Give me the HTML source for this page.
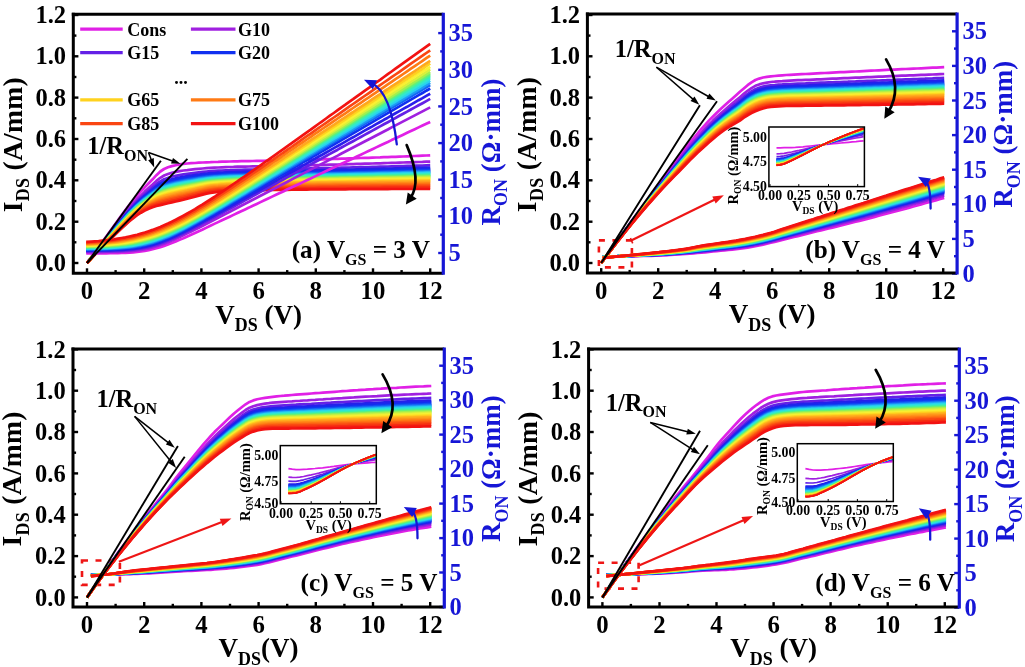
<!DOCTYPE html>
<html lang="en"><head><meta charset="utf-8"><title>Figure</title>
<style>html,body{margin:0;padding:0;background:#fff}svg{display:block;filter:blur(0.45px)}</style></head>
<body>
<svg width="1025" height="667" viewBox="0 0 1025 667">
<rect width="1025" height="667" fill="#fff"/>
<polyline fill="none" stroke="#e020e6" stroke-width="2.7" stroke-linejoin="round" points="87,263 90.9,257.7 94.7,252.4 98.6,247.2 102.4,241.9 106.3,236.6 110.1,231.3 114,225.9 117.8,220.5 121.7,215 125.6,209.8 129.4,204.8 133.3,200.2 137.1,195.7 141,191.4 144.8,187.3 148.7,183.3 152.6,179.3 156.4,175.2 160.3,171.5 164.1,169 168,167.3 171.8,166.1 175.7,165.2 179.5,164.4 183.4,163.9 187.3,163.5 191.1,163.2 195,163 198.8,162.7 202.7,162.5 206.5,162.3 210.4,162.2 214.3,162 218.1,161.9 222,161.7 225.8,161.6 229.7,161.5 233.5,161.4 237.4,161.3 241.2,161.2 245.1,161.1 249,161.1 252.8,161 256.7,160.9 260.5,160.9 264.4,160.8 268.2,160.7 272.1,160.6 276,160.5 279.8,160.5 283.7,160.4 287.5,160.3 291.4,160.2 295.2,160.1 299.1,160 302.9,159.8 306.8,159.7 310.7,159.6 314.5,159.5 318.4,159.4 322.2,159.3 326.1,159.2 329.9,159.1 333.8,158.9 337.7,158.8 341.5,158.7 345.4,158.6 349.2,158.4 353.1,158.3 356.9,158.2 360.8,158 364.6,157.9 368.5,157.8 372.4,157.6 376.2,157.5 380.1,157.4 383.9,157.2 387.8,157.1 391.6,156.9 395.5,156.8 399.4,156.6 403.2,156.5 407.1,156.3 410.9,156.1 414.8,156 418.6,155.8 422.5,155.6 426.3,155.5 430.2,155.3"/>
<polyline fill="none" stroke="#a020e0" stroke-width="2.7" stroke-linejoin="round" points="87,263 90.9,257.9 94.7,252.9 98.6,247.8 102.4,242.8 106.3,237.8 110.1,232.8 114,227.8 117.8,222.6 121.7,217.5 125.6,212.6 129.4,207.9 133.3,203.5 137.1,199.3 141,195.4 144.8,191.6 148.7,188 152.6,184.5 156.4,180.9 160.3,177.8 164.1,175.5 168,174 171.8,172.8 175.7,171.9 179.5,171.2 183.4,170.5 187.3,170.1 191.1,169.6 195,169.2 198.8,168.8 202.7,168.5 206.5,168.2 210.4,167.9 214.3,167.6 218.1,167.5 222,167.3 225.8,167.1 229.7,167 233.5,166.9 237.4,166.7 241.2,166.7 245.1,166.6 249,166.5 252.8,166.4 256.7,166.4 260.5,166.3 264.4,166.2 268.2,166.2 272.1,166.1 276,166 279.8,165.9 283.7,165.8 287.5,165.8 291.4,165.7 295.2,165.6 299.1,165.5 302.9,165.4 306.8,165.3 310.7,165.2 314.5,165.1 318.4,165 322.2,164.9 326.1,164.8 329.9,164.7 333.8,164.6 337.7,164.5 341.5,164.4 345.4,164.3 349.2,164.2 353.1,164.1 356.9,163.9 360.8,163.8 364.6,163.7 368.5,163.6 372.4,163.5 376.2,163.4 380.1,163.3 383.9,163.1 387.8,163 391.6,162.9 395.5,162.8 399.4,162.6 403.2,162.5 407.1,162.4 410.9,162.3 414.8,162.1 418.6,162 422.5,161.9 426.3,161.7 430.2,161.6"/>
<polyline fill="none" stroke="#6420e6" stroke-width="2.7" stroke-linejoin="round" points="87,263 90.9,258.1 94.7,253.1 98.6,248.2 102.4,243.4 106.3,238.5 110.1,233.7 114,228.8 117.8,223.9 121.7,219 125.6,214.2 129.4,209.7 133.3,205.4 137.1,201.4 141,197.7 144.8,194.2 148.7,190.8 152.6,187.5 156.4,184.2 160.3,181.4 164.1,179.3 168,177.9 171.8,176.7 175.7,175.8 179.5,175.1 183.4,174.4 187.3,173.9 191.1,173.4 195,172.9 198.8,172.4 202.7,171.9 206.5,171.5 210.4,171.2 214.3,170.9 218.1,170.7 222,170.5 225.8,170.3 229.7,170.2 233.5,170 237.4,169.9 241.2,169.8 245.1,169.7 249,169.7 252.8,169.6 256.7,169.5 260.5,169.5 264.4,169.4 268.2,169.3 272.1,169.3 276,169.2 279.8,169.1 283.7,169 287.5,168.9 291.4,168.9 295.2,168.8 299.1,168.7 302.9,168.6 306.8,168.5 310.7,168.4 314.5,168.3 318.4,168.2 322.2,168.2 326.1,168.1 329.9,168 333.8,167.9 337.7,167.8 341.5,167.7 345.4,167.6 349.2,167.5 353.1,167.4 356.9,167.3 360.8,167.2 364.6,167.1 368.5,167 372.4,166.9 376.2,166.8 380.1,166.7 383.9,166.6 387.8,166.5 391.6,166.4 395.5,166.3 399.4,166.1 403.2,166 407.1,165.9 410.9,165.8 414.8,165.7 418.6,165.6 422.5,165.5 426.3,165.3 430.2,165.2"/>
<polyline fill="none" stroke="#2a1eea" stroke-width="2.7" stroke-linejoin="round" points="87,263 90.9,258.1 94.7,253.3 98.6,248.5 102.4,243.7 106.3,239 110.1,234.3 114,229.5 117.8,224.7 121.7,219.8 125.6,215.2 129.4,210.8 133.3,206.6 137.1,202.7 141,199.1 144.8,195.7 148.7,192.5 152.6,189.4 156.4,186.3 160.3,183.6 164.1,181.7 168,180.3 171.8,179.2 175.7,178.3 179.5,177.5 183.4,176.8 187.3,176.2 191.1,175.7 195,175.1 198.8,174.6 202.7,174.1 206.5,173.6 210.4,173.2 214.3,173 218.1,172.7 222,172.5 225.8,172.3 229.7,172.1 233.5,172 237.4,171.9 241.2,171.8 245.1,171.7 249,171.6 252.8,171.6 256.7,171.5 260.5,171.4 264.4,171.4 268.2,171.3 272.1,171.2 276,171.2 279.8,171.1 283.7,171 287.5,170.9 291.4,170.8 295.2,170.8 299.1,170.7 302.9,170.6 306.8,170.5 310.7,170.4 314.5,170.3 318.4,170.3 322.2,170.2 326.1,170.1 329.9,170 333.8,169.9 337.7,169.8 341.5,169.7 345.4,169.6 349.2,169.6 353.1,169.5 356.9,169.4 360.8,169.3 364.6,169.2 368.5,169.1 372.4,169 376.2,168.9 380.1,168.8 383.9,168.7 387.8,168.6 391.6,168.5 395.5,168.4 399.4,168.3 403.2,168.2 407.1,168.1 410.9,168 414.8,167.9 418.6,167.8 422.5,167.7 426.3,167.6 430.2,167.5"/>
<polyline fill="none" stroke="#1d27ed" stroke-width="2.7" stroke-linejoin="round" points="87,263 90.9,258.2 94.7,253.4 98.6,248.6 102.4,243.9 106.3,239.2 110.1,234.5 114,229.8 117.8,225 121.7,220.3 125.6,215.7 129.4,211.3 133.3,207.2 137.1,203.4 141,199.8 144.8,196.5 148.7,193.3 152.6,190.3 156.4,187.3 160.3,184.8 164.1,182.9 168,181.5 171.8,180.4 175.7,179.5 179.5,178.7 183.4,178 187.3,177.4 191.1,176.8 195,176.3 198.8,175.7 202.7,175.2 206.5,174.7 210.4,174.3 214.3,174 218.1,173.7 222,173.5 225.8,173.3 229.7,173.1 233.5,173 237.4,172.8 241.2,172.8 245.1,172.7 249,172.6 252.8,172.5 256.7,172.5 260.5,172.4 264.4,172.4 268.2,172.3 272.1,172.2 276,172.1 279.8,172.1 283.7,172 287.5,171.9 291.4,171.8 295.2,171.8 299.1,171.7 302.9,171.6 306.8,171.5 310.7,171.4 314.5,171.3 318.4,171.3 322.2,171.2 326.1,171.1 329.9,171 333.8,170.9 337.7,170.8 341.5,170.8 345.4,170.7 349.2,170.6 353.1,170.5 356.9,170.4 360.8,170.3 364.6,170.2 368.5,170.1 372.4,170.1 376.2,170 380.1,169.9 383.9,169.8 387.8,169.7 391.6,169.6 395.5,169.5 399.4,169.4 403.2,169.3 407.1,169.2 410.9,169.1 414.8,169 418.6,168.9 422.5,168.8 426.3,168.7 430.2,168.6"/>
<polyline fill="none" stroke="#1030f0" stroke-width="2.7" stroke-linejoin="round" points="87,263 90.9,258.2 94.7,253.4 98.6,248.7 102.4,244 106.3,239.4 110.1,234.8 114,230.2 117.8,225.4 121.7,220.7 125.6,216.2 129.4,211.9 133.3,207.8 137.1,204.1 141,200.5 144.8,197.3 148.7,194.2 152.6,191.2 156.4,188.4 160.3,185.9 164.1,184.1 168,182.7 171.8,181.6 175.7,180.7 179.5,179.9 183.4,179.2 187.3,178.6 191.1,178 195,177.4 198.8,176.8 202.7,176.2 206.5,175.7 210.4,175.3 214.3,175 218.1,174.7 222,174.5 225.8,174.3 229.7,174.1 233.5,173.9 237.4,173.8 241.2,173.7 245.1,173.7 249,173.6 252.8,173.5 256.7,173.5 260.5,173.4 264.4,173.3 268.2,173.3 272.1,173.2 276,173.1 279.8,173.1 283.7,173 287.5,172.9 291.4,172.8 295.2,172.7 299.1,172.7 302.9,172.6 306.8,172.5 310.7,172.4 314.5,172.4 318.4,172.3 322.2,172.2 326.1,172.1 329.9,172 333.8,171.9 337.7,171.9 341.5,171.8 345.4,171.7 349.2,171.6 353.1,171.5 356.9,171.5 360.8,171.4 364.6,171.3 368.5,171.2 372.4,171.1 376.2,171 380.1,170.9 383.9,170.8 387.8,170.8 391.6,170.7 395.5,170.6 399.4,170.5 403.2,170.4 407.1,170.3 410.9,170.2 414.8,170.1 418.6,170 422.5,169.9 426.3,169.8 430.2,169.7"/>
<polyline fill="none" stroke="#124af2" stroke-width="2.7" stroke-linejoin="round" points="87,263 90.9,258.2 94.7,253.5 98.6,248.8 102.4,244.1 106.3,239.5 110.1,235 114,230.4 117.8,225.7 121.7,221 125.6,216.5 129.4,212.2 133.3,208.2 137.1,204.5 141,201 144.8,197.8 148.7,194.7 152.6,191.8 156.4,189 160.3,186.6 164.1,184.8 168,183.5 171.8,182.4 175.7,181.5 179.5,180.7 183.4,180 187.3,179.4 191.1,178.7 195,178.1 198.8,177.5 202.7,176.9 206.5,176.4 210.4,176 214.3,175.6 218.1,175.4 222,175.1 225.8,174.9 229.7,174.7 233.5,174.6 237.4,174.5 241.2,174.4 245.1,174.3 249,174.2 252.8,174.2 256.7,174.1 260.5,174 264.4,174 268.2,173.9 272.1,173.8 276,173.8 279.8,173.7 283.7,173.6 287.5,173.5 291.4,173.5 295.2,173.4 299.1,173.3 302.9,173.2 306.8,173.2 310.7,173.1 314.5,173 318.4,172.9 322.2,172.8 326.1,172.8 329.9,172.7 333.8,172.6 337.7,172.5 341.5,172.4 345.4,172.4 349.2,172.3 353.1,172.2 356.9,172.1 360.8,172 364.6,172 368.5,171.9 372.4,171.8 376.2,171.7 380.1,171.6 383.9,171.5 387.8,171.4 391.6,171.4 395.5,171.3 399.4,171.2 403.2,171.1 407.1,171 410.9,170.9 414.8,170.8 418.6,170.7 422.5,170.6 426.3,170.5 430.2,170.5"/>
<polyline fill="none" stroke="#1464f5" stroke-width="2.7" stroke-linejoin="round" points="87,263 90.9,258.3 94.7,253.6 98.6,248.9 102.4,244.3 106.3,239.7 110.1,235.2 114,230.6 117.8,225.9 121.7,221.3 125.6,216.8 129.4,212.6 133.3,208.6 137.1,204.9 141,201.5 144.8,198.3 148.7,195.3 152.6,192.4 156.4,189.7 160.3,187.3 164.1,185.6 168,184.3 171.8,183.2 175.7,182.3 179.5,181.5 183.4,180.7 187.3,180.1 191.1,179.5 195,178.8 198.8,178.2 202.7,177.6 206.5,177.1 210.4,176.6 214.3,176.3 218.1,176 222,175.8 225.8,175.6 229.7,175.4 233.5,175.2 237.4,175.1 241.2,175 245.1,174.9 249,174.9 252.8,174.8 256.7,174.7 260.5,174.7 264.4,174.6 268.2,174.5 272.1,174.5 276,174.4 279.8,174.3 283.7,174.2 287.5,174.2 291.4,174.1 295.2,174 299.1,173.9 302.9,173.9 306.8,173.8 310.7,173.7 314.5,173.6 318.4,173.6 322.2,173.5 326.1,173.4 329.9,173.3 333.8,173.3 337.7,173.2 341.5,173.1 345.4,173 349.2,172.9 353.1,172.9 356.9,172.8 360.8,172.7 364.6,172.6 368.5,172.5 372.4,172.5 376.2,172.4 380.1,172.3 383.9,172.2 387.8,172.1 391.6,172 395.5,172 399.4,171.9 403.2,171.8 407.1,171.7 410.9,171.6 414.8,171.5 418.6,171.4 422.5,171.4 426.3,171.3 430.2,171.2"/>
<polyline fill="none" stroke="#197ff5" stroke-width="2.7" stroke-linejoin="round" points="87,263 90.9,258.3 94.7,253.6 98.6,248.9 102.4,244.3 106.3,239.8 110.1,235.3 114,230.7 117.8,226.1 121.7,221.5 125.6,217 129.4,212.8 133.3,208.9 137.1,205.2 141,201.8 144.8,198.6 148.7,195.6 152.6,192.8 156.4,190.1 160.3,187.8 164.1,186.1 168,184.8 171.8,183.7 175.7,182.8 179.5,182 183.4,181.3 187.3,180.6 191.1,180 195,179.3 198.8,178.7 202.7,178.1 206.5,177.5 210.4,177.1 214.3,176.7 218.1,176.5 222,176.2 225.8,176 229.7,175.8 233.5,175.6 237.4,175.5 241.2,175.4 245.1,175.4 249,175.3 252.8,175.2 256.7,175.1 260.5,175.1 264.4,175 268.2,175 272.1,174.9 276,174.8 279.8,174.7 283.7,174.7 287.5,174.6 291.4,174.5 295.2,174.4 299.1,174.4 302.9,174.3 306.8,174.2 310.7,174.1 314.5,174.1 318.4,174 322.2,173.9 326.1,173.8 329.9,173.8 333.8,173.7 337.7,173.6 341.5,173.5 345.4,173.5 349.2,173.4 353.1,173.3 356.9,173.2 360.8,173.2 364.6,173.1 368.5,173 372.4,172.9 376.2,172.8 380.1,172.8 383.9,172.7 387.8,172.6 391.6,172.5 395.5,172.4 399.4,172.3 403.2,172.3 407.1,172.2 410.9,172.1 414.8,172 418.6,171.9 422.5,171.8 426.3,171.8 430.2,171.7"/>
<polyline fill="none" stroke="#1e9af5" stroke-width="2.7" stroke-linejoin="round" points="87,263 90.9,258.3 94.7,253.6 98.6,249 102.4,244.4 106.3,239.9 110.1,235.4 114,230.9 117.8,226.3 121.7,221.7 125.6,217.3 129.4,213 133.3,209.1 137.1,205.5 141,202.1 144.8,198.9 148.7,196 152.6,193.2 156.4,190.6 160.3,188.3 164.1,186.6 168,185.3 171.8,184.2 175.7,183.3 179.5,182.5 183.4,181.8 187.3,181.1 191.1,180.5 195,179.8 198.8,179.2 202.7,178.5 206.5,178 210.4,177.5 214.3,177.2 218.1,176.9 222,176.6 225.8,176.4 229.7,176.2 233.5,176.1 237.4,175.9 241.2,175.8 245.1,175.8 249,175.7 252.8,175.6 256.7,175.6 260.5,175.5 264.4,175.4 268.2,175.4 272.1,175.3 276,175.2 279.8,175.2 283.7,175.1 287.5,175 291.4,175 295.2,174.9 299.1,174.8 302.9,174.7 306.8,174.7 310.7,174.6 314.5,174.5 318.4,174.4 322.2,174.4 326.1,174.3 329.9,174.2 333.8,174.1 337.7,174.1 341.5,174 345.4,173.9 349.2,173.8 353.1,173.8 356.9,173.7 360.8,173.6 364.6,173.5 368.5,173.5 372.4,173.4 376.2,173.3 380.1,173.2 383.9,173.1 387.8,173.1 391.6,173 395.5,172.9 399.4,172.8 403.2,172.7 407.1,172.7 410.9,172.6 414.8,172.5 418.6,172.4 422.5,172.3 426.3,172.2 430.2,172.2"/>
<polyline fill="none" stroke="#23b6f2" stroke-width="2.7" stroke-linejoin="round" points="87,263 90.9,258.3 94.7,253.7 98.6,249 102.4,244.5 106.3,240 110.1,235.5 114,231 117.8,226.4 121.7,221.9 125.6,217.5 129.4,213.3 133.3,209.4 137.1,205.7 141,202.4 144.8,199.3 148.7,196.4 152.6,193.6 156.4,191 160.3,188.8 164.1,187.1 168,185.8 171.8,184.8 175.7,183.8 179.5,183 183.4,182.3 187.3,181.6 191.1,181 195,180.3 198.8,179.6 202.7,179 206.5,178.4 210.4,178 214.3,177.6 218.1,177.3 222,177.1 225.8,176.9 229.7,176.7 233.5,176.5 237.4,176.4 241.2,176.3 245.1,176.2 249,176.1 252.8,176.1 256.7,176 260.5,175.9 264.4,175.9 268.2,175.8 272.1,175.7 276,175.7 279.8,175.6 283.7,175.5 287.5,175.5 291.4,175.4 295.2,175.3 299.1,175.2 302.9,175.2 306.8,175.1 310.7,175 314.5,174.9 318.4,174.9 322.2,174.8 326.1,174.7 329.9,174.7 333.8,174.6 337.7,174.5 341.5,174.4 345.4,174.4 349.2,174.3 353.1,174.2 356.9,174.1 360.8,174.1 364.6,174 368.5,173.9 372.4,173.8 376.2,173.8 380.1,173.7 383.9,173.6 387.8,173.5 391.6,173.4 395.5,173.4 399.4,173.3 403.2,173.2 407.1,173.1 410.9,173.1 414.8,173 418.6,172.9 422.5,172.8 426.3,172.7 430.2,172.6"/>
<polyline fill="none" stroke="#28d2f0" stroke-width="2.7" stroke-linejoin="round" points="87,263 90.9,258.3 94.7,253.7 98.6,249.1 102.4,244.6 106.3,240.1 110.1,235.6 114,231.2 117.8,226.6 121.7,222.1 125.6,217.7 129.4,213.5 133.3,209.6 137.1,206 141,202.7 144.8,199.6 148.7,196.8 152.6,194 156.4,191.5 160.3,189.3 164.1,187.6 168,186.4 171.8,185.3 175.7,184.4 179.5,183.5 183.4,182.8 187.3,182.2 191.1,181.5 195,180.8 198.8,180.1 202.7,179.5 206.5,178.9 210.4,178.4 214.3,178 218.1,177.8 222,177.5 225.8,177.3 229.7,177.1 233.5,176.9 237.4,176.8 241.2,176.7 245.1,176.6 249,176.6 252.8,176.5 256.7,176.4 260.5,176.4 264.4,176.3 268.2,176.2 272.1,176.2 276,176.1 279.8,176 283.7,176 287.5,175.9 291.4,175.8 295.2,175.7 299.1,175.7 302.9,175.6 306.8,175.5 310.7,175.5 314.5,175.4 318.4,175.3 322.2,175.2 326.1,175.2 329.9,175.1 333.8,175 337.7,174.9 341.5,174.9 345.4,174.8 349.2,174.7 353.1,174.7 356.9,174.6 360.8,174.5 364.6,174.4 368.5,174.4 372.4,174.3 376.2,174.2 380.1,174.1 383.9,174.1 387.8,174 391.6,173.9 395.5,173.8 399.4,173.8 403.2,173.7 407.1,173.6 410.9,173.5 414.8,173.5 418.6,173.4 422.5,173.3 426.3,173.2 430.2,173.1"/>
<polyline fill="none" stroke="#2ddce1" stroke-width="2.7" stroke-linejoin="round" points="87,263 90.9,258.3 94.7,253.7 98.6,249.2 102.4,244.6 106.3,240.2 110.1,235.8 114,231.3 117.8,226.8 121.7,222.3 125.6,217.9 129.4,213.8 133.3,209.9 137.1,206.3 141,203 144.8,200 148.7,197.1 152.6,194.5 156.4,191.9 160.3,189.8 164.1,188.2 168,186.9 171.8,185.8 175.7,184.9 179.5,184.1 183.4,183.4 187.3,182.7 191.1,182 195,181.3 198.8,180.6 202.7,180 206.5,179.4 210.4,178.9 214.3,178.5 218.1,178.2 222,178 225.8,177.7 229.7,177.5 233.5,177.4 237.4,177.2 241.2,177.2 245.1,177.1 249,177 252.8,176.9 256.7,176.9 260.5,176.8 264.4,176.8 268.2,176.7 272.1,176.6 276,176.6 279.8,176.5 283.7,176.4 287.5,176.3 291.4,176.3 295.2,176.2 299.1,176.1 302.9,176.1 306.8,176 310.7,175.9 314.5,175.8 318.4,175.8 322.2,175.7 326.1,175.6 329.9,175.6 333.8,175.5 337.7,175.4 341.5,175.3 345.4,175.3 349.2,175.2 353.1,175.1 356.9,175.1 360.8,175 364.6,174.9 368.5,174.8 372.4,174.8 376.2,174.7 380.1,174.6 383.9,174.6 387.8,174.5 391.6,174.4 395.5,174.3 399.4,174.3 403.2,174.2 407.1,174.1 410.9,174 414.8,174 418.6,173.9 422.5,173.8 426.3,173.7 430.2,173.7"/>
<polyline fill="none" stroke="#32e6d2" stroke-width="2.7" stroke-linejoin="round" points="87,263 90.9,258.4 94.7,253.8 98.6,249.2 102.4,244.7 106.3,240.3 110.1,235.9 114,231.5 117.8,227 121.7,222.5 125.6,218.2 129.4,214 133.3,210.2 137.1,206.6 141,203.4 144.8,200.3 148.7,197.5 152.6,194.9 156.4,192.4 160.3,190.3 164.1,188.7 168,187.5 171.8,186.4 175.7,185.5 179.5,184.7 183.4,183.9 187.3,183.2 191.1,182.6 195,181.8 198.8,181.1 202.7,180.5 206.5,179.9 210.4,179.4 214.3,179 218.1,178.7 222,178.4 225.8,178.2 229.7,178 233.5,177.8 237.4,177.7 241.2,177.6 245.1,177.5 249,177.5 252.8,177.4 256.7,177.3 260.5,177.3 264.4,177.2 268.2,177.1 272.1,177.1 276,177 279.8,176.9 283.7,176.9 287.5,176.8 291.4,176.7 295.2,176.7 299.1,176.6 302.9,176.5 306.8,176.4 310.7,176.4 314.5,176.3 318.4,176.2 322.2,176.2 326.1,176.1 329.9,176 333.8,176 337.7,175.9 341.5,175.8 345.4,175.8 349.2,175.7 353.1,175.6 356.9,175.5 360.8,175.5 364.6,175.4 368.5,175.3 372.4,175.3 376.2,175.2 380.1,175.1 383.9,175.1 387.8,175 391.6,174.9 395.5,174.8 399.4,174.8 403.2,174.7 407.1,174.6 410.9,174.5 414.8,174.5 418.6,174.4 422.5,174.3 426.3,174.3 430.2,174.2"/>
<polyline fill="none" stroke="#37ebbe" stroke-width="2.7" stroke-linejoin="round" points="87,263 90.9,258.4 94.7,253.8 98.6,249.3 102.4,244.8 106.3,240.4 110.1,236 114,231.6 117.8,227.1 121.7,222.7 125.6,218.4 129.4,214.3 133.3,210.4 137.1,206.9 141,203.7 144.8,200.7 148.7,197.9 152.6,195.3 156.4,192.9 160.3,190.8 164.1,189.2 168,188 171.8,186.9 175.7,186 179.5,185.2 183.4,184.4 187.3,183.7 191.1,183 195,182.3 198.8,181.6 202.7,180.9 206.5,180.3 210.4,179.8 214.3,179.4 218.1,179.1 222,178.9 225.8,178.6 229.7,178.4 233.5,178.2 237.4,178.1 241.2,178 245.1,177.9 249,177.9 252.8,177.8 256.7,177.7 260.5,177.7 264.4,177.6 268.2,177.6 272.1,177.5 276,177.4 279.8,177.3 283.7,177.3 287.5,177.2 291.4,177.1 295.2,177.1 299.1,177 302.9,176.9 306.8,176.9 310.7,176.8 314.5,176.7 318.4,176.7 322.2,176.6 326.1,176.5 329.9,176.5 333.8,176.4 337.7,176.3 341.5,176.3 345.4,176.2 349.2,176.1 353.1,176 356.9,176 360.8,175.9 364.6,175.8 368.5,175.8 372.4,175.7 376.2,175.6 380.1,175.6 383.9,175.5 387.8,175.4 391.6,175.4 395.5,175.3 399.4,175.2 403.2,175.1 407.1,175.1 410.9,175 414.8,174.9 418.6,174.9 422.5,174.8 426.3,174.7 430.2,174.6"/>
<polyline fill="none" stroke="#3cf0aa" stroke-width="2.7" stroke-linejoin="round" points="87,263 90.9,258.4 94.7,253.8 98.6,249.3 102.4,244.8 106.3,240.4 110.1,236.1 114,231.7 117.8,227.3 121.7,222.9 125.6,218.6 129.4,214.5 133.3,210.7 137.1,207.2 141,204 144.8,201 148.7,198.2 152.6,195.7 156.4,193.3 160.3,191.2 164.1,189.7 168,188.5 171.8,187.4 175.7,186.5 179.5,185.7 183.4,184.9 187.3,184.2 191.1,183.5 195,182.8 198.8,182.1 202.7,181.4 206.5,180.7 210.4,180.2 214.3,179.8 218.1,179.5 222,179.3 225.8,179 229.7,178.8 233.5,178.6 237.4,178.5 241.2,178.4 245.1,178.4 249,178.3 252.8,178.2 256.7,178.2 260.5,178.1 264.4,178 268.2,178 272.1,177.9 276,177.8 279.8,177.8 283.7,177.7 287.5,177.6 291.4,177.6 295.2,177.5 299.1,177.4 302.9,177.4 306.8,177.3 310.7,177.2 314.5,177.1 318.4,177.1 322.2,177 326.1,176.9 329.9,176.9 333.8,176.8 337.7,176.7 341.5,176.7 345.4,176.6 349.2,176.5 353.1,176.5 356.9,176.4 360.8,176.3 364.6,176.3 368.5,176.2 372.4,176.1 376.2,176.1 380.1,176 383.9,175.9 387.8,175.9 391.6,175.8 395.5,175.7 399.4,175.7 403.2,175.6 407.1,175.5 410.9,175.5 414.8,175.4 418.6,175.3 422.5,175.3 426.3,175.2 430.2,175.1"/>
<polyline fill="none" stroke="#50f091" stroke-width="2.7" stroke-linejoin="round" points="87,263 90.9,258.4 94.7,253.9 98.6,249.4 102.4,244.9 106.3,240.5 110.1,236.2 114,231.9 117.8,227.4 121.7,223 125.6,218.8 129.4,214.7 133.3,210.9 137.1,207.4 141,204.2 144.8,201.3 148.7,198.6 152.6,196 156.4,193.7 160.3,191.7 164.1,190.1 168,188.9 171.8,187.9 175.7,187 179.5,186.1 183.4,185.4 187.3,184.7 191.1,184 195,183.2 198.8,182.5 202.7,181.8 206.5,181.1 210.4,180.6 214.3,180.2 218.1,179.9 222,179.6 225.8,179.4 229.7,179.2 233.5,179 237.4,178.9 241.2,178.8 245.1,178.7 249,178.6 252.8,178.6 256.7,178.5 260.5,178.5 264.4,178.4 268.2,178.3 272.1,178.3 276,178.2 279.8,178.1 283.7,178.1 287.5,178 291.4,177.9 295.2,177.9 299.1,177.8 302.9,177.7 306.8,177.7 310.7,177.6 314.5,177.5 318.4,177.5 322.2,177.4 326.1,177.3 329.9,177.3 333.8,177.2 337.7,177.1 341.5,177.1 345.4,177 349.2,176.9 353.1,176.9 356.9,176.8 360.8,176.7 364.6,176.7 368.5,176.6 372.4,176.5 376.2,176.5 380.1,176.4 383.9,176.3 387.8,176.3 391.6,176.2 395.5,176.1 399.4,176.1 403.2,176 407.1,175.9 410.9,175.9 414.8,175.8 418.6,175.7 422.5,175.7 426.3,175.6 430.2,175.5"/>
<polyline fill="none" stroke="#64f078" stroke-width="2.7" stroke-linejoin="round" points="87,263 90.9,258.4 94.7,253.9 98.6,249.4 102.4,245 106.3,240.6 110.1,236.3 114,232 117.8,227.6 121.7,223.2 125.6,218.9 129.4,214.9 133.3,211.1 137.1,207.7 141,204.5 144.8,201.6 148.7,198.9 152.6,196.4 156.4,194.1 160.3,192.1 164.1,190.6 168,189.4 171.8,188.3 175.7,187.4 179.5,186.6 183.4,185.8 187.3,185.1 191.1,184.4 195,183.6 198.8,182.9 202.7,182.2 206.5,181.5 210.4,181 214.3,180.6 218.1,180.3 222,180 225.8,179.8 229.7,179.6 233.5,179.4 237.4,179.2 241.2,179.2 245.1,179.1 249,179 252.8,178.9 256.7,178.9 260.5,178.8 264.4,178.8 268.2,178.7 272.1,178.6 276,178.6 279.8,178.5 283.7,178.4 287.5,178.4 291.4,178.3 295.2,178.2 299.1,178.2 302.9,178.1 306.8,178 310.7,178 314.5,177.9 318.4,177.8 322.2,177.8 326.1,177.7 329.9,177.6 333.8,177.6 337.7,177.5 341.5,177.4 345.4,177.4 349.2,177.3 353.1,177.3 356.9,177.2 360.8,177.1 364.6,177.1 368.5,177 372.4,176.9 376.2,176.9 380.1,176.8 383.9,176.7 387.8,176.7 391.6,176.6 395.5,176.5 399.4,176.5 403.2,176.4 407.1,176.4 410.9,176.3 414.8,176.2 418.6,176.2 422.5,176.1 426.3,176 430.2,176"/>
<polyline fill="none" stroke="#82f064" stroke-width="2.7" stroke-linejoin="round" points="87,263 90.9,258.4 94.7,253.9 98.6,249.4 102.4,245 106.3,240.7 110.1,236.4 114,232.1 117.8,227.7 121.7,223.4 125.6,219.1 129.4,215.1 133.3,211.4 137.1,207.9 141,204.8 144.8,201.9 148.7,199.2 152.6,196.7 156.4,194.5 160.3,192.5 164.1,191 168,189.8 171.8,188.8 175.7,187.9 179.5,187.1 183.4,186.3 187.3,185.6 191.1,184.8 195,184.1 198.8,183.3 202.7,182.6 206.5,181.9 210.4,181.4 214.3,181 218.1,180.7 222,180.4 225.8,180.1 229.7,179.9 233.5,179.8 237.4,179.6 241.2,179.5 245.1,179.5 249,179.4 252.8,179.3 256.7,179.3 260.5,179.2 264.4,179.1 268.2,179.1 272.1,179 276,178.9 279.8,178.9 283.7,178.8 287.5,178.7 291.4,178.7 295.2,178.6 299.1,178.5 302.9,178.5 306.8,178.4 310.7,178.4 314.5,178.3 318.4,178.2 322.2,178.2 326.1,178.1 329.9,178 333.8,178 337.7,177.9 341.5,177.8 345.4,177.8 349.2,177.7 353.1,177.7 356.9,177.6 360.8,177.5 364.6,177.5 368.5,177.4 372.4,177.3 376.2,177.3 380.1,177.2 383.9,177.2 387.8,177.1 391.6,177 395.5,177 399.4,176.9 403.2,176.8 407.1,176.8 410.9,176.7 414.8,176.7 418.6,176.6 422.5,176.5 426.3,176.5 430.2,176.4"/>
<polyline fill="none" stroke="#a0f050" stroke-width="2.7" stroke-linejoin="round" points="87,263 90.9,258.4 94.7,253.9 98.6,249.5 102.4,245.1 106.3,240.8 110.1,236.5 114,232.2 117.8,227.9 121.7,223.5 125.6,219.3 129.4,215.3 133.3,211.6 137.1,208.2 141,205 144.8,202.2 148.7,199.5 152.6,197.1 156.4,194.9 160.3,193 164.1,191.5 168,190.3 171.8,189.3 175.7,188.4 179.5,187.5 183.4,186.7 187.3,186 191.1,185.3 195,184.5 198.8,183.7 202.7,183 206.5,182.3 210.4,181.8 214.3,181.4 218.1,181.1 222,180.8 225.8,180.5 229.7,180.3 233.5,180.1 237.4,180 241.2,179.9 245.1,179.8 249,179.8 252.8,179.7 256.7,179.6 260.5,179.6 264.4,179.5 268.2,179.5 272.1,179.4 276,179.3 279.8,179.3 283.7,179.2 287.5,179.1 291.4,179.1 295.2,179 299.1,178.9 302.9,178.9 306.8,178.8 310.7,178.7 314.5,178.7 318.4,178.6 322.2,178.6 326.1,178.5 329.9,178.4 333.8,178.4 337.7,178.3 341.5,178.2 345.4,178.2 349.2,178.1 353.1,178.1 356.9,178 360.8,177.9 364.6,177.9 368.5,177.8 372.4,177.8 376.2,177.7 380.1,177.6 383.9,177.6 387.8,177.5 391.6,177.4 395.5,177.4 399.4,177.3 403.2,177.3 407.1,177.2 410.9,177.1 414.8,177.1 418.6,177 422.5,177 426.3,176.9 430.2,176.8"/>
<polyline fill="none" stroke="#bcf046" stroke-width="2.7" stroke-linejoin="round" points="87,263 90.9,258.5 94.7,254 98.6,249.6 102.4,245.2 106.3,240.9 110.1,236.7 114,232.4 117.8,228.1 121.7,223.8 125.6,219.6 129.4,215.6 133.3,211.9 137.1,208.5 141,205.4 144.8,202.6 148.7,200 152.6,197.6 156.4,195.4 160.3,193.5 164.1,192.1 168,190.9 171.8,189.9 175.7,189 179.5,188.1 183.4,187.3 187.3,186.6 191.1,185.9 195,185.1 198.8,184.3 202.7,183.5 206.5,182.9 210.4,182.3 214.3,181.9 218.1,181.6 222,181.3 225.8,181 229.7,180.8 233.5,180.6 237.4,180.5 241.2,180.4 245.1,180.3 249,180.3 252.8,180.2 256.7,180.1 260.5,180.1 264.4,180 268.2,179.9 272.1,179.9 276,179.8 279.8,179.7 283.7,179.7 287.5,179.6 291.4,179.6 295.2,179.5 299.1,179.4 302.9,179.4 306.8,179.3 310.7,179.2 314.5,179.2 318.4,179.1 322.2,179 326.1,179 329.9,178.9 333.8,178.9 337.7,178.8 341.5,178.7 345.4,178.7 349.2,178.6 353.1,178.6 356.9,178.5 360.8,178.4 364.6,178.4 368.5,178.3 372.4,178.3 376.2,178.2 380.1,178.2 383.9,178.1 387.8,178 391.6,178 395.5,177.9 399.4,177.9 403.2,177.8 407.1,177.7 410.9,177.7 414.8,177.6 418.6,177.6 422.5,177.5 426.3,177.5 430.2,177.4"/>
<polyline fill="none" stroke="#d8f03c" stroke-width="2.7" stroke-linejoin="round" points="87,263 90.9,258.5 94.7,254 98.6,249.6 102.4,245.3 106.3,241 110.1,236.8 114,232.6 117.8,228.3 121.7,224 125.6,219.8 129.4,215.9 133.3,212.2 137.1,208.8 141,205.7 144.8,203 148.7,200.4 152.6,198 156.4,195.9 160.3,194.1 164.1,192.7 168,191.5 171.8,190.5 175.7,189.6 179.5,188.7 183.4,187.9 187.3,187.2 191.1,186.4 195,185.6 198.8,184.8 202.7,184.1 206.5,183.4 210.4,182.8 214.3,182.4 218.1,182.1 222,181.8 225.8,181.5 229.7,181.3 233.5,181.1 237.4,181 241.2,180.9 245.1,180.8 249,180.7 252.8,180.7 256.7,180.6 260.5,180.5 264.4,180.5 268.2,180.4 272.1,180.4 276,180.3 279.8,180.2 283.7,180.2 287.5,180.1 291.4,180 295.2,180 299.1,179.9 302.9,179.9 306.8,179.8 310.7,179.7 314.5,179.7 318.4,179.6 322.2,179.5 326.1,179.5 329.9,179.4 333.8,179.4 337.7,179.3 341.5,179.2 345.4,179.2 349.2,179.1 353.1,179.1 356.9,179 360.8,179 364.6,178.9 368.5,178.8 372.4,178.8 376.2,178.7 380.1,178.7 383.9,178.6 387.8,178.6 391.6,178.5 395.5,178.5 399.4,178.4 403.2,178.3 407.1,178.3 410.9,178.2 414.8,178.2 418.6,178.1 422.5,178.1 426.3,178 430.2,178"/>
<polyline fill="none" stroke="#e9f037" stroke-width="2.7" stroke-linejoin="round" points="87,263 90.9,258.5 94.7,254.1 98.6,249.7 102.4,245.4 106.3,241.1 110.1,236.9 114,232.7 117.8,228.5 121.7,224.2 125.6,220.1 129.4,216.2 133.3,212.5 137.1,209.1 141,206.1 144.8,203.3 148.7,200.8 152.6,198.5 156.4,196.4 160.3,194.6 164.1,193.2 168,192.1 171.8,191.1 175.7,190.2 179.5,189.3 183.4,188.5 187.3,187.8 191.1,187 195,186.2 198.8,185.4 202.7,184.6 206.5,183.9 210.4,183.3 214.3,182.9 218.1,182.6 222,182.3 225.8,182 229.7,181.8 233.5,181.6 237.4,181.5 241.2,181.4 245.1,181.3 249,181.2 252.8,181.2 256.7,181.1 260.5,181 264.4,181 268.2,180.9 272.1,180.9 276,180.8 279.8,180.7 283.7,180.7 287.5,180.6 291.4,180.5 295.2,180.5 299.1,180.4 302.9,180.4 306.8,180.3 310.7,180.2 314.5,180.2 318.4,180.1 322.2,180.1 326.1,180 329.9,179.9 333.8,179.9 337.7,179.8 341.5,179.8 345.4,179.7 349.2,179.7 353.1,179.6 356.9,179.5 360.8,179.5 364.6,179.4 368.5,179.4 372.4,179.3 376.2,179.3 380.1,179.2 383.9,179.2 387.8,179.1 391.6,179.1 395.5,179 399.4,178.9 403.2,178.9 407.1,178.8 410.9,178.8 414.8,178.7 418.6,178.7 422.5,178.6 426.3,178.6 430.2,178.5"/>
<polyline fill="none" stroke="#faf032" stroke-width="2.7" stroke-linejoin="round" points="87,263 90.9,258.5 94.7,254.1 98.6,249.7 102.4,245.4 106.3,241.2 110.1,237.1 114,232.9 117.8,228.7 121.7,224.4 125.6,220.3 129.4,216.4 133.3,212.8 137.1,209.5 141,206.5 144.8,203.7 148.7,201.2 152.6,199 156.4,196.9 160.3,195.2 164.1,193.8 168,192.7 171.8,191.7 175.7,190.8 179.5,189.9 183.4,189.1 187.3,188.4 191.1,187.6 195,186.8 198.8,185.9 202.7,185.1 206.5,184.4 210.4,183.8 214.3,183.4 218.1,183.1 222,182.8 225.8,182.5 229.7,182.3 233.5,182.1 237.4,182 241.2,181.9 245.1,181.8 249,181.7 252.8,181.7 256.7,181.6 260.5,181.5 264.4,181.5 268.2,181.4 272.1,181.4 276,181.3 279.8,181.2 283.7,181.2 287.5,181.1 291.4,181 295.2,181 299.1,180.9 302.9,180.9 306.8,180.8 310.7,180.7 314.5,180.7 318.4,180.6 322.2,180.6 326.1,180.5 329.9,180.5 333.8,180.4 337.7,180.3 341.5,180.3 345.4,180.2 349.2,180.2 353.1,180.1 356.9,180.1 360.8,180 364.6,180 368.5,179.9 372.4,179.9 376.2,179.8 380.1,179.8 383.9,179.7 387.8,179.7 391.6,179.6 395.5,179.5 399.4,179.5 403.2,179.4 407.1,179.4 410.9,179.3 414.8,179.3 418.6,179.2 422.5,179.2 426.3,179.1 430.2,179.1"/>
<polyline fill="none" stroke="#fce128" stroke-width="2.7" stroke-linejoin="round" points="87,263 90.9,258.5 94.7,254.2 98.6,249.8 102.4,245.5 106.3,241.3 110.1,237.2 114,233.1 117.8,228.9 121.7,224.7 125.6,220.6 129.4,216.8 133.3,213.2 137.1,209.9 141,206.9 144.8,204.2 148.7,201.7 152.6,199.5 156.4,197.5 160.3,195.9 164.1,194.5 168,193.4 171.8,192.4 175.7,191.5 179.5,190.6 183.4,189.8 187.3,189.1 191.1,188.3 195,187.4 198.8,186.6 202.7,185.8 206.5,185 210.4,184.4 214.3,184 218.1,183.7 222,183.4 225.8,183.1 229.7,182.9 233.5,182.7 237.4,182.5 241.2,182.4 245.1,182.4 249,182.3 252.8,182.2 256.7,182.2 260.5,182.1 264.4,182.1 268.2,182 272.1,181.9 276,181.9 279.8,181.8 283.7,181.7 287.5,181.7 291.4,181.6 295.2,181.6 299.1,181.5 302.9,181.4 306.8,181.4 310.7,181.3 314.5,181.3 318.4,181.2 322.2,181.2 326.1,181.1 329.9,181 333.8,181 337.7,180.9 341.5,180.9 345.4,180.8 349.2,180.8 353.1,180.7 356.9,180.7 360.8,180.6 364.6,180.6 368.5,180.5 372.4,180.5 376.2,180.4 380.1,180.4 383.9,180.3 387.8,180.3 391.6,180.2 395.5,180.2 399.4,180.1 403.2,180.1 407.1,180 410.9,180 414.8,179.9 418.6,179.9 422.5,179.8 426.3,179.8 430.2,179.8"/>
<polyline fill="none" stroke="#ffd21e" stroke-width="2.7" stroke-linejoin="round" points="87,263 90.9,258.6 94.7,254.2 98.6,249.9 102.4,245.6 106.3,241.5 110.1,237.4 114,233.3 117.8,229.1 121.7,225 125.6,220.9 129.4,217.1 133.3,213.5 137.1,210.2 141,207.3 144.8,204.7 148.7,202.2 152.6,200.1 156.4,198.1 160.3,196.5 164.1,195.2 168,194.1 171.8,193.1 175.7,192.2 179.5,191.4 183.4,190.5 187.3,189.8 191.1,188.9 195,188.1 198.8,187.2 202.7,186.4 206.5,185.7 210.4,185 214.3,184.6 218.1,184.3 222,183.9 225.8,183.7 229.7,183.4 233.5,183.2 237.4,183.1 241.2,183 245.1,182.9 249,182.9 252.8,182.8 256.7,182.8 260.5,182.7 264.4,182.6 268.2,182.6 272.1,182.5 276,182.4 279.8,182.4 283.7,182.3 287.5,182.3 291.4,182.2 295.2,182.1 299.1,182.1 302.9,182 306.8,182 310.7,181.9 314.5,181.9 318.4,181.8 322.2,181.7 326.1,181.7 329.9,181.6 333.8,181.6 337.7,181.5 341.5,181.5 345.4,181.4 349.2,181.4 353.1,181.3 356.9,181.3 360.8,181.2 364.6,181.2 368.5,181.1 372.4,181.1 376.2,181 380.1,181 383.9,180.9 387.8,180.9 391.6,180.9 395.5,180.8 399.4,180.8 403.2,180.7 407.1,180.7 410.9,180.6 414.8,180.6 418.6,180.5 422.5,180.5 426.3,180.5 430.2,180.4"/>
<polyline fill="none" stroke="#ffbd1e" stroke-width="2.7" stroke-linejoin="round" points="87,263 90.9,258.6 94.7,254.2 98.6,250 102.4,245.7 106.3,241.6 110.1,237.5 114,233.5 117.8,229.3 121.7,225.2 125.6,221.2 129.4,217.4 133.3,213.8 137.1,210.6 141,207.7 144.8,205.1 148.7,202.7 152.6,200.6 156.4,198.7 160.3,197.1 164.1,195.9 168,194.8 171.8,193.8 175.7,192.9 179.5,192 183.4,191.2 187.3,190.4 191.1,189.6 195,188.7 198.8,187.8 202.7,187 206.5,186.2 210.4,185.6 214.3,185.1 218.1,184.8 222,184.5 225.8,184.2 229.7,184 233.5,183.8 237.4,183.6 241.2,183.6 245.1,183.5 249,183.4 252.8,183.4 256.7,183.3 260.5,183.2 264.4,183.2 268.2,183.1 272.1,183 276,183 279.8,182.9 283.7,182.9 287.5,182.8 291.4,182.7 295.2,182.7 299.1,182.6 302.9,182.6 306.8,182.5 310.7,182.5 314.5,182.4 318.4,182.4 322.2,182.3 326.1,182.3 329.9,182.2 333.8,182.1 337.7,182.1 341.5,182 345.4,182 349.2,181.9 353.1,181.9 356.9,181.9 360.8,181.8 364.6,181.8 368.5,181.7 372.4,181.7 376.2,181.6 380.1,181.6 383.9,181.5 387.8,181.5 391.6,181.4 395.5,181.4 399.4,181.4 403.2,181.3 407.1,181.3 410.9,181.2 414.8,181.2 418.6,181.2 422.5,181.1 426.3,181.1 430.2,181"/>
<polyline fill="none" stroke="#ffa81e" stroke-width="2.7" stroke-linejoin="round" points="87,263 90.9,258.6 94.7,254.3 98.6,250 102.4,245.8 106.3,241.7 110.1,237.7 114,233.6 117.8,229.5 121.7,225.4 125.6,221.5 129.4,217.7 133.3,214.2 137.1,211 141,208.1 144.8,205.5 148.7,203.2 152.6,201.1 156.4,199.3 160.3,197.8 164.1,196.5 168,195.4 171.8,194.5 175.7,193.6 179.5,192.7 183.4,191.9 187.3,191.1 191.1,190.2 195,189.3 198.8,188.4 202.7,187.6 206.5,186.8 210.4,186.2 214.3,185.7 218.1,185.4 222,185 225.8,184.8 229.7,184.5 233.5,184.3 237.4,184.2 241.2,184.1 245.1,184 249,184 252.8,183.9 256.7,183.8 260.5,183.8 264.4,183.7 268.2,183.7 272.1,183.6 276,183.5 279.8,183.5 283.7,183.4 287.5,183.4 291.4,183.3 295.2,183.2 299.1,183.2 302.9,183.1 306.8,183.1 310.7,183 314.5,183 318.4,182.9 322.2,182.9 326.1,182.8 329.9,182.8 333.8,182.7 337.7,182.7 341.5,182.6 345.4,182.6 349.2,182.5 353.1,182.5 356.9,182.4 360.8,182.4 364.6,182.3 368.5,182.3 372.4,182.3 376.2,182.2 380.1,182.2 383.9,182.1 387.8,182.1 391.6,182 395.5,182 399.4,182 403.2,181.9 407.1,181.9 410.9,181.8 414.8,181.8 418.6,181.8 422.5,181.7 426.3,181.7 430.2,181.7"/>
<polyline fill="none" stroke="#ff9119" stroke-width="2.7" stroke-linejoin="round" points="87,263 90.9,258.7 94.7,254.4 98.6,250.1 102.4,246 106.3,241.9 110.1,238 114,234 117.8,229.9 121.7,225.9 125.6,222 129.4,218.2 133.3,214.8 137.1,211.6 141,208.8 144.8,206.3 148.7,204 152.6,202 156.4,200.3 160.3,198.9 164.1,197.7 168,196.7 171.8,195.7 175.7,194.8 179.5,193.9 183.4,193.1 187.3,192.2 191.1,191.4 195,190.5 198.8,189.5 202.7,188.7 206.5,187.9 210.4,187.2 214.3,186.7 218.1,186.4 222,186 225.8,185.8 229.7,185.5 233.5,185.3 237.4,185.2 241.2,185.1 245.1,185 249,184.9 252.8,184.9 256.7,184.8 260.5,184.8 264.4,184.7 268.2,184.6 272.1,184.6 276,184.5 279.8,184.5 283.7,184.4 287.5,184.3 291.4,184.3 295.2,184.2 299.1,184.2 302.9,184.1 306.8,184.1 310.7,184 314.5,184 318.4,183.9 322.2,183.9 326.1,183.8 329.9,183.8 333.8,183.7 337.7,183.7 341.5,183.6 345.4,183.6 349.2,183.6 353.1,183.5 356.9,183.5 360.8,183.4 364.6,183.4 368.5,183.3 372.4,183.3 376.2,183.3 380.1,183.2 383.9,183.2 387.8,183.2 391.6,183.1 395.5,183.1 399.4,183 403.2,183 407.1,183 410.9,182.9 414.8,182.9 418.6,182.9 422.5,182.8 426.3,182.8 430.2,182.8"/>
<polyline fill="none" stroke="#ff7a14" stroke-width="2.7" stroke-linejoin="round" points="87,263 90.9,258.7 94.7,254.4 98.6,250.3 102.4,246.2 106.3,242.2 110.1,238.2 114,234.3 117.8,230.3 121.7,226.3 125.6,222.5 129.4,218.8 133.3,215.4 137.1,212.3 141,209.5 144.8,207.1 148.7,204.9 152.6,202.9 156.4,201.3 160.3,200 164.1,198.9 168,197.9 171.8,196.9 175.7,196 179.5,195.1 183.4,194.3 187.3,193.4 191.1,192.5 195,191.6 198.8,190.6 202.7,189.7 206.5,188.9 210.4,188.2 214.3,187.7 218.1,187.4 222,187 225.8,186.7 229.7,186.5 233.5,186.3 237.4,186.1 241.2,186.1 245.1,186 249,185.9 252.8,185.9 256.7,185.8 260.5,185.7 264.4,185.7 268.2,185.6 272.1,185.6 276,185.5 279.8,185.4 283.7,185.4 287.5,185.3 291.4,185.3 295.2,185.2 299.1,185.2 302.9,185.1 306.8,185.1 310.7,185 314.5,185 318.4,184.9 322.2,184.9 326.1,184.8 329.9,184.8 333.8,184.7 337.7,184.7 341.5,184.7 345.4,184.6 349.2,184.6 353.1,184.5 356.9,184.5 360.8,184.5 364.6,184.4 368.5,184.4 372.4,184.4 376.2,184.3 380.1,184.3 383.9,184.3 387.8,184.2 391.6,184.2 395.5,184.2 399.4,184.1 403.2,184.1 407.1,184.1 410.9,184 414.8,184 418.6,184 422.5,184 426.3,183.9 430.2,183.9"/>
<polyline fill="none" stroke="#fc6013" stroke-width="2.7" stroke-linejoin="round" points="87,263 90.9,258.7 94.7,254.5 98.6,250.4 102.4,246.3 106.3,242.4 110.1,238.5 114,234.6 117.8,230.7 121.7,226.8 125.6,223 129.4,219.4 133.3,216 137.1,212.9 141,210.2 144.8,207.9 148.7,205.7 152.6,203.9 156.4,202.4 160.3,201.1 164.1,200.1 168,199.1 171.8,198.1 175.7,197.2 179.5,196.3 183.4,195.5 187.3,194.6 191.1,193.7 195,192.7 198.8,191.8 202.7,190.8 206.5,190 210.4,189.3 214.3,188.8 218.1,188.4 222,188.1 225.8,187.8 229.7,187.5 233.5,187.3 237.4,187.1 241.2,187.1 245.1,187 249,186.9 252.8,186.9 256.7,186.8 260.5,186.7 264.4,186.7 268.2,186.6 272.1,186.6 276,186.5 279.8,186.4 283.7,186.4 287.5,186.3 291.4,186.3 295.2,186.2 299.1,186.2 302.9,186.1 306.8,186.1 310.7,186 314.5,186 318.4,185.9 322.2,185.9 326.1,185.9 329.9,185.8 333.8,185.8 337.7,185.7 341.5,185.7 345.4,185.7 349.2,185.6 353.1,185.6 356.9,185.6 360.8,185.5 364.6,185.5 368.5,185.5 372.4,185.4 376.2,185.4 380.1,185.4 383.9,185.3 387.8,185.3 391.6,185.3 395.5,185.3 399.4,185.2 403.2,185.2 407.1,185.2 410.9,185.2 414.8,185.1 418.6,185.1 422.5,185.1 426.3,185.1 430.2,185.1"/>
<polyline fill="none" stroke="#fa4612" stroke-width="2.7" stroke-linejoin="round" points="87,263 90.9,258.8 94.7,254.6 98.6,250.5 102.4,246.5 106.3,242.6 110.1,238.8 114,235 117.8,231.1 121.7,227.2 125.6,223.5 129.4,219.9 133.3,216.6 137.1,213.6 141,211 144.8,208.7 148.7,206.6 152.6,204.8 156.4,203.4 160.3,202.3 164.1,201.3 168,200.3 171.8,199.4 175.7,198.5 179.5,197.6 183.4,196.7 187.3,195.8 191.1,194.9 195,193.9 198.8,192.9 202.7,191.9 206.5,191 210.4,190.3 214.3,189.8 218.1,189.4 222,189.1 225.8,188.8 229.7,188.5 233.5,188.3 237.4,188.1 241.2,188 245.1,188 249,187.9 252.8,187.9 256.7,187.8 260.5,187.7 264.4,187.7 268.2,187.6 272.1,187.6 276,187.5 279.8,187.4 283.7,187.4 287.5,187.3 291.4,187.3 295.2,187.2 299.1,187.2 302.9,187.1 306.8,187.1 310.7,187.1 314.5,187 318.4,187 322.2,186.9 326.1,186.9 329.9,186.9 333.8,186.8 337.7,186.8 341.5,186.7 345.4,186.7 349.2,186.7 353.1,186.6 356.9,186.6 360.8,186.6 364.6,186.6 368.5,186.5 372.4,186.5 376.2,186.5 380.1,186.5 383.9,186.4 387.8,186.4 391.6,186.4 395.5,186.4 399.4,186.3 403.2,186.3 407.1,186.3 410.9,186.3 414.8,186.3 418.6,186.2 422.5,186.2 426.3,186.2 430.2,186.2"/>
<polyline fill="none" stroke="#f62c12" stroke-width="2.7" stroke-linejoin="round" points="87,263 90.9,258.8 94.7,254.7 98.6,250.7 102.4,246.7 106.3,242.9 110.1,239.1 114,235.4 117.8,231.6 121.7,227.8 125.6,224.1 129.4,220.6 133.3,217.3 137.1,214.4 141,211.8 144.8,209.6 148.7,207.7 152.6,206 156.4,204.7 160.3,203.7 164.1,202.7 168,201.8 171.8,200.9 175.7,200 179.5,199.1 183.4,198.2 187.3,197.3 191.1,196.3 195,195.3 198.8,194.2 202.7,193.2 206.5,192.3 210.4,191.6 214.3,191.1 218.1,190.7 222,190.3 225.8,190 229.7,189.7 233.5,189.5 237.4,189.3 241.2,189.3 245.1,189.2 249,189.1 252.8,189.1 256.7,189 260.5,188.9 264.4,188.9 268.2,188.8 272.1,188.8 276,188.7 279.8,188.7 283.7,188.6 287.5,188.6 291.4,188.5 295.2,188.5 299.1,188.4 302.9,188.4 306.8,188.3 310.7,188.3 314.5,188.3 318.4,188.2 322.2,188.2 326.1,188.1 329.9,188.1 333.8,188.1 337.7,188 341.5,188 345.4,188 349.2,188 353.1,187.9 356.9,187.9 360.8,187.9 364.6,187.9 368.5,187.8 372.4,187.8 376.2,187.8 380.1,187.8 383.9,187.7 387.8,187.7 391.6,187.7 395.5,187.7 399.4,187.7 403.2,187.7 407.1,187.7 410.9,187.6 414.8,187.6 418.6,187.6 422.5,187.6 426.3,187.6 430.2,187.6"/>
<polyline fill="none" stroke="#f21212" stroke-width="2.7" stroke-linejoin="round" points="87,263 90.9,258.9 94.7,254.8 98.6,250.8 102.4,246.9 106.3,243.1 110.1,239.5 114,235.8 117.8,232.1 121.7,228.3 125.6,224.7 129.4,221.3 133.3,218.1 137.1,215.2 141,212.7 144.8,210.6 148.7,208.7 152.6,207.2 156.4,206 160.3,205.1 164.1,204.2 168,203.3 171.8,202.4 175.7,201.5 179.5,200.6 183.4,199.7 187.3,198.7 191.1,197.7 195,196.7 198.8,195.6 202.7,194.6 206.5,193.6 210.4,192.9 214.3,192.3 218.1,191.9 222,191.5 225.8,191.2 229.7,190.9 233.5,190.7 237.4,190.6 241.2,190.5 245.1,190.4 249,190.3 252.8,190.3 256.7,190.2 260.5,190.2 264.4,190.1 268.2,190 272.1,190 276,189.9 279.8,189.9 283.7,189.8 287.5,189.8 291.4,189.7 295.2,189.7 299.1,189.7 302.9,189.6 306.8,189.6 310.7,189.5 314.5,189.5 318.4,189.5 322.2,189.4 326.1,189.4 329.9,189.4 333.8,189.3 337.7,189.3 341.5,189.3 345.4,189.3 349.2,189.2 353.1,189.2 356.9,189.2 360.8,189.2 364.6,189.1 368.5,189.1 372.4,189.1 376.2,189.1 380.1,189.1 383.9,189.1 387.8,189.1 391.6,189 395.5,189 399.4,189 403.2,189 407.1,189 410.9,189 414.8,189 418.6,189 422.5,189 426.3,189 430.2,189"/>
<polyline fill="none" stroke="#e020e6" stroke-width="2.7" stroke-linejoin="round" points="86.2,253.4 90.9,253.4 94.7,253.4 98.6,253.3 102.4,253.3 106.3,253.3 110.1,253.2 114,253.2 117.8,253.1 121.7,253 125.6,252.8 129.4,252.6 133.3,252.3 137.1,252 141,251.5 144.8,250.9 148.7,250.2 152.6,249.3 156.4,248.3 160.3,247.2 164.1,245.9 168,244.5 171.8,243 175.7,241.5 179.5,239.8 183.4,238.2 187.3,236.4 191.1,234.7 195,232.9 198.8,231.2 202.7,229.4 206.5,227.6 210.4,225.8 214.3,223.9 218.1,222.1 222,220.3 225.8,218.5 229.7,216.7 233.5,214.9 237.4,213 241.2,211.2 245.1,209.4 249,207.6 252.8,205.7 256.7,203.9 260.5,202.1 264.4,200.3 268.2,198.5 272.1,196.6 276,194.8 279.8,193 283.7,191.2 287.5,189.3 291.4,187.5 295.2,185.7 299.1,183.9 302.9,182.1 306.8,180.2 310.7,178.4 314.5,176.6 318.4,174.8 322.2,172.9 326.1,171.1 329.9,169.3 333.8,167.5 337.7,165.6 341.5,163.8 345.4,162 349.2,160.2 353.1,158.4 356.9,156.5 360.8,154.7 364.6,152.9 368.5,151.1 372.4,149.2 376.2,147.4 380.1,145.6 383.9,143.8 387.8,142 391.6,140.1 395.5,138.3 399.4,136.5 403.2,134.7 407.1,132.8 410.9,131 414.8,129.2 418.6,127.4 422.5,125.5 426.3,123.7 430.2,121.9"/>
<polyline fill="none" stroke="#a020e0" stroke-width="2.7" stroke-linejoin="round" points="86.2,252.2 90.9,252.1 94.7,252.1 98.6,252.1 102.4,252.1 106.3,252 110.1,252 114,251.9 117.8,251.8 121.7,251.6 125.6,251.4 129.4,251.1 133.3,250.8 137.1,250.4 141,249.8 144.8,249.2 148.7,248.4 152.6,247.4 156.4,246.3 160.3,245.1 164.1,243.7 168,242.2 171.8,240.6 175.7,238.9 179.5,237.1 183.4,235.3 187.3,233.4 191.1,231.5 195,229.6 198.8,227.7 202.7,225.7 206.5,223.7 210.4,221.7 214.3,219.7 218.1,217.7 222,215.8 225.8,213.8 229.7,211.7 233.5,209.7 237.4,207.7 241.2,205.7 245.1,203.7 249,201.7 252.8,199.7 256.7,197.7 260.5,195.7 264.4,193.7 268.2,191.7 272.1,189.7 276,187.7 279.8,185.7 283.7,183.7 287.5,181.7 291.4,179.6 295.2,177.6 299.1,175.6 302.9,173.6 306.8,171.6 310.7,169.6 314.5,167.6 318.4,165.6 322.2,163.6 326.1,161.6 329.9,159.6 333.8,157.6 337.7,155.6 341.5,153.5 345.4,151.5 349.2,149.5 353.1,147.5 356.9,145.5 360.8,143.5 364.6,141.5 368.5,139.5 372.4,137.5 376.2,135.5 380.1,133.5 383.9,131.5 387.8,129.5 391.6,127.4 395.5,125.4 399.4,123.4 403.2,121.4 407.1,119.4 410.9,117.4 414.8,115.4 418.6,113.4 422.5,111.4 426.3,109.4 430.2,107.4"/>
<polyline fill="none" stroke="#6420e6" stroke-width="2.7" stroke-linejoin="round" points="86.2,251.3 90.9,251.3 94.7,251.3 98.6,251.2 102.4,251.2 106.3,251.1 110.1,251.1 114,250.9 117.8,250.8 121.7,250.6 125.6,250.4 129.4,250.1 133.3,249.7 137.1,249.2 141,248.6 144.8,247.9 148.7,247.1 152.6,246 156.4,244.9 160.3,243.6 164.1,242.2 168,240.6 171.8,238.9 175.7,237.2 179.5,235.4 183.4,233.5 187.3,231.5 191.1,229.5 195,227.5 198.8,225.5 202.7,223.4 206.5,221.4 210.4,219.3 214.3,217.2 218.1,215.1 222,213 225.8,210.9 229.7,208.8 233.5,206.7 237.4,204.6 241.2,202.5 245.1,200.4 249,198.3 252.8,196.1 256.7,194 260.5,191.9 264.4,189.8 268.2,187.7 272.1,185.6 276,183.5 279.8,181.4 283.7,179.2 287.5,177.1 291.4,175 295.2,172.9 299.1,170.8 302.9,168.7 306.8,166.6 310.7,164.4 314.5,162.3 318.4,160.2 322.2,158.1 326.1,156 329.9,153.9 333.8,151.8 337.7,149.7 341.5,147.5 345.4,145.4 349.2,143.3 353.1,141.2 356.9,139.1 360.8,137 364.6,134.9 368.5,132.8 372.4,130.6 376.2,128.5 380.1,126.4 383.9,124.3 387.8,122.2 391.6,120.1 395.5,118 399.4,115.8 403.2,113.7 407.1,111.6 410.9,109.5 414.8,107.4 418.6,105.3 422.5,103.2 426.3,101.1 430.2,98.9"/>
<polyline fill="none" stroke="#2a1eea" stroke-width="2.7" stroke-linejoin="round" points="86.2,250.7 90.9,250.7 94.7,250.6 98.6,250.6 102.4,250.5 106.3,250.4 110.1,250.3 114,250.2 117.8,250 121.7,249.8 125.6,249.6 129.4,249.2 133.3,248.8 137.1,248.3 141,247.6 144.8,246.9 148.7,246 152.6,245 156.4,243.8 160.3,242.5 164.1,241 168,239.4 171.8,237.7 175.7,236 179.5,234.1 183.4,232.2 187.3,230.2 191.1,228.2 195,226.1 198.8,224 202.7,221.9 206.5,219.8 210.4,217.7 214.3,215.5 218.1,213.4 222,211.2 225.8,209.1 229.7,206.9 233.5,204.7 237.4,202.6 241.2,200.4 245.1,198.2 249,196 252.8,193.9 256.7,191.7 260.5,189.5 264.4,187.3 268.2,185.2 272.1,183 276,180.8 279.8,178.6 283.7,176.4 287.5,174.3 291.4,172.1 295.2,169.9 299.1,167.7 302.9,165.6 306.8,163.4 310.7,161.2 314.5,159 318.4,156.8 322.2,154.7 326.1,152.5 329.9,150.3 333.8,148.1 337.7,146 341.5,143.8 345.4,141.6 349.2,139.4 353.1,137.3 356.9,135.1 360.8,132.9 364.6,130.7 368.5,128.5 372.4,126.4 376.2,124.2 380.1,122 383.9,119.8 387.8,117.7 391.6,115.5 395.5,113.3 399.4,111.1 403.2,108.9 407.1,106.8 410.9,104.6 414.8,102.4 418.6,100.2 422.5,98.1 426.3,95.9 430.2,93.7"/>
<polyline fill="none" stroke="#1030f0" stroke-width="2.7" stroke-linejoin="round" points="86.2,250.1 90.9,250 94.7,250 98.6,249.9 102.4,249.8 106.3,249.7 110.1,249.6 114,249.5 117.8,249.3 121.7,249 125.6,248.7 129.4,248.3 133.3,247.9 137.1,247.3 141,246.6 144.8,245.8 148.7,244.9 152.6,243.8 156.4,242.6 160.3,241.3 164.1,239.8 168,238.2 171.8,236.5 175.7,234.7 179.5,232.8 183.4,230.8 187.3,228.8 191.1,226.8 195,224.7 198.8,222.6 202.7,220.4 206.5,218.2 210.4,216 214.3,213.8 218.1,211.6 222,209.4 225.8,207.2 229.7,205 233.5,202.7 237.4,200.5 241.2,198.3 245.1,196 249,193.8 252.8,191.6 256.7,189.3 260.5,187.1 264.4,184.9 268.2,182.6 272.1,180.4 276,178.1 279.8,175.9 283.7,173.6 287.5,171.4 291.4,169.2 295.2,166.9 299.1,164.7 302.9,162.4 306.8,160.2 310.7,158 314.5,155.7 318.4,153.5 322.2,151.2 326.1,149 329.9,146.8 333.8,144.5 337.7,142.3 341.5,140 345.4,137.8 349.2,135.5 353.1,133.3 356.9,131.1 360.8,128.8 364.6,126.6 368.5,124.3 372.4,122.1 376.2,119.9 380.1,117.6 383.9,115.4 387.8,113.1 391.6,110.9 395.5,108.6 399.4,106.4 403.2,104.2 407.1,101.9 410.9,99.7 414.8,97.4 418.6,95.2 422.5,93 426.3,90.7 430.2,88.5"/>
<polyline fill="none" stroke="#1464f5" stroke-width="2.7" stroke-linejoin="round" points="86.2,249.5 90.9,249.5 94.7,249.4 98.6,249.3 102.4,249.3 106.3,249.1 110.1,249 114,248.8 117.8,248.6 121.7,248.3 125.6,248 129.4,247.6 133.3,247.1 137.1,246.5 141,245.8 144.8,244.9 148.7,244 152.6,242.9 156.4,241.7 160.3,240.3 164.1,238.8 168,237.2 171.8,235.5 175.7,233.7 179.5,231.8 183.4,229.8 187.3,227.8 191.1,225.7 195,223.6 198.8,221.5 202.7,219.3 206.5,217.1 210.4,214.9 214.3,212.7 218.1,210.4 222,208.2 225.8,205.9 229.7,203.7 233.5,201.4 237.4,199.1 241.2,196.9 245.1,194.6 249,192.3 252.8,190 256.7,187.8 260.5,185.5 264.4,183.2 268.2,180.9 272.1,178.6 276,176.4 279.8,174.1 283.7,171.8 287.5,169.5 291.4,167.2 295.2,165 299.1,162.7 302.9,160.4 306.8,158.1 310.7,155.8 314.5,153.6 318.4,151.3 322.2,149 326.1,146.7 329.9,144.4 333.8,142.1 337.7,139.9 341.5,137.6 345.4,135.3 349.2,133 353.1,130.7 356.9,128.5 360.8,126.2 364.6,123.9 368.5,121.6 372.4,119.3 376.2,117.1 380.1,114.8 383.9,112.5 387.8,110.2 391.6,107.9 395.5,105.6 399.4,103.4 403.2,101.1 407.1,98.8 410.9,96.5 414.8,94.2 418.6,92 422.5,89.7 426.3,87.4 430.2,85.1"/>
<polyline fill="none" stroke="#1e9af5" stroke-width="2.7" stroke-linejoin="round" points="86.2,249.1 90.9,249 94.7,248.9 98.6,248.8 102.4,248.7 106.3,248.6 110.1,248.4 114,248.2 117.8,248 121.7,247.7 125.6,247.3 129.4,246.9 133.3,246.4 137.1,245.7 141,245 144.8,244.1 148.7,243.2 152.6,242.1 156.4,240.8 160.3,239.5 164.1,238 168,236.4 171.8,234.7 175.7,232.8 179.5,231 183.4,229 187.3,227 191.1,224.9 195,222.8 198.8,220.6 202.7,218.5 206.5,216.2 210.4,214 214.3,211.8 218.1,209.5 222,207.3 225.8,205 229.7,202.7 233.5,200.4 237.4,198.1 241.2,195.8 245.1,193.5 249,191.2 252.8,188.9 256.7,186.6 260.5,184.3 264.4,182 268.2,179.7 272.1,177.4 276,175.1 279.8,172.8 283.7,170.5 287.5,168.2 291.4,165.9 295.2,163.6 299.1,161.3 302.9,159 306.8,156.7 310.7,154.4 314.5,152.1 318.4,149.7 322.2,147.4 326.1,145.1 329.9,142.8 333.8,140.5 337.7,138.2 341.5,135.9 345.4,133.6 349.2,131.3 353.1,129 356.9,126.7 360.8,124.4 364.6,122.1 368.5,119.8 372.4,117.5 376.2,115.1 380.1,112.8 383.9,110.5 387.8,108.2 391.6,105.9 395.5,103.6 399.4,101.3 403.2,99 407.1,96.7 410.9,94.4 414.8,92.1 418.6,89.8 422.5,87.5 426.3,85.2 430.2,82.8"/>
<polyline fill="none" stroke="#28d2f0" stroke-width="2.7" stroke-linejoin="round" points="86.2,248.6 90.9,248.5 94.7,248.4 98.6,248.3 102.4,248.2 106.3,248.1 110.1,247.9 114,247.6 117.8,247.4 121.7,247 125.6,246.6 129.4,246.2 133.3,245.6 137.1,245 141,244.2 144.8,243.3 148.7,242.3 152.6,241.2 156.4,240 160.3,238.6 164.1,237.1 168,235.5 171.8,233.8 175.7,232 179.5,230.1 183.4,228.2 187.3,226.1 191.1,224.1 195,221.9 198.8,219.8 202.7,217.6 206.5,215.4 210.4,213.1 214.3,210.9 218.1,208.6 222,206.3 225.8,204 229.7,201.7 233.5,199.4 237.4,197.1 241.2,194.8 245.1,192.5 249,190.2 252.8,187.8 256.7,185.5 260.5,183.2 264.4,180.9 268.2,178.5 272.1,176.2 276,173.9 279.8,171.5 283.7,169.2 287.5,166.9 291.4,164.5 295.2,162.2 299.1,159.9 302.9,157.6 306.8,155.2 310.7,152.9 314.5,150.6 318.4,148.2 322.2,145.9 326.1,143.6 329.9,141.2 333.8,138.9 337.7,136.6 341.5,134.2 345.4,131.9 349.2,129.6 353.1,127.2 356.9,124.9 360.8,122.6 364.6,120.2 368.5,117.9 372.4,115.6 376.2,113.2 380.1,110.9 383.9,108.6 387.8,106.2 391.6,103.9 395.5,101.6 399.4,99.2 403.2,96.9 407.1,94.6 410.9,92.2 414.8,89.9 418.6,87.6 422.5,85.2 426.3,82.9 430.2,80.6"/>
<polyline fill="none" stroke="#32e6d2" stroke-width="2.7" stroke-linejoin="round" points="86.2,248.1 90.9,248 94.7,247.9 98.6,247.8 102.4,247.7 106.3,247.5 110.1,247.3 114,247 117.8,246.7 121.7,246.4 125.6,245.9 129.4,245.4 133.3,244.9 137.1,244.2 141,243.4 144.8,242.5 148.7,241.5 152.6,240.3 156.4,239.1 160.3,237.7 164.1,236.2 168,234.6 171.8,232.9 175.7,231.1 179.5,229.2 183.4,227.3 187.3,225.2 191.1,223.2 195,221 198.8,218.9 202.7,216.7 206.5,214.4 210.4,212.2 214.3,209.9 218.1,207.6 222,205.3 225.8,203 229.7,200.7 233.5,198.4 237.4,196 241.2,193.7 245.1,191.4 249,189 252.8,186.7 256.7,184.3 260.5,182 264.4,179.6 268.2,177.3 272.1,174.9 276,172.6 279.8,170.2 283.7,167.8 287.5,165.5 291.4,163.1 295.2,160.8 299.1,158.4 302.9,156 306.8,153.7 310.7,151.3 314.5,149 318.4,146.6 322.2,144.2 326.1,141.9 329.9,139.5 333.8,137.2 337.7,134.8 341.5,132.4 345.4,130.1 349.2,127.7 353.1,125.4 356.9,123 360.8,120.6 364.6,118.3 368.5,115.9 372.4,113.6 376.2,111.2 380.1,108.8 383.9,106.5 387.8,104.1 391.6,101.8 395.5,99.4 399.4,97 403.2,94.7 407.1,92.3 410.9,90 414.8,87.6 418.6,85.2 422.5,82.9 426.3,80.5 430.2,78.2"/>
<polyline fill="none" stroke="#3cf0aa" stroke-width="2.7" stroke-linejoin="round" points="86.2,247.6 90.9,247.5 94.7,247.4 98.6,247.3 102.4,247.1 106.3,246.9 110.1,246.7 114,246.4 117.8,246.1 121.7,245.7 125.6,245.2 129.4,244.7 133.3,244.1 137.1,243.4 141,242.6 144.8,241.7 148.7,240.6 152.6,239.5 156.4,238.2 160.3,236.8 164.1,235.3 168,233.7 171.8,232 175.7,230.2 179.5,228.4 183.4,226.4 187.3,224.4 191.1,222.3 195,220.2 198.8,218 202.7,215.8 206.5,213.6 210.4,211.3 214.3,209 218.1,206.7 222,204.4 225.8,202.1 229.7,199.8 233.5,197.4 237.4,195.1 241.2,192.7 245.1,190.3 249,188 252.8,185.6 256.7,183.2 260.5,180.9 264.4,178.5 268.2,176.1 272.1,173.7 276,171.3 279.8,169 283.7,166.6 287.5,164.2 291.4,161.8 295.2,159.4 299.1,157 302.9,154.7 306.8,152.3 310.7,149.9 314.5,147.5 318.4,145.1 322.2,142.7 326.1,140.4 329.9,138 333.8,135.6 337.7,133.2 341.5,130.8 345.4,128.4 349.2,126.1 353.1,123.7 356.9,121.3 360.8,118.9 364.6,116.5 368.5,114.1 372.4,111.7 376.2,109.4 380.1,107 383.9,104.6 387.8,102.2 391.6,99.8 395.5,97.4 399.4,95.1 403.2,92.7 407.1,90.3 410.9,87.9 414.8,85.5 418.6,83.1 422.5,80.7 426.3,78.4 430.2,76"/>
<polyline fill="none" stroke="#64f078" stroke-width="2.7" stroke-linejoin="round" points="86.2,247.1 90.9,247 94.7,246.9 98.6,246.7 102.4,246.6 106.3,246.3 110.1,246.1 114,245.8 117.8,245.4 121.7,245 125.6,244.6 129.4,244 133.3,243.4 137.1,242.6 141,241.8 144.8,240.9 148.7,239.8 152.6,238.6 156.4,237.4 160.3,236 164.1,234.5 168,232.9 171.8,231.2 175.7,229.4 179.5,227.5 183.4,225.6 187.3,223.6 191.1,221.5 195,219.4 198.8,217.2 202.7,215 206.5,212.7 210.4,210.5 214.3,208.2 218.1,205.9 222,203.6 225.8,201.2 229.7,198.9 233.5,196.5 237.4,194.1 241.2,191.8 245.1,189.4 249,187 252.8,184.6 256.7,182.2 260.5,179.8 264.4,177.4 268.2,175 272.1,172.6 276,170.2 279.8,167.8 283.7,165.4 287.5,163 291.4,160.6 295.2,158.2 299.1,155.8 302.9,153.4 306.8,151 310.7,148.6 314.5,146.2 318.4,143.8 322.2,141.4 326.1,139 329.9,136.6 333.8,134.2 337.7,131.8 341.5,129.4 345.4,127 349.2,124.6 353.1,122.1 356.9,119.7 360.8,117.3 364.6,114.9 368.5,112.5 372.4,110.1 376.2,107.7 380.1,105.3 383.9,102.9 387.8,100.5 391.6,98.1 395.5,95.7 399.4,93.3 403.2,90.9 407.1,88.5 410.9,86.1 414.8,83.6 418.6,81.2 422.5,78.8 426.3,76.4 430.2,74"/>
<polyline fill="none" stroke="#a0f050" stroke-width="2.7" stroke-linejoin="round" points="86.2,246.6 90.9,246.5 94.7,246.4 98.6,246.2 102.4,246 106.3,245.8 110.1,245.5 114,245.2 117.8,244.8 121.7,244.4 125.6,243.9 129.4,243.3 133.3,242.6 137.1,241.8 141,241 144.8,240 148.7,239 152.6,237.8 156.4,236.5 160.3,235.1 164.1,233.6 168,232 171.8,230.3 175.7,228.5 179.5,226.7 183.4,224.7 187.3,222.7 191.1,220.6 195,218.5 198.8,216.3 202.7,214.1 206.5,211.9 210.4,209.6 214.3,207.3 218.1,205 222,202.7 225.8,200.3 229.7,198 233.5,195.6 237.4,193.2 241.2,190.8 245.1,188.4 249,186 252.8,183.6 256.7,181.2 260.5,178.8 264.4,176.4 268.2,173.9 272.1,171.5 276,169.1 279.8,166.7 283.7,164.3 287.5,161.8 291.4,159.4 295.2,157 299.1,154.6 302.9,152.1 306.8,149.7 310.7,147.3 314.5,144.8 318.4,142.4 322.2,140 326.1,137.6 329.9,135.1 333.8,132.7 337.7,130.3 341.5,127.9 345.4,125.4 349.2,123 353.1,120.6 356.9,118.1 360.8,115.7 364.6,113.3 368.5,110.9 372.4,108.4 376.2,106 380.1,103.6 383.9,101.1 387.8,98.7 391.6,96.3 395.5,93.9 399.4,91.4 403.2,89 407.1,86.6 410.9,84.1 414.8,81.7 418.6,79.3 422.5,76.9 426.3,74.4 430.2,72"/>
<polyline fill="none" stroke="#d8f03c" stroke-width="2.7" stroke-linejoin="round" points="86.2,246.1 90.9,245.9 94.7,245.8 98.6,245.6 102.4,245.4 106.3,245.1 110.1,244.8 114,244.5 117.8,244.1 121.7,243.6 125.6,243.1 129.4,242.5 133.3,241.8 137.1,241 141,240.1 144.8,239.1 148.7,238.1 152.6,236.9 156.4,235.6 160.3,234.2 164.1,232.7 168,231.1 171.8,229.3 175.7,227.6 179.5,225.7 183.4,223.7 187.3,221.7 191.1,219.6 195,217.5 198.8,215.3 202.7,213.1 206.5,210.9 210.4,208.6 214.3,206.3 218.1,203.9 222,201.6 225.8,199.2 229.7,196.8 233.5,194.5 237.4,192 241.2,189.6 245.1,187.2 249,184.8 252.8,182.4 256.7,179.9 260.5,177.5 264.4,175 268.2,172.6 272.1,170.2 276,167.7 279.8,165.3 283.7,162.8 287.5,160.3 291.4,157.9 295.2,155.4 299.1,153 302.9,150.5 306.8,148.1 310.7,145.6 314.5,143.2 318.4,140.7 322.2,138.2 326.1,135.8 329.9,133.3 333.8,130.9 337.7,128.4 341.5,126 345.4,123.5 349.2,121 353.1,118.6 356.9,116.1 360.8,113.7 364.6,111.2 368.5,108.8 372.4,106.3 376.2,103.8 380.1,101.4 383.9,98.9 387.8,96.5 391.6,94 395.5,91.5 399.4,89.1 403.2,86.6 407.1,84.2 410.9,81.7 414.8,79.3 418.6,76.8 422.5,74.3 426.3,71.9 430.2,69.4"/>
<polyline fill="none" stroke="#faf032" stroke-width="2.7" stroke-linejoin="round" points="86.2,245.5 90.9,245.4 94.7,245.2 98.6,245 102.4,244.7 106.3,244.5 110.1,244.1 114,243.8 117.8,243.4 121.7,242.9 125.6,242.3 129.4,241.7 133.3,241 137.1,240.1 141,239.2 144.8,238.2 148.7,237.1 152.6,235.9 156.4,234.6 160.3,233.2 164.1,231.7 168,230.1 171.8,228.4 175.7,226.6 179.5,224.7 183.4,222.7 187.3,220.7 191.1,218.6 195,216.5 198.8,214.3 202.7,212.1 206.5,209.8 210.4,207.5 214.3,205.2 218.1,202.9 222,200.5 225.8,198.1 229.7,195.7 233.5,193.3 237.4,190.9 241.2,188.4 245.1,186 249,183.5 252.8,181.1 256.7,178.6 260.5,176.2 264.4,173.7 268.2,171.2 272.1,168.7 276,166.3 279.8,163.8 283.7,161.3 287.5,158.8 291.4,156.3 295.2,153.8 299.1,151.4 302.9,148.9 306.8,146.4 310.7,143.9 314.5,141.4 318.4,138.9 322.2,136.4 326.1,134 329.9,131.5 333.8,129 337.7,126.5 341.5,124 345.4,121.5 349.2,119 353.1,116.5 356.9,114.1 360.8,111.6 364.6,109.1 368.5,106.6 372.4,104.1 376.2,101.6 380.1,99.1 383.9,96.6 387.8,94.1 391.6,91.7 395.5,89.2 399.4,86.7 403.2,84.2 407.1,81.7 410.9,79.2 414.8,76.7 418.6,74.2 422.5,71.7 426.3,69.3 430.2,66.8"/>
<polyline fill="none" stroke="#ffd21e" stroke-width="2.7" stroke-linejoin="round" points="86.2,244.9 90.9,244.7 94.7,244.5 98.6,244.3 102.4,244.1 106.3,243.8 110.1,243.4 114,243 117.8,242.6 121.7,242.1 125.6,241.5 129.4,240.8 133.3,240.1 137.1,239.2 141,238.3 144.8,237.3 148.7,236.2 152.6,234.9 156.4,233.6 160.3,232.2 164.1,230.7 168,229 171.8,227.3 175.7,225.5 179.5,223.6 183.4,221.7 187.3,219.6 191.1,217.5 195,215.4 198.8,213.2 202.7,211 206.5,208.7 210.4,206.4 214.3,204 218.1,201.7 222,199.3 225.8,196.9 229.7,194.4 233.5,192 237.4,189.5 241.2,187.1 245.1,184.6 249,182.1 252.8,179.6 256.7,177.1 260.5,174.6 264.4,172.1 268.2,169.6 272.1,167.1 276,164.6 279.8,162.1 283.7,159.6 287.5,157.1 291.4,154.6 295.2,152 299.1,149.5 302.9,147 306.8,144.5 310.7,142 314.5,139.4 318.4,136.9 322.2,134.4 326.1,131.9 329.9,129.4 333.8,126.8 337.7,124.3 341.5,121.8 345.4,119.3 349.2,116.7 353.1,114.2 356.9,111.7 360.8,109.2 364.6,106.6 368.5,104.1 372.4,101.6 376.2,99.1 380.1,96.5 383.9,94 387.8,91.5 391.6,89 395.5,86.4 399.4,83.9 403.2,81.4 407.1,78.9 410.9,76.3 414.8,73.8 418.6,71.3 422.5,68.8 426.3,66.2 430.2,63.7"/>
<polyline fill="none" stroke="#ffa81e" stroke-width="2.7" stroke-linejoin="round" points="86.2,244.3 90.9,244.1 94.7,243.9 98.6,243.7 102.4,243.4 106.3,243.1 110.1,242.7 114,242.3 117.8,241.8 121.7,241.3 125.6,240.6 129.4,240 133.3,239.2 137.1,238.3 141,237.4 144.8,236.3 148.7,235.2 152.6,234 156.4,232.6 160.3,231.2 164.1,229.6 168,228 171.8,226.3 175.7,224.4 179.5,222.6 183.4,220.6 187.3,218.6 191.1,216.5 195,214.3 198.8,212.1 202.7,209.8 206.5,207.6 210.4,205.2 214.3,202.9 218.1,200.5 222,198.1 225.8,195.6 229.7,193.2 233.5,190.7 237.4,188.3 241.2,185.8 245.1,183.3 249,180.8 252.8,178.3 256.7,175.7 260.5,173.2 264.4,170.7 268.2,168.1 272.1,165.6 276,163.1 279.8,160.5 283.7,158 287.5,155.4 291.4,152.9 295.2,150.3 299.1,147.8 302.9,145.2 306.8,142.7 310.7,140.1 314.5,137.6 318.4,135 322.2,132.4 326.1,129.9 329.9,127.3 333.8,124.8 337.7,122.2 341.5,119.7 345.4,117.1 349.2,114.5 353.1,112 356.9,109.4 360.8,106.9 364.6,104.3 368.5,101.8 372.4,99.2 376.2,96.6 380.1,94.1 383.9,91.5 387.8,89 391.6,86.4 395.5,83.9 399.4,81.3 403.2,78.7 407.1,76.2 410.9,73.6 414.8,71.1 418.6,68.5 422.5,65.9 426.3,63.4 430.2,60.8"/>
<polyline fill="none" stroke="#ff7a14" stroke-width="2.7" stroke-linejoin="round" points="86.2,243.6 90.9,243.3 94.7,243.1 98.6,242.8 102.4,242.5 106.3,242.2 110.1,241.8 114,241.3 117.8,240.8 121.7,240.2 125.6,239.6 129.4,238.9 133.3,238.1 137.1,237.2 141,236.2 144.8,235.1 148.7,233.9 152.6,232.7 156.4,231.3 160.3,229.8 164.1,228.2 168,226.6 171.8,224.8 175.7,223 179.5,221.1 183.4,219.1 187.3,217 191.1,214.9 195,212.7 198.8,210.4 202.7,208.1 206.5,205.8 210.4,203.4 214.3,201 218.1,198.6 222,196.2 225.8,193.7 229.7,191.2 233.5,188.7 237.4,186.1 241.2,183.6 245.1,181 249,178.5 252.8,175.9 256.7,173.3 260.5,170.8 264.4,168.2 268.2,165.6 272.1,163 276,160.4 279.8,157.8 283.7,155.2 287.5,152.5 291.4,149.9 295.2,147.3 299.1,144.7 302.9,142.1 306.8,139.5 310.7,136.9 314.5,134.2 318.4,131.6 322.2,129 326.1,126.4 329.9,123.8 333.8,121.1 337.7,118.5 341.5,115.9 345.4,113.3 349.2,110.7 353.1,108 356.9,105.4 360.8,102.8 364.6,100.2 368.5,97.6 372.4,94.9 376.2,92.3 380.1,89.7 383.9,87.1 387.8,84.4 391.6,81.8 395.5,79.2 399.4,76.6 403.2,74 407.1,71.3 410.9,68.7 414.8,66.1 418.6,63.5 422.5,60.8 426.3,58.2 430.2,55.6"/>
<polyline fill="none" stroke="#fa4612" stroke-width="2.7" stroke-linejoin="round" points="86.2,242.8 90.9,242.5 94.7,242.2 98.6,242 102.4,241.6 106.3,241.3 110.1,240.8 114,240.4 117.8,239.8 121.7,239.2 125.6,238.5 129.4,237.8 133.3,236.9 137.1,236 141,235 144.8,233.9 148.7,232.7 152.6,231.3 156.4,229.9 160.3,228.4 164.1,226.8 168,225.1 171.8,223.4 175.7,221.5 179.5,219.5 183.4,217.5 187.3,215.4 191.1,213.2 195,211 198.8,208.7 202.7,206.4 206.5,204 210.4,201.6 214.3,199.2 218.1,196.7 222,194.2 225.8,191.7 229.7,189.1 233.5,186.6 237.4,184 241.2,181.4 245.1,178.8 249,176.2 252.8,173.5 256.7,170.9 260.5,168.3 264.4,165.6 268.2,163 272.1,160.3 276,157.6 279.8,155 283.7,152.3 287.5,149.6 291.4,147 295.2,144.3 299.1,141.6 302.9,138.9 306.8,136.2 310.7,133.6 314.5,130.9 318.4,128.2 322.2,125.5 326.1,122.8 329.9,120.1 333.8,117.5 337.7,114.8 341.5,112.1 345.4,109.4 349.2,106.7 353.1,104 356.9,101.3 360.8,98.7 364.6,96 368.5,93.3 372.4,90.6 376.2,87.9 380.1,85.2 383.9,82.5 387.8,79.8 391.6,77.2 395.5,74.5 399.4,71.8 403.2,69.1 407.1,66.4 410.9,63.7 414.8,61 418.6,58.3 422.5,55.7 426.3,53 430.2,50.3"/>
<polyline fill="none" stroke="#f21212" stroke-width="2.7" stroke-linejoin="round" points="86.2,241.9 90.9,241.6 94.7,241.3 98.6,241 102.4,240.6 106.3,240.2 110.1,239.8 114,239.3 117.8,238.7 121.7,238 125.6,237.3 129.4,236.5 133.3,235.6 137.1,234.7 141,233.6 144.8,232.5 148.7,231.2 152.6,229.9 156.4,228.4 160.3,226.9 164.1,225.2 168,223.5 171.8,221.7 175.7,219.8 179.5,217.8 183.4,215.7 187.3,213.5 191.1,211.3 195,209.1 198.8,206.7 202.7,204.4 206.5,201.9 210.4,199.5 214.3,197 218.1,194.4 222,191.9 225.8,189.3 229.7,186.7 233.5,184 237.4,181.4 241.2,178.7 245.1,176.1 249,173.4 252.8,170.7 256.7,168 260.5,165.3 264.4,162.5 268.2,159.8 272.1,157.1 276,154.3 279.8,151.6 283.7,148.8 287.5,146.1 291.4,143.3 295.2,140.6 299.1,137.8 302.9,135.1 306.8,132.3 310.7,129.6 314.5,126.8 318.4,124 322.2,121.3 326.1,118.5 329.9,115.7 333.8,113 337.7,110.2 341.5,107.4 345.4,104.7 349.2,101.9 353.1,99.2 356.9,96.4 360.8,93.6 364.6,90.9 368.5,88.1 372.4,85.3 376.2,82.5 380.1,79.8 383.9,77 387.8,74.2 391.6,71.5 395.5,68.7 399.4,65.9 403.2,63.2 407.1,60.4 410.9,57.6 414.8,54.9 418.6,52.1 422.5,49.3 426.3,46.6 430.2,43.8"/>
<line x1="87" y1="263" x2="160.9" y2="160.8" stroke="#000" stroke-width="1.9"/>
<line x1="87" y1="263" x2="187.4" y2="158.9" stroke="#000" stroke-width="1.9"/>
<text x="87.3" y="154.3" font-size="24.5" text-anchor="start" fill="#000" font-family="'Liberation Serif',serif" font-weight="bold" >1/R<tspan font-size="16" dy="6.5">ON</tspan><tspan dy="-6.5"></tspan></text>
<line x1="148.5" y1="152.5" x2="152.3" y2="162.5" stroke="#000" stroke-width="1.5"/>
<polygon points="154.2,167.6 148.2,160.2 153.8,158.1" fill="#000"/>
<line x1="148.5" y1="152.5" x2="175.4" y2="162" stroke="#000" stroke-width="1.5"/>
<polygon points="180.5,163.8 171,163.6 173,158" fill="#000"/>
<line x1="80.2" y1="29.2" x2="122.7" y2="29.2" stroke="#e020e6" stroke-width="3.2"/>
<line x1="190.9" y1="29.2" x2="235.5" y2="29.2" stroke="#a020e0" stroke-width="3.2"/>
<text x="127.3" y="35.6" font-size="18" text-anchor="start" fill="#000" font-family="'Liberation Serif',serif" font-weight="bold" >Cons</text>
<text x="238" y="35.6" font-size="18" text-anchor="start" fill="#000" font-family="'Liberation Serif',serif" font-weight="bold" >G10</text>
<line x1="80.2" y1="52.6" x2="122.7" y2="52.6" stroke="#6420e6" stroke-width="3.2"/>
<line x1="190.9" y1="52.6" x2="235.5" y2="52.6" stroke="#1030f0" stroke-width="3.2"/>
<text x="127.3" y="59" font-size="18" text-anchor="start" fill="#000" font-family="'Liberation Serif',serif" font-weight="bold" >G15</text>
<text x="238" y="59" font-size="18" text-anchor="start" fill="#000" font-family="'Liberation Serif',serif" font-weight="bold" >G20</text>
<line x1="80.2" y1="99.9" x2="122.7" y2="99.9" stroke="#ffd21e" stroke-width="3.2"/>
<line x1="190.9" y1="99.9" x2="235.5" y2="99.9" stroke="#ff7a14" stroke-width="3.2"/>
<text x="127.3" y="106.3" font-size="18" text-anchor="start" fill="#000" font-family="'Liberation Serif',serif" font-weight="bold" >G65</text>
<text x="238" y="106.3" font-size="18" text-anchor="start" fill="#000" font-family="'Liberation Serif',serif" font-weight="bold" >G75</text>
<line x1="80.2" y1="123.6" x2="122.7" y2="123.6" stroke="#fa4612" stroke-width="3.2"/>
<line x1="190.9" y1="123.6" x2="235.5" y2="123.6" stroke="#f21212" stroke-width="3.2"/>
<text x="127.3" y="130" font-size="18" text-anchor="start" fill="#000" font-family="'Liberation Serif',serif" font-weight="bold" >G85</text>
<text x="238" y="130" font-size="18" text-anchor="start" fill="#000" font-family="'Liberation Serif',serif" font-weight="bold" >G100</text>
<text x="181" y="84" font-size="18" text-anchor="middle" fill="#000" font-family="'Liberation Serif',serif" font-weight="bold" >...</text>
<text x="430" y="257.9" font-size="25.2" text-anchor="end" fill="#000" font-family="'Liberation Serif',serif" font-weight="bold" >(a) V<tspan font-size="16" dy="7">GS</tspan><tspan dy="-7"> = 3 V</tspan></text>
<path d="M406.7 145.1 Q422.3 181.2 410.3 198.3" fill="none" stroke="#000" stroke-width="2.7" stroke-linecap="round"/>
<polygon points="405.9,204.6 407.7,192.4 416.7,198.7" fill="#000"/>
<path d="M396.8 144.4 Q390.8 92 371.6 83.2" fill="none" stroke="#1616d6" stroke-width="2.3" stroke-linecap="round"/>
<polygon points="364,79.7 377,80.2 372.8,89.2" fill="#1616d6"/>
<line x1="87" y1="273.2" x2="87" y2="268.3" stroke="#000" stroke-width="2.4"/>
<text x="87" y="299.4" font-size="24.8" text-anchor="middle" fill="#000" font-family="'Liberation Serif',serif" font-weight="bold" >0</text>
<line x1="115.6" y1="273.2" x2="115.6" y2="270.1" stroke="#000" stroke-width="2.4"/>
<line x1="144.2" y1="273.2" x2="144.2" y2="268.3" stroke="#000" stroke-width="2.4"/>
<text x="144.2" y="299.4" font-size="24.8" text-anchor="middle" fill="#000" font-family="'Liberation Serif',serif" font-weight="bold" >2</text>
<line x1="172.8" y1="273.2" x2="172.8" y2="270.1" stroke="#000" stroke-width="2.4"/>
<line x1="201.4" y1="273.2" x2="201.4" y2="268.3" stroke="#000" stroke-width="2.4"/>
<text x="201.4" y="299.4" font-size="24.8" text-anchor="middle" fill="#000" font-family="'Liberation Serif',serif" font-weight="bold" >4</text>
<line x1="230" y1="273.2" x2="230" y2="270.1" stroke="#000" stroke-width="2.4"/>
<line x1="258.6" y1="273.2" x2="258.6" y2="268.3" stroke="#000" stroke-width="2.4"/>
<text x="258.6" y="299.4" font-size="24.8" text-anchor="middle" fill="#000" font-family="'Liberation Serif',serif" font-weight="bold" >6</text>
<line x1="287.2" y1="273.2" x2="287.2" y2="270.1" stroke="#000" stroke-width="2.4"/>
<line x1="315.8" y1="273.2" x2="315.8" y2="268.3" stroke="#000" stroke-width="2.4"/>
<text x="315.8" y="299.4" font-size="24.8" text-anchor="middle" fill="#000" font-family="'Liberation Serif',serif" font-weight="bold" >8</text>
<line x1="344.4" y1="273.2" x2="344.4" y2="270.1" stroke="#000" stroke-width="2.4"/>
<line x1="373" y1="273.2" x2="373" y2="268.3" stroke="#000" stroke-width="2.4"/>
<text x="373" y="299.4" font-size="24.8" text-anchor="middle" fill="#000" font-family="'Liberation Serif',serif" font-weight="bold" >10</text>
<line x1="401.6" y1="273.2" x2="401.6" y2="270.1" stroke="#000" stroke-width="2.4"/>
<line x1="430.2" y1="273.2" x2="430.2" y2="268.3" stroke="#000" stroke-width="2.4"/>
<text x="430.2" y="299.4" font-size="24.8" text-anchor="middle" fill="#000" font-family="'Liberation Serif',serif" font-weight="bold" >12</text>
<line x1="73.3" y1="263" x2="78.4" y2="263" stroke="#000" stroke-width="2.4"/>
<text x="66" y="271.1" font-size="24.5" text-anchor="end" fill="#000" font-family="'Liberation Serif',serif" font-weight="bold" >0.0</text>
<line x1="73.3" y1="242.3" x2="76.4" y2="242.3" stroke="#000" stroke-width="2.4"/>
<line x1="73.3" y1="221.7" x2="78.4" y2="221.7" stroke="#000" stroke-width="2.4"/>
<text x="66" y="229.8" font-size="24.5" text-anchor="end" fill="#000" font-family="'Liberation Serif',serif" font-weight="bold" >0.2</text>
<line x1="73.3" y1="201" x2="76.4" y2="201" stroke="#000" stroke-width="2.4"/>
<line x1="73.3" y1="180.3" x2="78.4" y2="180.3" stroke="#000" stroke-width="2.4"/>
<text x="66" y="188.4" font-size="24.5" text-anchor="end" fill="#000" font-family="'Liberation Serif',serif" font-weight="bold" >0.4</text>
<line x1="73.3" y1="159.7" x2="76.4" y2="159.7" stroke="#000" stroke-width="2.4"/>
<line x1="73.3" y1="139" x2="78.4" y2="139" stroke="#000" stroke-width="2.4"/>
<text x="66" y="147.1" font-size="24.5" text-anchor="end" fill="#000" font-family="'Liberation Serif',serif" font-weight="bold" >0.6</text>
<line x1="73.3" y1="118.3" x2="76.4" y2="118.3" stroke="#000" stroke-width="2.4"/>
<line x1="73.3" y1="97.6" x2="78.4" y2="97.6" stroke="#000" stroke-width="2.4"/>
<text x="66" y="105.7" font-size="24.5" text-anchor="end" fill="#000" font-family="'Liberation Serif',serif" font-weight="bold" >0.8</text>
<line x1="73.3" y1="77" x2="76.4" y2="77" stroke="#000" stroke-width="2.4"/>
<line x1="73.3" y1="56.3" x2="78.4" y2="56.3" stroke="#000" stroke-width="2.4"/>
<text x="66" y="64.4" font-size="24.5" text-anchor="end" fill="#000" font-family="'Liberation Serif',serif" font-weight="bold" >1.0</text>
<line x1="73.3" y1="35.6" x2="76.4" y2="35.6" stroke="#000" stroke-width="2.4"/>
<line x1="73.3" y1="15" x2="78.4" y2="15" stroke="#000" stroke-width="2.4"/>
<text x="66" y="23.1" font-size="24.5" text-anchor="end" fill="#000" font-family="'Liberation Serif',serif" font-weight="bold" >1.2</text>
<line x1="443.3" y1="253" x2="438.2" y2="253" stroke="#1616d6" stroke-width="2.4"/>
<text x="448.6" y="261.1" font-size="24.5" text-anchor="start" fill="#1616d6" font-family="'Liberation Serif',serif" font-weight="bold" >5</text>
<line x1="443.3" y1="234.7" x2="440.2" y2="234.7" stroke="#1616d6" stroke-width="2.4"/>
<line x1="443.3" y1="216.3" x2="438.2" y2="216.3" stroke="#1616d6" stroke-width="2.4"/>
<text x="448.6" y="224.4" font-size="24.5" text-anchor="start" fill="#1616d6" font-family="'Liberation Serif',serif" font-weight="bold" >10</text>
<line x1="443.3" y1="198" x2="440.2" y2="198" stroke="#1616d6" stroke-width="2.4"/>
<line x1="443.3" y1="179.7" x2="438.2" y2="179.7" stroke="#1616d6" stroke-width="2.4"/>
<text x="448.6" y="187.8" font-size="24.5" text-anchor="start" fill="#1616d6" font-family="'Liberation Serif',serif" font-weight="bold" >15</text>
<line x1="443.3" y1="161.4" x2="440.2" y2="161.4" stroke="#1616d6" stroke-width="2.4"/>
<line x1="443.3" y1="143.1" x2="438.2" y2="143.1" stroke="#1616d6" stroke-width="2.4"/>
<text x="448.6" y="151.2" font-size="24.5" text-anchor="start" fill="#1616d6" font-family="'Liberation Serif',serif" font-weight="bold" >20</text>
<line x1="443.3" y1="124.7" x2="440.2" y2="124.7" stroke="#1616d6" stroke-width="2.4"/>
<line x1="443.3" y1="106.4" x2="438.2" y2="106.4" stroke="#1616d6" stroke-width="2.4"/>
<text x="448.6" y="114.5" font-size="24.5" text-anchor="start" fill="#1616d6" font-family="'Liberation Serif',serif" font-weight="bold" >25</text>
<line x1="443.3" y1="88.1" x2="440.2" y2="88.1" stroke="#1616d6" stroke-width="2.4"/>
<line x1="443.3" y1="69.8" x2="438.2" y2="69.8" stroke="#1616d6" stroke-width="2.4"/>
<text x="448.6" y="77.8" font-size="24.5" text-anchor="start" fill="#1616d6" font-family="'Liberation Serif',serif" font-weight="bold" >30</text>
<line x1="443.3" y1="51.4" x2="440.2" y2="51.4" stroke="#1616d6" stroke-width="2.4"/>
<line x1="443.3" y1="33.1" x2="438.2" y2="33.1" stroke="#1616d6" stroke-width="2.4"/>
<text x="448.6" y="41.2" font-size="24.5" text-anchor="start" fill="#1616d6" font-family="'Liberation Serif',serif" font-weight="bold" >35</text>
<path d="M73.3 12.7 V273.2 H443.3" fill="none" stroke="#000" stroke-width="3" stroke-linejoin="miter"/>
<path d="M71.8 14.2 H443.3" fill="none" stroke="#000" stroke-width="3"/>
<path d="M443.3 12.7 V274.7" fill="none" stroke="#1616d6" stroke-width="3.2"/>
<text transform="translate(21.5 144.7) rotate(-90)" font-size="27.5" letter-spacing="0.3" text-anchor="middle" font-family="'Liberation Serif',serif" font-weight="bold">I<tspan font-size="18" dy="7.5">DS</tspan><tspan dy="-7.5"> (A/mm)</tspan></text>
<text transform="translate(499.8 152) rotate(-90)" font-size="27" text-anchor="middle" fill="#1616d6" font-family="'Liberation Serif',serif" font-weight="bold">R<tspan font-size="18" dy="7.5">ON</tspan><tspan dy="-7.5"> (Ω·mm)</tspan></text>
<text x="258.6" y="323.5" font-size="27" text-anchor="middle" fill="#000" font-family="'Liberation Serif',serif" font-weight="bold" >V<tspan font-size="18" dy="7.5">DS</tspan><tspan dy="-7.5"> (V)</tspan></text>
<rect x="598.9" y="240.4" width="33" height="27" fill="none" stroke="#ee1616" stroke-width="2.6" stroke-dasharray="6 7.5"/>
<polyline fill="none" stroke="#e020e6" stroke-width="2.7" stroke-linejoin="round" points="601.2,263 605.1,257.6 608.9,252.3 612.8,246.9 616.6,241.6 620.5,236.3 624.3,231 628.2,225.7 632,220.4 635.9,215.2 639.7,209.9 643.6,204.7 647.4,199.5 651.3,194.3 655.2,189.1 659,184 662.9,178.8 666.7,173.6 670.6,168.3 674.4,163 678.3,157.8 682.1,152.6 686,147.6 689.8,142.7 693.7,138 697.5,133.5 701.4,129 705.3,124.6 709.1,120.4 713,116.5 716.8,112.7 720.7,109.1 724.5,105.6 728.4,102.1 732.2,98.7 736.1,95.2 739.9,91.8 743.8,88.5 747.6,85.2 751.5,82.4 755.4,80 759.2,78.6 763.1,77.5 766.9,76.9 770.8,76.4 774.6,76 778.5,75.6 782.3,75.3 786.2,75 790,74.8 793.9,74.6 797.8,74.4 801.6,74.2 805.5,74 809.3,73.8 813.2,73.6 817,73.4 820.9,73.2 824.7,73 828.6,72.8 832.4,72.6 836.3,72.4 840.1,72.2 844,72.1 847.9,71.9 851.7,71.7 855.6,71.5 859.4,71.3 863.3,71.1 867.1,70.9 871,70.7 874.8,70.5 878.7,70.3 882.5,70.1 886.4,69.9 890.2,69.7 894.1,69.6 898,69.4 901.8,69.2 905.7,69 909.5,68.8 913.4,68.6 917.2,68.5 921.1,68.3 924.9,68.1 928.8,67.9 932.6,67.7 936.5,67.6 940.3,67.4 944.2,67.2"/>
<polyline fill="none" stroke="#a020e0" stroke-width="2.7" stroke-linejoin="round" points="601.2,263 605.1,257.7 608.9,252.4 612.8,247.1 616.6,241.8 620.5,236.6 624.3,231.4 628.2,226.2 632,221 635.9,215.9 639.7,210.8 643.6,205.7 647.4,200.6 651.3,195.6 655.2,190.5 659,185.5 662.9,180.5 666.7,175.5 670.6,170.5 674.4,165.5 678.3,160.5 682.1,155.5 686,150.7 689.8,146 693.7,141.5 697.5,137.1 701.4,132.8 705.3,128.5 709.1,124.5 713,120.6 716.8,117 720.7,113.5 724.5,110.2 728.4,106.8 732.2,103.6 736.1,100.4 739.9,97.2 743.8,93.9 747.6,90.8 751.5,88.1 755.4,85.8 759.2,84.4 763.1,83.3 766.9,82.6 770.8,82 774.6,81.7 778.5,81.3 782.3,81.1 786.2,80.8 790,80.6 793.9,80.4 797.8,80.2 801.6,80.1 805.5,79.9 809.3,79.8 813.2,79.6 817,79.4 820.9,79.3 824.7,79.1 828.6,78.9 832.4,78.7 836.3,78.6 840.1,78.4 844,78.2 847.9,78.1 851.7,77.9 855.6,77.7 859.4,77.6 863.3,77.4 867.1,77.2 871,77.1 874.8,76.9 878.7,76.7 882.5,76.6 886.4,76.4 890.2,76.2 894.1,76.1 898,75.9 901.8,75.7 905.7,75.6 909.5,75.4 913.4,75.3 917.2,75.1 921.1,74.9 924.9,74.8 928.8,74.6 932.6,74.5 936.5,74.3 940.3,74.1 944.2,74"/>
<polyline fill="none" stroke="#6420e6" stroke-width="2.7" stroke-linejoin="round" points="601.2,263 605.1,257.7 608.9,252.4 612.8,247.1 616.6,241.9 620.5,236.7 624.3,231.6 628.2,226.4 632,221.3 635.9,216.3 639.7,211.2 643.6,206.2 647.4,201.2 651.3,196.3 655.2,191.3 659,186.4 662.9,181.6 666.7,176.7 670.6,171.8 674.4,166.9 678.3,162 682.1,157.2 686,152.5 689.8,147.9 693.7,143.5 697.5,139.2 701.4,135 705.3,130.8 709.1,126.8 713,123 716.8,119.4 720.7,116 724.5,112.8 728.4,109.6 732.2,106.4 736.1,103.4 739.9,100.3 743.8,97.1 747.6,94 751.5,91.4 755.4,89.2 759.2,87.7 763.1,86.6 766.9,85.9 770.8,85.3 774.6,85 778.5,84.6 782.3,84.4 786.2,84.1 790,84 793.9,83.8 797.8,83.6 801.6,83.5 805.5,83.4 809.3,83.2 813.2,83.1 817,82.9 820.9,82.7 824.7,82.6 828.6,82.4 832.4,82.3 836.3,82.1 840.1,82 844,81.8 847.9,81.7 851.7,81.5 855.6,81.4 859.4,81.2 863.3,81.1 867.1,80.9 871,80.8 874.8,80.6 878.7,80.5 882.5,80.3 886.4,80.2 890.2,80 894.1,79.9 898,79.7 901.8,79.6 905.7,79.4 909.5,79.3 913.4,79.1 917.2,79 921.1,78.8 924.9,78.7 928.8,78.5 932.6,78.4 936.5,78.2 940.3,78.1 944.2,77.9"/>
<polyline fill="none" stroke="#2a1eea" stroke-width="2.7" stroke-linejoin="round" points="601.2,263 605.1,257.7 608.9,252.4 612.8,247.2 616.6,242 620.5,236.8 624.3,231.7 628.2,226.6 632,221.5 635.9,216.5 639.7,211.5 643.6,206.6 647.4,201.6 651.3,196.7 655.2,191.9 659,187 662.9,182.2 666.7,177.4 670.6,172.6 674.4,167.8 678.3,163 682.1,158.3 686,153.6 689.8,149.1 693.7,144.7 697.5,140.5 701.4,136.3 705.3,132.2 709.1,128.3 713,124.5 716.8,121 720.7,117.6 724.5,114.4 728.4,111.3 732.2,108.2 736.1,105.2 739.9,102.2 743.8,99 747.6,96 751.5,93.5 755.4,91.3 759.2,89.8 763.1,88.7 766.9,87.9 770.8,87.4 774.6,87 778.5,86.7 782.3,86.4 786.2,86.2 790,86 793.9,85.9 797.8,85.7 801.6,85.6 805.5,85.5 809.3,85.3 813.2,85.2 817,85.1 820.9,84.9 824.7,84.8 828.6,84.6 832.4,84.5 836.3,84.3 840.1,84.2 844,84 847.9,83.9 851.7,83.8 855.6,83.6 859.4,83.5 863.3,83.3 867.1,83.2 871,83 874.8,82.9 878.7,82.8 882.5,82.6 886.4,82.5 890.2,82.3 894.1,82.2 898,82.1 901.8,81.9 905.7,81.8 909.5,81.6 913.4,81.5 917.2,81.4 921.1,81.2 924.9,81.1 928.8,80.9 932.6,80.8 936.5,80.7 940.3,80.5 944.2,80.4"/>
<polyline fill="none" stroke="#1d27ed" stroke-width="2.7" stroke-linejoin="round" points="601.2,263 605.1,257.7 608.9,252.4 612.8,247.2 616.6,242 620.5,236.9 624.3,231.8 628.2,226.7 632,221.6 635.9,216.6 639.7,211.7 643.6,206.7 647.4,201.8 651.3,196.9 655.2,192.1 659,187.3 662.9,182.5 666.7,177.7 670.6,173 674.4,168.2 678.3,163.5 682.1,158.8 686,154.2 689.8,149.7 693.7,145.3 697.5,141.1 701.4,137 705.3,133 709.1,129 713,125.3 716.8,121.8 720.7,118.4 724.5,115.2 728.4,112.1 732.2,109.1 736.1,106.2 739.9,103.2 743.8,100 747.6,97 751.5,94.5 755.4,92.4 759.2,90.9 763.1,89.8 766.9,88.9 770.8,88.4 774.6,88 778.5,87.7 782.3,87.5 786.2,87.3 790,87.1 793.9,86.9 797.8,86.8 801.6,86.7 805.5,86.5 809.3,86.4 813.2,86.3 817,86.1 820.9,86 824.7,85.9 828.6,85.7 832.4,85.6 836.3,85.4 840.1,85.3 844,85.2 847.9,85 851.7,84.9 855.6,84.7 859.4,84.6 863.3,84.5 867.1,84.3 871,84.2 874.8,84.1 878.7,83.9 882.5,83.8 886.4,83.6 890.2,83.5 894.1,83.4 898,83.2 901.8,83.1 905.7,83 909.5,82.8 913.4,82.7 917.2,82.6 921.1,82.4 924.9,82.3 928.8,82.1 932.6,82 936.5,81.9 940.3,81.7 944.2,81.6"/>
<polyline fill="none" stroke="#1030f0" stroke-width="2.7" stroke-linejoin="round" points="601.2,263 605.1,257.7 608.9,252.5 612.8,247.2 616.6,242.1 620.5,236.9 624.3,231.8 628.2,226.8 632,221.8 635.9,216.8 639.7,211.8 643.6,206.9 647.4,202 651.3,197.2 655.2,192.4 659,187.6 662.9,182.8 666.7,178.1 670.6,173.4 674.4,168.6 678.3,164 682.1,159.3 686,154.7 689.8,150.3 693.7,145.9 697.5,141.8 701.4,137.7 705.3,133.7 709.1,129.8 713,126.1 716.8,122.5 720.7,119.2 724.5,116 728.4,113 732.2,110 736.1,107.1 739.9,104.2 743.8,101 747.6,98.1 751.5,95.5 755.4,93.4 759.2,91.9 763.1,90.8 766.9,90 770.8,89.4 774.6,89.1 778.5,88.8 782.3,88.5 786.2,88.3 790,88.1 793.9,88 797.8,87.8 801.6,87.7 805.5,87.6 809.3,87.5 813.2,87.3 817,87.2 820.9,87.1 824.7,86.9 828.6,86.8 832.4,86.7 836.3,86.5 840.1,86.4 844,86.3 847.9,86.1 851.7,86 855.6,85.9 859.4,85.7 863.3,85.6 867.1,85.5 871,85.3 874.8,85.2 878.7,85.1 882.5,84.9 886.4,84.8 890.2,84.7 894.1,84.5 898,84.4 901.8,84.3 905.7,84.1 909.5,84 913.4,83.9 917.2,83.7 921.1,83.6 924.9,83.5 928.8,83.4 932.6,83.2 936.5,83.1 940.3,83 944.2,82.8"/>
<polyline fill="none" stroke="#124af2" stroke-width="2.7" stroke-linejoin="round" points="601.2,263 605.1,257.7 608.9,252.5 612.8,247.3 616.6,242.1 620.5,237 624.3,231.9 628.2,226.8 632,221.8 635.9,216.8 639.7,211.9 643.6,207 647.4,202.1 651.3,197.3 655.2,192.5 659,187.7 662.9,183 666.7,178.3 670.6,173.6 674.4,168.9 678.3,164.3 682.1,159.6 686,155.1 689.8,150.6 693.7,146.3 697.5,142.2 701.4,138.1 705.3,134.1 709.1,130.2 713,126.5 716.8,123 720.7,119.7 724.5,116.6 728.4,113.5 732.2,110.5 736.1,107.7 739.9,104.8 743.8,101.6 747.6,98.7 751.5,96.2 755.4,94.1 759.2,92.6 763.1,91.5 766.9,90.6 770.8,90.1 774.6,89.7 778.5,89.4 782.3,89.2 786.2,89 790,88.8 793.9,88.6 797.8,88.5 801.6,88.4 805.5,88.3 809.3,88.2 813.2,88 817,87.9 820.9,87.8 824.7,87.6 828.6,87.5 832.4,87.4 836.3,87.3 840.1,87.1 844,87 847.9,86.9 851.7,86.7 855.6,86.6 859.4,86.5 863.3,86.3 867.1,86.2 871,86.1 874.8,85.9 878.7,85.8 882.5,85.7 886.4,85.6 890.2,85.4 894.1,85.3 898,85.2 901.8,85 905.7,84.9 909.5,84.8 913.4,84.6 917.2,84.5 921.1,84.4 924.9,84.3 928.8,84.1 932.6,84 936.5,83.9 940.3,83.7 944.2,83.6"/>
<polyline fill="none" stroke="#1464f5" stroke-width="2.7" stroke-linejoin="round" points="601.2,263 605.1,257.7 608.9,252.5 612.8,247.3 616.6,242.1 620.5,237 624.3,231.9 628.2,226.9 632,221.9 635.9,216.9 639.7,212 643.6,207.1 647.4,202.3 651.3,197.5 655.2,192.7 659,187.9 662.9,183.2 666.7,178.5 670.6,173.9 674.4,169.2 678.3,164.6 682.1,160 686,155.4 689.8,151 693.7,146.7 697.5,142.6 701.4,138.6 705.3,134.6 709.1,130.7 713,127 716.8,123.5 720.7,120.2 724.5,117.1 728.4,114.1 732.2,111.1 736.1,108.3 739.9,105.4 743.8,102.3 747.6,99.4 751.5,96.9 755.4,94.8 759.2,93.2 763.1,92.1 766.9,91.3 770.8,90.8 774.6,90.4 778.5,90.1 782.3,89.8 786.2,89.6 790,89.5 793.9,89.3 797.8,89.2 801.6,89.1 805.5,89 809.3,88.8 813.2,88.7 817,88.6 820.9,88.5 824.7,88.3 828.6,88.2 832.4,88.1 836.3,88 840.1,87.8 844,87.7 847.9,87.6 851.7,87.5 855.6,87.3 859.4,87.2 863.3,87.1 867.1,86.9 871,86.8 874.8,86.7 878.7,86.6 882.5,86.4 886.4,86.3 890.2,86.2 894.1,86 898,85.9 901.8,85.8 905.7,85.7 909.5,85.5 913.4,85.4 917.2,85.3 921.1,85.2 924.9,85 928.8,84.9 932.6,84.8 936.5,84.6 940.3,84.5 944.2,84.4"/>
<polyline fill="none" stroke="#197ff5" stroke-width="2.7" stroke-linejoin="round" points="601.2,263 605.1,257.7 608.9,252.5 612.8,247.3 616.6,242.1 620.5,237 624.3,232 628.2,226.9 632,221.9 635.9,217 639.7,212.1 643.6,207.2 647.4,202.4 651.3,197.6 655.2,192.8 659,188.1 662.9,183.4 666.7,178.7 670.6,174 674.4,169.4 678.3,164.8 682.1,160.2 686,155.7 689.8,151.3 693.7,147 697.5,142.9 701.4,138.8 705.3,134.9 709.1,131 713,127.3 716.8,123.9 720.7,120.5 724.5,117.4 728.4,114.4 732.2,111.5 736.1,108.7 739.9,105.8 743.8,102.7 747.6,99.8 751.5,97.3 755.4,95.2 759.2,93.7 763.1,92.6 766.9,91.7 770.8,91.2 774.6,90.8 778.5,90.5 782.3,90.3 786.2,90.1 790,89.9 793.9,89.8 797.8,89.6 801.6,89.5 805.5,89.4 809.3,89.3 813.2,89.2 817,89.1 820.9,88.9 824.7,88.8 828.6,88.7 832.4,88.6 836.3,88.4 840.1,88.3 844,88.2 847.9,88.1 851.7,87.9 855.6,87.8 859.4,87.7 863.3,87.6 867.1,87.4 871,87.3 874.8,87.2 878.7,87.1 882.5,86.9 886.4,86.8 890.2,86.7 894.1,86.6 898,86.4 901.8,86.3 905.7,86.2 909.5,86.1 913.4,85.9 917.2,85.8 921.1,85.7 924.9,85.6 928.8,85.4 932.6,85.3 936.5,85.2 940.3,85 944.2,84.9"/>
<polyline fill="none" stroke="#1e9af5" stroke-width="2.7" stroke-linejoin="round" points="601.2,263 605.1,257.7 608.9,252.5 612.8,247.3 616.6,242.2 620.5,237 624.3,232 628.2,227 632,222 635.9,217 639.7,212.1 643.6,207.3 647.4,202.4 651.3,197.6 655.2,192.9 659,188.2 662.9,183.5 666.7,178.8 670.6,174.2 674.4,169.6 678.3,165 682.1,160.4 686,155.9 689.8,151.5 693.7,147.3 697.5,143.2 701.4,139.1 705.3,135.2 709.1,131.3 713,127.7 716.8,124.2 720.7,120.9 724.5,117.8 728.4,114.8 732.2,111.9 736.1,109.1 739.9,106.2 743.8,103.1 747.6,100.2 751.5,97.7 755.4,95.7 759.2,94.1 763.1,93 766.9,92.2 770.8,91.6 774.6,91.3 778.5,91 782.3,90.7 786.2,90.5 790,90.4 793.9,90.2 797.8,90.1 801.6,90 805.5,89.9 809.3,89.8 813.2,89.6 817,89.5 820.9,89.4 824.7,89.3 828.6,89.2 832.4,89 836.3,88.9 840.1,88.8 844,88.7 847.9,88.5 851.7,88.4 855.6,88.3 859.4,88.2 863.3,88.1 867.1,87.9 871,87.8 874.8,87.7 878.7,87.6 882.5,87.4 886.4,87.3 890.2,87.2 894.1,87.1 898,86.9 901.8,86.8 905.7,86.7 909.5,86.6 913.4,86.4 917.2,86.3 921.1,86.2 924.9,86.1 928.8,85.9 932.6,85.8 936.5,85.7 940.3,85.6 944.2,85.5"/>
<polyline fill="none" stroke="#23b6f2" stroke-width="2.7" stroke-linejoin="round" points="601.2,263 605.1,257.7 608.9,252.5 612.8,247.3 616.6,242.2 620.5,237.1 624.3,232 628.2,227 632,222 635.9,217.1 639.7,212.2 643.6,207.3 647.4,202.5 651.3,197.7 655.2,193 659,188.3 662.9,183.6 666.7,179 670.6,174.4 674.4,169.8 678.3,165.2 682.1,160.6 686,156.2 689.8,151.8 693.7,147.5 697.5,143.4 701.4,139.4 705.3,135.5 709.1,131.7 713,128 716.8,124.5 720.7,121.2 724.5,118.1 728.4,115.2 732.2,112.2 736.1,109.5 739.9,106.7 743.8,103.5 747.6,100.7 751.5,98.2 755.4,96.1 759.2,94.6 763.1,93.5 766.9,92.6 770.8,92.1 774.6,91.7 778.5,91.4 782.3,91.2 786.2,91 790,90.8 793.9,90.7 797.8,90.6 801.6,90.5 805.5,90.3 809.3,90.2 813.2,90.1 817,90 820.9,89.9 824.7,89.8 828.6,89.6 832.4,89.5 836.3,89.4 840.1,89.3 844,89.2 847.9,89 851.7,88.9 855.6,88.8 859.4,88.7 863.3,88.5 867.1,88.4 871,88.3 874.8,88.2 878.7,88.1 882.5,87.9 886.4,87.8 890.2,87.7 894.1,87.6 898,87.5 901.8,87.3 905.7,87.2 909.5,87.1 913.4,87 917.2,86.8 921.1,86.7 924.9,86.6 928.8,86.5 932.6,86.3 936.5,86.2 940.3,86.1 944.2,86"/>
<polyline fill="none" stroke="#28d2f0" stroke-width="2.7" stroke-linejoin="round" points="601.2,263 605.1,257.7 608.9,252.5 612.8,247.3 616.6,242.2 620.5,237.1 624.3,232 628.2,227 632,222.1 635.9,217.1 639.7,212.3 643.6,207.4 647.4,202.6 651.3,197.8 655.2,193.1 659,188.4 662.9,183.8 666.7,179.2 670.6,174.6 674.4,170 678.3,165.4 682.1,160.9 686,156.4 689.8,152 693.7,147.8 697.5,143.7 701.4,139.7 705.3,135.8 709.1,132 713,128.3 716.8,124.9 720.7,121.6 724.5,118.5 728.4,115.5 732.2,112.6 736.1,109.9 739.9,107.1 743.8,104 747.6,101.1 751.5,98.6 755.4,96.6 759.2,95 763.1,93.9 766.9,93.1 770.8,92.5 774.6,92.2 778.5,91.9 782.3,91.6 786.2,91.4 790,91.3 793.9,91.1 797.8,91 801.6,90.9 805.5,90.8 809.3,90.7 813.2,90.6 817,90.5 820.9,90.3 824.7,90.2 828.6,90.1 832.4,90 836.3,89.9 840.1,89.8 844,89.6 847.9,89.5 851.7,89.4 855.6,89.3 859.4,89.2 863.3,89 867.1,88.9 871,88.8 874.8,88.7 878.7,88.6 882.5,88.4 886.4,88.3 890.2,88.2 894.1,88.1 898,88 901.8,87.8 905.7,87.7 909.5,87.6 913.4,87.5 917.2,87.4 921.1,87.2 924.9,87.1 928.8,87 932.6,86.9 936.5,86.8 940.3,86.6 944.2,86.5"/>
<polyline fill="none" stroke="#2ddce1" stroke-width="2.7" stroke-linejoin="round" points="601.2,263 605.1,257.7 608.9,252.5 612.8,247.3 616.6,242.2 620.5,237.1 624.3,232.1 628.2,227.1 632,222.1 635.9,217.2 639.7,212.3 643.6,207.5 647.4,202.7 651.3,197.9 655.2,193.2 659,188.5 662.9,183.9 666.7,179.3 670.6,174.7 674.4,170.2 678.3,165.6 682.1,161.1 686,156.7 689.8,152.3 693.7,148.1 697.5,144 701.4,140 705.3,136.1 709.1,132.3 713,128.7 716.8,125.2 720.7,121.9 724.5,118.9 728.4,115.9 732.2,113 736.1,110.3 739.9,107.5 743.8,104.4 747.6,101.6 751.5,99.1 755.4,97.1 759.2,95.5 763.1,94.4 766.9,93.5 770.8,93 774.6,92.6 778.5,92.3 782.3,92.1 786.2,91.9 790,91.7 793.9,91.6 797.8,91.5 801.6,91.4 805.5,91.3 809.3,91.2 813.2,91.1 817,91 820.9,90.8 824.7,90.7 828.6,90.6 832.4,90.5 836.3,90.4 840.1,90.3 844,90.1 847.9,90 851.7,89.9 855.6,89.8 859.4,89.7 863.3,89.6 867.1,89.4 871,89.3 874.8,89.2 878.7,89.1 882.5,89 886.4,88.9 890.2,88.7 894.1,88.6 898,88.5 901.8,88.4 905.7,88.3 909.5,88.1 913.4,88 917.2,87.9 921.1,87.8 924.9,87.7 928.8,87.6 932.6,87.4 936.5,87.3 940.3,87.2 944.2,87.1"/>
<polyline fill="none" stroke="#32e6d2" stroke-width="2.7" stroke-linejoin="round" points="601.2,263 605.1,257.7 608.9,252.5 612.8,247.4 616.6,242.2 620.5,237.1 624.3,232.1 628.2,227.1 632,222.2 635.9,217.3 639.7,212.4 643.6,207.6 647.4,202.8 651.3,198 655.2,193.3 659,188.7 662.9,184.1 666.7,179.5 670.6,174.9 674.4,170.4 678.3,165.9 682.1,161.4 686,156.9 689.8,152.6 693.7,148.4 697.5,144.3 701.4,140.4 705.3,136.5 709.1,132.7 713,129 716.8,125.6 720.7,122.3 724.5,119.2 728.4,116.3 732.2,113.4 736.1,110.7 739.9,108 743.8,104.9 747.6,102 751.5,99.6 755.4,97.5 759.2,96 763.1,94.9 766.9,94 770.8,93.5 774.6,93.1 778.5,92.8 782.3,92.6 786.2,92.4 790,92.2 793.9,92.1 797.8,92 801.6,91.9 805.5,91.8 809.3,91.7 813.2,91.6 817,91.5 820.9,91.3 824.7,91.2 828.6,91.1 832.4,91 836.3,90.9 840.1,90.8 844,90.7 847.9,90.5 851.7,90.4 855.6,90.3 859.4,90.2 863.3,90.1 867.1,90 871,89.9 874.8,89.7 878.7,89.6 882.5,89.5 886.4,89.4 890.2,89.3 894.1,89.2 898,89 901.8,88.9 905.7,88.8 909.5,88.7 913.4,88.6 917.2,88.5 921.1,88.3 924.9,88.2 928.8,88.1 932.6,88 936.5,87.9 940.3,87.8 944.2,87.6"/>
<polyline fill="none" stroke="#37ebbe" stroke-width="2.7" stroke-linejoin="round" points="601.2,263 605.1,257.7 608.9,252.5 612.8,247.4 616.6,242.2 620.5,237.2 624.3,232.1 628.2,227.1 632,222.2 635.9,217.3 639.7,212.5 643.6,207.6 647.4,202.9 651.3,198.1 655.2,193.4 659,188.8 662.9,184.2 666.7,179.6 670.6,175.1 674.4,170.6 678.3,166.1 682.1,161.6 686,157.1 689.8,152.8 693.7,148.6 697.5,144.6 701.4,140.6 705.3,136.8 709.1,133 713,129.3 716.8,125.9 720.7,122.6 724.5,119.6 728.4,116.7 732.2,113.8 736.1,111.1 739.9,108.4 743.8,105.3 747.6,102.5 751.5,100 755.4,98 759.2,96.4 763.1,95.3 766.9,94.4 770.8,93.9 774.6,93.5 778.5,93.2 782.3,93 786.2,92.8 790,92.7 793.9,92.5 797.8,92.4 801.6,92.3 805.5,92.2 809.3,92.1 813.2,92 817,91.9 820.9,91.8 824.7,91.7 828.6,91.6 832.4,91.5 836.3,91.4 840.1,91.2 844,91.1 847.9,91 851.7,90.9 855.6,90.8 859.4,90.7 863.3,90.6 867.1,90.5 871,90.3 874.8,90.2 878.7,90.1 882.5,90 886.4,89.9 890.2,89.8 894.1,89.7 898,89.5 901.8,89.4 905.7,89.3 909.5,89.2 913.4,89.1 917.2,89 921.1,88.9 924.9,88.7 928.8,88.6 932.6,88.5 936.5,88.4 940.3,88.3 944.2,88.2"/>
<polyline fill="none" stroke="#3cf0aa" stroke-width="2.7" stroke-linejoin="round" points="601.2,263 605.1,257.7 608.9,252.5 612.8,247.4 616.6,242.3 620.5,237.2 624.3,232.2 628.2,227.2 632,222.2 635.9,217.4 639.7,212.5 643.6,207.7 647.4,203 651.3,198.2 655.2,193.6 659,188.9 662.9,184.3 666.7,179.8 670.6,175.2 674.4,170.7 678.3,166.3 682.1,161.8 686,157.4 689.8,153.1 693.7,148.9 697.5,144.9 701.4,140.9 705.3,137.1 709.1,133.3 713,129.6 716.8,126.2 720.7,123 724.5,119.9 728.4,117 732.2,114.2 736.1,111.5 739.9,108.8 743.8,105.7 747.6,102.9 751.5,100.5 755.4,98.4 759.2,96.9 763.1,95.7 766.9,94.9 770.8,94.3 774.6,94 778.5,93.7 782.3,93.4 786.2,93.2 790,93.1 793.9,93 797.8,92.9 801.6,92.8 805.5,92.7 809.3,92.6 813.2,92.5 817,92.4 820.9,92.3 824.7,92.1 828.6,92 832.4,91.9 836.3,91.8 840.1,91.7 844,91.6 847.9,91.5 851.7,91.4 855.6,91.3 859.4,91.2 863.3,91 867.1,90.9 871,90.8 874.8,90.7 878.7,90.6 882.5,90.5 886.4,90.4 890.2,90.3 894.1,90.1 898,90 901.8,89.9 905.7,89.8 909.5,89.7 913.4,89.6 917.2,89.5 921.1,89.4 924.9,89.2 928.8,89.1 932.6,89 936.5,88.9 940.3,88.8 944.2,88.7"/>
<polyline fill="none" stroke="#50f091" stroke-width="2.7" stroke-linejoin="round" points="601.2,263 605.1,257.7 608.9,252.5 612.8,247.4 616.6,242.3 620.5,237.2 624.3,232.2 628.2,227.2 632,222.3 635.9,217.4 639.7,212.6 643.6,207.8 647.4,203 651.3,198.3 655.2,193.6 659,189 662.9,184.4 666.7,179.9 670.6,175.4 674.4,170.9 678.3,166.4 682.1,162 686,157.6 689.8,153.3 693.7,149.1 697.5,145.1 701.4,141.2 705.3,137.3 709.1,133.5 713,129.9 716.8,126.5 720.7,123.3 724.5,120.2 728.4,117.3 732.2,114.5 736.1,111.9 739.9,109.1 743.8,106 747.6,103.3 751.5,100.8 755.4,98.8 759.2,97.3 763.1,96.1 766.9,95.3 770.8,94.7 774.6,94.4 778.5,94.1 782.3,93.8 786.2,93.6 790,93.5 793.9,93.4 797.8,93.3 801.6,93.2 805.5,93.1 809.3,93 813.2,92.9 817,92.8 820.9,92.7 824.7,92.5 828.6,92.4 832.4,92.3 836.3,92.2 840.1,92.1 844,92 847.9,91.9 851.7,91.8 855.6,91.7 859.4,91.6 863.3,91.5 867.1,91.4 871,91.2 874.8,91.1 878.7,91 882.5,90.9 886.4,90.8 890.2,90.7 894.1,90.6 898,90.5 901.8,90.4 905.7,90.2 909.5,90.1 913.4,90 917.2,89.9 921.1,89.8 924.9,89.7 928.8,89.6 932.6,89.5 936.5,89.3 940.3,89.2 944.2,89.1"/>
<polyline fill="none" stroke="#64f078" stroke-width="2.7" stroke-linejoin="round" points="601.2,263 605.1,257.8 608.9,252.5 612.8,247.4 616.6,242.3 620.5,237.2 624.3,232.2 628.2,227.2 632,222.3 635.9,217.5 639.7,212.6 643.6,207.8 647.4,203.1 651.3,198.4 655.2,193.7 659,189.1 662.9,184.6 666.7,180 670.6,175.5 674.4,171.1 678.3,166.6 682.1,162.2 686,157.8 689.8,153.5 693.7,149.4 697.5,145.3 701.4,141.4 705.3,137.6 709.1,133.8 713,130.2 716.8,126.8 720.7,123.6 724.5,120.5 728.4,117.6 732.2,114.8 736.1,112.2 739.9,109.5 743.8,106.4 747.6,103.6 751.5,101.2 755.4,99.2 759.2,97.7 763.1,96.5 766.9,95.6 770.8,95.1 774.6,94.7 778.5,94.4 782.3,94.2 786.2,94 790,93.9 793.9,93.8 797.8,93.7 801.6,93.6 805.5,93.5 809.3,93.4 813.2,93.3 817,93.2 820.9,93.1 824.7,93 828.6,92.8 832.4,92.7 836.3,92.6 840.1,92.5 844,92.4 847.9,92.3 851.7,92.2 855.6,92.1 859.4,92 863.3,91.9 867.1,91.8 871,91.7 874.8,91.6 878.7,91.5 882.5,91.3 886.4,91.2 890.2,91.1 894.1,91 898,90.9 901.8,90.8 905.7,90.7 909.5,90.6 913.4,90.5 917.2,90.4 921.1,90.2 924.9,90.1 928.8,90 932.6,89.9 936.5,89.8 940.3,89.7 944.2,89.6"/>
<polyline fill="none" stroke="#82f064" stroke-width="2.7" stroke-linejoin="round" points="601.2,263 605.1,257.8 608.9,252.6 612.8,247.4 616.6,242.3 620.5,237.2 624.3,232.2 628.2,227.3 632,222.4 635.9,217.5 639.7,212.7 643.6,207.9 647.4,203.2 651.3,198.5 655.2,193.8 659,189.2 662.9,184.7 666.7,180.2 670.6,175.7 674.4,171.2 678.3,166.8 682.1,162.4 686,158 689.8,153.7 693.7,149.6 697.5,145.6 701.4,141.7 705.3,137.9 709.1,134.1 713,130.5 716.8,127.1 720.7,123.9 724.5,120.9 728.4,118 732.2,115.2 736.1,112.6 739.9,109.9 743.8,106.8 747.6,104 751.5,101.6 755.4,99.6 759.2,98.1 763.1,96.9 766.9,96 770.8,95.5 774.6,95.1 778.5,94.8 782.3,94.6 786.2,94.4 790,94.3 793.9,94.2 797.8,94.1 801.6,94 805.5,93.9 809.3,93.8 813.2,93.7 817,93.6 820.9,93.5 824.7,93.4 828.6,93.3 832.4,93.2 836.3,93.1 840.1,93 844,92.9 847.9,92.8 851.7,92.6 855.6,92.5 859.4,92.4 863.3,92.3 867.1,92.2 871,92.1 874.8,92 878.7,91.9 882.5,91.8 886.4,91.7 890.2,91.6 894.1,91.5 898,91.4 901.8,91.3 905.7,91.2 909.5,91 913.4,90.9 917.2,90.8 921.1,90.7 924.9,90.6 928.8,90.5 932.6,90.4 936.5,90.3 940.3,90.2 944.2,90.1"/>
<polyline fill="none" stroke="#a0f050" stroke-width="2.7" stroke-linejoin="round" points="601.2,263 605.1,257.8 608.9,252.6 612.8,247.4 616.6,242.3 620.5,237.3 624.3,232.3 628.2,227.3 632,222.4 635.9,217.5 639.7,212.7 643.6,208 647.4,203.3 651.3,198.6 655.2,193.9 659,189.3 662.9,184.8 666.7,180.3 670.6,175.8 674.4,171.4 678.3,167 682.1,162.6 686,158.2 689.8,154 693.7,149.8 697.5,145.8 701.4,142 705.3,138.1 709.1,134.4 713,130.8 716.8,127.4 720.7,124.2 724.5,121.2 728.4,118.3 732.2,115.5 736.1,112.9 739.9,110.2 743.8,107.2 747.6,104.4 751.5,102 755.4,100 759.2,98.5 763.1,97.3 766.9,96.4 770.8,95.9 774.6,95.5 778.5,95.2 782.3,95 786.2,94.8 790,94.7 793.9,94.6 797.8,94.5 801.6,94.4 805.5,94.3 809.3,94.2 813.2,94.1 817,94 820.9,93.9 824.7,93.8 828.6,93.7 832.4,93.6 836.3,93.5 840.1,93.4 844,93.3 847.9,93.2 851.7,93.1 855.6,93 859.4,92.9 863.3,92.8 867.1,92.7 871,92.6 874.8,92.5 878.7,92.4 882.5,92.2 886.4,92.1 890.2,92 894.1,91.9 898,91.8 901.8,91.7 905.7,91.6 909.5,91.5 913.4,91.4 917.2,91.3 921.1,91.2 924.9,91.1 928.8,91 932.6,90.9 936.5,90.7 940.3,90.6 944.2,90.5"/>
<polyline fill="none" stroke="#bcf046" stroke-width="2.7" stroke-linejoin="round" points="601.2,263 605.1,257.8 608.9,252.6 612.8,247.4 616.6,242.3 620.5,237.3 624.3,232.3 628.2,227.4 632,222.5 635.9,217.6 639.7,212.8 643.6,208.1 647.4,203.3 651.3,198.7 655.2,194.1 659,189.5 662.9,185 666.7,180.5 670.6,176 674.4,171.6 678.3,167.2 682.1,162.8 686,158.5 689.8,154.3 693.7,150.1 697.5,146.2 701.4,142.3 705.3,138.5 709.1,134.7 713,131.1 716.8,127.8 720.7,124.6 724.5,121.6 728.4,118.7 732.2,116 736.1,113.4 739.9,110.7 743.8,107.7 747.6,104.9 751.5,102.5 755.4,100.5 759.2,99 763.1,97.8 766.9,96.9 770.8,96.4 774.6,96 778.5,95.8 782.3,95.5 786.2,95.3 790,95.2 793.9,95.1 797.8,95 801.6,94.9 805.5,94.8 809.3,94.7 813.2,94.6 817,94.5 820.9,94.4 824.7,94.3 828.6,94.2 832.4,94.1 836.3,94 840.1,93.9 844,93.8 847.9,93.7 851.7,93.6 855.6,93.5 859.4,93.4 863.3,93.3 867.1,93.2 871,93.1 874.8,93 878.7,92.9 882.5,92.8 886.4,92.7 890.2,92.6 894.1,92.5 898,92.4 901.8,92.3 905.7,92.2 909.5,92.1 913.4,92 917.2,91.9 921.1,91.8 924.9,91.7 928.8,91.6 932.6,91.5 936.5,91.3 940.3,91.2 944.2,91.1"/>
<polyline fill="none" stroke="#d8f03c" stroke-width="2.7" stroke-linejoin="round" points="601.2,263 605.1,257.8 608.9,252.6 612.8,247.4 616.6,242.3 620.5,237.3 624.3,232.3 628.2,227.4 632,222.5 635.9,217.7 639.7,212.9 643.6,208.1 647.4,203.4 651.3,198.8 655.2,194.2 659,189.6 662.9,185.1 666.7,180.7 670.6,176.2 674.4,171.8 678.3,167.5 682.1,163.1 686,158.8 689.8,154.6 693.7,150.5 697.5,146.5 701.4,142.6 705.3,138.8 709.1,135.1 713,131.5 716.8,128.1 720.7,125 724.5,122 728.4,119.1 732.2,116.4 736.1,113.8 739.9,111.2 743.8,108.1 747.6,105.4 751.5,103 755.4,101 759.2,99.5 763.1,98.3 766.9,97.5 770.8,96.9 774.6,96.5 778.5,96.3 782.3,96 786.2,95.8 790,95.7 793.9,95.6 797.8,95.5 801.6,95.4 805.5,95.3 809.3,95.3 813.2,95.2 817,95.1 820.9,95 824.7,94.9 828.6,94.8 832.4,94.7 836.3,94.6 840.1,94.5 844,94.4 847.9,94.3 851.7,94.2 855.6,94.1 859.4,94 863.3,93.9 867.1,93.8 871,93.7 874.8,93.6 878.7,93.5 882.5,93.4 886.4,93.3 890.2,93.2 894.1,93.1 898,93 901.8,92.9 905.7,92.8 909.5,92.7 913.4,92.6 917.2,92.5 921.1,92.4 924.9,92.3 928.8,92.2 932.6,92 936.5,91.9 940.3,91.8 944.2,91.7"/>
<polyline fill="none" stroke="#e9f037" stroke-width="2.7" stroke-linejoin="round" points="601.2,263 605.1,257.8 608.9,252.6 612.8,247.4 616.6,242.4 620.5,237.3 624.3,232.4 628.2,227.4 632,222.6 635.9,217.7 639.7,213 643.6,208.2 647.4,203.5 651.3,198.9 655.2,194.3 659,189.8 662.9,185.3 666.7,180.8 670.6,176.4 674.4,172.1 678.3,167.7 682.1,163.4 686,159.1 689.8,154.9 693.7,150.8 697.5,146.8 701.4,143 705.3,139.2 709.1,135.5 713,131.9 716.8,128.5 720.7,125.4 724.5,122.4 728.4,119.6 732.2,116.9 736.1,114.3 739.9,111.7 743.8,108.6 747.6,105.9 751.5,103.6 755.4,101.6 759.2,100 763.1,98.9 766.9,98 770.8,97.4 774.6,97.1 778.5,96.8 782.3,96.6 786.2,96.4 790,96.2 793.9,96.1 797.8,96 801.6,96 805.5,95.9 809.3,95.8 813.2,95.7 817,95.6 820.9,95.5 824.7,95.4 828.6,95.3 832.4,95.2 836.3,95.1 840.1,95 844,95 847.9,94.9 851.7,94.8 855.6,94.7 859.4,94.6 863.3,94.5 867.1,94.4 871,94.3 874.8,94.2 878.7,94.1 882.5,94 886.4,93.9 890.2,93.8 894.1,93.7 898,93.6 901.8,93.5 905.7,93.4 909.5,93.3 913.4,93.2 917.2,93.1 921.1,93 924.9,92.9 928.8,92.8 932.6,92.7 936.5,92.6 940.3,92.5 944.2,92.4"/>
<polyline fill="none" stroke="#faf032" stroke-width="2.7" stroke-linejoin="round" points="601.2,263 605.1,257.8 608.9,252.6 612.8,247.5 616.6,242.4 620.5,237.4 624.3,232.4 628.2,227.5 632,222.6 635.9,217.8 639.7,213 643.6,208.3 647.4,203.6 651.3,199 655.2,194.4 659,189.9 662.9,185.4 666.7,181 670.6,176.6 674.4,172.3 678.3,168 682.1,163.6 686,159.3 689.8,155.2 693.7,151.1 697.5,147.1 701.4,143.3 705.3,139.5 709.1,135.8 713,132.3 716.8,128.9 720.7,125.8 724.5,122.8 728.4,120 732.2,117.3 736.1,114.8 739.9,112.2 743.8,109.1 747.6,106.4 751.5,104.1 755.4,102.1 759.2,100.6 763.1,99.4 766.9,98.5 770.8,97.9 774.6,97.6 778.5,97.3 782.3,97.1 786.2,96.9 790,96.8 793.9,96.7 797.8,96.6 801.6,96.5 805.5,96.4 809.3,96.3 813.2,96.2 817,96.2 820.9,96.1 824.7,96 828.6,95.9 832.4,95.8 836.3,95.7 840.1,95.6 844,95.5 847.9,95.4 851.7,95.3 855.6,95.2 859.4,95.1 863.3,95 867.1,95 871,94.9 874.8,94.8 878.7,94.7 882.5,94.6 886.4,94.5 890.2,94.4 894.1,94.3 898,94.2 901.8,94.1 905.7,94 909.5,93.9 913.4,93.8 917.2,93.7 921.1,93.6 924.9,93.5 928.8,93.4 932.6,93.3 936.5,93.2 940.3,93.1 944.2,93"/>
<polyline fill="none" stroke="#fce128" stroke-width="2.7" stroke-linejoin="round" points="601.2,263 605.1,257.8 608.9,252.6 612.8,247.5 616.6,242.4 620.5,237.4 624.3,232.4 628.2,227.5 632,222.7 635.9,217.9 639.7,213.1 643.6,208.4 647.4,203.8 651.3,199.1 655.2,194.6 659,190.1 662.9,185.6 666.7,181.2 670.6,176.9 674.4,172.5 678.3,168.2 682.1,163.9 686,159.7 689.8,155.5 693.7,151.4 697.5,147.5 701.4,143.7 705.3,140 709.1,136.3 713,132.7 716.8,129.4 720.7,126.2 724.5,123.3 728.4,120.5 732.2,117.8 736.1,115.3 739.9,112.7 743.8,109.7 747.6,107 751.5,104.7 755.4,102.7 759.2,101.2 763.1,100 766.9,99.1 770.8,98.5 774.6,98.2 778.5,97.9 782.3,97.7 786.2,97.5 790,97.4 793.9,97.3 797.8,97.2 801.6,97.1 805.5,97 809.3,97 813.2,96.9 817,96.8 820.9,96.7 824.7,96.6 828.6,96.5 832.4,96.4 836.3,96.3 840.1,96.3 844,96.2 847.9,96.1 851.7,96 855.6,95.9 859.4,95.8 863.3,95.7 867.1,95.6 871,95.5 874.8,95.4 878.7,95.3 882.5,95.2 886.4,95.2 890.2,95.1 894.1,95 898,94.9 901.8,94.8 905.7,94.7 909.5,94.6 913.4,94.5 917.2,94.4 921.1,94.3 924.9,94.2 928.8,94.1 932.6,94 936.5,93.9 940.3,93.8 944.2,93.7"/>
<polyline fill="none" stroke="#ffd21e" stroke-width="2.7" stroke-linejoin="round" points="601.2,263 605.1,257.8 608.9,252.6 612.8,247.5 616.6,242.4 620.5,237.4 624.3,232.5 628.2,227.6 632,222.7 635.9,217.9 639.7,213.2 643.6,208.5 647.4,203.9 651.3,199.3 655.2,194.7 659,190.2 662.9,185.8 666.7,181.4 670.6,177.1 674.4,172.8 678.3,168.5 682.1,164.2 686,160 689.8,155.8 693.7,151.8 697.5,147.9 701.4,144.1 705.3,140.4 709.1,136.7 713,133.2 716.8,129.8 720.7,126.7 724.5,123.7 728.4,121 732.2,118.3 736.1,115.8 739.9,113.3 743.8,110.3 747.6,107.6 751.5,105.3 755.4,103.3 759.2,101.8 763.1,100.6 766.9,99.7 770.8,99.1 774.6,98.8 778.5,98.5 782.3,98.3 786.2,98.1 790,98 793.9,97.9 797.8,97.8 801.6,97.7 805.5,97.7 809.3,97.6 813.2,97.5 817,97.4 820.9,97.3 824.7,97.2 828.6,97.2 832.4,97.1 836.3,97 840.1,96.9 844,96.8 847.9,96.7 851.7,96.6 855.6,96.5 859.4,96.5 863.3,96.4 867.1,96.3 871,96.2 874.8,96.1 878.7,96 882.5,95.9 886.4,95.8 890.2,95.7 894.1,95.6 898,95.6 901.8,95.5 905.7,95.4 909.5,95.3 913.4,95.2 917.2,95.1 921.1,95 924.9,94.9 928.8,94.8 932.6,94.7 936.5,94.6 940.3,94.5 944.2,94.4"/>
<polyline fill="none" stroke="#ffbd1e" stroke-width="2.7" stroke-linejoin="round" points="601.2,263 605.1,257.8 608.9,252.6 612.8,247.5 616.6,242.5 620.5,237.5 624.3,232.5 628.2,227.6 632,222.8 635.9,218 639.7,213.3 643.6,208.6 647.4,204 651.3,199.4 655.2,194.9 659,190.4 662.9,186 666.7,181.6 670.6,177.3 674.4,173 678.3,168.8 682.1,164.5 686,160.3 689.8,156.2 693.7,152.1 697.5,148.3 701.4,144.5 705.3,140.8 709.1,137.1 713,133.6 716.8,130.3 720.7,127.1 724.5,124.2 728.4,121.5 732.2,118.8 736.1,116.4 739.9,113.8 743.8,110.8 747.6,108.2 751.5,105.9 755.4,103.9 759.2,102.4 763.1,101.2 766.9,100.3 770.8,99.7 774.6,99.4 778.5,99.1 782.3,98.8 786.2,98.7 790,98.5 793.9,98.5 797.8,98.4 801.6,98.3 805.5,98.2 809.3,98.2 813.2,98.1 817,98 820.9,97.9 824.7,97.8 828.6,97.8 832.4,97.7 836.3,97.6 840.1,97.5 844,97.4 847.9,97.3 851.7,97.3 855.6,97.2 859.4,97.1 863.3,97 867.1,96.9 871,96.8 874.8,96.7 878.7,96.6 882.5,96.6 886.4,96.5 890.2,96.4 894.1,96.3 898,96.2 901.8,96.1 905.7,96 909.5,95.9 913.4,95.8 917.2,95.7 921.1,95.6 924.9,95.6 928.8,95.5 932.6,95.4 936.5,95.3 940.3,95.2 944.2,95.1"/>
<polyline fill="none" stroke="#ffa81e" stroke-width="2.7" stroke-linejoin="round" points="601.2,263 605.1,257.8 608.9,252.6 612.8,247.5 616.6,242.5 620.5,237.5 624.3,232.6 628.2,227.7 632,222.8 635.9,218.1 639.7,213.4 643.6,208.7 647.4,204.1 651.3,199.5 655.2,195 659,190.6 662.9,186.2 666.7,181.8 670.6,177.5 674.4,173.3 678.3,169 682.1,164.8 686,160.6 689.8,156.5 693.7,152.5 697.5,148.6 701.4,144.9 705.3,141.2 709.1,137.5 713,134 716.8,130.7 720.7,127.5 724.5,124.6 728.4,121.9 732.2,119.3 736.1,116.9 739.9,114.4 743.8,111.4 747.6,108.7 751.5,106.4 755.4,104.5 759.2,102.9 763.1,101.7 766.9,100.8 770.8,100.3 774.6,99.9 778.5,99.6 782.3,99.4 786.2,99.2 790,99.1 793.9,99 797.8,99 801.6,98.9 805.5,98.8 809.3,98.8 813.2,98.7 817,98.6 820.9,98.5 824.7,98.4 828.6,98.4 832.4,98.3 836.3,98.2 840.1,98.1 844,98 847.9,98 851.7,97.9 855.6,97.8 859.4,97.7 863.3,97.6 867.1,97.5 871,97.5 874.8,97.4 878.7,97.3 882.5,97.2 886.4,97.1 890.2,97 894.1,96.9 898,96.9 901.8,96.8 905.7,96.7 909.5,96.6 913.4,96.5 917.2,96.4 921.1,96.3 924.9,96.2 928.8,96.1 932.6,96 936.5,95.9 940.3,95.8 944.2,95.7"/>
<polyline fill="none" stroke="#ff9119" stroke-width="2.7" stroke-linejoin="round" points="601.2,263 605.1,257.8 608.9,252.6 612.8,247.5 616.6,242.5 620.5,237.5 624.3,232.6 628.2,227.8 632,223 635.9,218.2 639.7,213.5 643.6,208.9 647.4,204.3 651.3,199.7 655.2,195.3 659,190.8 662.9,186.5 666.7,182.2 670.6,177.9 674.4,173.7 678.3,169.5 682.1,165.3 686,161.2 689.8,157.1 693.7,153.1 697.5,149.3 701.4,145.5 705.3,141.9 709.1,138.2 713,134.7 716.8,131.4 720.7,128.3 724.5,125.5 728.4,122.8 732.2,120.2 736.1,117.8 739.9,115.3 743.8,112.3 747.6,109.7 751.5,107.5 755.4,105.5 759.2,104 763.1,102.8 766.9,101.8 770.8,101.3 774.6,100.9 778.5,100.7 782.3,100.4 786.2,100.3 790,100.2 793.9,100.1 797.8,100 801.6,100 805.5,99.9 809.3,99.8 813.2,99.8 817,99.7 820.9,99.6 824.7,99.5 828.6,99.5 832.4,99.4 836.3,99.3 840.1,99.2 844,99.2 847.9,99.1 851.7,99 855.6,98.9 859.4,98.8 863.3,98.8 867.1,98.7 871,98.6 874.8,98.5 878.7,98.4 882.5,98.4 886.4,98.3 890.2,98.2 894.1,98.1 898,98 901.8,97.9 905.7,97.9 909.5,97.8 913.4,97.7 917.2,97.6 921.1,97.5 924.9,97.4 928.8,97.3 932.6,97.2 936.5,97.2 940.3,97.1 944.2,97"/>
<polyline fill="none" stroke="#ff7a14" stroke-width="2.7" stroke-linejoin="round" points="601.2,263 605.1,257.8 608.9,252.7 612.8,247.6 616.6,242.5 620.5,237.6 624.3,232.7 628.2,227.8 632,223.1 635.9,218.3 639.7,213.7 643.6,209 647.4,204.5 651.3,200 655.2,195.5 659,191.1 662.9,186.8 666.7,182.5 670.6,178.3 674.4,174.2 678.3,170 682.1,165.8 686,161.7 689.8,157.7 693.7,153.7 697.5,149.9 701.4,146.2 705.3,142.6 709.1,139 713,135.5 716.8,132.2 720.7,129.1 724.5,126.3 728.4,123.6 732.2,121.1 736.1,118.7 739.9,116.3 743.8,113.3 747.6,110.7 751.5,108.5 755.4,106.6 759.2,105 763.1,103.8 766.9,102.9 770.8,102.3 774.6,102 778.5,101.7 782.3,101.5 786.2,101.3 790,101.2 793.9,101.1 797.8,101.1 801.6,101 805.5,101 809.3,100.9 813.2,100.8 817,100.8 820.9,100.7 824.7,100.6 828.6,100.6 832.4,100.5 836.3,100.4 840.1,100.3 844,100.3 847.9,100.2 851.7,100.1 855.6,100.1 859.4,100 863.3,99.9 867.1,99.8 871,99.8 874.8,99.7 878.7,99.6 882.5,99.5 886.4,99.4 890.2,99.4 894.1,99.3 898,99.2 901.8,99.1 905.7,99 909.5,99 913.4,98.9 917.2,98.8 921.1,98.7 924.9,98.6 928.8,98.5 932.6,98.5 936.5,98.4 940.3,98.3 944.2,98.2"/>
<polyline fill="none" stroke="#fc6013" stroke-width="2.7" stroke-linejoin="round" points="601.2,263 605.1,257.8 608.9,252.7 612.8,247.6 616.6,242.6 620.5,237.6 624.3,232.8 628.2,227.9 632,223.2 635.9,218.5 639.7,213.8 643.6,209.2 647.4,204.7 651.3,200.2 655.2,195.8 659,191.4 662.9,187.1 666.7,182.9 670.6,178.7 674.4,174.6 678.3,170.5 682.1,166.4 686,162.3 689.8,158.3 693.7,154.4 697.5,150.6 701.4,146.9 705.3,143.3 709.1,139.7 713,136.2 716.8,133 720.7,129.9 724.5,127.1 728.4,124.5 732.2,122 736.1,119.7 739.9,117.3 743.8,114.3 747.6,111.8 751.5,109.5 755.4,107.6 759.2,106.1 763.1,104.9 766.9,103.9 770.8,103.4 774.6,103 778.5,102.7 782.3,102.5 786.2,102.4 790,102.3 793.9,102.2 797.8,102.1 801.6,102.1 805.5,102 809.3,102 813.2,101.9 817,101.9 820.9,101.8 824.7,101.7 828.6,101.7 832.4,101.6 836.3,101.5 840.1,101.5 844,101.4 847.9,101.3 851.7,101.3 855.6,101.2 859.4,101.1 863.3,101.1 867.1,101 871,100.9 874.8,100.8 878.7,100.8 882.5,100.7 886.4,100.6 890.2,100.6 894.1,100.5 898,100.4 901.8,100.3 905.7,100.2 909.5,100.2 913.4,100.1 917.2,100 921.1,99.9 924.9,99.8 928.8,99.8 932.6,99.7 936.5,99.6 940.3,99.5 944.2,99.4"/>
<polyline fill="none" stroke="#fa4612" stroke-width="2.7" stroke-linejoin="round" points="601.2,263 605.1,257.8 608.9,252.7 612.8,247.6 616.6,242.6 620.5,237.7 624.3,232.8 628.2,228 632,223.3 635.9,218.6 639.7,214 643.6,209.4 647.4,204.9 651.3,200.4 655.2,196 659,191.7 662.9,187.4 666.7,183.2 670.6,179.1 674.4,175.1 678.3,171 682.1,166.9 686,162.8 689.8,158.9 693.7,155 697.5,151.2 701.4,147.6 705.3,144 709.1,140.5 713,137 716.8,133.8 720.7,130.7 724.5,127.9 728.4,125.3 732.2,122.9 736.1,120.6 739.9,118.2 743.8,115.3 747.6,112.8 751.5,110.6 755.4,108.7 759.2,107.1 763.1,105.9 766.9,105 770.8,104.4 774.6,104.1 778.5,103.8 782.3,103.6 786.2,103.4 790,103.3 793.9,103.3 797.8,103.2 801.6,103.2 805.5,103.1 809.3,103.1 813.2,103 817,102.9 820.9,102.9 824.7,102.8 828.6,102.8 832.4,102.7 836.3,102.7 840.1,102.6 844,102.5 847.9,102.5 851.7,102.4 855.6,102.3 859.4,102.3 863.3,102.2 867.1,102.1 871,102.1 874.8,102 878.7,101.9 882.5,101.9 886.4,101.8 890.2,101.7 894.1,101.7 898,101.6 901.8,101.5 905.7,101.4 909.5,101.4 913.4,101.3 917.2,101.2 921.1,101.1 924.9,101.1 928.8,101 932.6,100.9 936.5,100.8 940.3,100.8 944.2,100.7"/>
<polyline fill="none" stroke="#f62c12" stroke-width="2.7" stroke-linejoin="round" points="601.2,263 605.1,257.8 608.9,252.7 612.8,247.7 616.6,242.7 620.5,237.8 624.3,232.9 628.2,228.1 632,223.4 635.9,218.7 639.7,214.1 643.6,209.6 647.4,205.1 651.3,200.7 655.2,196.3 659,192 662.9,187.8 666.7,183.7 670.6,179.6 674.4,175.6 678.3,171.6 682.1,167.5 686,163.5 689.8,159.6 693.7,155.8 697.5,152 701.4,148.4 705.3,144.9 709.1,141.4 713,137.9 716.8,134.7 720.7,131.7 724.5,128.9 728.4,126.4 732.2,124 736.1,121.8 739.9,119.4 743.8,116.5 747.6,114 751.5,111.9 755.4,110 759.2,108.4 763.1,107.2 766.9,106.2 770.8,105.7 774.6,105.3 778.5,105.1 782.3,104.9 786.2,104.7 790,104.6 793.9,104.5 797.8,104.5 801.6,104.5 805.5,104.4 809.3,104.4 813.2,104.3 817,104.3 820.9,104.2 824.7,104.2 828.6,104.1 832.4,104.1 836.3,104 840.1,104 844,103.9 847.9,103.9 851.7,103.8 855.6,103.7 859.4,103.7 863.3,103.6 867.1,103.6 871,103.5 874.8,103.4 878.7,103.4 882.5,103.3 886.4,103.2 890.2,103.2 894.1,103.1 898,103.1 901.8,103 905.7,102.9 909.5,102.8 913.4,102.8 917.2,102.7 921.1,102.6 924.9,102.6 928.8,102.5 932.6,102.4 936.5,102.3 940.3,102.3 944.2,102.2"/>
<polyline fill="none" stroke="#f21212" stroke-width="2.7" stroke-linejoin="round" points="601.2,263 605.1,257.8 608.9,252.7 612.8,247.7 616.6,242.7 620.5,237.8 624.3,233 628.2,228.2 632,223.5 635.9,218.9 639.7,214.3 643.6,209.8 647.4,205.4 651.3,201 655.2,196.6 659,192.4 662.9,188.2 666.7,184.1 670.6,180.1 674.4,176.1 678.3,172.2 682.1,168.2 686,164.2 689.8,160.3 693.7,156.5 697.5,152.8 701.4,149.3 705.3,145.8 709.1,142.3 713,138.9 716.8,135.7 720.7,132.7 724.5,129.9 728.4,127.4 732.2,125.1 736.1,122.9 739.9,120.6 743.8,117.7 747.6,115.3 751.5,113.1 755.4,111.3 759.2,109.7 763.1,108.5 766.9,107.5 770.8,106.9 774.6,106.6 778.5,106.3 782.3,106.1 786.2,106 790,105.9 793.9,105.8 797.8,105.8 801.6,105.8 805.5,105.7 809.3,105.7 813.2,105.7 817,105.6 820.9,105.6 824.7,105.5 828.6,105.5 832.4,105.4 836.3,105.4 840.1,105.3 844,105.3 847.9,105.2 851.7,105.2 855.6,105.1 859.4,105.1 863.3,105 867.1,105 871,104.9 874.8,104.9 878.7,104.8 882.5,104.7 886.4,104.7 890.2,104.6 894.1,104.6 898,104.5 901.8,104.4 905.7,104.4 909.5,104.3 913.4,104.3 917.2,104.2 921.1,104.1 924.9,104.1 928.8,104 932.6,103.9 936.5,103.8 940.3,103.8 944.2,103.7"/>
<polyline fill="none" stroke="#e020e6" stroke-width="2.7" stroke-linejoin="round" points="602.8,256.3 605.1,256.3 608.9,256.3 612.8,256.3 616.6,256.3 620.5,256.2 624.3,256.2 628.2,256.2 632,256.1 635.9,256.1 639.7,256 643.6,256 647.4,255.9 651.3,255.8 655.2,255.7 659,255.6 662.9,255.4 666.7,255.2 670.6,255 674.4,254.7 678.3,254.5 682.1,254.2 686,253.9 689.8,253.6 693.7,253.3 697.5,253 701.4,252.7 705.3,252.3 709.1,251.9 713,251.5 716.8,251.1 720.7,250.7 724.5,250.4 728.4,250 732.2,249.6 736.1,249.2 739.9,248.7 743.8,248.2 747.6,247.6 751.5,246.9 755.4,246.2 759.2,245.5 763.1,244.6 766.9,243.7 770.8,242.8 774.6,241.9 778.5,240.9 782.3,239.9 786.2,239 790,238 793.9,237 797.8,236.1 801.6,235.1 805.5,234.1 809.3,233.2 813.2,232.3 817,231.3 820.9,230.4 824.7,229.4 828.6,228.5 832.4,227.6 836.3,226.6 840.1,225.7 844,224.7 847.9,223.8 851.7,222.8 855.6,221.8 859.4,220.9 863.3,219.9 867.1,218.9 871,217.9 874.8,216.9 878.7,215.8 882.5,214.8 886.4,213.8 890.2,212.8 894.1,211.8 898,210.7 901.8,209.7 905.7,208.6 909.5,207.6 913.4,206.5 917.2,205.5 921.1,204.4 924.9,203.3 928.8,202.3 932.6,201.2 936.5,200.1 940.3,199 944.2,197.9"/>
<polyline fill="none" stroke="#a020e0" stroke-width="2.7" stroke-linejoin="round" points="602.8,256.5 605.1,256.5 608.9,256.4 612.8,256.4 616.6,256.3 620.5,256.2 624.3,256.1 628.2,256.1 632,256 635.9,255.9 639.7,255.8 643.6,255.7 647.4,255.6 651.3,255.5 655.2,255.4 659,255.2 662.9,255 666.7,254.8 670.6,254.5 674.4,254.2 678.3,254 682.1,253.6 686,253.3 689.8,253 693.7,252.6 697.5,252.2 701.4,251.9 705.3,251.5 709.1,251.1 713,250.7 716.8,250.2 720.7,249.8 724.5,249.5 728.4,249.1 732.2,248.7 736.1,248.2 739.9,247.7 743.8,247.1 747.6,246.5 751.5,245.9 755.4,245.2 759.2,244.4 763.1,243.5 766.9,242.6 770.8,241.7 774.6,240.7 778.5,239.7 782.3,238.7 786.2,237.7 790,236.7 793.9,235.7 797.8,234.7 801.6,233.7 805.5,232.7 809.3,231.7 813.2,230.8 817,229.8 820.9,228.8 824.7,227.8 828.6,226.9 832.4,225.9 836.3,224.9 840.1,223.9 844,223 847.9,222 851.7,221 855.6,220 859.4,218.9 863.3,217.9 867.1,216.9 871,215.9 874.8,214.8 878.7,213.8 882.5,212.8 886.4,211.7 890.2,210.7 894.1,209.6 898,208.6 901.8,207.5 905.7,206.4 909.5,205.4 913.4,204.3 917.2,203.2 921.1,202.1 924.9,201.1 928.8,200 932.6,198.9 936.5,197.8 940.3,196.7 944.2,195.6"/>
<polyline fill="none" stroke="#6420e6" stroke-width="2.7" stroke-linejoin="round" points="602.8,256.6 605.1,256.6 608.9,256.5 612.8,256.4 616.6,256.3 620.5,256.2 624.3,256.1 628.2,256 632,255.9 635.9,255.8 639.7,255.7 643.6,255.6 647.4,255.4 651.3,255.3 655.2,255.1 659,254.9 662.9,254.7 666.7,254.5 670.6,254.2 674.4,253.9 678.3,253.6 682.1,253.3 686,252.9 689.8,252.5 693.7,252.1 697.5,251.7 701.4,251.3 705.3,250.9 709.1,250.5 713,250.1 716.8,249.6 720.7,249.2 724.5,248.8 728.4,248.4 732.2,248 736.1,247.5 739.9,247 743.8,246.4 747.6,245.8 751.5,245.1 755.4,244.4 759.2,243.6 763.1,242.7 766.9,241.8 770.8,240.9 774.6,239.9 778.5,238.8 782.3,237.8 786.2,236.8 790,235.8 793.9,234.8 797.8,233.8 801.6,232.7 805.5,231.7 809.3,230.7 813.2,229.7 817,228.7 820.9,227.7 824.7,226.7 828.6,225.7 832.4,224.7 836.3,223.7 840.1,222.7 844,221.7 847.9,220.7 851.7,219.7 855.6,218.7 859.4,217.6 863.3,216.6 867.1,215.5 871,214.5 874.8,213.4 878.7,212.4 882.5,211.3 886.4,210.3 890.2,209.2 894.1,208.1 898,207.1 901.8,206 905.7,204.9 909.5,203.8 913.4,202.7 917.2,201.7 921.1,200.6 924.9,199.5 928.8,198.4 932.6,197.3 936.5,196.2 940.3,195 944.2,193.9"/>
<polyline fill="none" stroke="#2a1eea" stroke-width="2.7" stroke-linejoin="round" points="602.8,256.7 605.1,256.7 608.9,256.6 612.8,256.4 616.6,256.3 620.5,256.2 624.3,256.1 628.2,256 632,255.8 635.9,255.7 639.7,255.6 643.6,255.4 647.4,255.3 651.3,255.1 655.2,254.9 659,254.7 662.9,254.5 666.7,254.2 670.6,253.9 674.4,253.6 678.3,253.3 682.1,253 686,252.6 689.8,252.2 693.7,251.8 697.5,251.3 701.4,250.9 705.3,250.5 709.1,250.1 713,249.6 716.8,249.2 720.7,248.7 724.5,248.3 728.4,247.9 732.2,247.5 736.1,247 739.9,246.5 743.8,245.9 747.6,245.2 751.5,244.6 755.4,243.8 759.2,243 763.1,242.1 766.9,241.2 770.8,240.3 774.6,239.3 778.5,238.2 782.3,237.2 786.2,236.1 790,235.1 793.9,234.1 797.8,233 801.6,232 805.5,231 809.3,229.9 813.2,228.9 817,227.9 820.9,226.9 824.7,225.9 828.6,224.9 832.4,223.8 836.3,222.8 840.1,221.8 844,220.8 847.9,219.7 851.7,218.7 855.6,217.7 859.4,216.6 863.3,215.6 867.1,214.5 871,213.4 874.8,212.4 878.7,211.3 882.5,210.2 886.4,209.2 890.2,208.1 894.1,207 898,205.9 901.8,204.8 905.7,203.8 909.5,202.7 913.4,201.6 917.2,200.5 921.1,199.4 924.9,198.3 928.8,197.1 932.6,196 936.5,194.9 940.3,193.8 944.2,192.7"/>
<polyline fill="none" stroke="#1d27ed" stroke-width="2.7" stroke-linejoin="round" points="602.8,256.8 605.1,256.7 608.9,256.6 612.8,256.5 616.6,256.3 620.5,256.2 624.3,256.1 628.2,255.9 632,255.8 635.9,255.7 639.7,255.5 643.6,255.4 647.4,255.2 651.3,255 655.2,254.8 659,254.6 662.9,254.4 666.7,254.1 670.6,253.8 674.4,253.5 678.3,253.2 682.1,252.8 686,252.4 689.8,252 693.7,251.6 697.5,251.1 701.4,250.7 705.3,250.3 709.1,249.8 713,249.4 716.8,248.9 720.7,248.5 724.5,248.1 728.4,247.7 732.2,247.2 736.1,246.7 739.9,246.2 743.8,245.6 747.6,245 751.5,244.3 755.4,243.5 759.2,242.7 763.1,241.8 766.9,240.9 770.8,240 774.6,239 778.5,237.9 782.3,236.8 786.2,235.8 790,234.7 793.9,233.7 797.8,232.7 801.6,231.6 805.5,230.6 809.3,229.6 813.2,228.5 817,227.5 820.9,226.5 824.7,225.5 828.6,224.4 832.4,223.4 836.3,222.4 840.1,221.3 844,220.3 847.9,219.3 851.7,218.2 855.6,217.2 859.4,216.1 863.3,215 867.1,214 871,212.9 874.8,211.8 878.7,210.8 882.5,209.7 886.4,208.6 890.2,207.5 894.1,206.4 898,205.4 901.8,204.3 905.7,203.2 909.5,202.1 913.4,201 917.2,199.9 921.1,198.8 924.9,197.6 928.8,196.5 932.6,195.4 936.5,194.3 940.3,193.2 944.2,192"/>
<polyline fill="none" stroke="#1030f0" stroke-width="2.7" stroke-linejoin="round" points="602.8,256.8 605.1,256.8 608.9,256.6 612.8,256.5 616.6,256.3 620.5,256.2 624.3,256.1 628.2,255.9 632,255.8 635.9,255.6 639.7,255.5 643.6,255.3 647.4,255.1 651.3,254.9 655.2,254.7 659,254.5 662.9,254.3 666.7,254 670.6,253.7 674.4,253.4 678.3,253 682.1,252.7 686,252.3 689.8,251.9 693.7,251.4 697.5,250.9 701.4,250.5 705.3,250.1 709.1,249.6 713,249.2 716.8,248.7 720.7,248.3 724.5,247.9 728.4,247.4 732.2,247 736.1,246.5 739.9,245.9 743.8,245.3 747.6,244.7 751.5,244 755.4,243.2 759.2,242.4 763.1,241.6 766.9,240.6 770.8,239.7 774.6,238.6 778.5,237.6 782.3,236.5 786.2,235.4 790,234.4 793.9,233.3 797.8,232.3 801.6,231.3 805.5,230.2 809.3,229.2 813.2,228.1 817,227.1 820.9,226.1 824.7,225 828.6,224 832.4,223 836.3,221.9 840.1,220.9 844,219.8 847.9,218.8 851.7,217.7 855.6,216.7 859.4,215.6 863.3,214.5 867.1,213.5 871,212.4 874.8,211.3 878.7,210.2 882.5,209.1 886.4,208.1 890.2,207 894.1,205.9 898,204.8 901.8,203.7 905.7,202.6 909.5,201.5 913.4,200.4 917.2,199.3 921.1,198.2 924.9,197 928.8,195.9 932.6,194.8 936.5,193.7 940.3,192.5 944.2,191.4"/>
<polyline fill="none" stroke="#124af2" stroke-width="2.7" stroke-linejoin="round" points="602.8,256.9 605.1,256.8 608.9,256.7 612.8,256.5 616.6,256.4 620.5,256.2 624.3,256 628.2,255.9 632,255.7 635.9,255.6 639.7,255.4 643.6,255.2 647.4,255.1 651.3,254.9 655.2,254.7 659,254.4 662.9,254.2 666.7,253.9 670.6,253.6 674.4,253.3 678.3,252.9 682.1,252.5 686,252.2 689.8,251.7 693.7,251.3 697.5,250.8 701.4,250.3 705.3,249.9 709.1,249.4 713,249 716.8,248.5 720.7,248.1 724.5,247.7 728.4,247.2 732.2,246.8 736.1,246.3 739.9,245.7 743.8,245.1 747.6,244.4 751.5,243.7 755.4,243 759.2,242.2 763.1,241.3 766.9,240.4 770.8,239.4 774.6,238.4 778.5,237.3 782.3,236.2 786.2,235.2 790,234.1 793.9,233.1 797.8,232 801.6,231 805.5,229.9 809.3,228.9 813.2,227.8 817,226.8 820.9,225.7 824.7,224.7 828.6,223.6 832.4,222.6 836.3,221.5 840.1,220.5 844,219.4 847.9,218.4 851.7,217.3 855.6,216.3 859.4,215.2 863.3,214.1 867.1,213 871,212 874.8,210.9 878.7,209.8 882.5,208.7 886.4,207.6 890.2,206.5 894.1,205.4 898,204.3 901.8,203.2 905.7,202.1 909.5,201 913.4,199.9 917.2,198.8 921.1,197.7 924.9,196.5 928.8,195.4 932.6,194.3 936.5,193.2 940.3,192 944.2,190.9"/>
<polyline fill="none" stroke="#1464f5" stroke-width="2.7" stroke-linejoin="round" points="602.8,256.9 605.1,256.8 608.9,256.7 612.8,256.5 616.6,256.4 620.5,256.2 624.3,256 628.2,255.9 632,255.7 635.9,255.5 639.7,255.4 643.6,255.2 647.4,255 651.3,254.8 655.2,254.6 659,254.3 662.9,254.1 666.7,253.8 670.6,253.5 674.4,253.1 678.3,252.8 682.1,252.4 686,252 689.8,251.6 693.7,251.1 697.5,250.6 701.4,250.2 705.3,249.7 709.1,249.3 713,248.8 716.8,248.3 720.7,247.9 724.5,247.5 728.4,247 732.2,246.6 736.1,246.1 739.9,245.5 743.8,244.9 747.6,244.2 751.5,243.5 755.4,242.8 759.2,241.9 763.1,241.1 766.9,240.1 770.8,239.2 774.6,238.1 778.5,237 782.3,235.9 786.2,234.9 790,233.8 793.9,232.8 797.8,231.7 801.6,230.6 805.5,229.6 809.3,228.5 813.2,227.5 817,226.4 820.9,225.4 824.7,224.3 828.6,223.3 832.4,222.2 836.3,221.2 840.1,220.1 844,219.1 847.9,218 851.7,216.9 855.6,215.9 859.4,214.8 863.3,213.7 867.1,212.6 871,211.5 874.8,210.4 878.7,209.3 882.5,208.2 886.4,207.1 890.2,206 894.1,204.9 898,203.8 901.8,202.7 905.7,201.6 909.5,200.5 913.4,199.4 917.2,198.3 921.1,197.2 924.9,196 928.8,194.9 932.6,193.8 936.5,192.7 940.3,191.5 944.2,190.4"/>
<polyline fill="none" stroke="#197ff5" stroke-width="2.7" stroke-linejoin="round" points="602.8,257 605.1,256.9 608.9,256.7 612.8,256.5 616.6,256.4 620.5,256.2 624.3,256 628.2,255.9 632,255.7 635.9,255.5 639.7,255.3 643.6,255.1 647.4,254.9 651.3,254.7 655.2,254.5 659,254.3 662.9,254 666.7,253.7 670.6,253.4 674.4,253.1 678.3,252.7 682.1,252.3 686,251.9 689.8,251.5 693.7,251 697.5,250.5 701.4,250 705.3,249.6 709.1,249.1 713,248.6 716.8,248.2 720.7,247.7 724.5,247.3 728.4,246.8 732.2,246.4 736.1,245.9 739.9,245.3 743.8,244.7 747.6,244 751.5,243.3 755.4,242.6 759.2,241.7 763.1,240.9 766.9,239.9 770.8,239 774.6,237.9 778.5,236.8 782.3,235.7 786.2,234.6 790,233.6 793.9,232.5 797.8,231.4 801.6,230.4 805.5,229.3 809.3,228.3 813.2,227.2 817,226.1 820.9,225.1 824.7,224 828.6,223 832.4,221.9 836.3,220.8 840.1,219.8 844,218.7 847.9,217.6 851.7,216.6 855.6,215.5 859.4,214.4 863.3,213.3 867.1,212.2 871,211.1 874.8,210 878.7,209 882.5,207.9 886.4,206.8 890.2,205.6 894.1,204.5 898,203.4 901.8,202.3 905.7,201.2 909.5,200.1 913.4,199 917.2,197.9 921.1,196.7 924.9,195.6 928.8,194.5 932.6,193.3 936.5,192.2 940.3,191.1 944.2,189.9"/>
<polyline fill="none" stroke="#1e9af5" stroke-width="2.7" stroke-linejoin="round" points="602.8,257 605.1,256.9 608.9,256.7 612.8,256.6 616.6,256.4 620.5,256.2 624.3,256 628.2,255.8 632,255.7 635.9,255.5 639.7,255.3 643.6,255.1 647.4,254.9 651.3,254.7 655.2,254.4 659,254.2 662.9,253.9 666.7,253.6 670.6,253.3 674.4,253 678.3,252.6 682.1,252.2 686,251.8 689.8,251.4 693.7,250.8 697.5,250.3 701.4,249.9 705.3,249.4 709.1,248.9 713,248.5 716.8,248 720.7,247.5 724.5,247.1 728.4,246.7 732.2,246.2 736.1,245.7 739.9,245.1 743.8,244.5 747.6,243.8 751.5,243.1 755.4,242.3 759.2,241.5 763.1,240.6 766.9,239.7 770.8,238.7 774.6,237.7 778.5,236.6 782.3,235.5 786.2,234.4 790,233.3 793.9,232.3 797.8,231.2 801.6,230.1 805.5,229 809.3,228 813.2,226.9 817,225.8 820.9,224.8 824.7,223.7 828.6,222.6 832.4,221.6 836.3,220.5 840.1,219.4 844,218.4 847.9,217.3 851.7,216.2 855.6,215.1 859.4,214 863.3,213 867.1,211.9 871,210.8 874.8,209.7 878.7,208.6 882.5,207.5 886.4,206.4 890.2,205.2 894.1,204.1 898,203 901.8,201.9 905.7,200.8 909.5,199.7 913.4,198.5 917.2,197.4 921.1,196.3 924.9,195.2 928.8,194 932.6,192.9 936.5,191.8 940.3,190.6 944.2,189.5"/>
<polyline fill="none" stroke="#23b6f2" stroke-width="2.7" stroke-linejoin="round" points="602.8,257 605.1,256.9 608.9,256.7 612.8,256.6 616.6,256.4 620.5,256.2 624.3,256 628.2,255.8 632,255.6 635.9,255.4 639.7,255.3 643.6,255 647.4,254.8 651.3,254.6 655.2,254.4 659,254.1 662.9,253.8 666.7,253.5 670.6,253.2 674.4,252.9 678.3,252.5 682.1,252.1 686,251.7 689.8,251.2 693.7,250.7 697.5,250.2 701.4,249.7 705.3,249.2 709.1,248.8 713,248.3 716.8,247.8 720.7,247.4 724.5,246.9 728.4,246.5 732.2,246 736.1,245.5 739.9,244.9 743.8,244.3 747.6,243.6 751.5,242.9 755.4,242.1 759.2,241.3 763.1,240.4 766.9,239.5 770.8,238.5 774.6,237.5 778.5,236.3 782.3,235.2 786.2,234.2 790,233.1 793.9,232 797.8,230.9 801.6,229.8 805.5,228.8 809.3,227.7 813.2,226.6 817,225.6 820.9,224.5 824.7,223.4 828.6,222.3 832.4,221.3 836.3,220.2 840.1,219.1 844,218 847.9,217 851.7,215.9 855.6,214.8 859.4,213.7 863.3,212.6 867.1,211.5 871,210.4 874.8,209.3 878.7,208.2 882.5,207.1 886.4,206 890.2,204.8 894.1,203.7 898,202.6 901.8,201.5 905.7,200.4 909.5,199.2 913.4,198.1 917.2,197 921.1,195.9 924.9,194.7 928.8,193.6 932.6,192.5 936.5,191.3 940.3,190.2 944.2,189"/>
<polyline fill="none" stroke="#28d2f0" stroke-width="2.7" stroke-linejoin="round" points="602.8,257.1 605.1,257 608.9,256.8 612.8,256.6 616.6,256.4 620.5,256.2 624.3,256 628.2,255.8 632,255.6 635.9,255.4 639.7,255.2 643.6,255 647.4,254.8 651.3,254.6 655.2,254.3 659,254 662.9,253.8 666.7,253.4 670.6,253.1 674.4,252.8 678.3,252.4 682.1,252 686,251.6 689.8,251.1 693.7,250.6 697.5,250 701.4,249.6 705.3,249.1 709.1,248.6 713,248.1 716.8,247.7 720.7,247.2 724.5,246.8 728.4,246.3 732.2,245.8 736.1,245.3 739.9,244.7 743.8,244.1 747.6,243.4 751.5,242.7 755.4,241.9 759.2,241.1 763.1,240.2 766.9,239.3 770.8,238.3 774.6,237.3 778.5,236.1 782.3,235 786.2,233.9 790,232.8 793.9,231.7 797.8,230.7 801.6,229.6 805.5,228.5 809.3,227.4 813.2,226.3 817,225.3 820.9,224.2 824.7,223.1 828.6,222 832.4,220.9 836.3,219.9 840.1,218.8 844,217.7 847.9,216.6 851.7,215.5 855.6,214.4 859.4,213.3 863.3,212.2 867.1,211.1 871,210 874.8,208.9 878.7,207.8 882.5,206.7 886.4,205.6 890.2,204.4 894.1,203.3 898,202.2 901.8,201.1 905.7,200 909.5,198.8 913.4,197.7 917.2,196.6 921.1,195.4 924.9,194.3 928.8,193.2 932.6,192 936.5,190.9 940.3,189.7 944.2,188.6"/>
<polyline fill="none" stroke="#2ddce1" stroke-width="2.7" stroke-linejoin="round" points="602.8,257.1 605.1,257 608.9,256.8 612.8,256.6 616.6,256.4 620.5,256.2 624.3,256 628.2,255.8 632,255.6 635.9,255.4 639.7,255.2 643.6,255 647.4,254.7 651.3,254.5 655.2,254.2 659,254 662.9,253.7 666.7,253.4 670.6,253 674.4,252.7 678.3,252.3 682.1,251.9 686,251.5 689.8,251 693.7,250.5 697.5,249.9 701.4,249.4 705.3,248.9 709.1,248.4 713,248 716.8,247.5 720.7,247 724.5,246.6 728.4,246.1 732.2,245.6 736.1,245.1 739.9,244.5 743.8,243.9 747.6,243.2 751.5,242.5 755.4,241.7 759.2,240.9 763.1,240 766.9,239.1 770.8,238.1 774.6,237 778.5,235.9 782.3,234.8 786.2,233.7 790,232.6 793.9,231.5 797.8,230.4 801.6,229.3 805.5,228.2 809.3,227.1 813.2,226 817,225 820.9,223.9 824.7,222.8 828.6,221.7 832.4,220.6 836.3,219.5 840.1,218.4 844,217.3 847.9,216.3 851.7,215.2 855.6,214.1 859.4,212.9 863.3,211.8 867.1,210.7 871,209.6 874.8,208.5 878.7,207.4 882.5,206.3 886.4,205.2 890.2,204 894.1,202.9 898,201.8 901.8,200.7 905.7,199.5 909.5,198.4 913.4,197.3 917.2,196.1 921.1,195 924.9,193.8 928.8,192.7 932.6,191.6 936.5,190.4 940.3,189.3 944.2,188.1"/>
<polyline fill="none" stroke="#32e6d2" stroke-width="2.7" stroke-linejoin="round" points="602.8,257.1 605.1,257 608.9,256.8 612.8,256.6 616.6,256.4 620.5,256.2 624.3,256 628.2,255.8 632,255.6 635.9,255.3 639.7,255.1 643.6,254.9 647.4,254.7 651.3,254.4 655.2,254.2 659,253.9 662.9,253.6 666.7,253.3 670.6,252.9 674.4,252.6 678.3,252.2 682.1,251.8 686,251.3 689.8,250.9 693.7,250.3 697.5,249.8 701.4,249.2 705.3,248.8 709.1,248.3 713,247.8 716.8,247.3 720.7,246.9 724.5,246.4 728.4,245.9 732.2,245.4 736.1,244.9 739.9,244.3 743.8,243.7 747.6,243 751.5,242.3 755.4,241.5 759.2,240.7 763.1,239.8 766.9,238.8 770.8,237.9 774.6,236.8 778.5,235.6 782.3,234.5 786.2,233.4 790,232.3 793.9,231.2 797.8,230.1 801.6,229 805.5,227.9 809.3,226.8 813.2,225.8 817,224.7 820.9,223.6 824.7,222.5 828.6,221.4 832.4,220.3 836.3,219.2 840.1,218.1 844,217 847.9,215.9 851.7,214.8 855.6,213.7 859.4,212.6 863.3,211.5 867.1,210.3 871,209.2 874.8,208.1 878.7,207 882.5,205.9 886.4,204.7 890.2,203.6 894.1,202.5 898,201.4 901.8,200.2 905.7,199.1 909.5,198 913.4,196.8 917.2,195.7 921.1,194.5 924.9,193.4 928.8,192.3 932.6,191.1 936.5,190 940.3,188.8 944.2,187.7"/>
<polyline fill="none" stroke="#37ebbe" stroke-width="2.7" stroke-linejoin="round" points="602.8,257.2 605.1,257.1 608.9,256.8 612.8,256.6 616.6,256.4 620.5,256.2 624.3,256 628.2,255.8 632,255.5 635.9,255.3 639.7,255.1 643.6,254.9 647.4,254.6 651.3,254.4 655.2,254.1 659,253.8 662.9,253.5 666.7,253.2 670.6,252.8 674.4,252.5 678.3,252.1 682.1,251.7 686,251.2 689.8,250.8 693.7,250.2 697.5,249.6 701.4,249.1 705.3,248.6 709.1,248.1 713,247.6 716.8,247.2 720.7,246.7 724.5,246.2 728.4,245.8 732.2,245.3 736.1,244.7 739.9,244.1 743.8,243.5 747.6,242.8 751.5,242.1 755.4,241.3 759.2,240.5 763.1,239.6 766.9,238.6 770.8,237.6 774.6,236.6 778.5,235.4 782.3,234.3 786.2,233.2 790,232.1 793.9,231 797.8,229.9 801.6,228.8 805.5,227.7 809.3,226.6 813.2,225.5 817,224.4 820.9,223.3 824.7,222.2 828.6,221.1 832.4,220 836.3,218.9 840.1,217.8 844,216.7 847.9,215.6 851.7,214.4 855.6,213.3 859.4,212.2 863.3,211.1 867.1,210 871,208.9 874.8,207.7 878.7,206.6 882.5,205.5 886.4,204.4 890.2,203.2 894.1,202.1 898,201 901.8,199.8 905.7,198.7 909.5,197.5 913.4,196.4 917.2,195.3 921.1,194.1 924.9,193 928.8,191.8 932.6,190.7 936.5,189.5 940.3,188.4 944.2,187.2"/>
<polyline fill="none" stroke="#3cf0aa" stroke-width="2.7" stroke-linejoin="round" points="602.8,257.2 605.1,257.1 608.9,256.9 612.8,256.6 616.6,256.4 620.5,256.2 624.3,256 628.2,255.7 632,255.5 635.9,255.3 639.7,255.1 643.6,254.8 647.4,254.6 651.3,254.3 655.2,254 659,253.7 662.9,253.4 666.7,253.1 670.6,252.8 674.4,252.4 678.3,252 682.1,251.6 686,251.1 689.8,250.6 693.7,250.1 697.5,249.5 701.4,248.9 705.3,248.5 709.1,248 713,247.5 716.8,247 720.7,246.5 724.5,246 728.4,245.6 732.2,245.1 736.1,244.5 739.9,243.9 743.8,243.3 747.6,242.6 751.5,241.9 755.4,241.1 759.2,240.3 763.1,239.4 766.9,238.4 770.8,237.4 774.6,236.4 778.5,235.2 782.3,234 786.2,232.9 790,231.8 793.9,230.7 797.8,229.6 801.6,228.5 805.5,227.4 809.3,226.3 813.2,225.2 817,224.1 820.9,223 824.7,221.9 828.6,220.8 832.4,219.7 836.3,218.5 840.1,217.4 844,216.3 847.9,215.2 851.7,214.1 855.6,213 859.4,211.9 863.3,210.7 867.1,209.6 871,208.5 874.8,207.4 878.7,206.2 882.5,205.1 886.4,204 890.2,202.8 894.1,201.7 898,200.5 901.8,199.4 905.7,198.3 909.5,197.1 913.4,196 917.2,194.8 921.1,193.7 924.9,192.5 928.8,191.4 932.6,190.2 936.5,189.1 940.3,187.9 944.2,186.8"/>
<polyline fill="none" stroke="#50f091" stroke-width="2.7" stroke-linejoin="round" points="602.8,257.3 605.1,257.1 608.9,256.9 612.8,256.7 616.6,256.4 620.5,256.2 624.3,256 628.2,255.7 632,255.5 635.9,255.3 639.7,255 643.6,254.8 647.4,254.5 651.3,254.2 655.2,254 659,253.7 662.9,253.4 666.7,253 670.6,252.7 674.4,252.3 678.3,251.9 682.1,251.5 686,251 689.8,250.5 693.7,249.9 697.5,249.3 701.4,248.8 705.3,248.3 709.1,247.8 713,247.3 716.8,246.8 720.7,246.3 724.5,245.9 728.4,245.4 732.2,244.9 736.1,244.4 739.9,243.8 743.8,243.1 747.6,242.4 751.5,241.7 755.4,240.9 759.2,240.1 763.1,239.2 766.9,238.2 770.8,237.2 774.6,236.1 778.5,235 782.3,233.8 786.2,232.7 790,231.6 793.9,230.5 797.8,229.4 801.6,228.3 805.5,227.1 809.3,226 813.2,224.9 817,223.8 820.9,222.7 824.7,221.6 828.6,220.5 832.4,219.4 836.3,218.2 840.1,217.1 844,216 847.9,214.9 851.7,213.8 855.6,212.6 859.4,211.5 863.3,210.4 867.1,209.3 871,208.1 874.8,207 878.7,205.9 882.5,204.7 886.4,203.6 890.2,202.4 894.1,201.3 898,200.2 901.8,199 905.7,197.9 909.5,196.7 913.4,195.6 917.2,194.4 921.1,193.3 924.9,192.1 928.8,191 932.6,189.8 936.5,188.6 940.3,187.5 944.2,186.3"/>
<polyline fill="none" stroke="#64f078" stroke-width="2.7" stroke-linejoin="round" points="602.8,257.3 605.1,257.1 608.9,256.9 612.8,256.7 616.6,256.4 620.5,256.2 624.3,255.9 628.2,255.7 632,255.5 635.9,255.2 639.7,255 643.6,254.7 647.4,254.5 651.3,254.2 655.2,253.9 659,253.6 662.9,253.3 666.7,252.9 670.6,252.6 674.4,252.2 678.3,251.8 682.1,251.4 686,250.9 689.8,250.4 693.7,249.8 697.5,249.2 701.4,248.7 705.3,248.2 709.1,247.7 713,247.2 716.8,246.7 720.7,246.2 724.5,245.7 728.4,245.2 732.2,244.7 736.1,244.2 739.9,243.6 743.8,242.9 747.6,242.2 751.5,241.5 755.4,240.7 759.2,239.9 763.1,239 766.9,238 770.8,237 774.6,235.9 778.5,234.7 782.3,233.6 786.2,232.5 790,231.3 793.9,230.2 797.8,229.1 801.6,228 805.5,226.9 809.3,225.8 813.2,224.6 817,223.5 820.9,222.4 824.7,221.3 828.6,220.2 832.4,219 836.3,217.9 840.1,216.8 844,215.7 847.9,214.6 851.7,213.4 855.6,212.3 859.4,211.2 863.3,210 867.1,208.9 871,207.8 874.8,206.6 878.7,205.5 882.5,204.3 886.4,203.2 890.2,202.1 894.1,200.9 898,199.8 901.8,198.6 905.7,197.5 909.5,196.3 913.4,195.2 917.2,194 921.1,192.9 924.9,191.7 928.8,190.5 932.6,189.4 936.5,188.2 940.3,187.1 944.2,185.9"/>
<polyline fill="none" stroke="#82f064" stroke-width="2.7" stroke-linejoin="round" points="602.8,257.3 605.1,257.2 608.9,256.9 612.8,256.7 616.6,256.4 620.5,256.2 624.3,255.9 628.2,255.7 632,255.4 635.9,255.2 639.7,254.9 643.6,254.7 647.4,254.4 651.3,254.1 655.2,253.8 659,253.5 662.9,253.2 666.7,252.9 670.6,252.5 674.4,252.1 678.3,251.7 682.1,251.3 686,250.8 689.8,250.3 693.7,249.7 697.5,249.1 701.4,248.5 705.3,248 709.1,247.5 713,247 716.8,246.5 720.7,246 724.5,245.5 728.4,245.1 732.2,244.6 736.1,244 739.9,243.4 743.8,242.7 747.6,242 751.5,241.3 755.4,240.5 759.2,239.7 763.1,238.8 766.9,237.8 770.8,236.8 774.6,235.7 778.5,234.5 782.3,233.4 786.2,232.2 790,231.1 793.9,230 797.8,228.9 801.6,227.7 805.5,226.6 809.3,225.5 813.2,224.4 817,223.2 820.9,222.1 824.7,221 828.6,219.9 832.4,218.7 836.3,217.6 840.1,216.5 844,215.3 847.9,214.2 851.7,213.1 855.6,211.9 859.4,210.8 863.3,209.7 867.1,208.5 871,207.4 874.8,206.2 878.7,205.1 882.5,204 886.4,202.8 890.2,201.7 894.1,200.5 898,199.4 901.8,198.2 905.7,197.1 909.5,195.9 913.4,194.7 917.2,193.6 921.1,192.4 924.9,191.3 928.8,190.1 932.6,189 936.5,187.8 940.3,186.6 944.2,185.5"/>
<polyline fill="none" stroke="#a0f050" stroke-width="2.7" stroke-linejoin="round" points="602.8,257.4 605.1,257.2 608.9,257 612.8,256.7 616.6,256.4 620.5,256.2 624.3,255.9 628.2,255.7 632,255.4 635.9,255.2 639.7,254.9 643.6,254.6 647.4,254.4 651.3,254.1 655.2,253.8 659,253.4 662.9,253.1 666.7,252.8 670.6,252.4 674.4,252 678.3,251.6 682.1,251.2 686,250.7 689.8,250.2 693.7,249.6 697.5,248.9 701.4,248.4 705.3,247.9 709.1,247.3 713,246.9 716.8,246.4 720.7,245.9 724.5,245.4 728.4,244.9 732.2,244.4 736.1,243.8 739.9,243.2 743.8,242.5 747.6,241.8 751.5,241.1 755.4,240.3 759.2,239.4 763.1,238.6 766.9,237.6 770.8,236.6 774.6,235.5 778.5,234.3 782.3,233.1 786.2,232 790,230.9 793.9,229.7 797.8,228.6 801.6,227.5 805.5,226.3 809.3,225.2 813.2,224.1 817,223 820.9,221.8 824.7,220.7 828.6,219.6 832.4,218.4 836.3,217.3 840.1,216.2 844,215 847.9,213.9 851.7,212.7 855.6,211.6 859.4,210.5 863.3,209.3 867.1,208.2 871,207 874.8,205.9 878.7,204.7 882.5,203.6 886.4,202.4 890.2,201.3 894.1,200.1 898,199 901.8,197.8 905.7,196.7 909.5,195.5 913.4,194.3 917.2,193.2 921.1,192 924.9,190.9 928.8,189.7 932.6,188.5 936.5,187.4 940.3,186.2 944.2,185"/>
<polyline fill="none" stroke="#bcf046" stroke-width="2.7" stroke-linejoin="round" points="602.8,257.4 605.1,257.2 608.9,257 612.8,256.7 616.6,256.4 620.5,256.2 624.3,255.9 628.2,255.7 632,255.4 635.9,255.1 639.7,254.9 643.6,254.6 647.4,254.3 651.3,254 655.2,253.7 659,253.4 662.9,253 666.7,252.7 670.6,252.3 674.4,251.9 678.3,251.5 682.1,251 686,250.6 689.8,250 693.7,249.4 697.5,248.8 701.4,248.2 705.3,247.7 709.1,247.2 713,246.7 716.8,246.2 720.7,245.7 724.5,245.2 728.4,244.7 732.2,244.2 736.1,243.6 739.9,243 743.8,242.3 747.6,241.6 751.5,240.9 755.4,240.1 759.2,239.2 763.1,238.3 766.9,237.4 770.8,236.4 774.6,235.3 778.5,234.1 782.3,232.9 786.2,231.7 790,230.6 793.9,229.5 797.8,228.3 801.6,227.2 805.5,226.1 809.3,224.9 813.2,223.8 817,222.6 820.9,221.5 824.7,220.4 828.6,219.2 832.4,218.1 836.3,217 840.1,215.8 844,214.7 847.9,213.5 851.7,212.4 855.6,211.2 859.4,210.1 863.3,208.9 867.1,207.8 871,206.6 874.8,205.5 878.7,204.3 882.5,203.2 886.4,202 890.2,200.9 894.1,199.7 898,198.5 901.8,197.4 905.7,196.2 909.5,195.1 913.4,193.9 917.2,192.7 921.1,191.6 924.9,190.4 928.8,189.2 932.6,188.1 936.5,186.9 940.3,185.7 944.2,184.6"/>
<polyline fill="none" stroke="#d8f03c" stroke-width="2.7" stroke-linejoin="round" points="602.8,257.4 605.1,257.3 608.9,257 612.8,256.7 616.6,256.5 620.5,256.2 624.3,255.9 628.2,255.6 632,255.4 635.9,255.1 639.7,254.8 643.6,254.5 647.4,254.2 651.3,253.9 655.2,253.6 659,253.3 662.9,253 666.7,252.6 670.6,252.2 674.4,251.8 678.3,251.4 682.1,250.9 686,250.5 689.8,249.9 693.7,249.3 697.5,248.6 701.4,248.1 705.3,247.5 709.1,247 713,246.5 716.8,246 720.7,245.5 724.5,245 728.4,244.5 732.2,244 736.1,243.4 739.9,242.8 743.8,242.1 747.6,241.4 751.5,240.7 755.4,239.9 759.2,239 763.1,238.1 766.9,237.2 770.8,236.1 774.6,235 778.5,233.8 782.3,232.6 786.2,231.5 790,230.3 793.9,229.2 797.8,228.1 801.6,226.9 805.5,225.8 809.3,224.6 813.2,223.5 817,222.3 820.9,221.2 824.7,220.1 828.6,218.9 832.4,217.8 836.3,216.6 840.1,215.5 844,214.3 847.9,213.2 851.7,212 855.6,210.9 859.4,209.7 863.3,208.5 867.1,207.4 871,206.2 874.8,205.1 878.7,203.9 882.5,202.8 886.4,201.6 890.2,200.4 894.1,199.3 898,198.1 901.8,196.9 905.7,195.8 909.5,194.6 913.4,193.4 917.2,192.3 921.1,191.1 924.9,189.9 928.8,188.8 932.6,187.6 936.5,186.4 940.3,185.3 944.2,184.1"/>
<polyline fill="none" stroke="#e9f037" stroke-width="2.7" stroke-linejoin="round" points="602.8,257.5 605.1,257.3 608.9,257 612.8,256.7 616.6,256.5 620.5,256.2 624.3,255.9 628.2,255.6 632,255.3 635.9,255.1 639.7,254.8 643.6,254.5 647.4,254.2 651.3,253.9 655.2,253.5 659,253.2 662.9,252.9 666.7,252.5 670.6,252.1 674.4,251.7 678.3,251.3 682.1,250.8 686,250.3 689.8,249.8 693.7,249.1 697.5,248.5 701.4,247.9 705.3,247.4 709.1,246.8 713,246.3 716.8,245.8 720.7,245.3 724.5,244.8 728.4,244.3 732.2,243.8 736.1,243.2 739.9,242.6 743.8,241.9 747.6,241.2 751.5,240.4 755.4,239.6 759.2,238.8 763.1,237.9 766.9,236.9 770.8,235.9 774.6,234.8 778.5,233.6 782.3,232.4 786.2,231.2 790,230.1 793.9,228.9 797.8,227.8 801.6,226.6 805.5,225.5 809.3,224.3 813.2,223.2 817,222 820.9,220.9 824.7,219.7 828.6,218.6 832.4,217.4 836.3,216.3 840.1,215.1 844,214 847.9,212.8 851.7,211.6 855.6,210.5 859.4,209.3 863.3,208.2 867.1,207 871,205.8 874.8,204.7 878.7,203.5 882.5,202.3 886.4,201.2 890.2,200 894.1,198.8 898,197.7 901.8,196.5 905.7,195.3 909.5,194.2 913.4,193 917.2,191.8 921.1,190.7 924.9,189.5 928.8,188.3 932.6,187.1 936.5,186 940.3,184.8 944.2,183.6"/>
<polyline fill="none" stroke="#faf032" stroke-width="2.7" stroke-linejoin="round" points="602.8,257.5 605.1,257.3 608.9,257.1 612.8,256.8 616.6,256.5 620.5,256.2 624.3,255.9 628.2,255.6 632,255.3 635.9,255 639.7,254.7 643.6,254.4 647.4,254.1 651.3,253.8 655.2,253.5 659,253.1 662.9,252.8 666.7,252.4 670.6,252 674.4,251.6 678.3,251.2 682.1,250.7 686,250.2 689.8,249.7 693.7,249 697.5,248.3 701.4,247.7 705.3,247.2 709.1,246.7 713,246.2 716.8,245.7 720.7,245.1 724.5,244.6 728.4,244.1 732.2,243.6 736.1,243 739.9,242.4 743.8,241.7 747.6,241 751.5,240.2 755.4,239.4 759.2,238.6 763.1,237.7 766.9,236.7 770.8,235.7 774.6,234.6 778.5,233.3 782.3,232.1 786.2,231 790,229.8 793.9,228.7 797.8,227.5 801.6,226.4 805.5,225.2 809.3,224 813.2,222.9 817,221.7 820.9,220.6 824.7,219.4 828.6,218.2 832.4,217.1 836.3,215.9 840.1,214.8 844,213.6 847.9,212.4 851.7,211.3 855.6,210.1 859.4,208.9 863.3,207.8 867.1,206.6 871,205.4 874.8,204.3 878.7,203.1 882.5,201.9 886.4,200.8 890.2,199.6 894.1,198.4 898,197.2 901.8,196.1 905.7,194.9 909.5,193.7 913.4,192.5 917.2,191.4 921.1,190.2 924.9,189 928.8,187.8 932.6,186.7 936.5,185.5 940.3,184.3 944.2,183.1"/>
<polyline fill="none" stroke="#fce128" stroke-width="2.7" stroke-linejoin="round" points="602.8,257.6 605.1,257.4 608.9,257.1 612.8,256.8 616.6,256.5 620.5,256.2 624.3,255.9 628.2,255.6 632,255.3 635.9,255 639.7,254.7 643.6,254.4 647.4,254.1 651.3,253.7 655.2,253.4 659,253.1 662.9,252.7 666.7,252.3 670.6,251.9 674.4,251.5 678.3,251.1 682.1,250.6 686,250.1 689.8,249.5 693.7,248.9 697.5,248.2 701.4,247.6 705.3,247 709.1,246.5 713,246 716.8,245.5 720.7,245 724.5,244.4 728.4,243.9 732.2,243.4 736.1,242.8 739.9,242.2 743.8,241.5 747.6,240.8 751.5,240 755.4,239.2 759.2,238.3 763.1,237.4 766.9,236.5 770.8,235.4 774.6,234.3 778.5,233.1 782.3,231.9 786.2,230.7 790,229.5 793.9,228.4 797.8,227.2 801.6,226.1 805.5,224.9 809.3,223.7 813.2,222.6 817,221.4 820.9,220.2 824.7,219.1 828.6,217.9 832.4,216.7 836.3,215.6 840.1,214.4 844,213.2 847.9,212.1 851.7,210.9 855.6,209.7 859.4,208.5 863.3,207.4 867.1,206.2 871,205 874.8,203.8 878.7,202.7 882.5,201.5 886.4,200.3 890.2,199.1 894.1,198 898,196.8 901.8,195.6 905.7,194.4 909.5,193.3 913.4,192.1 917.2,190.9 921.1,189.7 924.9,188.5 928.8,187.4 932.6,186.2 936.5,185 940.3,183.8 944.2,182.6"/>
<polyline fill="none" stroke="#ffd21e" stroke-width="2.7" stroke-linejoin="round" points="602.8,257.6 605.1,257.4 608.9,257.1 612.8,256.8 616.6,256.5 620.5,256.2 624.3,255.9 628.2,255.6 632,255.3 635.9,255 639.7,254.7 643.6,254.3 647.4,254 651.3,253.7 655.2,253.3 659,253 662.9,252.6 666.7,252.2 670.6,251.8 674.4,251.4 678.3,251 682.1,250.5 686,250 689.8,249.4 693.7,248.7 697.5,248 701.4,247.4 705.3,246.9 709.1,246.3 713,245.8 716.8,245.3 720.7,244.8 724.5,244.3 728.4,243.7 732.2,243.2 736.1,242.6 739.9,242 743.8,241.3 747.6,240.6 751.5,239.8 755.4,239 759.2,238.1 763.1,237.2 766.9,236.2 770.8,235.2 774.6,234.1 778.5,232.8 782.3,231.6 786.2,230.4 790,229.3 793.9,228.1 797.8,226.9 801.6,225.8 805.5,224.6 809.3,223.4 813.2,222.3 817,221.1 820.9,219.9 824.7,218.7 828.6,217.6 832.4,216.4 836.3,215.2 840.1,214 844,212.8 847.9,211.7 851.7,210.5 855.6,209.3 859.4,208.1 863.3,207 867.1,205.8 871,204.6 874.8,203.4 878.7,202.2 882.5,201.1 886.4,199.9 890.2,198.7 894.1,197.5 898,196.3 901.8,195.2 905.7,194 909.5,192.8 913.4,191.6 917.2,190.4 921.1,189.2 924.9,188.1 928.8,186.9 932.6,185.7 936.5,184.5 940.3,183.3 944.2,182.1"/>
<polyline fill="none" stroke="#ffbd1e" stroke-width="2.7" stroke-linejoin="round" points="602.8,257.6 605.1,257.4 608.9,257.1 612.8,256.8 616.6,256.5 620.5,256.2 624.3,255.9 628.2,255.5 632,255.2 635.9,254.9 639.7,254.6 643.6,254.3 647.4,253.9 651.3,253.6 655.2,253.2 659,252.9 662.9,252.5 666.7,252.1 670.6,251.7 674.4,251.3 678.3,250.8 682.1,250.4 686,249.9 689.8,249.3 693.7,248.6 697.5,247.9 701.4,247.2 705.3,246.7 709.1,246.2 713,245.6 716.8,245.1 720.7,244.6 724.5,244.1 728.4,243.6 732.2,243 736.1,242.4 739.9,241.8 743.8,241.1 747.6,240.3 751.5,239.6 755.4,238.7 759.2,237.9 763.1,237 766.9,236 770.8,235 774.6,233.8 778.5,232.6 782.3,231.4 786.2,230.2 790,229 793.9,227.8 797.8,226.7 801.6,225.5 805.5,224.3 809.3,223.1 813.2,221.9 817,220.8 820.9,219.6 824.7,218.4 828.6,217.2 832.4,216 836.3,214.9 840.1,213.7 844,212.5 847.9,211.3 851.7,210.1 855.6,208.9 859.4,207.7 863.3,206.6 867.1,205.4 871,204.2 874.8,203 878.7,201.8 882.5,200.6 886.4,199.5 890.2,198.3 894.1,197.1 898,195.9 901.8,194.7 905.7,193.5 909.5,192.3 913.4,191.1 917.2,190 921.1,188.8 924.9,187.6 928.8,186.4 932.6,185.2 936.5,184 940.3,182.8 944.2,181.6"/>
<polyline fill="none" stroke="#ffa81e" stroke-width="2.7" stroke-linejoin="round" points="602.8,257.7 605.1,257.5 608.9,257.2 612.8,256.8 616.6,256.5 620.5,256.2 624.3,255.8 628.2,255.5 632,255.2 635.9,254.9 639.7,254.6 643.6,254.2 647.4,253.9 651.3,253.5 655.2,253.2 659,252.8 662.9,252.4 666.7,252 670.6,251.6 674.4,251.2 678.3,250.7 682.1,250.3 686,249.7 689.8,249.1 693.7,248.4 697.5,247.7 701.4,247.1 705.3,246.5 709.1,246 713,245.5 716.8,244.9 720.7,244.4 724.5,243.9 728.4,243.4 732.2,242.8 736.1,242.2 739.9,241.6 743.8,240.9 747.6,240.1 751.5,239.3 755.4,238.5 759.2,237.6 763.1,236.7 766.9,235.8 770.8,234.7 774.6,233.6 778.5,232.3 782.3,231.1 786.2,229.9 790,228.7 793.9,227.6 797.8,226.4 801.6,225.2 805.5,224 809.3,222.8 813.2,221.6 817,220.5 820.9,219.3 824.7,218.1 828.6,216.9 832.4,215.7 836.3,214.5 840.1,213.3 844,212.1 847.9,210.9 851.7,209.7 855.6,208.5 859.4,207.4 863.3,206.2 867.1,205 871,203.8 874.8,202.6 878.7,201.4 882.5,200.2 886.4,199 890.2,197.8 894.1,196.6 898,195.4 901.8,194.3 905.7,193.1 909.5,191.9 913.4,190.7 917.2,189.5 921.1,188.3 924.9,187.1 928.8,185.9 932.6,184.7 936.5,183.5 940.3,182.3 944.2,181.2"/>
<polyline fill="none" stroke="#ff9119" stroke-width="2.7" stroke-linejoin="round" points="602.8,257.7 605.1,257.5 608.9,257.2 612.8,256.8 616.6,256.5 620.5,256.2 624.3,255.8 628.2,255.5 632,255.2 635.9,254.8 639.7,254.5 643.6,254.2 647.4,253.8 651.3,253.4 655.2,253.1 659,252.7 662.9,252.3 666.7,251.9 670.6,251.5 674.4,251.1 678.3,250.6 682.1,250.1 686,249.6 689.8,249 693.7,248.3 697.5,247.5 701.4,246.9 705.3,246.3 709.1,245.8 713,245.2 716.8,244.7 720.7,244.2 724.5,243.6 728.4,243.1 732.2,242.6 736.1,242 739.9,241.3 743.8,240.6 747.6,239.8 751.5,239 755.4,238.2 759.2,237.4 763.1,236.4 766.9,235.5 770.8,234.4 774.6,233.3 778.5,232 782.3,230.8 786.2,229.6 790,228.4 793.9,227.2 797.8,226 801.6,224.8 805.5,223.6 809.3,222.4 813.2,221.2 817,220 820.9,218.8 824.7,217.6 828.6,216.4 832.4,215.2 836.3,214 840.1,212.8 844,211.6 847.9,210.4 851.7,209.2 855.6,208 859.4,206.8 863.3,205.6 867.1,204.5 871,203.3 874.8,202.1 878.7,200.9 882.5,199.7 886.4,198.5 890.2,197.3 894.1,196.1 898,194.9 901.8,193.7 905.7,192.5 909.5,191.3 913.4,190.1 917.2,188.9 921.1,187.7 924.9,186.5 928.8,185.3 932.6,184.1 936.5,182.9 940.3,181.7 944.2,180.5"/>
<polyline fill="none" stroke="#ff7a14" stroke-width="2.7" stroke-linejoin="round" points="602.8,257.8 605.1,257.6 608.9,257.2 612.8,256.9 616.6,256.5 620.5,256.2 624.3,255.8 628.2,255.5 632,255.1 635.9,254.8 639.7,254.5 643.6,254.1 647.4,253.7 651.3,253.4 655.2,253 659,252.6 662.9,252.2 666.7,251.8 670.6,251.4 674.4,250.9 678.3,250.5 682.1,250 686,249.4 689.8,248.8 693.7,248.1 697.5,247.3 701.4,246.7 705.3,246.1 709.1,245.5 713,245 716.8,244.5 720.7,243.9 724.5,243.4 728.4,242.9 732.2,242.3 736.1,241.7 739.9,241 743.8,240.3 747.6,239.6 751.5,238.8 755.4,237.9 759.2,237.1 763.1,236.1 766.9,235.2 770.8,234.1 774.6,233 778.5,231.7 782.3,230.4 786.2,229.2 790,228 793.9,226.9 797.8,225.7 801.6,224.5 805.5,223.3 809.3,222.1 813.2,220.8 817,219.6 820.9,218.4 824.7,217.2 828.6,216 832.4,214.8 836.3,213.6 840.1,212.4 844,211.2 847.9,210 851.7,208.8 855.6,207.5 859.4,206.3 863.3,205.1 867.1,203.9 871,202.7 874.8,201.5 878.7,200.3 882.5,199.1 886.4,197.9 890.2,196.7 894.1,195.5 898,194.3 901.8,193.1 905.7,191.9 909.5,190.7 913.4,189.5 917.2,188.3 921.1,187.1 924.9,185.9 928.8,184.7 932.6,183.5 936.5,182.3 940.3,181.1 944.2,179.9"/>
<polyline fill="none" stroke="#fc6013" stroke-width="2.7" stroke-linejoin="round" points="602.8,257.8 605.1,257.6 608.9,257.3 612.8,256.9 616.6,256.5 620.5,256.2 624.3,255.8 628.2,255.5 632,255.1 635.9,254.8 639.7,254.4 643.6,254 647.4,253.7 651.3,253.3 655.2,252.9 659,252.5 662.9,252.1 666.7,251.7 670.6,251.2 674.4,250.8 678.3,250.3 682.1,249.8 686,249.3 689.8,248.6 693.7,247.9 697.5,247.1 701.4,246.4 705.3,245.9 709.1,245.3 713,244.8 716.8,244.2 720.7,243.7 724.5,243.1 728.4,242.6 732.2,242 736.1,241.4 739.9,240.8 743.8,240 747.6,239.3 751.5,238.5 755.4,237.6 759.2,236.8 763.1,235.9 766.9,234.9 770.8,233.8 774.6,232.7 778.5,231.4 782.3,230.1 786.2,228.9 790,227.7 793.9,226.5 797.8,225.3 801.6,224.1 805.5,222.9 809.3,221.7 813.2,220.4 817,219.2 820.9,218 824.7,216.8 828.6,215.6 832.4,214.3 836.3,213.1 840.1,211.9 844,210.7 847.9,209.5 851.7,208.3 855.6,207 859.4,205.8 863.3,204.6 867.1,203.4 871,202.2 874.8,201 878.7,199.8 882.5,198.6 886.4,197.4 890.2,196.1 894.1,194.9 898,193.7 901.8,192.5 905.7,191.3 909.5,190.1 913.4,188.9 917.2,187.7 921.1,186.5 924.9,185.3 928.8,184.1 932.6,182.9 936.5,181.7 940.3,180.5 944.2,179.3"/>
<polyline fill="none" stroke="#fa4612" stroke-width="2.7" stroke-linejoin="round" points="602.8,257.9 605.1,257.7 608.9,257.3 612.8,256.9 616.6,256.5 620.5,256.2 624.3,255.8 628.2,255.4 632,255.1 635.9,254.7 639.7,254.3 643.6,254 647.4,253.6 651.3,253.2 655.2,252.8 659,252.4 662.9,252 666.7,251.6 670.6,251.1 674.4,250.7 678.3,250.2 682.1,249.7 686,249.1 689.8,248.5 693.7,247.7 697.5,246.9 701.4,246.2 705.3,245.6 709.1,245.1 713,244.5 716.8,244 720.7,243.4 724.5,242.9 728.4,242.4 732.2,241.8 736.1,241.2 739.9,240.5 743.8,239.8 747.6,239 751.5,238.2 755.4,237.3 759.2,236.5 763.1,235.6 766.9,234.6 770.8,233.5 774.6,232.4 778.5,231 782.3,229.8 786.2,228.6 790,227.3 793.9,226.1 797.8,224.9 801.6,223.7 805.5,222.5 809.3,221.3 813.2,220 817,218.8 820.9,217.6 824.7,216.4 828.6,215.1 832.4,213.9 836.3,212.7 840.1,211.4 844,210.2 847.9,209 851.7,207.8 855.6,206.5 859.4,205.3 863.3,204.1 867.1,202.9 871,201.7 874.8,200.4 878.7,199.2 882.5,198 886.4,196.8 890.2,195.6 894.1,194.4 898,193.2 901.8,191.9 905.7,190.7 909.5,189.5 913.4,188.3 917.2,187.1 921.1,185.9 924.9,184.7 928.8,183.5 932.6,182.3 936.5,181 940.3,179.8 944.2,178.6"/>
<polyline fill="none" stroke="#f62c12" stroke-width="2.7" stroke-linejoin="round" points="602.8,257.9 605.1,257.7 608.9,257.3 612.8,256.9 616.6,256.5 620.5,256.2 624.3,255.8 628.2,255.4 632,255 635.9,254.7 639.7,254.3 643.6,253.9 647.4,253.5 651.3,253.1 655.2,252.7 659,252.3 662.9,251.9 666.7,251.4 670.6,251 674.4,250.5 678.3,250 682.1,249.5 686,248.9 689.8,248.3 693.7,247.5 697.5,246.7 701.4,246 705.3,245.4 709.1,244.8 713,244.3 716.8,243.7 720.7,243.2 724.5,242.6 728.4,242.1 732.2,241.5 736.1,240.9 739.9,240.2 743.8,239.5 747.6,238.7 751.5,237.9 755.4,237 759.2,236.1 763.1,235.2 766.9,234.2 770.8,233.2 774.6,232 778.5,230.7 782.3,229.4 786.2,228.2 790,227 793.9,225.7 797.8,224.5 801.6,223.3 805.5,222.1 809.3,220.8 813.2,219.6 817,218.4 820.9,217.1 824.7,215.9 828.6,214.6 832.4,213.4 836.3,212.2 840.1,210.9 844,209.7 847.9,208.5 851.7,207.2 855.6,206 859.4,204.8 863.3,203.5 867.1,202.3 871,201.1 874.8,199.8 878.7,198.6 882.5,197.4 886.4,196.2 890.2,195 894.1,193.7 898,192.5 901.8,191.3 905.7,190.1 909.5,188.9 913.4,187.6 917.2,186.4 921.1,185.2 924.9,184 928.8,182.8 932.6,181.6 936.5,180.4 940.3,179.1 944.2,177.9"/>
<polyline fill="none" stroke="#f21212" stroke-width="2.7" stroke-linejoin="round" points="602.8,258 605.1,257.8 608.9,257.4 612.8,257 616.6,256.6 620.5,256.2 624.3,255.8 628.2,255.4 632,255 635.9,254.6 639.7,254.2 643.6,253.8 647.4,253.4 651.3,253 655.2,252.6 659,252.2 662.9,251.7 666.7,251.3 670.6,250.8 674.4,250.4 678.3,249.9 682.1,249.3 686,248.8 689.8,248.1 693.7,247.3 697.5,246.5 701.4,245.8 705.3,245.1 709.1,244.6 713,244 716.8,243.5 720.7,242.9 724.5,242.4 728.4,241.8 732.2,241.2 736.1,240.6 739.9,239.9 743.8,239.2 747.6,238.4 751.5,237.5 755.4,236.7 759.2,235.8 763.1,234.9 766.9,233.9 770.8,232.9 774.6,231.7 778.5,230.3 782.3,229 786.2,227.8 790,226.6 793.9,225.3 797.8,224.1 801.6,222.9 805.5,221.6 809.3,220.4 813.2,219.2 817,217.9 820.9,216.7 824.7,215.4 828.6,214.2 832.4,212.9 836.3,211.7 840.1,210.4 844,209.2 847.9,207.9 851.7,206.7 855.6,205.4 859.4,204.2 863.3,203 867.1,201.7 871,200.5 874.8,199.3 878.7,198 882.5,196.8 886.4,195.6 890.2,194.3 894.1,193.1 898,191.9 901.8,190.6 905.7,189.4 909.5,188.2 913.4,187 917.2,185.8 921.1,184.5 924.9,183.3 928.8,182.1 932.6,180.9 936.5,179.7 940.3,178.4 944.2,177.2"/>
<polyline points="699.9,105.3 601.2,263 717,101.3" fill="none" stroke="#000" stroke-width="1.9" stroke-linejoin="bevel"/>
<text x="614.7" y="57.3" font-size="24.5" text-anchor="start" fill="#000" font-family="'Liberation Serif',serif" font-weight="bold" >1/R<tspan font-size="16" dy="6.5">ON</tspan><tspan dy="-6.5"></tspan></text>
<line x1="656.4" y1="67.2" x2="695.2" y2="101.1" stroke="#000" stroke-width="1.5"/>
<polygon points="699.3,104.7 690.5,101 694.5,96.5" fill="#000"/>
<line x1="656.4" y1="67.2" x2="711.1" y2="98" stroke="#000" stroke-width="1.5"/>
<polygon points="715.8,100.6 706.5,98.8 709.4,93.6" fill="#000"/>
<line x1="631.2" y1="240.6" x2="718" y2="198.1" stroke="#ee1616" stroke-width="2.2"/>
<polygon points="723.9,195.2 715.7,203.5 712.3,196.6" fill="#ee1616"/>
<line x1="630.5" y1="238" x2="632.7" y2="243.4" stroke="#e61414" stroke-width="1.6"/>
<rect x="768.9" y="127" width="95.5" height="59.6" fill="#fff" stroke="none"/>
<polyline fill="none" stroke="#e020e6" stroke-width="1.7" stroke-linejoin="round" points="776.5,147.8 780.3,147.8 784.1,147.7 787.9,147.6 791.6,147.6 795.4,147.4 799.2,147.1 803,146.8 806.8,146.4 810.6,146 814.4,145.6 818.2,145.2 821.9,144.8 825.7,144.4 829.5,144.1 833.3,143.7 837.1,143.4 840.9,143 844.7,142.7 848.5,142.3 852.2,141.9 856,141.6 859.8,141.2 863.6,140.8"/>
<polyline fill="none" stroke="#a020e0" stroke-width="1.7" stroke-linejoin="round" points="776.5,153.8 780.3,153.6 784.1,153.3 787.9,152.6 791.6,152 795.4,151.2 799.2,150.4 803,149.5 806.8,148.6 810.6,147.7 814.4,146.7 818.2,145.8 821.9,144.9 825.7,144.1 829.5,143.3 833.3,142.5 837.1,141.7 840.9,141 844.7,140.2 848.5,139.5 852.2,138.7 856,138 859.8,137.3 863.6,136.6"/>
<polyline fill="none" stroke="#6420e6" stroke-width="1.7" stroke-linejoin="round" points="776.5,156.6 780.3,156.3 784.1,155.9 787.9,155 791.6,154.1 795.4,153.1 799.2,152 803,150.8 806.8,149.6 810.6,148.4 814.4,147.2 818.2,146.1 821.9,145 825.7,144 829.5,143 833.3,142 837.1,141 840.9,140 844.7,139.1 848.5,138.1 852.2,137.2 856,136.3 859.8,135.4 863.6,134.6"/>
<polyline fill="none" stroke="#2a1eea" stroke-width="1.7" stroke-linejoin="round" points="776.5,158.7 780.3,158.4 784.1,157.8 787.9,156.7 791.6,155.6 795.4,154.4 799.2,153.1 803,151.8 806.8,150.4 810.6,149 814.4,147.6 818.2,146.3 821.9,145 825.7,143.8 829.5,142.7 833.3,141.5 837.1,140.4 840.9,139.3 844.7,138.2 848.5,137.1 852.2,136.1 856,135 859.8,134 863.6,133.1"/>
<polyline fill="none" stroke="#1d27ed" stroke-width="1.7" stroke-linejoin="round" points="776.5,159.2 780.3,158.9 784.1,158.3 787.9,157.2 791.6,156 795.4,154.8 799.2,153.4 803,152 806.8,150.6 810.6,149.2 814.4,147.7 818.2,146.4 821.9,145 825.7,143.8 829.5,142.6 833.3,141.4 837.1,140.2 840.9,139.1 844.7,138 848.5,136.9 852.2,135.8 856,134.7 859.8,133.7 863.6,132.7"/>
<polyline fill="none" stroke="#1030f0" stroke-width="1.7" stroke-linejoin="round" points="776.5,159.7 780.3,159.4 784.1,158.8 787.9,157.6 791.6,156.4 795.4,155.1 799.2,153.7 803,152.3 806.8,150.8 810.6,149.3 814.4,147.8 818.2,146.4 821.9,145.1 825.7,143.8 829.5,142.5 833.3,141.3 837.1,140.1 840.9,138.9 844.7,137.8 848.5,136.6 852.2,135.5 856,134.4 859.8,133.3 863.6,132.3"/>
<polyline fill="none" stroke="#124af2" stroke-width="1.7" stroke-linejoin="round" points="776.5,160.1 780.3,159.9 784.1,159.2 787.9,158 791.6,156.7 795.4,155.4 799.2,154 803,152.5 806.8,151 810.6,149.4 814.4,147.9 818.2,146.5 821.9,145.1 825.7,143.8 829.5,142.5 833.3,141.2 837.1,140 840.9,138.8 844.7,137.6 848.5,136.4 852.2,135.3 856,134.1 859.8,133 863.6,132"/>
<polyline fill="none" stroke="#1464f5" stroke-width="1.7" stroke-linejoin="round" points="776.5,160.6 780.3,160.3 784.1,159.6 787.9,158.4 791.6,157 795.4,155.7 799.2,154.2 803,152.7 806.8,151.1 810.6,149.5 814.4,148 818.2,146.5 821.9,145.1 825.7,143.7 829.5,142.4 833.3,141.1 837.1,139.9 840.9,138.6 844.7,137.4 848.5,136.2 852.2,135 856,133.9 859.8,132.8 863.6,131.7"/>
<polyline fill="none" stroke="#197ff5" stroke-width="1.7" stroke-linejoin="round" points="776.5,160.9 780.3,160.6 784.1,159.9 787.9,158.6 791.6,157.3 795.4,155.9 799.2,154.4 803,152.8 806.8,151.2 810.6,149.6 814.4,148.1 818.2,146.5 821.9,145.1 825.7,143.7 829.5,142.4 833.3,141.1 837.1,139.8 840.9,138.5 844.7,137.2 848.5,136 852.2,134.8 856,133.7 859.8,132.5 863.6,131.4"/>
<polyline fill="none" stroke="#1e9af5" stroke-width="1.7" stroke-linejoin="round" points="776.5,161.3 780.3,161 784.1,160.3 787.9,158.9 791.6,157.6 795.4,156.1 799.2,154.6 803,153 806.8,151.4 810.6,149.7 814.4,148.1 818.2,146.6 821.9,145.1 825.7,143.7 829.5,142.3 833.3,141 837.1,139.7 840.9,138.4 844.7,137.1 848.5,135.9 852.2,134.6 856,133.5 859.8,132.3 863.6,131.2"/>
<polyline fill="none" stroke="#23b6f2" stroke-width="1.7" stroke-linejoin="round" points="776.5,161.5 780.3,161.2 784.1,160.5 787.9,159.2 791.6,157.8 795.4,156.3 799.2,154.7 803,153.1 806.8,151.5 810.6,149.8 814.4,148.2 818.2,146.6 821.9,145.1 825.7,143.7 829.5,142.3 833.3,140.9 837.1,139.6 840.9,138.3 844.7,137 848.5,135.7 852.2,134.5 856,133.3 859.8,132.1 863.6,131"/>
<polyline fill="none" stroke="#28d2f0" stroke-width="1.7" stroke-linejoin="round" points="776.5,161.8 780.3,161.5 784.1,160.8 787.9,159.4 791.6,158 795.4,156.5 799.2,154.9 803,153.3 806.8,151.6 810.6,149.9 814.4,148.2 818.2,146.6 821.9,145.1 825.7,143.7 829.5,142.3 833.3,140.9 837.1,139.5 840.9,138.2 844.7,136.9 848.5,135.6 852.2,134.4 856,133.1 859.8,132 863.6,130.8"/>
<polyline fill="none" stroke="#2ddce1" stroke-width="1.7" stroke-linejoin="round" points="776.5,162.1 780.3,161.7 784.1,161 787.9,159.6 791.6,158.1 795.4,156.6 799.2,155 803,153.4 806.8,151.7 810.6,150 814.4,148.3 818.2,146.7 821.9,145.1 825.7,143.7 829.5,142.2 833.3,140.8 837.1,139.5 840.9,138.1 844.7,136.8 848.5,135.5 852.2,134.2 856,133 859.8,131.8 863.6,130.6"/>
<polyline fill="none" stroke="#32e6d2" stroke-width="1.7" stroke-linejoin="round" points="776.5,162.3 780.3,162 784.1,161.2 787.9,159.8 791.6,158.3 795.4,156.8 799.2,155.2 803,153.5 806.8,151.8 810.6,150 814.4,148.3 818.2,146.7 821.9,145.1 825.7,143.6 829.5,142.2 833.3,140.8 837.1,139.4 840.9,138 844.7,136.7 848.5,135.4 852.2,134.1 856,132.8 859.8,131.6 863.6,130.4"/>
<polyline fill="none" stroke="#37ebbe" stroke-width="1.7" stroke-linejoin="round" points="776.5,162.6 780.3,162.3 784.1,161.5 787.9,160 791.6,158.5 795.4,157 799.2,155.3 803,153.6 806.8,151.9 810.6,150.1 814.4,148.4 818.2,146.7 821.9,145.1 825.7,143.6 829.5,142.2 833.3,140.7 837.1,139.3 840.9,137.9 844.7,136.6 848.5,135.2 852.2,133.9 856,132.7 859.8,131.4 863.6,130.2"/>
<polyline fill="none" stroke="#3cf0aa" stroke-width="1.7" stroke-linejoin="round" points="776.5,162.9 780.3,162.5 784.1,161.7 787.9,160.3 791.6,158.7 795.4,157.2 799.2,155.5 803,153.7 806.8,152 810.6,150.2 814.4,148.4 818.2,146.7 821.9,145.1 825.7,143.6 829.5,142.1 833.3,140.7 837.1,139.2 840.9,137.8 844.7,136.4 848.5,135.1 852.2,133.8 856,132.5 859.8,131.3 863.6,130.1"/>
<polyline fill="none" stroke="#50f091" stroke-width="1.7" stroke-linejoin="round" points="776.5,163 780.3,162.7 784.1,161.9 787.9,160.4 791.6,158.9 795.4,157.3 799.2,155.6 803,153.8 806.8,152 810.6,150.2 814.4,148.5 818.2,146.7 821.9,145.1 825.7,143.6 829.5,142.1 833.3,140.6 837.1,139.2 840.9,137.8 844.7,136.4 848.5,135 852.2,133.7 856,132.4 859.8,131.1 863.6,129.9"/>
<polyline fill="none" stroke="#64f078" stroke-width="1.7" stroke-linejoin="round" points="776.5,163.2 780.3,162.9 784.1,162.1 787.9,160.6 791.6,159 795.4,157.4 799.2,155.7 803,153.9 806.8,152.1 810.6,150.3 814.4,148.5 818.2,146.8 821.9,145.1 825.7,143.6 829.5,142.1 833.3,140.6 837.1,139.1 840.9,137.7 844.7,136.3 848.5,134.9 852.2,133.6 856,132.3 859.8,131 863.6,129.8"/>
<polyline fill="none" stroke="#82f064" stroke-width="1.7" stroke-linejoin="round" points="776.5,163.4 780.3,163 784.1,162.2 787.9,160.7 791.6,159.1 795.4,157.5 799.2,155.8 803,154 806.8,152.2 810.6,150.3 814.4,148.5 818.2,146.8 821.9,145.1 825.7,143.6 829.5,142.1 833.3,140.6 837.1,139.1 840.9,137.6 844.7,136.2 848.5,134.9 852.2,133.5 856,132.2 859.8,130.9 863.6,129.7"/>
<polyline fill="none" stroke="#a0f050" stroke-width="1.7" stroke-linejoin="round" points="776.5,163.6 780.3,163.2 784.1,162.4 787.9,160.8 791.6,159.3 795.4,157.6 799.2,155.9 803,154.1 806.8,152.2 810.6,150.4 814.4,148.6 818.2,146.8 821.9,145.1 825.7,143.6 829.5,142 833.3,140.5 837.1,139 840.9,137.6 844.7,136.2 848.5,134.8 852.2,133.4 856,132.1 859.8,130.8 863.6,129.6"/>
<polyline fill="none" stroke="#bcf046" stroke-width="1.7" stroke-linejoin="round" points="776.5,163.7 780.3,163.4 784.1,162.5 787.9,161 791.6,159.4 795.4,157.7 799.2,156 803,154.1 806.8,152.3 810.6,150.4 814.4,148.6 818.2,146.8 821.9,145.1 825.7,143.6 829.5,142 833.3,140.5 837.1,139 840.9,137.5 844.7,136.1 848.5,134.7 852.2,133.3 856,132 859.8,130.7 863.6,129.4"/>
<polyline fill="none" stroke="#d8f03c" stroke-width="1.7" stroke-linejoin="round" points="776.5,163.9 780.3,163.5 784.1,162.7 787.9,161.1 791.6,159.5 795.4,157.8 799.2,156.1 803,154.2 806.8,152.3 810.6,150.5 814.4,148.6 818.2,146.8 821.9,145.2 825.7,143.6 829.5,142 833.3,140.5 837.1,138.9 840.9,137.5 844.7,136 848.5,134.6 852.2,133.2 856,131.9 859.8,130.6 863.6,129.3"/>
<polyline fill="none" stroke="#e9f037" stroke-width="1.7" stroke-linejoin="round" points="776.5,164.1 780.3,163.7 784.1,162.9 787.9,161.3 791.6,159.6 795.4,158 799.2,156.2 803,154.3 806.8,152.4 810.6,150.5 814.4,148.7 818.2,146.9 821.9,145.2 825.7,143.5 829.5,142 833.3,140.4 837.1,138.9 840.9,137.4 844.7,135.9 848.5,134.5 852.2,133.1 856,131.8 859.8,130.5 863.6,129.2"/>
<polyline fill="none" stroke="#faf032" stroke-width="1.7" stroke-linejoin="round" points="776.5,164.2 780.3,163.9 784.1,163 787.9,161.4 791.6,159.8 795.4,158.1 799.2,156.3 803,154.4 806.8,152.5 810.6,150.6 814.4,148.7 818.2,146.9 821.9,145.2 825.7,143.5 829.5,141.9 833.3,140.4 837.1,138.8 840.9,137.3 844.7,135.9 848.5,134.4 852.2,133 856,131.7 859.8,130.3 863.6,129.1"/>
<polyline fill="none" stroke="#fce128" stroke-width="1.7" stroke-linejoin="round" points="776.5,164.4 780.3,164 784.1,163.2 787.9,161.5 791.6,159.9 795.4,158.2 799.2,156.3 803,154.4 806.8,152.5 810.6,150.6 814.4,148.7 818.2,146.9 821.9,145.2 825.7,143.5 829.5,141.9 833.3,140.4 837.1,138.8 840.9,137.3 844.7,135.8 848.5,134.4 852.2,133 856,131.6 859.8,130.3 863.6,129"/>
<polyline fill="none" stroke="#ffd21e" stroke-width="1.7" stroke-linejoin="round" points="776.5,164.5 780.3,164.1 784.1,163.3 787.9,161.7 791.6,160 795.4,158.2 799.2,156.4 803,154.5 806.8,152.6 810.6,150.6 814.4,148.7 818.2,146.9 821.9,145.2 825.7,143.5 829.5,141.9 833.3,140.3 837.1,138.8 840.9,137.3 844.7,135.8 848.5,134.3 852.2,132.9 856,131.5 859.8,130.2 863.6,128.9"/>
<polyline fill="none" stroke="#ffbd1e" stroke-width="1.7" stroke-linejoin="round" points="776.5,164.6 780.3,164.3 784.1,163.4 787.9,161.8 791.6,160.1 795.4,158.3 799.2,156.5 803,154.6 806.8,152.6 810.6,150.7 814.4,148.8 818.2,146.9 821.9,145.2 825.7,143.5 829.5,141.9 833.3,140.3 837.1,138.7 840.9,137.2 844.7,135.7 848.5,134.2 852.2,132.8 856,131.4 859.8,130.1 863.6,128.8"/>
<polyline fill="none" stroke="#ffa81e" stroke-width="1.7" stroke-linejoin="round" points="776.5,164.8 780.3,164.4 784.1,163.5 787.9,161.9 791.6,160.2 795.4,158.4 799.2,156.6 803,154.6 806.8,152.7 810.6,150.7 814.4,148.8 818.2,146.9 821.9,145.2 825.7,143.5 829.5,141.9 833.3,140.3 837.1,138.7 840.9,137.2 844.7,135.7 848.5,134.2 852.2,132.7 856,131.3 859.8,130 863.6,128.7"/>
<polyline fill="none" stroke="#ff9119" stroke-width="1.7" stroke-linejoin="round" points="776.5,164.9 780.3,164.5 784.1,163.6 787.9,161.9 791.6,160.2 795.4,158.5 799.2,156.6 803,154.7 806.8,152.7 810.6,150.7 814.4,148.8 818.2,146.9 821.9,145.2 825.7,143.5 829.5,141.9 833.3,140.3 837.1,138.7 840.9,137.1 844.7,135.6 848.5,134.1 852.2,132.7 856,131.3 859.8,129.9 863.6,128.6"/>
<polyline fill="none" stroke="#ff7a14" stroke-width="1.7" stroke-linejoin="round" points="776.5,164.9 780.3,164.6 784.1,163.7 787.9,162 791.6,160.3 795.4,158.5 799.2,156.6 803,154.7 806.8,152.7 810.6,150.8 814.4,148.8 818.2,146.9 821.9,145.2 825.7,143.5 829.5,141.9 833.3,140.2 837.1,138.7 840.9,137.1 844.7,135.6 848.5,134.1 852.2,132.7 856,131.2 859.8,129.9 863.6,128.6"/>
<polyline fill="none" stroke="#fc6013" stroke-width="1.7" stroke-linejoin="round" points="776.5,165 780.3,164.7 784.1,163.8 787.9,162.1 791.6,160.4 795.4,158.6 799.2,156.7 803,154.7 806.8,152.8 810.6,150.8 814.4,148.8 818.2,147 821.9,145.2 825.7,143.5 829.5,141.8 833.3,140.2 837.1,138.6 840.9,137.1 844.7,135.5 848.5,134.1 852.2,132.6 856,131.2 859.8,129.8 863.6,128.5"/>
<polyline fill="none" stroke="#fa4612" stroke-width="1.7" stroke-linejoin="round" points="776.5,165.1 780.3,164.7 784.1,163.8 787.9,162.2 791.6,160.4 795.4,158.6 799.2,156.7 803,154.8 806.8,152.8 810.6,150.8 814.4,148.9 818.2,147 821.9,145.2 825.7,143.5 829.5,141.8 833.3,140.2 837.1,138.6 840.9,137 844.7,135.5 848.5,134 852.2,132.6 856,131.1 859.8,129.8 863.6,128.4"/>
<polyline fill="none" stroke="#f62c12" stroke-width="1.7" stroke-linejoin="round" points="776.5,165.2 780.3,164.8 784.1,163.9 787.9,162.2 791.6,160.5 795.4,158.7 799.2,156.8 803,154.8 806.8,152.8 810.6,150.8 814.4,148.9 818.2,147 821.9,145.2 825.7,143.5 829.5,141.8 833.3,140.2 837.1,138.6 840.9,137 844.7,135.5 848.5,134 852.2,132.5 856,131.1 859.8,129.7 863.6,128.4"/>
<polyline fill="none" stroke="#f21212" stroke-width="1.7" stroke-linejoin="round" points="776.5,165.3 780.3,164.9 784.1,164 787.9,162.3 791.6,160.6 795.4,158.7 799.2,156.8 803,154.9 806.8,152.9 810.6,150.9 814.4,148.9 818.2,147 821.9,145.2 825.7,143.5 829.5,141.8 833.3,140.2 837.1,138.6 840.9,137 844.7,135.4 848.5,133.9 852.2,132.5 856,131 859.8,129.6 863.6,128.3"/>
<rect x="768.9" y="127" width="95.5" height="59.6" fill="none" stroke="#000" stroke-width="1.5"/>
<text x="766.9" y="141.9" font-size="13.8" text-anchor="end" fill="#000" font-family="'Liberation Serif',serif" font-weight="bold" >5.00</text>
<text x="766.9" y="165.8" font-size="13.8" text-anchor="end" fill="#000" font-family="'Liberation Serif',serif" font-weight="bold" >4.75</text>
<text x="766.9" y="191.3" font-size="13.8" text-anchor="end" fill="#000" font-family="'Liberation Serif',serif" font-weight="bold" >4.50</text>
<text x="770" y="199.7" font-size="13.8" text-anchor="middle" fill="#000" font-family="'Liberation Serif',serif" font-weight="bold" >0.00</text>
<line x1="770" y1="186.6" x2="770" y2="184.1" stroke="#000" stroke-width="1"/>
<text x="798.8" y="199.7" font-size="13.8" text-anchor="middle" fill="#000" font-family="'Liberation Serif',serif" font-weight="bold" >0.25</text>
<line x1="798.8" y1="186.6" x2="798.8" y2="184.1" stroke="#000" stroke-width="1"/>
<text x="828.5" y="199.7" font-size="13.8" text-anchor="middle" fill="#000" font-family="'Liberation Serif',serif" font-weight="bold" >0.50</text>
<line x1="828.5" y1="186.6" x2="828.5" y2="184.1" stroke="#000" stroke-width="1"/>
<text x="857.7" y="199.7" font-size="13.8" text-anchor="middle" fill="#000" font-family="'Liberation Serif',serif" font-weight="bold" >0.75</text>
<line x1="857.7" y1="186.6" x2="857.7" y2="184.1" stroke="#000" stroke-width="1"/>
<text x="815.2" y="211" font-size="14.5" text-anchor="middle" fill="#000" font-family="'Liberation Serif',serif" font-weight="bold" >V<tspan font-size="9.5" dy="3">DS</tspan><tspan dy="-3"> (V)</tspan></text>
<text transform="translate(738 165.5) rotate(-90)" font-size="14.5" text-anchor="middle" font-family="'Liberation Serif',serif" font-weight="bold">R<tspan font-size="9.5" dy="3">ON</tspan><tspan dy="-3"> (Ω/mm)</tspan></text>
<text x="945" y="257.8" font-size="25.2" text-anchor="end" fill="#000" font-family="'Liberation Serif',serif" font-weight="bold" >(b) V<tspan font-size="16" dy="7">GS</tspan><tspan dy="-7"> = 4 V</tspan></text>
<path d="M886.1 59.4 Q903 88 888.3 112.1" fill="none" stroke="#000" stroke-width="2.7" stroke-linecap="round"/>
<polygon points="884.3,118.7 885.3,106.4 894.7,112.2" fill="#000"/>
<path d="M930.6 208.5 Q930.5 184 925.3 180.9" fill="none" stroke="#1616d6" stroke-width="2.3" stroke-linecap="round"/>
<polygon points="918,176.7 930.9,178.4 925.8,187.1" fill="#1616d6"/>
<line x1="601.2" y1="273" x2="601.2" y2="268.1" stroke="#000" stroke-width="2.4"/>
<text x="601.2" y="299.2" font-size="24.8" text-anchor="middle" fill="#000" font-family="'Liberation Serif',serif" font-weight="bold" >0</text>
<line x1="629.7" y1="273" x2="629.7" y2="269.9" stroke="#000" stroke-width="2.4"/>
<line x1="658.2" y1="273" x2="658.2" y2="268.1" stroke="#000" stroke-width="2.4"/>
<text x="658.2" y="299.2" font-size="24.8" text-anchor="middle" fill="#000" font-family="'Liberation Serif',serif" font-weight="bold" >2</text>
<line x1="686.7" y1="273" x2="686.7" y2="269.9" stroke="#000" stroke-width="2.4"/>
<line x1="715.2" y1="273" x2="715.2" y2="268.1" stroke="#000" stroke-width="2.4"/>
<text x="715.2" y="299.2" font-size="24.8" text-anchor="middle" fill="#000" font-family="'Liberation Serif',serif" font-weight="bold" >4</text>
<line x1="743.7" y1="273" x2="743.7" y2="269.9" stroke="#000" stroke-width="2.4"/>
<line x1="772.2" y1="273" x2="772.2" y2="268.1" stroke="#000" stroke-width="2.4"/>
<text x="772.2" y="299.2" font-size="24.8" text-anchor="middle" fill="#000" font-family="'Liberation Serif',serif" font-weight="bold" >6</text>
<line x1="800.7" y1="273" x2="800.7" y2="269.9" stroke="#000" stroke-width="2.4"/>
<line x1="829.2" y1="273" x2="829.2" y2="268.1" stroke="#000" stroke-width="2.4"/>
<text x="829.2" y="299.2" font-size="24.8" text-anchor="middle" fill="#000" font-family="'Liberation Serif',serif" font-weight="bold" >8</text>
<line x1="857.7" y1="273" x2="857.7" y2="269.9" stroke="#000" stroke-width="2.4"/>
<line x1="886.2" y1="273" x2="886.2" y2="268.1" stroke="#000" stroke-width="2.4"/>
<text x="886.2" y="299.2" font-size="24.8" text-anchor="middle" fill="#000" font-family="'Liberation Serif',serif" font-weight="bold" >10</text>
<line x1="914.7" y1="273" x2="914.7" y2="269.9" stroke="#000" stroke-width="2.4"/>
<line x1="943.2" y1="273" x2="943.2" y2="268.1" stroke="#000" stroke-width="2.4"/>
<text x="943.2" y="299.2" font-size="24.8" text-anchor="middle" fill="#000" font-family="'Liberation Serif',serif" font-weight="bold" >12</text>
<line x1="587.4" y1="263" x2="592.5" y2="263" stroke="#000" stroke-width="2.4"/>
<text x="580.1" y="271.1" font-size="24.5" text-anchor="end" fill="#000" font-family="'Liberation Serif',serif" font-weight="bold" >0.0</text>
<line x1="587.4" y1="242.3" x2="590.5" y2="242.3" stroke="#000" stroke-width="2.4"/>
<line x1="587.4" y1="221.7" x2="592.5" y2="221.7" stroke="#000" stroke-width="2.4"/>
<text x="580.1" y="229.8" font-size="24.5" text-anchor="end" fill="#000" font-family="'Liberation Serif',serif" font-weight="bold" >0.2</text>
<line x1="587.4" y1="201" x2="590.5" y2="201" stroke="#000" stroke-width="2.4"/>
<line x1="587.4" y1="180.3" x2="592.5" y2="180.3" stroke="#000" stroke-width="2.4"/>
<text x="580.1" y="188.4" font-size="24.5" text-anchor="end" fill="#000" font-family="'Liberation Serif',serif" font-weight="bold" >0.4</text>
<line x1="587.4" y1="159.7" x2="590.5" y2="159.7" stroke="#000" stroke-width="2.4"/>
<line x1="587.4" y1="139" x2="592.5" y2="139" stroke="#000" stroke-width="2.4"/>
<text x="580.1" y="147.1" font-size="24.5" text-anchor="end" fill="#000" font-family="'Liberation Serif',serif" font-weight="bold" >0.6</text>
<line x1="587.4" y1="118.3" x2="590.5" y2="118.3" stroke="#000" stroke-width="2.4"/>
<line x1="587.4" y1="97.6" x2="592.5" y2="97.6" stroke="#000" stroke-width="2.4"/>
<text x="580.1" y="105.7" font-size="24.5" text-anchor="end" fill="#000" font-family="'Liberation Serif',serif" font-weight="bold" >0.8</text>
<line x1="587.4" y1="77" x2="590.5" y2="77" stroke="#000" stroke-width="2.4"/>
<line x1="587.4" y1="56.3" x2="592.5" y2="56.3" stroke="#000" stroke-width="2.4"/>
<text x="580.1" y="64.4" font-size="24.5" text-anchor="end" fill="#000" font-family="'Liberation Serif',serif" font-weight="bold" >1.0</text>
<line x1="587.4" y1="35.6" x2="590.5" y2="35.6" stroke="#000" stroke-width="2.4"/>
<line x1="587.4" y1="15" x2="592.5" y2="15" stroke="#000" stroke-width="2.4"/>
<text x="580.1" y="23.1" font-size="24.5" text-anchor="end" fill="#000" font-family="'Liberation Serif',serif" font-weight="bold" >1.2</text>
<line x1="957.1" y1="273.5" x2="952" y2="273.5" stroke="#1616d6" stroke-width="2.4"/>
<text x="962.4" y="281.6" font-size="24.5" text-anchor="start" fill="#1616d6" font-family="'Liberation Serif',serif" font-weight="bold" >0</text>
<line x1="957.1" y1="256.2" x2="954" y2="256.2" stroke="#1616d6" stroke-width="2.4"/>
<line x1="957.1" y1="238.9" x2="952" y2="238.9" stroke="#1616d6" stroke-width="2.4"/>
<text x="962.4" y="247" font-size="24.5" text-anchor="start" fill="#1616d6" font-family="'Liberation Serif',serif" font-weight="bold" >5</text>
<line x1="957.1" y1="221.6" x2="954" y2="221.6" stroke="#1616d6" stroke-width="2.4"/>
<line x1="957.1" y1="204.3" x2="952" y2="204.3" stroke="#1616d6" stroke-width="2.4"/>
<text x="962.4" y="212.4" font-size="24.5" text-anchor="start" fill="#1616d6" font-family="'Liberation Serif',serif" font-weight="bold" >10</text>
<line x1="957.1" y1="187" x2="954" y2="187" stroke="#1616d6" stroke-width="2.4"/>
<line x1="957.1" y1="169.7" x2="952" y2="169.7" stroke="#1616d6" stroke-width="2.4"/>
<text x="962.4" y="177.8" font-size="24.5" text-anchor="start" fill="#1616d6" font-family="'Liberation Serif',serif" font-weight="bold" >15</text>
<line x1="957.1" y1="152.4" x2="954" y2="152.4" stroke="#1616d6" stroke-width="2.4"/>
<line x1="957.1" y1="135.1" x2="952" y2="135.1" stroke="#1616d6" stroke-width="2.4"/>
<text x="962.4" y="143.2" font-size="24.5" text-anchor="start" fill="#1616d6" font-family="'Liberation Serif',serif" font-weight="bold" >20</text>
<line x1="957.1" y1="117.8" x2="954" y2="117.8" stroke="#1616d6" stroke-width="2.4"/>
<line x1="957.1" y1="100.5" x2="952" y2="100.5" stroke="#1616d6" stroke-width="2.4"/>
<text x="962.4" y="108.6" font-size="24.5" text-anchor="start" fill="#1616d6" font-family="'Liberation Serif',serif" font-weight="bold" >25</text>
<line x1="957.1" y1="83.2" x2="954" y2="83.2" stroke="#1616d6" stroke-width="2.4"/>
<line x1="957.1" y1="65.9" x2="952" y2="65.9" stroke="#1616d6" stroke-width="2.4"/>
<text x="962.4" y="74" font-size="24.5" text-anchor="start" fill="#1616d6" font-family="'Liberation Serif',serif" font-weight="bold" >30</text>
<line x1="957.1" y1="48.6" x2="954" y2="48.6" stroke="#1616d6" stroke-width="2.4"/>
<line x1="957.1" y1="31.3" x2="952" y2="31.3" stroke="#1616d6" stroke-width="2.4"/>
<text x="962.4" y="39.4" font-size="24.5" text-anchor="start" fill="#1616d6" font-family="'Liberation Serif',serif" font-weight="bold" >35</text>
<path d="M587.4 12.5 V273 H957.1" fill="none" stroke="#000" stroke-width="3" stroke-linejoin="miter"/>
<path d="M585.9 14 H957.1" fill="none" stroke="#000" stroke-width="3"/>
<path d="M957.1 12.5 V274.5" fill="none" stroke="#1616d6" stroke-width="3.2"/>
<text transform="translate(535.6 144.5) rotate(-90)" font-size="27.5" letter-spacing="0.3" text-anchor="middle" font-family="'Liberation Serif',serif" font-weight="bold">I<tspan font-size="18" dy="7.5">DS</tspan><tspan dy="-7.5"> (A/mm)</tspan></text>
<text transform="translate(1012.1 134.3) rotate(-90)" font-size="27" text-anchor="middle" fill="#1616d6" font-family="'Liberation Serif',serif" font-weight="bold">R<tspan font-size="18" dy="7.5">ON</tspan><tspan dy="-7.5"> (Ω·mm)</tspan></text>
<text x="772.2" y="323.3" font-size="27" text-anchor="middle" fill="#000" font-family="'Liberation Serif',serif" font-weight="bold" >V<tspan font-size="18" dy="7.5">DS</tspan><tspan dy="-7.5"> (V)</tspan></text>
<rect x="82" y="560.5" width="37.9" height="24.4" fill="none" stroke="#ee1616" stroke-width="2.6" stroke-dasharray="6 7.5"/>
<polyline fill="none" stroke="#e020e6" stroke-width="2.7" stroke-linejoin="round" points="87,597.4 90.9,591.6 94.7,585.9 98.6,580.3 102.5,574.7 106.3,569.1 110.2,563.7 114.1,558.2 117.9,552.8 121.8,547.5 125.7,542.3 129.6,537.1 133.4,531.9 137.3,526.9 141.2,521.9 145,516.9 148.9,512 152.8,507.3 156.6,502.6 160.5,497.9 164.4,493.2 168.2,488.3 172.1,483.1 176,477.8 179.8,473 183.7,468.4 187.6,463.7 191.5,458.8 195.3,454 199.2,449.3 203.1,444.7 206.9,440.3 210.8,436 214.7,431.8 218.5,428.1 222.4,424.4 226.3,420.6 230.1,417 234,413.5 237.9,410.3 241.7,407.3 245.6,404.3 249.5,401.9 253.3,400.4 257.2,399.3 261.1,398.5 265,397.8 268.8,397.3 272.7,396.8 276.6,396.4 280.4,396 284.3,395.7 288.2,395.3 292,395 295.9,394.7 299.8,394.4 303.6,394.1 307.5,393.8 311.4,393.5 315.2,393.2 319.1,393 323,392.7 326.8,392.4 330.7,392.1 334.6,391.8 338.5,391.5 342.3,391.2 346.2,391 350.1,390.7 353.9,390.4 357.8,390.2 361.7,389.9 365.5,389.7 369.4,389.4 373.3,389.2 377.1,388.9 381,388.7 384.9,388.4 388.7,388.2 392.6,388 396.5,387.8 400.4,387.5 404.2,387.3 408.1,387.1 412,386.9 415.8,386.7 419.7,386.5 423.6,386.4 427.4,386.2 431.3,386"/>
<polyline fill="none" stroke="#a020e0" stroke-width="2.7" stroke-linejoin="round" points="87,597.4 90.9,591.7 94.7,586 98.6,580.5 102.5,574.9 106.3,569.5 110.2,564.1 114.1,558.7 117.9,553.4 121.8,548.2 125.7,543 129.6,537.9 133.4,532.9 137.3,527.9 141.2,523 145,518.1 148.9,513.4 152.8,508.7 156.6,504.2 160.5,499.6 164.4,495 168.2,490.3 172.1,485.3 176,480.3 179.8,475.7 183.7,471.3 187.6,466.8 191.5,462.2 195.3,457.6 199.2,453.1 203.1,448.7 206.9,444.5 210.8,440.4 214.7,436.5 218.5,432.8 222.4,429.3 226.3,425.7 230.1,422.2 234,418.9 237.9,415.8 241.7,412.9 245.6,410 249.5,407.7 253.3,406.2 257.2,405.1 261.1,404.3 265,403.6 268.8,403.2 272.7,402.7 276.6,402.4 280.4,402.1 284.3,401.8 288.2,401.5 292,401.3 295.9,401 299.8,400.8 303.6,400.5 307.5,400.3 311.4,400 315.2,399.8 319.1,399.5 323,399.3 326.8,399 330.7,398.8 334.6,398.5 338.5,398.3 342.3,398.1 346.2,397.8 350.1,397.6 353.9,397.4 357.8,397.1 361.7,396.9 365.5,396.7 369.4,396.5 373.3,396.3 377.1,396.1 381,395.8 384.9,395.6 388.7,395.4 392.6,395.2 396.5,395.1 400.4,394.9 404.2,394.7 408.1,394.5 412,394.3 415.8,394.1 419.7,394 423.6,393.8 427.4,393.7 431.3,393.5"/>
<polyline fill="none" stroke="#6420e6" stroke-width="2.7" stroke-linejoin="round" points="87,597.4 90.9,591.7 94.7,586.1 98.6,580.6 102.5,575.1 106.3,569.6 110.2,564.3 114.1,559 117.9,553.7 121.8,548.6 125.7,543.5 129.6,538.4 133.4,533.4 137.3,528.5 141.2,523.7 145,518.9 148.9,514.2 152.8,509.6 156.6,505.1 160.5,500.6 164.4,496 168.2,491.4 172.1,486.6 176,481.8 179.8,477.3 183.7,473 187.6,468.6 191.5,464.1 195.3,459.6 199.2,455.3 203.1,451.1 206.9,447 210.8,443 214.7,439.2 218.5,435.6 222.4,432.1 226.3,428.6 230.1,425.3 234,422 237.9,419 241.7,416.2 245.6,413.4 249.5,411 253.3,409.5 257.2,408.5 261.1,407.6 265,407 268.8,406.6 272.7,406.2 276.6,405.9 280.4,405.6 284.3,405.3 288.2,405.1 292,404.9 295.9,404.7 299.8,404.4 303.6,404.2 307.5,404 311.4,403.8 315.2,403.5 319.1,403.3 323,403.1 326.8,402.9 330.7,402.7 334.6,402.4 338.5,402.2 342.3,402 346.2,401.8 350.1,401.6 353.9,401.4 357.8,401.2 361.7,401 365.5,400.8 369.4,400.6 373.3,400.4 377.1,400.2 381,400 384.9,399.8 388.7,399.7 392.6,399.5 396.5,399.3 400.4,399.1 404.2,398.9 408.1,398.8 412,398.6 415.8,398.5 419.7,398.3 423.6,398.1 427.4,398 431.3,397.9"/>
<polyline fill="none" stroke="#2a1eea" stroke-width="2.7" stroke-linejoin="round" points="87,597.4 90.9,591.7 94.7,586.1 98.6,580.6 102.5,575.2 106.3,569.8 110.2,564.4 114.1,559.2 117.9,553.9 121.8,548.8 125.7,543.7 129.6,538.7 133.4,533.8 137.3,528.9 141.2,524.1 145,519.3 148.9,514.6 152.8,510.1 156.6,505.6 160.5,501.1 164.4,496.7 168.2,492.1 172.1,487.4 176,482.7 179.8,478.3 183.7,474 187.6,469.7 191.5,465.3 195.3,460.9 199.2,456.7 203.1,452.5 206.9,448.5 210.8,444.6 214.7,440.8 218.5,437.3 222.4,433.9 226.3,430.5 230.1,427.1 234,424 237.9,421 241.7,418.2 245.6,415.4 249.5,413.1 253.3,411.6 257.2,410.5 261.1,409.7 265,409.2 268.8,408.7 272.7,408.3 276.6,408 280.4,407.8 284.3,407.6 288.2,407.3 292,407.1 295.9,406.9 299.8,406.7 303.6,406.5 307.5,406.3 311.4,406.1 315.2,405.9 319.1,405.7 323,405.5 326.8,405.3 330.7,405.1 334.6,404.9 338.5,404.7 342.3,404.5 346.2,404.3 350.1,404.1 353.9,403.9 357.8,403.7 361.7,403.5 365.5,403.3 369.4,403.1 373.3,403 377.1,402.8 381,402.6 384.9,402.4 388.7,402.3 392.6,402.1 396.5,401.9 400.4,401.8 404.2,401.6 408.1,401.4 412,401.3 415.8,401.1 419.7,401 423.6,400.8 427.4,400.7 431.3,400.6"/>
<polyline fill="none" stroke="#1d27ed" stroke-width="2.7" stroke-linejoin="round" points="87,597.4 90.9,591.8 94.7,586.2 98.6,580.7 102.5,575.2 106.3,569.8 110.2,564.5 114.1,559.2 117.9,554 121.8,548.9 125.7,543.9 129.6,538.9 133.4,533.9 137.3,529.1 141.2,524.3 145,519.5 148.9,514.9 152.8,510.4 156.6,505.9 160.5,501.4 164.4,497 168.2,492.5 172.1,487.8 176,483.1 179.8,478.8 183.7,474.6 187.6,470.3 191.5,465.9 195.3,461.6 199.2,457.3 203.1,453.2 206.9,449.3 210.8,445.4 214.7,441.7 218.5,438.2 222.4,434.8 226.3,431.4 230.1,428.1 234,424.9 237.9,422 241.7,419.2 245.6,416.4 249.5,414.1 253.3,412.7 257.2,411.6 261.1,410.8 265,410.2 268.8,409.8 272.7,409.4 276.6,409.1 280.4,408.9 284.3,408.7 288.2,408.4 292,408.2 295.9,408 299.8,407.8 303.6,407.7 307.5,407.5 311.4,407.3 315.2,407.1 319.1,406.9 323,406.7 326.8,406.5 330.7,406.3 334.6,406.1 338.5,405.9 342.3,405.7 346.2,405.5 350.1,405.3 353.9,405.1 357.8,405 361.7,404.8 365.5,404.6 369.4,404.4 373.3,404.2 377.1,404.1 381,403.9 384.9,403.7 388.7,403.6 392.6,403.4 396.5,403.2 400.4,403.1 404.2,402.9 408.1,402.8 412,402.6 415.8,402.5 419.7,402.3 423.6,402.2 427.4,402 431.3,401.9"/>
<polyline fill="none" stroke="#1030f0" stroke-width="2.7" stroke-linejoin="round" points="87,597.4 90.9,591.8 94.7,586.2 98.6,580.7 102.5,575.2 106.3,569.9 110.2,564.6 114.1,559.3 117.9,554.1 121.8,549 125.7,544 129.6,539 133.4,534.1 137.3,529.3 141.2,524.5 145,519.8 148.9,515.1 152.8,510.6 156.6,506.2 160.5,501.7 164.4,497.3 168.2,492.8 172.1,488.2 176,483.6 179.8,479.2 183.7,475.1 187.6,470.8 191.5,466.5 195.3,462.2 199.2,458 203.1,454 206.9,450 210.8,446.2 214.7,442.5 218.5,439 222.4,435.7 226.3,432.3 230.1,429 234,425.9 237.9,423 241.7,420.2 245.6,417.5 249.5,415.2 253.3,413.7 257.2,412.6 261.1,411.8 265,411.3 268.8,410.8 272.7,410.5 276.6,410.2 280.4,410 284.3,409.8 288.2,409.6 292,409.4 295.9,409.2 299.8,409 303.6,408.8 307.5,408.6 311.4,408.4 315.2,408.2 319.1,408 323,407.9 326.8,407.7 330.7,407.5 334.6,407.3 338.5,407.1 342.3,406.9 346.2,406.8 350.1,406.6 353.9,406.4 357.8,406.2 361.7,406 365.5,405.9 369.4,405.7 373.3,405.5 377.1,405.4 381,405.2 384.9,405 388.7,404.9 392.6,404.7 396.5,404.6 400.4,404.4 404.2,404.2 408.1,404.1 412,403.9 415.8,403.8 419.7,403.7 423.6,403.5 427.4,403.4 431.3,403.3"/>
<polyline fill="none" stroke="#124af2" stroke-width="2.7" stroke-linejoin="round" points="87,597.4 90.9,591.8 94.7,586.2 98.6,580.7 102.5,575.3 106.3,569.9 110.2,564.6 114.1,559.4 117.9,554.2 121.8,549.1 125.7,544.1 129.6,539.1 133.4,534.2 137.3,529.4 141.2,524.6 145,519.9 148.9,515.3 152.8,510.8 156.6,506.3 160.5,501.9 164.4,497.5 168.2,493 172.1,488.4 176,483.9 179.8,479.6 183.7,475.4 187.6,471.2 191.5,466.9 195.3,462.6 199.2,458.5 203.1,454.4 206.9,450.5 210.8,446.7 214.7,443 218.5,439.6 222.4,436.2 226.3,432.9 230.1,429.6 234,426.5 237.9,423.6 241.7,420.9 245.6,418.1 249.5,415.9 253.3,414.4 257.2,413.3 261.1,412.5 265,411.9 268.8,411.5 272.7,411.2 276.6,410.9 280.4,410.7 284.3,410.5 288.2,410.3 292,410.1 295.9,409.9 299.8,409.7 303.6,409.5 307.5,409.4 311.4,409.2 315.2,409 319.1,408.8 323,408.6 326.8,408.4 330.7,408.3 334.6,408.1 338.5,407.9 342.3,407.7 346.2,407.5 350.1,407.4 353.9,407.2 357.8,407 361.7,406.9 365.5,406.7 369.4,406.5 373.3,406.4 377.1,406.2 381,406 384.9,405.9 388.7,405.7 392.6,405.6 396.5,405.4 400.4,405.2 404.2,405.1 408.1,404.9 412,404.8 415.8,404.7 419.7,404.5 423.6,404.4 427.4,404.2 431.3,404.1"/>
<polyline fill="none" stroke="#1464f5" stroke-width="2.7" stroke-linejoin="round" points="87,597.4 90.9,591.8 94.7,586.2 98.6,580.7 102.5,575.3 106.3,570 110.2,564.7 114.1,559.4 117.9,554.3 121.8,549.2 125.7,544.2 129.6,539.2 133.4,534.3 137.3,529.5 141.2,524.7 145,520.1 148.9,515.5 152.8,510.9 156.6,506.5 160.5,502.1 164.4,497.7 168.2,493.3 172.1,488.7 176,484.2 179.8,479.9 183.7,475.7 187.6,471.5 191.5,467.3 195.3,463 199.2,458.9 203.1,454.9 206.9,451 210.8,447.2 214.7,443.6 218.5,440.1 222.4,436.8 226.3,433.5 230.1,430.2 234,427.1 237.9,424.2 241.7,421.5 245.6,418.8 249.5,416.5 253.3,415.1 257.2,414 261.1,413.2 265,412.6 268.8,412.2 272.7,411.8 276.6,411.6 280.4,411.4 284.3,411.2 288.2,411 292,410.8 295.9,410.6 299.8,410.5 303.6,410.3 307.5,410.1 311.4,409.9 315.2,409.7 319.1,409.6 323,409.4 326.8,409.2 330.7,409 334.6,408.9 338.5,408.7 342.3,408.5 346.2,408.3 350.1,408.2 353.9,408 357.8,407.8 361.7,407.7 365.5,407.5 369.4,407.3 373.3,407.2 377.1,407 381,406.9 384.9,406.7 388.7,406.5 392.6,406.4 396.5,406.2 400.4,406.1 404.2,405.9 408.1,405.8 412,405.7 415.8,405.5 419.7,405.4 423.6,405.2 427.4,405.1 431.3,405"/>
<polyline fill="none" stroke="#197ff5" stroke-width="2.7" stroke-linejoin="round" points="87,597.4 90.9,591.8 94.7,586.2 98.6,580.7 102.5,575.3 106.3,570 110.2,564.7 114.1,559.5 117.9,554.3 121.8,549.2 125.7,544.2 129.6,539.3 133.4,534.4 137.3,529.6 141.2,524.8 145,520.2 148.9,515.6 152.8,511.1 156.6,506.6 160.5,502.3 164.4,497.9 168.2,493.4 172.1,488.9 176,484.3 179.8,480.1 183.7,476 187.6,471.8 191.5,467.5 195.3,463.3 199.2,459.2 203.1,455.2 206.9,451.3 210.8,447.6 214.7,443.9 218.5,440.5 222.4,437.2 226.3,433.8 230.1,430.6 234,427.6 237.9,424.7 241.7,421.9 245.6,419.2 249.5,417 253.3,415.5 257.2,414.4 261.1,413.6 265,413.1 268.8,412.6 272.7,412.3 276.6,412.1 280.4,411.8 284.3,411.6 288.2,411.5 292,411.3 295.9,411.1 299.8,410.9 303.6,410.8 307.5,410.6 311.4,410.4 315.2,410.2 319.1,410.1 323,409.9 326.8,409.7 330.7,409.6 334.6,409.4 338.5,409.2 342.3,409 346.2,408.9 350.1,408.7 353.9,408.5 357.8,408.4 361.7,408.2 365.5,408.1 369.4,407.9 373.3,407.7 377.1,407.6 381,407.4 384.9,407.3 388.7,407.1 392.6,407 396.5,406.8 400.4,406.7 404.2,406.5 408.1,406.4 412,406.2 415.8,406.1 419.7,406 423.6,405.8 427.4,405.7 431.3,405.6"/>
<polyline fill="none" stroke="#1e9af5" stroke-width="2.7" stroke-linejoin="round" points="87,597.4 90.9,591.8 94.7,586.2 98.6,580.8 102.5,575.3 106.3,570 110.2,564.7 114.1,559.5 117.9,554.4 121.8,549.3 125.7,544.3 129.6,539.3 133.4,534.5 137.3,529.7 141.2,524.9 145,520.3 148.9,515.7 152.8,511.2 156.6,506.8 160.5,502.4 164.4,498 168.2,493.6 172.1,489 176,484.5 179.8,480.3 183.7,476.2 187.6,472 191.5,467.8 195.3,463.6 199.2,459.5 203.1,455.5 206.9,451.7 210.8,447.9 214.7,444.3 218.5,440.9 222.4,437.6 226.3,434.2 230.1,431 234,428 237.9,425.1 241.7,422.4 245.6,419.7 249.5,417.4 253.3,416 257.2,414.9 261.1,414.1 265,413.5 268.8,413.1 272.7,412.8 276.6,412.5 280.4,412.3 284.3,412.1 288.2,412 292,411.8 295.9,411.6 299.8,411.4 303.6,411.3 307.5,411.1 311.4,410.9 315.2,410.8 319.1,410.6 323,410.4 326.8,410.2 330.7,410.1 334.6,409.9 338.5,409.7 342.3,409.6 346.2,409.4 350.1,409.2 353.9,409.1 357.8,408.9 361.7,408.8 365.5,408.6 369.4,408.4 373.3,408.3 377.1,408.1 381,408 384.9,407.8 388.7,407.7 392.6,407.5 396.5,407.4 400.4,407.2 404.2,407.1 408.1,407 412,406.8 415.8,406.7 419.7,406.5 423.6,406.4 427.4,406.3 431.3,406.2"/>
<polyline fill="none" stroke="#23b6f2" stroke-width="2.7" stroke-linejoin="round" points="87,597.4 90.9,591.8 94.7,586.2 98.6,580.8 102.5,575.4 106.3,570 110.2,564.8 114.1,559.6 117.9,554.4 121.8,549.3 125.7,544.3 129.6,539.4 133.4,534.5 137.3,529.7 141.2,525 145,520.3 148.9,515.8 152.8,511.3 156.6,506.9 160.5,502.5 164.4,498.1 168.2,493.7 172.1,489.2 176,484.7 179.8,480.5 183.7,476.4 187.6,472.3 191.5,468 195.3,463.9 199.2,459.8 203.1,455.8 206.9,452 210.8,448.3 214.7,444.7 218.5,441.3 222.4,438 226.3,434.6 230.1,431.5 234,428.4 237.9,425.5 241.7,422.8 245.6,420.1 249.5,417.9 253.3,416.4 257.2,415.3 261.1,414.5 265,414 268.8,413.6 272.7,413.2 276.6,413 280.4,412.8 284.3,412.6 288.2,412.4 292,412.3 295.9,412.1 299.8,411.9 303.6,411.8 307.5,411.6 311.4,411.4 315.2,411.3 319.1,411.1 323,410.9 326.8,410.8 330.7,410.6 334.6,410.4 338.5,410.3 342.3,410.1 346.2,409.9 350.1,409.8 353.9,409.6 357.8,409.5 361.7,409.3 365.5,409.1 369.4,409 373.3,408.8 377.1,408.7 381,408.5 384.9,408.4 388.7,408.2 392.6,408.1 396.5,407.9 400.4,407.8 404.2,407.7 408.1,407.5 412,407.4 415.8,407.3 419.7,407.1 423.6,407 427.4,406.9 431.3,406.7"/>
<polyline fill="none" stroke="#28d2f0" stroke-width="2.7" stroke-linejoin="round" points="87,597.4 90.9,591.8 94.7,586.3 98.6,580.8 102.5,575.4 106.3,570.1 110.2,564.8 114.1,559.6 117.9,554.5 121.8,549.4 125.7,544.4 129.6,539.5 133.4,534.6 137.3,529.8 141.2,525.1 145,520.4 148.9,515.9 152.8,511.4 156.6,507 160.5,502.6 164.4,498.3 168.2,493.9 172.1,489.4 176,484.9 179.8,480.7 183.7,476.6 187.6,472.5 191.5,468.3 195.3,464.1 199.2,460.1 203.1,456.2 206.9,452.3 210.8,448.6 214.7,445 218.5,441.6 222.4,438.3 226.3,435 230.1,431.9 234,428.8 237.9,426 241.7,423.3 245.6,420.6 249.5,418.3 253.3,416.9 257.2,415.8 261.1,415 265,414.4 268.8,414 272.7,413.7 276.6,413.5 280.4,413.3 284.3,413.1 288.2,412.9 292,412.8 295.9,412.6 299.8,412.4 303.6,412.3 307.5,412.1 311.4,411.9 315.2,411.8 319.1,411.6 323,411.4 326.8,411.3 330.7,411.1 334.6,411 338.5,410.8 342.3,410.6 346.2,410.5 350.1,410.3 353.9,410.2 357.8,410 361.7,409.9 365.5,409.7 369.4,409.5 373.3,409.4 377.1,409.2 381,409.1 384.9,408.9 388.7,408.8 392.6,408.7 396.5,408.5 400.4,408.4 404.2,408.2 408.1,408.1 412,408 415.8,407.8 419.7,407.7 423.6,407.6 427.4,407.4 431.3,407.3"/>
<polyline fill="none" stroke="#2ddce1" stroke-width="2.7" stroke-linejoin="round" points="87,597.4 90.9,591.8 94.7,586.3 98.6,580.8 102.5,575.4 106.3,570.1 110.2,564.8 114.1,559.6 117.9,554.5 121.8,549.4 125.7,544.5 129.6,539.6 133.4,534.7 137.3,529.9 141.2,525.2 145,520.6 148.9,516 152.8,511.5 156.6,507.1 160.5,502.8 164.4,498.4 168.2,494 172.1,489.6 176,485.1 179.8,480.9 183.7,476.9 187.6,472.8 191.5,468.6 195.3,464.4 199.2,460.4 203.1,456.5 206.9,452.7 210.8,449 214.7,445.4 218.5,442 222.4,438.7 226.3,435.5 230.1,432.3 234,429.3 237.9,426.4 241.7,423.7 245.6,421.1 249.5,418.8 253.3,417.4 257.2,416.3 261.1,415.5 265,414.9 268.8,414.5 272.7,414.2 276.6,414 280.4,413.8 284.3,413.6 288.2,413.4 292,413.3 295.9,413.1 299.8,413 303.6,412.8 307.5,412.6 311.4,412.5 315.2,412.3 319.1,412.2 323,412 326.8,411.8 330.7,411.7 334.6,411.5 338.5,411.4 342.3,411.2 346.2,411 350.1,410.9 353.9,410.7 357.8,410.6 361.7,410.4 365.5,410.3 369.4,410.1 373.3,410 377.1,409.8 381,409.7 384.9,409.6 388.7,409.4 392.6,409.3 396.5,409.1 400.4,409 404.2,408.9 408.1,408.7 412,408.6 415.8,408.5 419.7,408.3 423.6,408.2 427.4,408.1 431.3,407.9"/>
<polyline fill="none" stroke="#32e6d2" stroke-width="2.7" stroke-linejoin="round" points="87,597.4 90.9,591.8 94.7,586.3 98.6,580.8 102.5,575.4 106.3,570.1 110.2,564.9 114.1,559.7 117.9,554.6 121.8,549.5 125.7,544.5 129.6,539.6 133.4,534.8 137.3,530 141.2,525.3 145,520.7 148.9,516.1 152.8,511.6 156.6,507.3 160.5,502.9 164.4,498.6 168.2,494.2 172.1,489.8 176,485.3 179.8,481.2 183.7,477.1 187.6,473 191.5,468.9 195.3,464.7 199.2,460.7 203.1,456.8 206.9,453 210.8,449.4 214.7,445.8 218.5,442.4 222.4,439.2 226.3,435.9 230.1,432.7 234,429.7 237.9,426.9 241.7,424.2 245.6,421.5 249.5,419.3 253.3,417.8 257.2,416.8 261.1,415.9 265,415.4 268.8,415 272.7,414.7 276.6,414.5 280.4,414.3 284.3,414.1 288.2,413.9 292,413.8 295.9,413.6 299.8,413.5 303.6,413.3 307.5,413.2 311.4,413 315.2,412.9 319.1,412.7 323,412.5 326.8,412.4 330.7,412.2 334.6,412.1 338.5,411.9 342.3,411.8 346.2,411.6 350.1,411.5 353.9,411.3 357.8,411.2 361.7,411 365.5,410.9 369.4,410.7 373.3,410.6 377.1,410.4 381,410.3 384.9,410.2 388.7,410 392.6,409.9 396.5,409.7 400.4,409.6 404.2,409.5 408.1,409.3 412,409.2 415.8,409.1 419.7,408.9 423.6,408.8 427.4,408.7 431.3,408.6"/>
<polyline fill="none" stroke="#37ebbe" stroke-width="2.7" stroke-linejoin="round" points="87,597.4 90.9,591.8 94.7,586.3 98.6,580.8 102.5,575.4 106.3,570.1 110.2,564.9 114.1,559.7 117.9,554.6 121.8,549.6 125.7,544.6 129.6,539.7 133.4,534.8 137.3,530.1 141.2,525.4 145,520.7 148.9,516.2 152.8,511.8 156.6,507.4 160.5,503 164.4,498.7 168.2,494.4 172.1,489.9 176,485.5 179.8,481.4 183.7,477.3 187.6,473.3 191.5,469.1 195.3,465 199.2,461 203.1,457.1 206.9,453.4 210.8,449.7 214.7,446.2 218.5,442.8 222.4,439.5 226.3,436.3 230.1,433.1 234,430.1 237.9,427.3 241.7,424.6 245.6,422 249.5,419.7 253.3,418.3 257.2,417.2 261.1,416.4 265,415.8 268.8,415.4 272.7,415.1 276.6,414.9 280.4,414.7 284.3,414.6 288.2,414.4 292,414.3 295.9,414.1 299.8,414 303.6,413.8 307.5,413.6 311.4,413.5 315.2,413.3 319.1,413.2 323,413 326.8,412.9 330.7,412.7 334.6,412.6 338.5,412.4 342.3,412.3 346.2,412.1 350.1,412 353.9,411.8 357.8,411.7 361.7,411.5 365.5,411.4 369.4,411.3 373.3,411.1 377.1,411 381,410.8 384.9,410.7 388.7,410.6 392.6,410.4 396.5,410.3 400.4,410.2 404.2,410 408.1,409.9 412,409.8 415.8,409.6 419.7,409.5 423.6,409.4 427.4,409.3 431.3,409.1"/>
<polyline fill="none" stroke="#3cf0aa" stroke-width="2.7" stroke-linejoin="round" points="87,597.4 90.9,591.8 94.7,586.3 98.6,580.8 102.5,575.5 106.3,570.2 110.2,564.9 114.1,559.7 117.9,554.6 121.8,549.6 125.7,544.6 129.6,539.7 133.4,534.9 137.3,530.2 141.2,525.5 145,520.8 148.9,516.3 152.8,511.9 156.6,507.5 160.5,503.2 164.4,498.8 168.2,494.5 172.1,490.1 176,485.7 179.8,481.6 183.7,477.6 187.6,473.5 191.5,469.4 195.3,465.3 199.2,461.3 203.1,457.4 206.9,453.7 210.8,450 214.7,446.5 218.5,443.2 222.4,439.9 226.3,436.6 230.1,433.5 234,430.5 237.9,427.7 241.7,425.1 245.6,422.4 249.5,420.2 253.3,418.7 257.2,417.6 261.1,416.8 265,416.3 268.8,415.9 272.7,415.6 276.6,415.4 280.4,415.2 284.3,415 288.2,414.9 292,414.7 295.9,414.6 299.8,414.4 303.6,414.3 307.5,414.1 311.4,414 315.2,413.8 319.1,413.7 323,413.5 326.8,413.4 330.7,413.2 334.6,413.1 338.5,412.9 342.3,412.8 346.2,412.7 350.1,412.5 353.9,412.4 357.8,412.2 361.7,412.1 365.5,411.9 369.4,411.8 373.3,411.7 377.1,411.5 381,411.4 384.9,411.2 388.7,411.1 392.6,411 396.5,410.8 400.4,410.7 404.2,410.6 408.1,410.4 412,410.3 415.8,410.2 419.7,410.1 423.6,409.9 427.4,409.8 431.3,409.7"/>
<polyline fill="none" stroke="#50f091" stroke-width="2.7" stroke-linejoin="round" points="87,597.4 90.9,591.8 94.7,586.3 98.6,580.9 102.5,575.5 106.3,570.2 110.2,564.9 114.1,559.8 117.9,554.7 121.8,549.6 125.7,544.7 129.6,539.8 133.4,535 137.3,530.2 141.2,525.5 145,520.9 148.9,516.4 152.8,512 156.6,507.6 160.5,503.3 164.4,499 168.2,494.6 172.1,490.2 176,485.9 179.8,481.8 183.7,477.8 187.6,473.7 191.5,469.6 195.3,465.5 199.2,461.6 203.1,457.7 206.9,454 210.8,450.3 214.7,446.8 218.5,443.5 222.4,440.2 226.3,437 230.1,433.9 234,430.9 237.9,428.1 241.7,425.4 245.6,422.8 249.5,420.6 253.3,419.1 257.2,418 261.1,417.2 265,416.7 268.8,416.3 272.7,416 276.6,415.8 280.4,415.6 284.3,415.4 288.2,415.3 292,415.1 295.9,415 299.8,414.9 303.6,414.7 307.5,414.6 311.4,414.4 315.2,414.3 319.1,414.1 323,414 326.8,413.8 330.7,413.7 334.6,413.5 338.5,413.4 342.3,413.3 346.2,413.1 350.1,413 353.9,412.8 357.8,412.7 361.7,412.5 365.5,412.4 369.4,412.3 373.3,412.1 377.1,412 381,411.9 384.9,411.7 388.7,411.6 392.6,411.5 396.5,411.3 400.4,411.2 404.2,411.1 408.1,410.9 412,410.8 415.8,410.7 419.7,410.6 423.6,410.4 427.4,410.3 431.3,410.2"/>
<polyline fill="none" stroke="#64f078" stroke-width="2.7" stroke-linejoin="round" points="87,597.4 90.9,591.8 94.7,586.3 98.6,580.9 102.5,575.5 106.3,570.2 110.2,565 114.1,559.8 117.9,554.7 121.8,549.7 125.7,544.7 129.6,539.9 133.4,535 137.3,530.3 141.2,525.6 145,521 148.9,516.5 152.8,512.1 156.6,507.7 160.5,503.4 164.4,499.1 168.2,494.8 172.1,490.4 176,486.1 179.8,481.9 183.7,477.9 187.6,473.9 191.5,469.8 195.3,465.8 199.2,461.8 203.1,458 206.9,454.2 210.8,450.6 214.7,447.1 218.5,443.8 222.4,440.6 226.3,437.3 230.1,434.2 234,431.3 237.9,428.4 241.7,425.8 245.6,423.2 249.5,420.9 253.3,419.5 257.2,418.4 261.1,417.6 265,417.1 268.8,416.7 272.7,416.4 276.6,416.2 280.4,416 284.3,415.8 288.2,415.7 292,415.6 295.9,415.4 299.8,415.3 303.6,415.1 307.5,415 311.4,414.9 315.2,414.7 319.1,414.6 323,414.4 326.8,414.3 330.7,414.1 334.6,414 338.5,413.9 342.3,413.7 346.2,413.6 350.1,413.4 353.9,413.3 357.8,413.2 361.7,413 365.5,412.9 369.4,412.7 373.3,412.6 377.1,412.5 381,412.3 384.9,412.2 388.7,412.1 392.6,411.9 396.5,411.8 400.4,411.7 404.2,411.6 408.1,411.4 412,411.3 415.8,411.2 419.7,411.1 423.6,410.9 427.4,410.8 431.3,410.7"/>
<polyline fill="none" stroke="#82f064" stroke-width="2.7" stroke-linejoin="round" points="87,597.4 90.9,591.8 94.7,586.3 98.6,580.9 102.5,575.5 106.3,570.2 110.2,565 114.1,559.8 117.9,554.8 121.8,549.7 125.7,544.8 129.6,539.9 133.4,535.1 137.3,530.4 141.2,525.7 145,521.1 148.9,516.6 152.8,512.2 156.6,507.8 160.5,503.5 164.4,499.2 168.2,494.9 172.1,490.5 176,486.2 179.8,482.1 183.7,478.1 187.6,474.1 191.5,470 195.3,466 199.2,462.1 203.1,458.3 206.9,454.5 210.8,450.9 214.7,447.4 218.5,444.1 222.4,440.9 226.3,437.7 230.1,434.6 234,431.6 237.9,428.8 241.7,426.2 245.6,423.6 249.5,421.3 253.3,419.9 257.2,418.8 261.1,418 265,417.5 268.8,417.1 272.7,416.8 276.6,416.6 280.4,416.4 284.3,416.3 288.2,416.1 292,416 295.9,415.9 299.8,415.7 303.6,415.6 307.5,415.4 311.4,415.3 315.2,415.2 319.1,415 323,414.9 326.8,414.7 330.7,414.6 334.6,414.5 338.5,414.3 342.3,414.2 346.2,414.1 350.1,413.9 353.9,413.8 357.8,413.6 361.7,413.5 365.5,413.4 369.4,413.2 373.3,413.1 377.1,413 381,412.8 384.9,412.7 388.7,412.6 392.6,412.5 396.5,412.3 400.4,412.2 404.2,412.1 408.1,411.9 412,411.8 415.8,411.7 419.7,411.6 423.6,411.5 427.4,411.3 431.3,411.2"/>
<polyline fill="none" stroke="#a0f050" stroke-width="2.7" stroke-linejoin="round" points="87,597.4 90.9,591.8 94.7,586.3 98.6,580.9 102.5,575.5 106.3,570.2 110.2,565 114.1,559.9 117.9,554.8 121.8,549.8 125.7,544.8 129.6,540 133.4,535.2 137.3,530.4 141.2,525.8 145,521.2 148.9,516.7 152.8,512.3 156.6,507.9 160.5,503.6 164.4,499.3 168.2,495 172.1,490.7 176,486.4 179.8,482.3 183.7,478.3 187.6,474.3 191.5,470.3 195.3,466.3 199.2,462.3 203.1,458.5 206.9,454.8 210.8,451.2 214.7,447.8 218.5,444.5 222.4,441.2 226.3,438 230.1,435 234,432 237.9,429.2 241.7,426.6 245.6,424 249.5,421.8 253.3,420.3 257.2,419.2 261.1,418.4 265,417.9 268.8,417.5 272.7,417.2 276.6,417 280.4,416.8 284.3,416.7 288.2,416.6 292,416.4 295.9,416.3 299.8,416.2 303.6,416 307.5,415.9 311.4,415.8 315.2,415.6 319.1,415.5 323,415.3 326.8,415.2 330.7,415.1 334.6,414.9 338.5,414.8 342.3,414.7 346.2,414.5 350.1,414.4 353.9,414.3 357.8,414.1 361.7,414 365.5,413.9 369.4,413.7 373.3,413.6 377.1,413.5 381,413.3 384.9,413.2 388.7,413.1 392.6,413 396.5,412.8 400.4,412.7 404.2,412.6 408.1,412.5 412,412.3 415.8,412.2 419.7,412.1 423.6,412 427.4,411.9 431.3,411.8"/>
<polyline fill="none" stroke="#bcf046" stroke-width="2.7" stroke-linejoin="round" points="87,597.4 90.9,591.8 94.7,586.3 98.6,580.9 102.5,575.6 106.3,570.3 110.2,565.1 114.1,559.9 117.9,554.8 121.8,549.8 125.7,544.9 129.6,540.1 133.4,535.3 137.3,530.5 141.2,525.9 145,521.3 148.9,516.8 152.8,512.4 156.6,508.1 160.5,503.8 164.4,499.5 168.2,495.2 172.1,490.9 176,486.6 179.8,482.6 183.7,478.6 187.6,474.6 191.5,470.6 195.3,466.6 199.2,462.7 203.1,458.9 206.9,455.2 210.8,451.6 214.7,448.2 218.5,444.9 222.4,441.7 226.3,438.5 230.1,435.4 234,432.5 237.9,429.7 241.7,427.1 245.6,424.5 249.5,422.3 253.3,420.8 257.2,419.7 261.1,418.9 265,418.4 268.8,418 272.7,417.7 276.6,417.5 280.4,417.4 284.3,417.2 288.2,417.1 292,417 295.9,416.9 299.8,416.7 303.6,416.6 307.5,416.5 311.4,416.3 315.2,416.2 319.1,416.1 323,415.9 326.8,415.8 330.7,415.7 334.6,415.5 338.5,415.4 342.3,415.3 346.2,415.1 350.1,415 353.9,414.9 357.8,414.8 361.7,414.6 365.5,414.5 369.4,414.4 373.3,414.2 377.1,414.1 381,414 384.9,413.9 388.7,413.7 392.6,413.6 396.5,413.5 400.4,413.4 404.2,413.2 408.1,413.1 412,413 415.8,412.9 419.7,412.8 423.6,412.6 427.4,412.5 431.3,412.4"/>
<polyline fill="none" stroke="#d8f03c" stroke-width="2.7" stroke-linejoin="round" points="87,597.4 90.9,591.8 94.7,586.3 98.6,580.9 102.5,575.6 106.3,570.3 110.2,565.1 114.1,560 117.9,554.9 121.8,549.9 125.7,545 129.6,540.1 133.4,535.3 137.3,530.6 141.2,526 145,521.4 148.9,516.9 152.8,512.5 156.6,508.2 160.5,503.9 164.4,499.7 168.2,495.4 172.1,491.1 176,486.9 179.8,482.8 183.7,478.9 187.6,474.9 191.5,470.9 195.3,466.9 199.2,463 203.1,459.3 206.9,455.6 210.8,452 214.7,448.6 218.5,445.3 222.4,442.1 226.3,438.9 230.1,435.9 234,433 237.9,430.2 241.7,427.6 245.6,425 249.5,422.8 253.3,421.3 257.2,420.2 261.1,419.4 265,418.9 268.8,418.5 272.7,418.3 276.6,418.1 280.4,417.9 284.3,417.8 288.2,417.7 292,417.5 295.9,417.4 299.8,417.3 303.6,417.2 307.5,417 311.4,416.9 315.2,416.8 319.1,416.6 323,416.5 326.8,416.4 330.7,416.3 334.6,416.1 338.5,416 342.3,415.9 346.2,415.8 350.1,415.6 353.9,415.5 357.8,415.4 361.7,415.2 365.5,415.1 369.4,415 373.3,414.9 377.1,414.7 381,414.6 384.9,414.5 388.7,414.4 392.6,414.3 396.5,414.1 400.4,414 404.2,413.9 408.1,413.8 412,413.7 415.8,413.5 419.7,413.4 423.6,413.3 427.4,413.2 431.3,413.1"/>
<polyline fill="none" stroke="#e9f037" stroke-width="2.7" stroke-linejoin="round" points="87,597.4 90.9,591.8 94.7,586.4 98.6,580.9 102.5,575.6 106.3,570.3 110.2,565.1 114.1,560 117.9,554.9 121.8,550 125.7,545 129.6,540.2 133.4,535.4 137.3,530.7 141.2,526.1 145,521.5 148.9,517 152.8,512.6 156.6,508.3 160.5,504.1 164.4,499.8 168.2,495.6 172.1,491.3 176,487.1 179.8,483 183.7,479.1 187.6,475.2 191.5,471.2 195.3,467.2 199.2,463.4 203.1,459.6 206.9,456 210.8,452.4 214.7,449 218.5,445.7 222.4,442.6 226.3,439.4 230.1,436.4 234,433.5 237.9,430.7 241.7,428.1 245.6,425.5 249.5,423.3 253.3,421.9 257.2,420.8 261.1,420 265,419.5 268.8,419.1 272.7,418.8 276.6,418.6 280.4,418.5 284.3,418.3 288.2,418.2 292,418.1 295.9,418 299.8,417.9 303.6,417.7 307.5,417.6 311.4,417.5 315.2,417.4 319.1,417.2 323,417.1 326.8,417 330.7,416.9 334.6,416.7 338.5,416.6 342.3,416.5 346.2,416.4 350.1,416.3 353.9,416.1 357.8,416 361.7,415.9 365.5,415.8 369.4,415.6 373.3,415.5 377.1,415.4 381,415.3 384.9,415.2 388.7,415 392.6,414.9 396.5,414.8 400.4,414.7 404.2,414.6 408.1,414.4 412,414.3 415.8,414.2 419.7,414.1 423.6,414 427.4,413.9 431.3,413.8"/>
<polyline fill="none" stroke="#faf032" stroke-width="2.7" stroke-linejoin="round" points="87,597.4 90.9,591.8 94.7,586.4 98.6,581 102.5,575.6 106.3,570.4 110.2,565.2 114.1,560 117.9,555 121.8,550 125.7,545.1 129.6,540.3 133.4,535.5 137.3,530.8 141.2,526.2 145,521.6 148.9,517.2 152.8,512.8 156.6,508.5 160.5,504.2 164.4,500 168.2,495.8 172.1,491.5 176,487.3 179.8,483.3 183.7,479.4 187.6,475.4 191.5,471.5 195.3,467.5 199.2,463.7 203.1,460 206.9,456.4 210.8,452.8 214.7,449.4 218.5,446.2 222.4,443 226.3,439.9 230.1,436.8 234,433.9 237.9,431.2 241.7,428.6 245.6,426 249.5,423.8 253.3,422.4 257.2,421.3 261.1,420.5 265,420 268.8,419.6 272.7,419.3 276.6,419.2 280.4,419 284.3,418.9 288.2,418.8 292,418.7 295.9,418.6 299.8,418.4 303.6,418.3 307.5,418.2 311.4,418.1 315.2,418 319.1,417.8 323,417.7 326.8,417.6 330.7,417.5 334.6,417.4 338.5,417.2 342.3,417.1 346.2,417 350.1,416.9 353.9,416.8 357.8,416.6 361.7,416.5 365.5,416.4 369.4,416.3 373.3,416.2 377.1,416.1 381,415.9 384.9,415.8 388.7,415.7 392.6,415.6 396.5,415.5 400.4,415.4 404.2,415.2 408.1,415.1 412,415 415.8,414.9 419.7,414.8 423.6,414.7 427.4,414.6 431.3,414.5"/>
<polyline fill="none" stroke="#fce128" stroke-width="2.7" stroke-linejoin="round" points="87,597.4 90.9,591.9 94.7,586.4 98.6,581 102.5,575.6 106.3,570.4 110.2,565.2 114.1,560.1 117.9,555.1 121.8,550.1 125.7,545.2 129.6,540.4 133.4,535.6 137.3,530.9 141.2,526.3 145,521.8 148.9,517.3 152.8,512.9 156.6,508.6 160.5,504.4 164.4,500.2 168.2,496 172.1,491.7 176,487.6 179.8,483.6 183.7,479.7 187.6,475.8 191.5,471.8 195.3,467.9 199.2,464.1 203.1,460.4 206.9,456.8 210.8,453.3 214.7,449.9 218.5,446.7 222.4,443.5 226.3,440.4 230.1,437.4 234,434.5 237.9,431.8 241.7,429.2 245.6,426.6 249.5,424.4 253.3,423 257.2,421.9 261.1,421.1 265,420.6 268.8,420.2 272.7,420 276.6,419.8 280.4,419.7 284.3,419.5 288.2,419.4 292,419.3 295.9,419.2 299.8,419.1 303.6,419 307.5,418.9 311.4,418.8 315.2,418.6 319.1,418.5 323,418.4 326.8,418.3 330.7,418.2 334.6,418.1 338.5,418 342.3,417.8 346.2,417.7 350.1,417.6 353.9,417.5 357.8,417.4 361.7,417.3 365.5,417.1 369.4,417 373.3,416.9 377.1,416.8 381,416.7 384.9,416.6 388.7,416.5 392.6,416.3 396.5,416.2 400.4,416.1 404.2,416 408.1,415.9 412,415.8 415.8,415.7 419.7,415.6 423.6,415.5 427.4,415.3 431.3,415.2"/>
<polyline fill="none" stroke="#ffd21e" stroke-width="2.7" stroke-linejoin="round" points="87,597.4 90.9,591.9 94.7,586.4 98.6,581 102.5,575.7 106.3,570.4 110.2,565.3 114.1,560.2 117.9,555.1 121.8,550.2 125.7,545.3 129.6,540.5 133.4,535.7 137.3,531 141.2,526.4 145,521.9 148.9,517.4 152.8,513.1 156.6,508.8 160.5,504.6 164.4,500.4 168.2,496.2 172.1,492 176,487.8 179.8,483.9 183.7,480 187.6,476.1 191.5,472.2 195.3,468.3 199.2,464.5 203.1,460.8 206.9,457.3 210.8,453.8 214.7,450.4 218.5,447.2 222.4,444 226.3,440.9 230.1,437.9 234,435.1 237.9,432.4 241.7,429.8 245.6,427.2 249.5,425.1 253.3,423.6 257.2,422.5 261.1,421.7 265,421.2 268.8,420.8 272.7,420.6 276.6,420.4 280.4,420.3 284.3,420.2 288.2,420.1 292,420 295.9,419.9 299.8,419.8 303.6,419.7 307.5,419.6 311.4,419.4 315.2,419.3 319.1,419.2 323,419.1 326.8,419 330.7,418.9 334.6,418.8 338.5,418.7 342.3,418.6 346.2,418.4 350.1,418.3 353.9,418.2 357.8,418.1 361.7,418 365.5,417.9 369.4,417.8 373.3,417.7 377.1,417.6 381,417.4 384.9,417.3 388.7,417.2 392.6,417.1 396.5,417 400.4,416.9 404.2,416.8 408.1,416.7 412,416.6 415.8,416.5 419.7,416.3 423.6,416.2 427.4,416.1 431.3,416"/>
<polyline fill="none" stroke="#ffbd1e" stroke-width="2.7" stroke-linejoin="round" points="87,597.4 90.9,591.9 94.7,586.4 98.6,581 102.5,575.7 106.3,570.5 110.2,565.3 114.1,560.2 117.9,555.2 121.8,550.2 125.7,545.3 129.6,540.5 133.4,535.8 137.3,531.1 141.2,526.5 145,522 148.9,517.6 152.8,513.2 156.6,508.9 160.5,504.7 164.4,500.5 168.2,496.4 172.1,492.2 176,488.1 179.8,484.1 183.7,480.3 187.6,476.4 191.5,472.5 195.3,468.6 199.2,464.9 203.1,461.2 206.9,457.7 210.8,454.2 214.7,450.9 218.5,447.7 222.4,444.5 226.3,441.4 230.1,438.5 234,435.6 237.9,432.9 241.7,430.4 245.6,427.8 249.5,425.6 253.3,424.2 257.2,423.1 261.1,422.3 265,421.8 268.8,421.4 272.7,421.2 276.6,421 280.4,420.9 284.3,420.8 288.2,420.7 292,420.6 295.9,420.5 299.8,420.4 303.6,420.3 307.5,420.2 311.4,420.1 315.2,420 319.1,419.9 323,419.8 326.8,419.7 330.7,419.6 334.6,419.4 338.5,419.3 342.3,419.2 346.2,419.1 350.1,419 353.9,418.9 357.8,418.8 361.7,418.7 365.5,418.6 369.4,418.5 373.3,418.4 377.1,418.3 381,418.2 384.9,418 388.7,417.9 392.6,417.8 396.5,417.7 400.4,417.6 404.2,417.5 408.1,417.4 412,417.3 415.8,417.2 419.7,417.1 423.6,417 427.4,416.9 431.3,416.8"/>
<polyline fill="none" stroke="#ffa81e" stroke-width="2.7" stroke-linejoin="round" points="87,597.4 90.9,591.9 94.7,586.4 98.6,581 102.5,575.7 106.3,570.5 110.2,565.3 114.1,560.2 117.9,555.2 121.8,550.3 125.7,545.4 129.6,540.6 133.4,535.9 137.3,531.2 141.2,526.7 145,522.1 148.9,517.7 152.8,513.4 156.6,509.1 160.5,504.9 164.4,500.7 168.2,496.6 172.1,492.4 176,488.3 179.8,484.4 183.7,480.6 187.6,476.7 191.5,472.8 195.3,469 199.2,465.3 203.1,461.6 206.9,458.1 210.8,454.7 214.7,451.3 218.5,448.1 222.4,445 226.3,441.9 230.1,439 234,436.1 237.9,433.5 241.7,430.9 245.6,428.4 249.5,426.2 253.3,424.8 257.2,423.7 261.1,422.9 265,422.4 268.8,422 272.7,421.8 276.6,421.6 280.4,421.5 284.3,421.4 288.2,421.3 292,421.2 295.9,421.1 299.8,421 303.6,420.9 307.5,420.8 311.4,420.7 315.2,420.6 319.1,420.5 323,420.4 326.8,420.3 330.7,420.2 334.6,420.1 338.5,420 342.3,419.9 346.2,419.8 350.1,419.7 353.9,419.6 357.8,419.5 361.7,419.4 365.5,419.3 369.4,419.2 373.3,419.1 377.1,419 381,418.9 384.9,418.8 388.7,418.7 392.6,418.6 396.5,418.5 400.4,418.3 404.2,418.2 408.1,418.1 412,418 415.8,417.9 419.7,417.8 423.6,417.7 427.4,417.6 431.3,417.5"/>
<polyline fill="none" stroke="#ff9119" stroke-width="2.7" stroke-linejoin="round" points="87,597.4 90.9,591.9 94.7,586.4 98.6,581.1 102.5,575.8 106.3,570.5 110.2,565.4 114.1,560.3 117.9,555.3 121.8,550.4 125.7,545.6 129.6,540.8 133.4,536.1 137.3,531.4 141.2,526.9 145,522.4 148.9,518 152.8,513.6 156.6,509.4 160.5,505.2 164.4,501 168.2,496.9 172.1,492.8 176,488.8 179.8,484.9 183.7,481.1 187.6,477.3 191.5,473.4 195.3,469.6 199.2,465.9 203.1,462.4 206.9,458.9 210.8,455.5 214.7,452.2 218.5,449 222.4,445.9 226.3,442.8 230.1,439.9 234,437.1 237.9,434.4 241.7,431.9 245.6,429.4 249.5,427.2 253.3,425.8 257.2,424.7 261.1,423.9 265,423.4 268.8,423.1 272.7,422.8 276.6,422.7 280.4,422.6 284.3,422.5 288.2,422.4 292,422.3 295.9,422.3 299.8,422.2 303.6,422.1 307.5,422 311.4,421.9 315.2,421.8 319.1,421.7 323,421.6 326.8,421.5 330.7,421.4 334.6,421.3 338.5,421.2 342.3,421.1 346.2,421 350.1,420.9 353.9,420.8 357.8,420.8 361.7,420.7 365.5,420.6 369.4,420.5 373.3,420.4 377.1,420.3 381,420.2 384.9,420.1 388.7,420 392.6,419.9 396.5,419.8 400.4,419.7 404.2,419.6 408.1,419.5 412,419.4 415.8,419.3 419.7,419.2 423.6,419.1 427.4,419 431.3,418.9"/>
<polyline fill="none" stroke="#ff7a14" stroke-width="2.7" stroke-linejoin="round" points="87,597.4 90.9,591.9 94.7,586.5 98.6,581.1 102.5,575.8 106.3,570.6 110.2,565.5 114.1,560.4 117.9,555.4 121.8,550.5 125.7,545.7 129.6,540.9 133.4,536.2 137.3,531.6 141.2,527.1 145,522.6 148.9,518.2 152.8,513.9 156.6,509.7 160.5,505.5 164.4,501.4 168.2,497.3 172.1,493.2 176,489.2 179.8,485.4 183.7,481.6 187.6,477.8 191.5,474 195.3,470.3 199.2,466.6 203.1,463.1 206.9,459.6 210.8,456.3 214.7,453 218.5,449.9 222.4,446.8 226.3,443.8 230.1,440.9 234,438.1 237.9,435.4 241.7,432.9 245.6,430.4 249.5,428.3 253.3,426.9 257.2,425.8 261.1,425 265,424.5 268.8,424.1 272.7,423.9 276.6,423.8 280.4,423.7 284.3,423.6 288.2,423.5 292,423.5 295.9,423.4 299.8,423.3 303.6,423.2 307.5,423.1 311.4,423.1 315.2,423 319.1,422.9 323,422.8 326.8,422.7 330.7,422.6 334.6,422.5 338.5,422.5 342.3,422.4 346.2,422.3 350.1,422.2 353.9,422.1 357.8,422 361.7,421.9 365.5,421.8 369.4,421.7 373.3,421.6 377.1,421.5 381,421.5 384.9,421.4 388.7,421.3 392.6,421.2 396.5,421.1 400.4,421 404.2,420.9 408.1,420.8 412,420.7 415.8,420.6 419.7,420.5 423.6,420.4 427.4,420.3 431.3,420.2"/>
<polyline fill="none" stroke="#fc6013" stroke-width="2.7" stroke-linejoin="round" points="87,597.4 90.9,591.9 94.7,586.5 98.6,581.1 102.5,575.9 106.3,570.7 110.2,565.5 114.1,560.5 117.9,555.5 121.8,550.6 125.7,545.8 129.6,541.1 133.4,536.4 137.3,531.8 141.2,527.3 145,522.8 148.9,518.4 152.8,514.2 156.6,509.9 160.5,505.8 164.4,501.7 168.2,497.6 172.1,493.6 176,489.7 179.8,485.9 183.7,482.1 187.6,478.4 191.5,474.6 195.3,470.9 199.2,467.3 203.1,463.8 206.9,460.4 210.8,457.1 214.7,453.9 218.5,450.7 222.4,447.7 226.3,444.7 230.1,441.8 234,439.1 237.9,436.5 241.7,434 245.6,431.5 249.5,429.3 253.3,427.9 257.2,426.8 261.1,426 265,425.6 268.8,425.2 272.7,425 276.6,424.9 280.4,424.8 284.3,424.7 288.2,424.7 292,424.6 295.9,424.5 299.8,424.5 303.6,424.4 307.5,424.3 311.4,424.2 315.2,424.2 319.1,424.1 323,424 326.8,423.9 330.7,423.9 334.6,423.8 338.5,423.7 342.3,423.6 346.2,423.5 350.1,423.4 353.9,423.4 357.8,423.3 361.7,423.2 365.5,423.1 369.4,423 373.3,422.9 377.1,422.9 381,422.8 384.9,422.7 388.7,422.6 392.6,422.5 396.5,422.4 400.4,422.3 404.2,422.2 408.1,422.1 412,422.1 415.8,422 419.7,421.9 423.6,421.8 427.4,421.7 431.3,421.6"/>
<polyline fill="none" stroke="#fa4612" stroke-width="2.7" stroke-linejoin="round" points="87,597.4 90.9,591.9 94.7,586.5 98.6,581.2 102.5,575.9 106.3,570.7 110.2,565.6 114.1,560.6 117.9,555.6 121.8,550.8 125.7,546 129.6,541.2 133.4,536.6 137.3,532 141.2,527.5 145,523 148.9,518.7 152.8,514.4 156.6,510.2 160.5,506.1 164.4,502 168.2,498 172.1,494 176,490.1 179.8,486.4 183.7,482.7 187.6,478.9 191.5,475.2 195.3,471.6 199.2,468 203.1,464.6 206.9,461.2 210.8,457.9 214.7,454.7 218.5,451.6 222.4,448.6 226.3,445.6 230.1,442.8 234,440 237.9,437.5 241.7,435 245.6,432.5 249.5,430.4 253.3,429 257.2,427.9 261.1,427.1 265,426.6 268.8,426.3 272.7,426.1 276.6,426 280.4,425.9 284.3,425.9 288.2,425.8 292,425.7 295.9,425.7 299.8,425.6 303.6,425.6 307.5,425.5 311.4,425.4 315.2,425.4 319.1,425.3 323,425.2 326.8,425.1 330.7,425.1 334.6,425 338.5,424.9 342.3,424.9 346.2,424.8 350.1,424.7 353.9,424.6 357.8,424.6 361.7,424.5 365.5,424.4 369.4,424.3 373.3,424.2 377.1,424.2 381,424.1 384.9,424 388.7,423.9 392.6,423.8 396.5,423.8 400.4,423.7 404.2,423.6 408.1,423.5 412,423.4 415.8,423.3 419.7,423.2 423.6,423.1 427.4,423 431.3,423"/>
<polyline fill="none" stroke="#f62c12" stroke-width="2.7" stroke-linejoin="round" points="87,597.4 90.9,591.9 94.7,586.5 98.6,581.2 102.5,576 106.3,570.8 110.2,565.7 114.1,560.7 117.9,555.8 121.8,550.9 125.7,546.1 129.6,541.4 133.4,536.8 137.3,532.2 141.2,527.7 145,523.3 148.9,519 152.8,514.7 156.6,510.6 160.5,506.5 164.4,502.4 168.2,498.4 172.1,494.5 176,490.7 179.8,487 183.7,483.3 187.6,479.6 191.5,476 195.3,472.4 199.2,468.9 203.1,465.5 206.9,462.1 210.8,458.9 214.7,455.7 218.5,452.7 222.4,449.7 226.3,446.7 230.1,443.9 234,441.2 237.9,438.7 241.7,436.3 245.6,433.8 249.5,431.7 253.3,430.3 257.2,429.2 261.1,428.4 265,427.9 268.8,427.6 272.7,427.4 276.6,427.3 280.4,427.3 284.3,427.2 288.2,427.2 292,427.1 295.9,427.1 299.8,427 303.6,427 307.5,426.9 311.4,426.9 315.2,426.8 319.1,426.7 323,426.7 326.8,426.6 330.7,426.6 334.6,426.5 338.5,426.4 342.3,426.4 346.2,426.3 350.1,426.2 353.9,426.2 357.8,426.1 361.7,426 365.5,426 369.4,425.9 373.3,425.8 377.1,425.8 381,425.7 384.9,425.6 388.7,425.5 392.6,425.5 396.5,425.4 400.4,425.3 404.2,425.2 408.1,425.1 412,425.1 415.8,425 419.7,424.9 423.6,424.8 427.4,424.7 431.3,424.6"/>
<polyline fill="none" stroke="#f21212" stroke-width="2.7" stroke-linejoin="round" points="87,597.4 90.9,591.9 94.7,586.5 98.6,581.2 102.5,576 106.3,570.9 110.2,565.8 114.1,560.8 117.9,555.9 121.8,551.1 125.7,546.3 129.6,541.6 133.4,537 137.3,532.5 141.2,528 145,523.6 148.9,519.3 152.8,515.1 156.6,510.9 160.5,506.8 164.4,502.8 168.2,498.9 172.1,495 176,491.3 179.8,487.6 183.7,483.9 187.6,480.3 191.5,476.7 195.3,473.2 199.2,469.7 203.1,466.4 206.9,463.1 210.8,459.9 214.7,456.8 218.5,453.7 222.4,450.8 226.3,447.9 230.1,445.1 234,442.4 237.9,439.9 241.7,437.5 245.6,435.1 249.5,433 253.3,431.6 257.2,430.5 261.1,429.7 265,429.2 268.8,428.9 272.7,428.7 276.6,428.7 280.4,428.6 284.3,428.6 288.2,428.6 292,428.5 295.9,428.5 299.8,428.4 303.6,428.4 307.5,428.4 311.4,428.3 315.2,428.3 319.1,428.2 323,428.2 326.8,428.1 330.7,428.1 334.6,428 338.5,428 342.3,427.9 346.2,427.8 350.1,427.8 353.9,427.7 357.8,427.7 361.7,427.6 365.5,427.5 369.4,427.5 373.3,427.4 377.1,427.4 381,427.3 384.9,427.2 388.7,427.2 392.6,427.1 396.5,427 400.4,426.9 404.2,426.9 408.1,426.8 412,426.7 415.8,426.6 419.7,426.6 423.6,426.5 427.4,426.4 431.3,426.3"/>
<polyline fill="none" stroke="#e020e6" stroke-width="2.7" stroke-linejoin="round" points="90.9,574.6 94.7,574.6 98.6,574.6 102.5,574.5 106.3,574.5 110.2,574.4 114.1,574.4 117.9,574.3 121.8,574.2 125.7,574.2 129.6,574.1 133.4,574 137.3,573.9 141.2,573.7 145,573.5 148.9,573.3 152.8,573.1 156.6,572.8 160.5,572.6 164.4,572.3 168.2,572.1 172.1,571.8 176,571.6 179.8,571.4 183.7,571.2 187.6,571 191.5,570.8 195.3,570.6 199.2,570.4 203.1,570.2 206.9,570 210.8,569.8 214.7,569.5 218.5,569.2 222.4,568.9 226.3,568.6 230.1,568.2 234,567.8 237.9,567.4 241.7,567 245.6,566.5 249.5,566 253.3,565.4 257.2,564.8 261.1,564.1 265,563.3 268.8,562.4 272.7,561.4 276.6,560.4 280.4,559.4 284.3,558.5 288.2,557.5 292,556.5 295.9,555.6 299.8,554.6 303.6,553.7 307.5,552.7 311.4,551.7 315.2,550.8 319.1,549.8 323,548.8 326.8,547.9 330.7,546.9 334.6,545.9 338.5,545 342.3,544 346.2,543.1 350.1,542.3 353.9,541.4 357.8,540.6 361.7,539.7 365.5,538.9 369.4,538.1 373.3,537.3 377.1,536.5 381,535.7 384.9,534.9 388.7,534.1 392.6,533.4 396.5,532.6 400.4,531.9 404.2,531.2 408.1,530.5 412,529.8 415.8,529.2 419.7,528.5 423.6,527.9 427.4,527.3 431.3,526.7"/>
<polyline fill="none" stroke="#a020e0" stroke-width="2.7" stroke-linejoin="round" points="90.9,574.8 94.7,574.7 98.6,574.7 102.5,574.6 106.3,574.5 110.2,574.4 114.1,574.3 117.9,574.1 121.8,574 125.7,573.9 129.6,573.8 133.4,573.6 137.3,573.5 141.2,573.3 145,573.1 148.9,572.8 152.8,572.6 156.6,572.3 160.5,572 164.4,571.7 168.2,571.5 172.1,571.2 176,571 179.8,570.8 183.7,570.6 187.6,570.3 191.5,570.1 195.3,569.9 199.2,569.7 203.1,569.4 206.9,569.2 210.8,568.9 214.7,568.6 218.5,568.3 222.4,568 226.3,567.6 230.1,567.2 234,566.8 237.9,566.4 241.7,565.9 245.6,565.4 249.5,564.9 253.3,564.3 257.2,563.7 261.1,563 265,562.2 268.8,561.3 272.7,560.3 276.6,559.2 280.4,558.3 284.3,557.3 288.2,556.3 292,555.4 295.9,554.4 299.8,553.4 303.6,552.5 307.5,551.5 311.4,550.5 315.2,549.5 319.1,548.5 323,547.6 326.8,546.6 330.7,545.6 334.6,544.6 338.5,543.6 342.3,542.6 346.2,541.7 350.1,540.8 353.9,540 357.8,539.1 361.7,538.2 365.5,537.4 369.4,536.5 373.3,535.7 377.1,534.8 381,534 384.9,533.2 388.7,532.4 392.6,531.6 396.5,530.8 400.4,530.1 404.2,529.3 408.1,528.6 412,527.8 415.8,527.1 419.7,526.5 423.6,525.8 427.4,525.1 431.3,524.5"/>
<polyline fill="none" stroke="#6420e6" stroke-width="2.7" stroke-linejoin="round" points="90.9,574.9 94.7,574.8 98.6,574.7 102.5,574.6 106.3,574.5 110.2,574.4 114.1,574.2 117.9,574 121.8,573.9 125.7,573.7 129.6,573.5 133.4,573.4 137.3,573.2 141.2,573 145,572.7 148.9,572.5 152.8,572.2 156.6,571.9 160.5,571.6 164.4,571.3 168.2,571.1 172.1,570.8 176,570.6 179.8,570.3 183.7,570.1 187.6,569.9 191.5,569.6 195.3,569.4 199.2,569.2 203.1,568.9 206.9,568.6 210.8,568.4 214.7,568 218.5,567.7 222.4,567.3 226.3,566.9 230.1,566.5 234,566.1 237.9,565.7 241.7,565.2 245.6,564.7 249.5,564.1 253.3,563.5 257.2,562.9 261.1,562.2 265,561.4 268.8,560.5 272.7,559.5 276.6,558.4 280.4,557.5 284.3,556.5 288.2,555.5 292,554.6 295.9,553.6 299.8,552.6 303.6,551.6 307.5,550.6 311.4,549.6 315.2,548.6 319.1,547.7 323,546.7 326.8,545.7 330.7,544.7 334.6,543.7 338.5,542.7 342.3,541.7 346.2,540.8 350.1,539.9 353.9,539 357.8,538.1 361.7,537.2 365.5,536.3 369.4,535.4 373.3,534.6 377.1,533.7 381,532.9 384.9,532 388.7,531.2 392.6,530.4 396.5,529.6 400.4,528.8 404.2,528 408.1,527.2 412,526.5 415.8,525.7 419.7,525 423.6,524.3 427.4,523.6 431.3,522.9"/>
<polyline fill="none" stroke="#2a1eea" stroke-width="2.7" stroke-linejoin="round" points="90.9,575 94.7,574.9 98.6,574.8 102.5,574.6 106.3,574.5 110.2,574.3 114.1,574.1 117.9,573.9 121.8,573.8 125.7,573.6 129.6,573.4 133.4,573.2 137.3,573 141.2,572.7 145,572.5 148.9,572.2 152.8,571.9 156.6,571.6 160.5,571.3 164.4,571 168.2,570.8 172.1,570.5 176,570.2 179.8,570 183.7,569.7 187.6,569.5 191.5,569.3 195.3,569 199.2,568.8 203.1,568.5 206.9,568.2 210.8,567.9 214.7,567.6 218.5,567.2 222.4,566.8 226.3,566.4 230.1,566 234,565.6 237.9,565.1 241.7,564.6 245.6,564.1 249.5,563.5 253.3,562.9 257.2,562.3 261.1,561.6 265,560.8 268.8,559.9 272.7,558.9 276.6,557.8 280.4,556.9 284.3,555.9 288.2,554.9 292,553.9 295.9,553 299.8,552 303.6,551 307.5,550 311.4,549 315.2,548 319.1,547 323,546 326.8,545 330.7,544 334.6,543 338.5,541.9 342.3,541 346.2,540 350.1,539.1 353.9,538.2 357.8,537.3 361.7,536.4 365.5,535.5 369.4,534.6 373.3,533.7 377.1,532.8 381,532 384.9,531.1 388.7,530.3 392.6,529.4 396.5,528.6 400.4,527.8 404.2,527 408.1,526.2 412,525.4 415.8,524.7 419.7,523.9 423.6,523.2 427.4,522.5 431.3,521.8"/>
<polyline fill="none" stroke="#1d27ed" stroke-width="2.7" stroke-linejoin="round" points="90.9,575.1 94.7,574.9 98.6,574.8 102.5,574.7 106.3,574.5 110.2,574.3 114.1,574.1 117.9,573.9 121.8,573.7 125.7,573.5 129.6,573.3 133.4,573.1 137.3,572.9 141.2,572.6 145,572.4 148.9,572.1 152.8,571.8 156.6,571.5 160.5,571.2 164.4,570.9 168.2,570.6 172.1,570.3 176,570.1 179.8,569.8 183.7,569.6 187.6,569.3 191.5,569.1 195.3,568.8 199.2,568.6 203.1,568.3 206.9,568 210.8,567.7 214.7,567.4 218.5,567 222.4,566.6 226.3,566.2 230.1,565.8 234,565.3 237.9,564.8 241.7,564.3 245.6,563.8 249.5,563.3 253.3,562.7 257.2,562 261.1,561.3 265,560.5 268.8,559.6 272.7,558.6 276.6,557.5 280.4,556.6 284.3,555.6 288.2,554.6 292,553.6 295.9,552.6 299.8,551.7 303.6,550.7 307.5,549.7 311.4,548.7 315.2,547.6 319.1,546.6 323,545.6 326.8,544.6 330.7,543.6 334.6,542.6 338.5,541.6 342.3,540.6 346.2,539.6 350.1,538.7 353.9,537.8 357.8,536.9 361.7,536 365.5,535.1 369.4,534.2 373.3,533.3 377.1,532.4 381,531.5 384.9,530.7 388.7,529.8 392.6,529 396.5,528.1 400.4,527.3 404.2,526.5 408.1,525.7 412,524.9 415.8,524.1 419.7,523.4 423.6,522.6 427.4,521.9 431.3,521.2"/>
<polyline fill="none" stroke="#1030f0" stroke-width="2.7" stroke-linejoin="round" points="90.9,575.1 94.7,575 98.6,574.8 102.5,574.7 106.3,574.5 110.2,574.3 114.1,574.1 117.9,573.9 121.8,573.6 125.7,573.4 129.6,573.2 133.4,573 137.3,572.7 141.2,572.5 145,572.2 148.9,571.9 152.8,571.7 156.6,571.4 160.5,571 164.4,570.7 168.2,570.5 172.1,570.2 176,569.9 179.8,569.6 183.7,569.4 187.6,569.1 191.5,568.9 195.3,568.6 199.2,568.4 203.1,568.1 206.9,567.8 210.8,567.5 214.7,567.1 218.5,566.8 222.4,566.4 226.3,565.9 230.1,565.5 234,565 237.9,564.6 241.7,564.1 245.6,563.5 249.5,563 253.3,562.4 257.2,561.7 261.1,561 265,560.2 268.8,559.3 272.7,558.3 276.6,557.2 280.4,556.3 284.3,555.3 288.2,554.3 292,553.3 295.9,552.3 299.8,551.3 303.6,550.3 307.5,549.3 311.4,548.3 315.2,547.3 319.1,546.3 323,545.3 326.8,544.3 330.7,543.3 334.6,542.2 338.5,541.2 342.3,540.2 346.2,539.3 350.1,538.3 353.9,537.4 357.8,536.5 361.7,535.6 365.5,534.7 369.4,533.7 373.3,532.9 377.1,532 381,531.1 384.9,530.2 388.7,529.3 392.6,528.5 396.5,527.6 400.4,526.8 404.2,526 408.1,525.2 412,524.4 415.8,523.6 419.7,522.8 423.6,522.1 427.4,521.3 431.3,520.6"/>
<polyline fill="none" stroke="#124af2" stroke-width="2.7" stroke-linejoin="round" points="90.9,575.1 94.7,575 98.6,574.8 102.5,574.7 106.3,574.5 110.2,574.3 114.1,574.1 117.9,573.8 121.8,573.6 125.7,573.3 129.6,573.1 133.4,572.9 137.3,572.7 141.2,572.4 145,572.1 148.9,571.8 152.8,571.5 156.6,571.2 160.5,570.9 164.4,570.6 168.2,570.3 172.1,570 176,569.8 179.8,569.5 183.7,569.2 187.6,569 191.5,568.7 195.3,568.5 199.2,568.2 203.1,567.9 206.9,567.6 210.8,567.3 214.7,566.9 218.5,566.6 222.4,566.2 226.3,565.7 230.1,565.3 234,564.8 237.9,564.3 241.7,563.8 245.6,563.3 249.5,562.7 253.3,562.1 257.2,561.5 261.1,560.7 265,559.9 268.8,559 272.7,558 276.6,557 280.4,556 284.3,555 288.2,554 292,553.1 295.9,552.1 299.8,551.1 303.6,550.1 307.5,549.1 311.4,548.1 315.2,547 319.1,546 323,545 326.8,544 330.7,543 334.6,541.9 338.5,540.9 342.3,539.9 346.2,539 350.1,538 353.9,537.1 357.8,536.2 361.7,535.2 365.5,534.3 369.4,533.4 373.3,532.5 377.1,531.6 381,530.7 384.9,529.8 388.7,529 392.6,528.1 396.5,527.2 400.4,526.4 404.2,525.6 408.1,524.7 412,523.9 415.8,523.1 419.7,522.4 423.6,521.6 427.4,520.8 431.3,520.1"/>
<polyline fill="none" stroke="#1464f5" stroke-width="2.7" stroke-linejoin="round" points="90.9,575.2 94.7,575 98.6,574.9 102.5,574.7 106.3,574.5 110.2,574.3 114.1,574 117.9,573.8 121.8,573.5 125.7,573.3 129.6,573 133.4,572.8 137.3,572.6 141.2,572.3 145,572 148.9,571.7 152.8,571.4 156.6,571.1 160.5,570.8 164.4,570.5 168.2,570.2 172.1,569.9 176,569.6 179.8,569.4 183.7,569.1 187.6,568.8 191.5,568.6 195.3,568.3 199.2,568 203.1,567.7 206.9,567.4 210.8,567.1 214.7,566.8 218.5,566.4 222.4,566 226.3,565.5 230.1,565.1 234,564.6 237.9,564.1 241.7,563.6 245.6,563.1 249.5,562.5 253.3,561.9 257.2,561.2 261.1,560.5 265,559.7 268.8,558.8 272.7,557.8 276.6,556.7 280.4,555.8 284.3,554.8 288.2,553.8 292,552.8 295.9,551.8 299.8,550.8 303.6,549.8 307.5,548.8 311.4,547.8 315.2,546.8 319.1,545.7 323,544.7 326.8,543.7 330.7,542.7 334.6,541.7 338.5,540.6 342.3,539.6 346.2,538.7 350.1,537.7 353.9,536.8 357.8,535.8 361.7,534.9 365.5,534 369.4,533.1 373.3,532.1 377.1,531.2 381,530.3 384.9,529.5 388.7,528.6 392.6,527.7 396.5,526.8 400.4,526 404.2,525.2 408.1,524.3 412,523.5 415.8,522.7 419.7,521.9 423.6,521.1 427.4,520.4 431.3,519.6"/>
<polyline fill="none" stroke="#197ff5" stroke-width="2.7" stroke-linejoin="round" points="90.9,575.2 94.7,575.1 98.6,574.9 102.5,574.7 106.3,574.5 110.2,574.3 114.1,574 117.9,573.8 121.8,573.5 125.7,573.2 129.6,573 133.4,572.7 137.3,572.5 141.2,572.2 145,571.9 148.9,571.6 152.8,571.3 156.6,571 160.5,570.7 164.4,570.4 168.2,570.1 172.1,569.8 176,569.5 179.8,569.2 183.7,569 187.6,568.7 191.5,568.4 195.3,568.2 199.2,567.9 203.1,567.6 206.9,567.3 210.8,566.9 214.7,566.6 218.5,566.2 222.4,565.8 226.3,565.3 230.1,564.9 234,564.4 237.9,563.9 241.7,563.4 245.6,562.9 249.5,562.3 253.3,561.7 257.2,561 261.1,560.3 265,559.5 268.8,558.6 272.7,557.5 276.6,556.5 280.4,555.5 284.3,554.5 288.2,553.6 292,552.6 295.9,551.6 299.8,550.6 303.6,549.6 307.5,548.6 311.4,547.6 315.2,546.5 319.1,545.5 323,544.5 326.8,543.4 330.7,542.4 334.6,541.4 338.5,540.4 342.3,539.4 346.2,538.4 350.1,537.4 353.9,536.5 357.8,535.6 361.7,534.6 365.5,533.7 369.4,532.8 373.3,531.8 377.1,530.9 381,530 384.9,529.1 388.7,528.2 392.6,527.4 396.5,526.5 400.4,525.6 404.2,524.8 408.1,524 412,523.1 415.8,522.3 419.7,521.5 423.6,520.7 427.4,519.9 431.3,519.2"/>
<polyline fill="none" stroke="#1e9af5" stroke-width="2.7" stroke-linejoin="round" points="90.9,575.3 94.7,575.1 98.6,574.9 102.5,574.7 106.3,574.5 110.2,574.3 114.1,574 117.9,573.7 121.8,573.5 125.7,573.2 129.6,572.9 133.4,572.7 137.3,572.4 141.2,572.1 145,571.8 148.9,571.5 152.8,571.2 156.6,570.9 160.5,570.6 164.4,570.3 168.2,570 172.1,569.7 176,569.4 179.8,569.1 183.7,568.8 187.6,568.6 191.5,568.3 195.3,568 199.2,567.7 203.1,567.4 206.9,567.1 210.8,566.8 214.7,566.4 218.5,566 222.4,565.6 226.3,565.2 230.1,564.7 234,564.2 237.9,563.7 241.7,563.2 245.6,562.7 249.5,562.1 253.3,561.5 257.2,560.8 261.1,560.1 265,559.3 268.8,558.3 272.7,557.3 276.6,556.3 280.4,555.3 284.3,554.3 288.2,553.3 292,552.4 295.9,551.4 299.8,550.4 303.6,549.4 307.5,548.3 311.4,547.3 315.2,546.3 319.1,545.3 323,544.2 326.8,543.2 330.7,542.2 334.6,541.1 338.5,540.1 342.3,539.1 346.2,538.1 350.1,537.2 353.9,536.2 357.8,535.3 361.7,534.3 365.5,533.4 369.4,532.5 373.3,531.5 377.1,530.6 381,529.7 384.9,528.8 388.7,527.9 392.6,527 396.5,526.2 400.4,525.3 404.2,524.4 408.1,523.6 412,522.7 415.8,521.9 419.7,521.1 423.6,520.3 427.4,519.5 431.3,518.8"/>
<polyline fill="none" stroke="#23b6f2" stroke-width="2.7" stroke-linejoin="round" points="90.9,575.3 94.7,575.1 98.6,574.9 102.5,574.7 106.3,574.5 110.2,574.2 114.1,574 117.9,573.7 121.8,573.4 125.7,573.1 129.6,572.8 133.4,572.6 137.3,572.3 141.2,572 145,571.8 148.9,571.4 152.8,571.1 156.6,570.8 160.5,570.5 164.4,570.2 168.2,569.9 172.1,569.6 176,569.3 179.8,569 183.7,568.7 187.6,568.4 191.5,568.2 195.3,567.9 199.2,567.6 203.1,567.3 206.9,567 210.8,566.6 214.7,566.3 218.5,565.9 222.4,565.4 226.3,565 230.1,564.5 234,564 237.9,563.5 241.7,563 245.6,562.5 249.5,561.9 253.3,561.2 257.2,560.6 261.1,559.8 265,559.1 268.8,558.1 272.7,557.1 276.6,556.1 280.4,555.1 284.3,554.1 288.2,553.1 292,552.1 295.9,551.1 299.8,550.1 303.6,549.1 307.5,548.1 311.4,547.1 315.2,546 319.1,545 323,544 326.8,542.9 330.7,541.9 334.6,540.9 338.5,539.8 342.3,538.8 346.2,537.9 350.1,536.9 353.9,535.9 357.8,535 361.7,534 365.5,533.1 369.4,532.2 373.3,531.2 377.1,530.3 381,529.4 384.9,528.5 388.7,527.6 392.6,526.7 396.5,525.8 400.4,524.9 404.2,524.1 408.1,523.2 412,522.4 415.8,521.5 419.7,520.7 423.6,519.9 427.4,519.1 431.3,518.3"/>
<polyline fill="none" stroke="#28d2f0" stroke-width="2.7" stroke-linejoin="round" points="90.9,575.3 94.7,575.1 98.6,574.9 102.5,574.7 106.3,574.5 110.2,574.2 114.1,574 117.9,573.7 121.8,573.4 125.7,573.1 129.6,572.8 133.4,572.5 137.3,572.2 141.2,572 145,571.7 148.9,571.4 152.8,571 156.6,570.7 160.5,570.4 164.4,570.1 168.2,569.8 172.1,569.4 176,569.1 179.8,568.9 183.7,568.6 187.6,568.3 191.5,568 195.3,567.7 199.2,567.4 203.1,567.1 206.9,566.8 210.8,566.5 214.7,566.1 218.5,565.7 222.4,565.3 226.3,564.8 230.1,564.3 234,563.8 237.9,563.3 241.7,562.8 245.6,562.2 249.5,561.7 253.3,561 257.2,560.4 261.1,559.6 265,558.8 268.8,557.9 272.7,556.9 276.6,555.9 280.4,554.9 284.3,553.9 288.2,552.9 292,551.9 295.9,550.9 299.8,549.9 303.6,548.9 307.5,547.9 311.4,546.8 315.2,545.8 319.1,544.8 323,543.7 326.8,542.7 330.7,541.7 334.6,540.6 338.5,539.6 342.3,538.6 346.2,537.6 350.1,536.6 353.9,535.7 357.8,534.7 361.7,533.8 365.5,532.8 369.4,531.9 373.3,530.9 377.1,530 381,529.1 384.9,528.2 388.7,527.3 392.6,526.4 396.5,525.5 400.4,524.6 404.2,523.7 408.1,522.8 412,522 415.8,521.2 419.7,520.3 423.6,519.5 427.4,518.7 431.3,517.9"/>
<polyline fill="none" stroke="#2ddce1" stroke-width="2.7" stroke-linejoin="round" points="90.9,575.4 94.7,575.2 98.6,575 102.5,574.7 106.3,574.5 110.2,574.2 114.1,573.9 117.9,573.6 121.8,573.3 125.7,573 129.6,572.7 133.4,572.4 137.3,572.2 141.2,571.9 145,571.6 148.9,571.3 152.8,570.9 156.6,570.6 160.5,570.3 164.4,570 168.2,569.6 172.1,569.3 176,569 179.8,568.7 183.7,568.4 187.6,568.2 191.5,567.9 195.3,567.6 199.2,567.3 203.1,567 206.9,566.7 210.8,566.3 214.7,565.9 218.5,565.5 222.4,565.1 226.3,564.6 230.1,564.1 234,563.7 237.9,563.1 241.7,562.6 245.6,562 249.5,561.4 253.3,560.8 257.2,560.1 261.1,559.4 265,558.6 268.8,557.7 272.7,556.7 276.6,555.6 280.4,554.6 284.3,553.7 288.2,552.7 292,551.7 295.9,550.7 299.8,549.7 303.6,548.7 307.5,547.6 311.4,546.6 315.2,545.6 319.1,544.5 323,543.5 326.8,542.4 330.7,541.4 334.6,540.4 338.5,539.3 342.3,538.3 346.2,537.3 350.1,536.3 353.9,535.4 357.8,534.4 361.7,533.5 365.5,532.5 369.4,531.6 373.3,530.6 377.1,529.7 381,528.7 384.9,527.8 388.7,526.9 392.6,526 396.5,525.1 400.4,524.2 404.2,523.3 408.1,522.5 412,521.6 415.8,520.8 419.7,519.9 423.6,519.1 427.4,518.3 431.3,517.5"/>
<polyline fill="none" stroke="#32e6d2" stroke-width="2.7" stroke-linejoin="round" points="90.9,575.4 94.7,575.2 98.6,575 102.5,574.8 106.3,574.5 110.2,574.2 114.1,573.9 117.9,573.6 121.8,573.3 125.7,573 129.6,572.7 133.4,572.4 137.3,572.1 141.2,571.8 145,571.5 148.9,571.2 152.8,570.8 156.6,570.5 160.5,570.2 164.4,569.8 168.2,569.5 172.1,569.2 176,568.9 179.8,568.6 183.7,568.3 187.6,568 191.5,567.7 195.3,567.5 199.2,567.2 203.1,566.8 206.9,566.5 210.8,566.2 214.7,565.8 218.5,565.4 222.4,564.9 226.3,564.4 230.1,564 234,563.5 237.9,562.9 241.7,562.4 245.6,561.8 249.5,561.2 253.3,560.6 257.2,559.9 261.1,559.2 265,558.4 268.8,557.5 272.7,556.4 276.6,555.4 280.4,554.4 284.3,553.4 288.2,552.4 292,551.4 295.9,550.4 299.8,549.4 303.6,548.4 307.5,547.4 311.4,546.4 315.2,545.3 319.1,544.3 323,543.2 326.8,542.2 330.7,541.1 334.6,540.1 338.5,539.1 342.3,538 346.2,537 350.1,536.1 353.9,535.1 357.8,534.1 361.7,533.2 365.5,532.2 369.4,531.2 373.3,530.3 377.1,529.4 381,528.4 384.9,527.5 388.7,526.6 392.6,525.7 396.5,524.8 400.4,523.9 404.2,523 408.1,522.1 412,521.2 415.8,520.4 419.7,519.5 423.6,518.7 427.4,517.9 431.3,517"/>
<polyline fill="none" stroke="#37ebbe" stroke-width="2.7" stroke-linejoin="round" points="90.9,575.4 94.7,575.2 98.6,575 102.5,574.8 106.3,574.5 110.2,574.2 114.1,573.9 117.9,573.6 121.8,573.2 125.7,572.9 129.6,572.6 133.4,572.3 137.3,572 141.2,571.7 145,571.4 148.9,571.1 152.8,570.7 156.6,570.4 160.5,570.1 164.4,569.7 168.2,569.4 172.1,569.1 176,568.8 179.8,568.5 183.7,568.2 187.6,567.9 191.5,567.6 195.3,567.3 199.2,567 203.1,566.7 206.9,566.4 210.8,566 214.7,565.6 218.5,565.2 222.4,564.7 226.3,564.3 230.1,563.8 234,563.3 237.9,562.7 241.7,562.2 245.6,561.6 249.5,561 253.3,560.4 257.2,559.7 261.1,559 265,558.2 268.8,557.3 272.7,556.2 276.6,555.2 280.4,554.2 284.3,553.2 288.2,552.2 292,551.2 295.9,550.2 299.8,549.2 303.6,548.2 307.5,547.2 311.4,546.1 315.2,545.1 319.1,544 323,543 326.8,541.9 330.7,540.9 334.6,539.9 338.5,538.8 342.3,537.8 346.2,536.8 350.1,535.8 353.9,534.8 357.8,533.8 361.7,532.9 365.5,531.9 369.4,531 373.3,530 377.1,529 381,528.1 384.9,527.2 388.7,526.2 392.6,525.3 396.5,524.4 400.4,523.5 404.2,522.6 408.1,521.7 412,520.8 415.8,520 419.7,519.1 423.6,518.3 427.4,517.4 431.3,516.6"/>
<polyline fill="none" stroke="#3cf0aa" stroke-width="2.7" stroke-linejoin="round" points="90.9,575.5 94.7,575.2 98.6,575 102.5,574.8 106.3,574.5 110.2,574.2 114.1,573.9 117.9,573.5 121.8,573.2 125.7,572.9 129.6,572.5 133.4,572.2 137.3,571.9 141.2,571.6 145,571.3 148.9,571 152.8,570.6 156.6,570.3 160.5,570 164.4,569.6 168.2,569.3 172.1,569 176,568.7 179.8,568.4 183.7,568.1 187.6,567.8 191.5,567.5 195.3,567.2 199.2,566.9 203.1,566.5 206.9,566.2 210.8,565.8 214.7,565.4 218.5,565 222.4,564.6 226.3,564.1 230.1,563.6 234,563.1 237.9,562.6 241.7,562 245.6,561.4 249.5,560.8 253.3,560.2 257.2,559.5 261.1,558.8 265,558 268.8,557 272.7,556 276.6,555 280.4,554 284.3,553 288.2,552 292,551 295.9,550 299.8,549 303.6,548 307.5,546.9 311.4,545.9 315.2,544.8 319.1,543.8 323,542.7 326.8,541.7 330.7,540.6 334.6,539.6 338.5,538.5 342.3,537.5 346.2,536.5 350.1,535.5 353.9,534.5 357.8,533.6 361.7,532.6 365.5,531.6 369.4,530.7 373.3,529.7 377.1,528.7 381,527.8 384.9,526.9 388.7,525.9 392.6,525 396.5,524.1 400.4,523.2 404.2,522.3 408.1,521.4 412,520.5 415.8,519.6 419.7,518.7 423.6,517.9 427.4,517 431.3,516.2"/>
<polyline fill="none" stroke="#50f091" stroke-width="2.7" stroke-linejoin="round" points="90.9,575.5 94.7,575.3 98.6,575 102.5,574.8 106.3,574.5 110.2,574.2 114.1,573.9 117.9,573.5 121.8,573.2 125.7,572.8 129.6,572.5 133.4,572.2 137.3,571.8 141.2,571.5 145,571.2 148.9,570.9 152.8,570.5 156.6,570.2 160.5,569.9 164.4,569.5 168.2,569.2 172.1,568.9 176,568.6 179.8,568.2 183.7,567.9 187.6,567.6 191.5,567.3 195.3,567 199.2,566.7 203.1,566.4 206.9,566.1 210.8,565.7 214.7,565.3 218.5,564.9 222.4,564.4 226.3,563.9 230.1,563.4 234,562.9 237.9,562.4 241.7,561.8 245.6,561.2 249.5,560.6 253.3,560 257.2,559.3 261.1,558.6 265,557.8 268.8,556.8 272.7,555.8 276.6,554.8 280.4,553.8 284.3,552.8 288.2,551.8 292,550.8 295.9,549.8 299.8,548.8 303.6,547.7 307.5,546.7 311.4,545.7 315.2,544.6 319.1,543.6 323,542.5 326.8,541.5 330.7,540.4 334.6,539.4 338.5,538.3 342.3,537.3 346.2,536.3 350.1,535.3 353.9,534.3 357.8,533.3 361.7,532.3 365.5,531.3 369.4,530.4 373.3,529.4 377.1,528.4 381,527.5 384.9,526.5 388.7,525.6 392.6,524.7 396.5,523.7 400.4,522.8 404.2,521.9 408.1,521 412,520.1 415.8,519.2 419.7,518.4 423.6,517.5 427.4,516.6 431.3,515.8"/>
<polyline fill="none" stroke="#64f078" stroke-width="2.7" stroke-linejoin="round" points="90.9,575.5 94.7,575.3 98.6,575.1 102.5,574.8 106.3,574.5 110.2,574.2 114.1,573.8 117.9,573.5 121.8,573.1 125.7,572.8 129.6,572.4 133.4,572.1 137.3,571.8 141.2,571.5 145,571.1 148.9,570.8 152.8,570.4 156.6,570.1 160.5,569.8 164.4,569.4 168.2,569.1 172.1,568.8 176,568.4 179.8,568.1 183.7,567.8 187.6,567.5 191.5,567.2 195.3,566.9 199.2,566.6 203.1,566.3 206.9,565.9 210.8,565.5 214.7,565.1 218.5,564.7 222.4,564.2 226.3,563.7 230.1,563.2 234,562.7 237.9,562.2 241.7,561.6 245.6,561 249.5,560.4 253.3,559.8 257.2,559.1 261.1,558.4 265,557.6 268.8,556.6 272.7,555.6 276.6,554.6 280.4,553.6 284.3,552.6 288.2,551.6 292,550.6 295.9,549.6 299.8,548.6 303.6,547.5 307.5,546.5 311.4,545.4 315.2,544.4 319.1,543.3 323,542.3 326.8,541.2 330.7,540.2 334.6,539.1 338.5,538 342.3,537 346.2,536 350.1,535 353.9,534 357.8,533 361.7,532 365.5,531.1 369.4,530.1 373.3,529.1 377.1,528.1 381,527.2 384.9,526.2 388.7,525.3 392.6,524.3 396.5,523.4 400.4,522.5 404.2,521.6 408.1,520.7 412,519.7 415.8,518.9 419.7,518 423.6,517.1 427.4,516.2 431.3,515.4"/>
<polyline fill="none" stroke="#82f064" stroke-width="2.7" stroke-linejoin="round" points="90.9,575.6 94.7,575.3 98.6,575.1 102.5,574.8 106.3,574.5 110.2,574.2 114.1,573.8 117.9,573.5 121.8,573.1 125.7,572.7 129.6,572.4 133.4,572 137.3,571.7 141.2,571.4 145,571 148.9,570.7 152.8,570.4 156.6,570 160.5,569.7 164.4,569.3 168.2,569 172.1,568.6 176,568.3 179.8,568 183.7,567.7 187.6,567.4 191.5,567.1 195.3,566.8 199.2,566.5 203.1,566.1 206.9,565.8 210.8,565.4 214.7,565 218.5,564.5 222.4,564.1 226.3,563.6 230.1,563 234,562.5 237.9,562 241.7,561.4 245.6,560.8 249.5,560.2 253.3,559.6 257.2,558.9 261.1,558.1 265,557.3 268.8,556.4 272.7,555.4 276.6,554.4 280.4,553.4 284.3,552.4 288.2,551.4 292,550.4 295.9,549.3 299.8,548.3 303.6,547.3 307.5,546.3 311.4,545.2 315.2,544.2 319.1,543.1 323,542 326.8,541 330.7,539.9 334.6,538.9 338.5,537.8 342.3,536.8 346.2,535.7 350.1,534.7 353.9,533.7 357.8,532.7 361.7,531.8 365.5,530.8 369.4,529.8 373.3,528.8 377.1,527.8 381,526.9 384.9,525.9 388.7,525 392.6,524 396.5,523.1 400.4,522.1 404.2,521.2 408.1,520.3 412,519.4 415.8,518.5 419.7,517.6 423.6,516.7 427.4,515.8 431.3,515"/>
<polyline fill="none" stroke="#a0f050" stroke-width="2.7" stroke-linejoin="round" points="90.9,575.6 94.7,575.4 98.6,575.1 102.5,574.8 106.3,574.5 110.2,574.2 114.1,573.8 117.9,573.4 121.8,573 125.7,572.7 129.6,572.3 133.4,571.9 137.3,571.6 141.2,571.3 145,570.9 148.9,570.6 152.8,570.3 156.6,569.9 160.5,569.6 164.4,569.2 168.2,568.9 172.1,568.5 176,568.2 179.8,567.9 183.7,567.6 187.6,567.3 191.5,567 195.3,566.6 199.2,566.3 203.1,566 206.9,565.6 210.8,565.2 214.7,564.8 218.5,564.4 222.4,563.9 226.3,563.4 230.1,562.9 234,562.3 237.9,561.8 241.7,561.2 245.6,560.6 249.5,560 253.3,559.4 257.2,558.7 261.1,557.9 265,557.1 268.8,556.2 272.7,555.2 276.6,554.1 280.4,553.1 284.3,552.1 288.2,551.1 292,550.1 295.9,549.1 299.8,548.1 303.6,547.1 307.5,546 311.4,545 315.2,543.9 319.1,542.9 323,541.8 326.8,540.7 330.7,539.7 334.6,538.6 338.5,537.5 342.3,536.5 346.2,535.5 350.1,534.5 353.9,533.5 357.8,532.5 361.7,531.5 365.5,530.5 369.4,529.5 373.3,528.5 377.1,527.5 381,526.6 384.9,525.6 388.7,524.6 392.6,523.7 396.5,522.7 400.4,521.8 404.2,520.9 408.1,519.9 412,519 415.8,518.1 419.7,517.2 423.6,516.3 427.4,515.4 431.3,514.6"/>
<polyline fill="none" stroke="#bcf046" stroke-width="2.7" stroke-linejoin="round" points="90.9,575.6 94.7,575.4 98.6,575.1 102.5,574.8 106.3,574.5 110.2,574.2 114.1,573.8 117.9,573.4 121.8,573 125.7,572.6 129.6,572.2 133.4,571.9 137.3,571.5 141.2,571.2 145,570.9 148.9,570.5 152.8,570.2 156.6,569.8 160.5,569.5 164.4,569.1 168.2,568.8 172.1,568.4 176,568.1 179.8,567.8 183.7,567.4 187.6,567.1 191.5,566.8 195.3,566.5 199.2,566.2 203.1,565.8 206.9,565.5 210.8,565.1 214.7,564.6 218.5,564.2 222.4,563.7 226.3,563.2 230.1,562.7 234,562.1 237.9,561.6 241.7,561 245.6,560.4 249.5,559.8 253.3,559.1 257.2,558.5 261.1,557.7 265,556.9 268.8,556 272.7,554.9 276.6,553.9 280.4,552.9 284.3,551.9 288.2,550.9 292,549.9 295.9,548.9 299.8,547.9 303.6,546.8 307.5,545.8 311.4,544.7 315.2,543.7 319.1,542.6 323,541.5 326.8,540.5 330.7,539.4 334.6,538.3 338.5,537.3 342.3,536.2 346.2,535.2 350.1,534.2 353.9,533.2 357.8,532.2 361.7,531.2 365.5,530.2 369.4,529.2 373.3,528.2 377.1,527.2 381,526.2 384.9,525.3 388.7,524.3 392.6,523.3 396.5,522.4 400.4,521.4 404.2,520.5 408.1,519.5 412,518.6 415.8,517.7 419.7,516.8 423.6,515.9 427.4,515 431.3,514.1"/>
<polyline fill="none" stroke="#d8f03c" stroke-width="2.7" stroke-linejoin="round" points="90.9,575.7 94.7,575.4 98.6,575.1 102.5,574.8 106.3,574.5 110.2,574.1 114.1,573.8 117.9,573.4 121.8,572.9 125.7,572.5 129.6,572.2 133.4,571.8 137.3,571.5 141.2,571.1 145,570.8 148.9,570.4 152.8,570.1 156.6,569.7 160.5,569.3 164.4,569 168.2,568.6 172.1,568.3 176,568 179.8,567.6 183.7,567.3 187.6,567 191.5,566.7 195.3,566.3 199.2,566 203.1,565.7 206.9,565.3 210.8,564.9 214.7,564.5 218.5,564 222.4,563.5 226.3,563 230.1,562.5 234,561.9 237.9,561.4 241.7,560.8 245.6,560.2 249.5,559.6 253.3,558.9 257.2,558.2 261.1,557.5 265,556.7 268.8,555.8 272.7,554.7 276.6,553.7 280.4,552.7 284.3,551.7 288.2,550.7 292,549.7 295.9,548.7 299.8,547.6 303.6,546.6 307.5,545.5 311.4,544.5 315.2,543.4 319.1,542.3 323,541.3 326.8,540.2 330.7,539.1 334.6,538.1 338.5,537 342.3,536 346.2,534.9 350.1,533.9 353.9,532.9 357.8,531.9 361.7,530.9 365.5,529.9 369.4,528.9 373.3,527.9 377.1,526.9 381,525.9 384.9,524.9 388.7,523.9 392.6,523 396.5,522 400.4,521.1 404.2,520.1 408.1,519.2 412,518.2 415.8,517.3 419.7,516.4 423.6,515.5 427.4,514.6 431.3,513.7"/>
<polyline fill="none" stroke="#e9f037" stroke-width="2.7" stroke-linejoin="round" points="90.9,575.7 94.7,575.4 98.6,575.1 102.5,574.8 106.3,574.5 110.2,574.1 114.1,573.7 117.9,573.3 121.8,572.9 125.7,572.5 129.6,572.1 133.4,571.7 137.3,571.4 141.2,571 145,570.7 148.9,570.3 152.8,569.9 156.6,569.6 160.5,569.2 164.4,568.9 168.2,568.5 172.1,568.2 176,567.8 179.8,567.5 183.7,567.2 187.6,566.9 191.5,566.5 195.3,566.2 199.2,565.9 203.1,565.5 206.9,565.1 210.8,564.7 214.7,564.3 218.5,563.8 222.4,563.3 226.3,562.8 230.1,562.3 234,561.7 237.9,561.2 241.7,560.6 245.6,560 249.5,559.4 253.3,558.7 257.2,558 261.1,557.3 265,556.5 268.8,555.5 272.7,554.5 276.6,553.5 280.4,552.5 284.3,551.5 288.2,550.4 292,549.4 295.9,548.4 299.8,547.4 303.6,546.4 307.5,545.3 311.4,544.2 315.2,543.2 319.1,542.1 323,541 326.8,539.9 330.7,538.9 334.6,537.8 338.5,536.7 342.3,535.7 346.2,534.6 350.1,533.6 353.9,532.6 357.8,531.6 361.7,530.6 365.5,529.6 369.4,528.6 373.3,527.6 377.1,526.6 381,525.6 384.9,524.6 388.7,523.6 392.6,522.6 396.5,521.6 400.4,520.7 404.2,519.7 408.1,518.8 412,517.8 415.8,516.9 419.7,516 423.6,515 427.4,514.1 431.3,513.2"/>
<polyline fill="none" stroke="#faf032" stroke-width="2.7" stroke-linejoin="round" points="90.9,575.7 94.7,575.5 98.6,575.2 102.5,574.8 106.3,574.5 110.2,574.1 114.1,573.7 117.9,573.3 121.8,572.9 125.7,572.4 129.6,572 133.4,571.6 137.3,571.3 141.2,570.9 145,570.6 148.9,570.2 152.8,569.8 156.6,569.5 160.5,569.1 164.4,568.8 168.2,568.4 172.1,568.1 176,567.7 179.8,567.4 183.7,567 187.6,566.7 191.5,566.4 195.3,566.1 199.2,565.7 203.1,565.3 206.9,565 210.8,564.6 214.7,564.1 218.5,563.7 222.4,563.2 226.3,562.6 230.1,562.1 234,561.5 237.9,561 241.7,560.4 245.6,559.8 249.5,559.1 253.3,558.5 257.2,557.8 261.1,557 265,556.2 268.8,555.3 272.7,554.3 276.6,553.2 280.4,552.2 284.3,551.2 288.2,550.2 292,549.2 295.9,548.2 299.8,547.2 303.6,546.1 307.5,545.1 311.4,544 315.2,542.9 319.1,541.8 323,540.8 326.8,539.7 330.7,538.6 334.6,537.5 338.5,536.5 342.3,535.4 346.2,534.4 350.1,533.3 353.9,532.3 357.8,531.3 361.7,530.3 365.5,529.3 369.4,528.2 373.3,527.2 377.1,526.2 381,525.2 384.9,524.2 388.7,523.2 392.6,522.3 396.5,521.3 400.4,520.3 404.2,519.3 408.1,518.4 412,517.4 415.8,516.5 419.7,515.6 423.6,514.6 427.4,513.7 431.3,512.8"/>
<polyline fill="none" stroke="#fce128" stroke-width="2.7" stroke-linejoin="round" points="90.9,575.8 94.7,575.5 98.6,575.2 102.5,574.9 106.3,574.5 110.2,574.1 114.1,573.7 117.9,573.3 121.8,572.8 125.7,572.4 129.6,572 133.4,571.6 137.3,571.2 141.2,570.8 145,570.5 148.9,570.1 152.8,569.7 156.6,569.4 160.5,569 164.4,568.6 168.2,568.3 172.1,567.9 176,567.6 179.8,567.2 183.7,566.9 187.6,566.6 191.5,566.2 195.3,565.9 199.2,565.5 203.1,565.2 206.9,564.8 210.8,564.4 214.7,564 218.5,563.5 222.4,563 226.3,562.4 230.1,561.9 234,561.3 237.9,560.8 241.7,560.2 245.6,559.6 249.5,558.9 253.3,558.2 257.2,557.6 261.1,556.8 265,556 268.8,555.1 272.7,554 276.6,553 280.4,552 284.3,551 288.2,550 292,549 295.9,547.9 299.8,546.9 303.6,545.9 307.5,544.8 311.4,543.7 315.2,542.7 319.1,541.6 323,540.5 326.8,539.4 330.7,538.3 334.6,537.3 338.5,536.2 342.3,535.1 346.2,534.1 350.1,533 353.9,532 357.8,531 361.7,529.9 365.5,528.9 369.4,527.9 373.3,526.9 377.1,525.9 381,524.9 384.9,523.9 388.7,522.9 392.6,521.9 396.5,520.9 400.4,519.9 404.2,518.9 408.1,518 412,517 415.8,516.1 419.7,515.1 423.6,514.2 427.4,513.2 431.3,512.3"/>
<polyline fill="none" stroke="#ffd21e" stroke-width="2.7" stroke-linejoin="round" points="90.9,575.8 94.7,575.5 98.6,575.2 102.5,574.9 106.3,574.5 110.2,574.1 114.1,573.7 117.9,573.2 121.8,572.8 125.7,572.3 129.6,571.9 133.4,571.5 137.3,571.1 141.2,570.7 145,570.4 148.9,570 152.8,569.6 156.6,569.3 160.5,568.9 164.4,568.5 168.2,568.2 172.1,567.8 176,567.4 179.8,567.1 183.7,566.8 187.6,566.4 191.5,566.1 195.3,565.7 199.2,565.4 203.1,565 206.9,564.6 210.8,564.2 214.7,563.8 218.5,563.3 222.4,562.8 226.3,562.2 230.1,561.7 234,561.1 237.9,560.5 241.7,559.9 245.6,559.3 249.5,558.7 253.3,558 257.2,557.3 261.1,556.6 265,555.8 268.8,554.8 272.7,553.8 276.6,552.8 280.4,551.7 284.3,550.7 288.2,549.7 292,548.7 295.9,547.7 299.8,546.7 303.6,545.6 307.5,544.5 311.4,543.5 315.2,542.4 319.1,541.3 323,540.2 326.8,539.1 330.7,538 334.6,537 338.5,535.9 342.3,534.8 346.2,533.8 350.1,532.7 353.9,531.7 357.8,530.7 361.7,529.6 365.5,528.6 369.4,527.6 373.3,526.6 377.1,525.5 381,524.5 384.9,523.5 388.7,522.5 392.6,521.5 396.5,520.5 400.4,519.5 404.2,518.5 408.1,517.6 412,516.6 415.8,515.6 419.7,514.7 423.6,513.7 427.4,512.8 431.3,511.8"/>
<polyline fill="none" stroke="#ffbd1e" stroke-width="2.7" stroke-linejoin="round" points="90.9,575.9 94.7,575.6 98.6,575.2 102.5,574.9 106.3,574.5 110.2,574.1 114.1,573.7 117.9,573.2 121.8,572.7 125.7,572.3 129.6,571.8 133.4,571.4 137.3,571 141.2,570.6 145,570.3 148.9,569.9 152.8,569.5 156.6,569.1 160.5,568.8 164.4,568.4 168.2,568 172.1,567.7 176,567.3 179.8,567 183.7,566.6 187.6,566.3 191.5,565.9 195.3,565.6 199.2,565.2 203.1,564.9 206.9,564.5 210.8,564 214.7,563.6 218.5,563.1 222.4,562.6 226.3,562 230.1,561.5 234,560.9 237.9,560.3 241.7,559.7 245.6,559.1 249.5,558.5 253.3,557.8 257.2,557.1 261.1,556.3 265,555.5 268.8,554.6 272.7,553.5 276.6,552.5 280.4,551.5 284.3,550.5 288.2,549.5 292,548.5 295.9,547.4 299.8,546.4 303.6,545.4 307.5,544.3 311.4,543.2 315.2,542.1 319.1,541 323,539.9 326.8,538.9 330.7,537.8 334.6,536.7 338.5,535.6 342.3,534.5 346.2,533.5 350.1,532.4 353.9,531.4 357.8,530.4 361.7,529.3 365.5,528.3 369.4,527.3 373.3,526.2 377.1,525.2 381,524.2 384.9,523.2 388.7,522.2 392.6,521.1 396.5,520.1 400.4,519.1 404.2,518.2 408.1,517.2 412,516.2 415.8,515.2 419.7,514.2 423.6,513.3 427.4,512.3 431.3,511.4"/>
<polyline fill="none" stroke="#ffa81e" stroke-width="2.7" stroke-linejoin="round" points="90.9,575.9 94.7,575.6 98.6,575.2 102.5,574.9 106.3,574.5 110.2,574.1 114.1,573.6 117.9,573.2 121.8,572.7 125.7,572.2 129.6,571.8 133.4,571.3 137.3,570.9 141.2,570.6 145,570.2 148.9,569.8 152.8,569.4 156.6,569 160.5,568.7 164.4,568.3 168.2,567.9 172.1,567.6 176,567.2 179.8,566.8 183.7,566.5 187.6,566.1 191.5,565.8 195.3,565.4 199.2,565.1 203.1,564.7 206.9,564.3 210.8,563.9 214.7,563.4 218.5,562.9 222.4,562.4 226.3,561.8 230.1,561.3 234,560.7 237.9,560.1 241.7,559.5 245.6,558.9 249.5,558.2 253.3,557.6 257.2,556.9 261.1,556.1 265,555.3 268.8,554.4 272.7,553.3 276.6,552.3 280.4,551.3 284.3,550.3 288.2,549.2 292,548.2 295.9,547.2 299.8,546.2 303.6,545.1 307.5,544 311.4,543 315.2,541.9 319.1,540.8 323,539.7 326.8,538.6 330.7,537.5 334.6,536.4 338.5,535.3 342.3,534.2 346.2,533.2 350.1,532.1 353.9,531.1 357.8,530 361.7,529 365.5,528 369.4,526.9 373.3,525.9 377.1,524.9 381,523.8 384.9,522.8 388.7,521.8 392.6,520.8 396.5,519.8 400.4,518.8 404.2,517.8 408.1,516.8 412,515.8 415.8,514.8 419.7,513.8 423.6,512.8 427.4,511.9 431.3,510.9"/>
<polyline fill="none" stroke="#ff9119" stroke-width="2.7" stroke-linejoin="round" points="90.9,575.9 94.7,575.6 98.6,575.3 102.5,574.9 106.3,574.5 110.2,574.1 114.1,573.6 117.9,573.1 121.8,572.6 125.7,572.1 129.6,571.7 133.4,571.2 137.3,570.8 141.2,570.4 145,570 148.9,569.7 152.8,569.3 156.6,568.9 160.5,568.5 164.4,568.1 168.2,567.8 172.1,567.4 176,567 179.8,566.7 183.7,566.3 187.6,566 191.5,565.6 195.3,565.2 199.2,564.9 203.1,564.5 206.9,564.1 210.8,563.7 214.7,563.2 218.5,562.7 222.4,562.1 226.3,561.6 230.1,561 234,560.4 237.9,559.8 241.7,559.2 245.6,558.6 249.5,557.9 253.3,557.3 257.2,556.6 261.1,555.8 265,555 268.8,554 272.7,553 276.6,552 280.4,551 284.3,550 288.2,548.9 292,547.9 295.9,546.9 299.8,545.8 303.6,544.8 307.5,543.7 311.4,542.6 315.2,541.5 319.1,540.4 323,539.3 326.8,538.2 330.7,537.1 334.6,536.1 338.5,535 342.3,533.9 346.2,532.8 350.1,531.8 353.9,530.7 357.8,529.7 361.7,528.6 365.5,527.6 369.4,526.5 373.3,525.5 377.1,524.4 381,523.4 384.9,522.4 388.7,521.3 392.6,520.3 396.5,519.3 400.4,518.3 404.2,517.3 408.1,516.3 412,515.3 415.8,514.3 419.7,513.3 423.6,512.3 427.4,511.3 431.3,510.3"/>
<polyline fill="none" stroke="#ff7a14" stroke-width="2.7" stroke-linejoin="round" points="90.9,576 94.7,575.7 98.6,575.3 102.5,574.9 106.3,574.5 110.2,574.1 114.1,573.6 117.9,573.1 121.8,572.6 125.7,572.1 129.6,571.6 133.4,571.1 137.3,570.7 141.2,570.3 145,569.9 148.9,569.5 152.8,569.1 156.6,568.8 160.5,568.4 164.4,568 168.2,567.6 172.1,567.2 176,566.9 179.8,566.5 183.7,566.1 187.6,565.8 191.5,565.4 195.3,565 199.2,564.7 203.1,564.3 206.9,563.9 210.8,563.4 214.7,563 218.5,562.5 222.4,561.9 226.3,561.3 230.1,560.8 234,560.2 237.9,559.6 241.7,559 245.6,558.3 249.5,557.7 253.3,557 257.2,556.3 261.1,555.5 265,554.7 268.8,553.7 272.7,552.7 276.6,551.7 280.4,550.7 284.3,549.6 288.2,548.6 292,547.6 295.9,546.6 299.8,545.5 303.6,544.5 307.5,543.4 311.4,542.3 315.2,541.2 319.1,540.1 323,539 326.8,537.9 330.7,536.8 334.6,535.7 338.5,534.6 342.3,533.5 346.2,532.4 350.1,531.4 353.9,530.3 357.8,529.3 361.7,528.2 365.5,527.1 369.4,526.1 373.3,525 377.1,524 381,523 384.9,521.9 388.7,520.9 392.6,519.8 396.5,518.8 400.4,517.8 404.2,516.8 408.1,515.7 412,514.7 415.8,513.7 419.7,512.7 423.6,511.7 427.4,510.7 431.3,509.7"/>
<polyline fill="none" stroke="#fc6013" stroke-width="2.7" stroke-linejoin="round" points="90.9,576 94.7,575.7 98.6,575.3 102.5,574.9 106.3,574.5 110.2,574 114.1,573.5 117.9,573 121.8,572.5 125.7,572 129.6,571.5 133.4,571 137.3,570.6 141.2,570.2 145,569.8 148.9,569.4 152.8,569 156.6,568.6 160.5,568.2 164.4,567.8 168.2,567.5 172.1,567.1 176,566.7 179.8,566.3 183.7,565.9 187.6,565.6 191.5,565.2 195.3,564.9 199.2,564.5 203.1,564.1 206.9,563.7 210.8,563.2 214.7,562.7 218.5,562.2 222.4,561.7 226.3,561.1 230.1,560.5 234,559.9 237.9,559.3 241.7,558.7 245.6,558 249.5,557.4 253.3,556.7 257.2,556 261.1,555.2 265,554.4 268.8,553.4 272.7,552.4 276.6,551.4 280.4,550.3 284.3,549.3 288.2,548.3 292,547.3 295.9,546.3 299.8,545.2 303.6,544.1 307.5,543.1 311.4,542 315.2,540.9 319.1,539.8 323,538.6 326.8,537.5 330.7,536.4 334.6,535.3 338.5,534.2 342.3,533.1 346.2,532.1 350.1,531 353.9,529.9 357.8,528.9 361.7,527.8 365.5,526.7 369.4,525.7 373.3,524.6 377.1,523.6 381,522.5 384.9,521.5 388.7,520.4 392.6,519.4 396.5,518.3 400.4,517.3 404.2,516.3 408.1,515.2 412,514.2 415.8,513.2 419.7,512.2 423.6,511.2 427.4,510.1 431.3,509.1"/>
<polyline fill="none" stroke="#fa4612" stroke-width="2.7" stroke-linejoin="round" points="90.9,576.1 94.7,575.7 98.6,575.4 102.5,574.9 106.3,574.5 110.2,574 114.1,573.5 117.9,573 121.8,572.4 125.7,571.9 129.6,571.4 133.4,570.9 137.3,570.5 141.2,570.1 145,569.7 148.9,569.3 152.8,568.9 156.6,568.5 160.5,568.1 164.4,567.7 168.2,567.3 172.1,566.9 176,566.5 179.8,566.1 183.7,565.8 187.6,565.4 191.5,565 195.3,564.7 199.2,564.3 203.1,563.9 206.9,563.4 210.8,563 214.7,562.5 218.5,562 222.4,561.4 226.3,560.8 230.1,560.2 234,559.6 237.9,559 241.7,558.4 245.6,557.7 249.5,557.1 253.3,556.4 257.2,555.7 261.1,554.9 265,554.1 268.8,553.1 272.7,552.1 276.6,551.1 280.4,550 284.3,549 288.2,548 292,547 295.9,545.9 299.8,544.9 303.6,543.8 307.5,542.7 311.4,541.6 315.2,540.5 319.1,539.4 323,538.3 326.8,537.2 330.7,536.1 334.6,535 338.5,533.9 342.3,532.8 346.2,531.7 350.1,530.6 353.9,529.5 357.8,528.5 361.7,527.4 365.5,526.3 369.4,525.3 373.3,524.2 377.1,523.1 381,522.1 384.9,521 388.7,519.9 392.6,518.9 396.5,517.8 400.4,516.8 404.2,515.7 408.1,514.7 412,513.7 415.8,512.6 419.7,511.6 423.6,510.6 427.4,509.6 431.3,508.6"/>
<polyline fill="none" stroke="#f62c12" stroke-width="2.7" stroke-linejoin="round" points="90.9,576.1 94.7,575.8 98.6,575.4 102.5,575 106.3,574.5 110.2,574 114.1,573.5 117.9,572.9 121.8,572.4 125.7,571.8 129.6,571.3 133.4,570.8 137.3,570.4 141.2,569.9 145,569.5 148.9,569.1 152.8,568.7 156.6,568.3 160.5,567.9 164.4,567.5 168.2,567.1 172.1,566.7 176,566.3 179.8,565.9 183.7,565.6 187.6,565.2 191.5,564.8 195.3,564.4 199.2,564 203.1,563.6 206.9,563.2 210.8,562.7 214.7,562.3 218.5,561.7 222.4,561.1 226.3,560.5 230.1,559.9 234,559.3 237.9,558.7 241.7,558.1 245.6,557.4 249.5,556.7 253.3,556 257.2,555.3 261.1,554.6 265,553.7 268.8,552.8 272.7,551.8 276.6,550.7 280.4,549.7 284.3,548.7 288.2,547.7 292,546.6 295.9,545.6 299.8,544.5 303.6,543.5 307.5,542.4 311.4,541.3 315.2,540.2 319.1,539 323,537.9 326.8,536.8 330.7,535.7 334.6,534.6 338.5,533.5 342.3,532.4 346.2,531.3 350.1,530.2 353.9,529.1 357.8,528 361.7,526.9 365.5,525.9 369.4,524.8 373.3,523.7 377.1,522.6 381,521.6 384.9,520.5 388.7,519.4 392.6,518.4 396.5,517.3 400.4,516.2 404.2,515.2 408.1,514.1 412,513.1 415.8,512 419.7,511 423.6,510 427.4,508.9 431.3,507.9"/>
<polyline fill="none" stroke="#f21212" stroke-width="2.7" stroke-linejoin="round" points="90.9,576.2 94.7,575.8 98.6,575.4 102.5,575 106.3,574.5 110.2,574 114.1,573.5 117.9,572.9 121.8,572.3 125.7,571.7 129.6,571.2 133.4,570.7 137.3,570.2 141.2,569.8 145,569.4 148.9,569 152.8,568.6 156.6,568.2 160.5,567.8 164.4,567.4 168.2,567 172.1,566.6 176,566.1 179.8,565.8 183.7,565.4 187.6,565 191.5,564.6 195.3,564.2 199.2,563.8 203.1,563.4 206.9,563 210.8,562.5 214.7,562 218.5,561.5 222.4,560.9 226.3,560.3 230.1,559.7 234,559 237.9,558.4 241.7,557.8 245.6,557.1 249.5,556.4 253.3,555.7 257.2,555 261.1,554.2 265,553.4 268.8,552.5 272.7,551.4 276.6,550.4 280.4,549.4 284.3,548.3 288.2,547.3 292,546.3 295.9,545.2 299.8,544.2 303.6,543.1 307.5,542 311.4,540.9 315.2,539.8 319.1,538.7 323,537.5 326.8,536.4 330.7,535.3 334.6,534.2 338.5,533.1 342.3,532 346.2,530.9 350.1,529.8 353.9,528.7 357.8,527.6 361.7,526.5 365.5,525.4 369.4,524.3 373.3,523.2 377.1,522.1 381,521.1 384.9,520 388.7,518.9 392.6,517.8 396.5,516.8 400.4,515.7 404.2,514.6 408.1,513.6 412,512.5 415.8,511.4 419.7,510.4 423.6,509.3 427.4,508.3 431.3,507.2"/>
<line x1="87" y1="597.4" x2="177.9" y2="445.9" stroke="#000" stroke-width="1.9"/>
<line x1="87" y1="597.4" x2="184.7" y2="456.7" stroke="#000" stroke-width="1.9"/>
<text x="96.4" y="407.4" font-size="24.5" text-anchor="start" fill="#000" font-family="'Liberation Serif',serif" font-weight="bold" >1/R<tspan font-size="16" dy="6.5">ON</tspan><tspan dy="-6.5"></tspan></text>
<line x1="134.6" y1="416.4" x2="170.5" y2="444.4" stroke="#000" stroke-width="1.5"/>
<polygon points="174.8,447.7 165.9,444.5 169.5,439.8" fill="#000"/>
<line x1="134.6" y1="416.4" x2="172.7" y2="463.7" stroke="#000" stroke-width="1.5"/>
<polygon points="176.1,467.9 168.1,462.8 172.8,459" fill="#000"/>
<line x1="118.9" y1="561.8" x2="225.2" y2="520.8" stroke="#ee1616" stroke-width="2.2"/>
<polygon points="231.4,518.4 222.5,525.9 219.8,518.8" fill="#ee1616"/>
<rect x="280.3" y="445.6" width="96" height="58.1" fill="#fff" stroke="none"/>
<polyline fill="none" stroke="#e020e6" stroke-width="1.7" stroke-linejoin="round" points="288.4,468.6 292.2,469.2 296,469.6 299.8,469.6 303.6,469.4 307.4,469.2 311.2,468.8 315,468.5 318.8,468.1 322.6,467.8 326.4,467.3 330.2,466.9 333.9,466.4 337.7,465.8 341.5,465.3 345.3,464.8 349.1,464.4 352.9,464 356.7,463.7 360.5,463.4 364.3,463.1 368.1,462.8 371.9,462.5 375.7,462.3"/>
<polyline fill="none" stroke="#a020e0" stroke-width="1.7" stroke-linejoin="round" points="288.4,477.1 292.2,477.4 296,477.5 299.8,477.2 303.6,476.5 307.4,475.7 311.2,474.9 315,474 318.8,473.1 322.6,472.1 326.4,471.1 330.2,470.1 333.9,469 337.7,467.9 341.5,466.9 345.3,465.8 349.1,464.9 352.9,464 356.7,463.2 360.5,462.4 364.3,461.7 368.1,461 371.9,460.3 375.7,459.6"/>
<polyline fill="none" stroke="#6420e6" stroke-width="1.7" stroke-linejoin="round" points="288.4,481.1 292.2,481.3 296,481.3 299.8,480.7 303.6,479.8 307.4,478.8 311.2,477.7 315,476.6 318.8,475.4 322.6,474.2 326.4,472.9 330.2,471.6 333.9,470.2 337.7,468.9 341.5,467.6 345.3,466.3 349.1,465.1 352.9,464 356.7,463 360.5,462 364.3,461 368.1,460.1 371.9,459.2 375.7,458.4"/>
<polyline fill="none" stroke="#2a1eea" stroke-width="1.7" stroke-linejoin="round" points="288.4,484 292.2,484.2 296,484.1 299.8,483.4 303.6,482.3 307.4,481.1 311.2,479.9 315,478.5 318.8,477.1 322.6,475.7 326.4,474.2 330.2,472.7 333.9,471.1 337.7,469.6 341.5,468.1 345.3,466.7 349.1,465.3 352.9,464 356.7,462.8 360.5,461.7 364.3,460.6 368.1,459.5 371.9,458.5 375.7,457.5"/>
<polyline fill="none" stroke="#1d27ed" stroke-width="1.7" stroke-linejoin="round" points="288.4,484.8 292.2,484.9 296,484.8 299.8,484.1 303.6,482.9 307.4,481.7 311.2,480.4 315,479 318.8,477.6 322.6,476.1 326.4,474.5 330.2,473 333.9,471.4 337.7,469.8 341.5,468.3 345.3,466.8 349.1,465.3 352.9,464 356.7,462.8 360.5,461.6 364.3,460.4 368.1,459.3 371.9,458.3 375.7,457.2"/>
<polyline fill="none" stroke="#1030f0" stroke-width="1.7" stroke-linejoin="round" points="288.4,485.5 292.2,485.6 296,485.5 299.8,484.8 303.6,483.5 307.4,482.3 311.2,480.9 315,479.5 318.8,478 322.6,476.5 326.4,474.9 330.2,473.3 333.9,471.6 337.7,470 341.5,468.4 345.3,466.8 349.1,465.4 352.9,464 356.7,462.7 360.5,461.5 364.3,460.3 368.1,459.2 371.9,458.1 375.7,457"/>
<polyline fill="none" stroke="#124af2" stroke-width="1.7" stroke-linejoin="round" points="288.4,486.2 292.2,486.2 296,486.1 299.8,485.3 303.6,484 307.4,482.7 311.2,481.4 315,479.9 318.8,478.4 322.6,476.8 326.4,475.2 330.2,473.5 333.9,471.8 337.7,470.1 341.5,468.5 345.3,466.9 349.1,465.4 352.9,464 356.7,462.7 360.5,461.4 364.3,460.2 368.1,459 371.9,457.9 375.7,456.8"/>
<polyline fill="none" stroke="#1464f5" stroke-width="1.7" stroke-linejoin="round" points="288.4,486.8 292.2,486.8 296,486.7 299.8,485.9 303.6,484.6 307.4,483.2 311.2,481.8 315,480.3 318.8,478.7 322.6,477.1 326.4,475.4 330.2,473.7 333.9,472 337.7,470.3 341.5,468.6 345.3,467 349.1,465.5 352.9,464 356.7,462.7 360.5,461.4 364.3,460.1 368.1,458.9 371.9,457.7 375.7,456.6"/>
<polyline fill="none" stroke="#197ff5" stroke-width="1.7" stroke-linejoin="round" points="288.4,487.3 292.2,487.3 296,487.1 299.8,486.3 303.6,485 307.4,483.6 311.2,482.2 315,480.6 318.8,479 322.6,477.4 326.4,475.7 330.2,473.9 333.9,472.2 337.7,470.4 341.5,468.7 345.3,467.1 349.1,465.5 352.9,464 356.7,462.7 360.5,461.3 364.3,460 368.1,458.8 371.9,457.6 375.7,456.4"/>
<polyline fill="none" stroke="#1e9af5" stroke-width="1.7" stroke-linejoin="round" points="288.4,487.8 292.2,487.8 296,487.6 299.8,486.8 303.6,485.4 307.4,484 311.2,482.5 315,481 318.8,479.3 322.6,477.6 326.4,475.9 330.2,474.1 333.9,472.3 337.7,470.5 341.5,468.8 345.3,467.1 349.1,465.5 352.9,464 356.7,462.6 360.5,461.3 364.3,460 368.1,458.7 371.9,457.5 375.7,456.3"/>
<polyline fill="none" stroke="#23b6f2" stroke-width="1.7" stroke-linejoin="round" points="288.4,488.1 292.2,488.2 296,488 299.8,487.1 303.6,485.7 307.4,484.3 311.2,482.8 315,481.2 318.8,479.5 322.6,477.8 326.4,476 330.2,474.2 333.9,472.4 337.7,470.6 341.5,468.9 345.3,467.2 349.1,465.5 352.9,464 356.7,462.6 360.5,461.2 364.3,459.9 368.1,458.6 371.9,457.4 375.7,456.2"/>
<polyline fill="none" stroke="#28d2f0" stroke-width="1.7" stroke-linejoin="round" points="288.4,488.5 292.2,488.5 296,488.3 299.8,487.5 303.6,486 307.4,484.6 311.2,483.1 315,481.5 318.8,479.8 322.6,478 326.4,476.2 330.2,474.4 333.9,472.5 337.7,470.7 341.5,468.9 345.3,467.2 349.1,465.6 352.9,464 356.7,462.6 360.5,461.2 364.3,459.8 368.1,458.5 371.9,457.3 375.7,456.1"/>
<polyline fill="none" stroke="#2ddce1" stroke-width="1.7" stroke-linejoin="round" points="288.4,488.9 292.2,488.9 296,488.7 299.8,487.8 303.6,486.3 307.4,484.9 311.2,483.3 315,481.7 318.8,480 322.6,478.2 326.4,476.4 330.2,474.5 333.9,472.7 337.7,470.8 341.5,469 345.3,467.2 349.1,465.6 352.9,464 356.7,462.6 360.5,461.1 364.3,459.8 368.1,458.5 371.9,457.2 375.7,455.9"/>
<polyline fill="none" stroke="#32e6d2" stroke-width="1.7" stroke-linejoin="round" points="288.4,489.3 292.2,489.2 296,489 299.8,488.1 303.6,486.6 307.4,485.2 311.2,483.6 315,481.9 318.8,480.2 322.6,478.4 326.4,476.5 330.2,474.7 333.9,472.8 337.7,470.9 341.5,469.1 345.3,467.3 349.1,465.6 352.9,464 356.7,462.5 360.5,461.1 364.3,459.7 368.1,458.4 371.9,457.1 375.7,455.8"/>
<polyline fill="none" stroke="#37ebbe" stroke-width="1.7" stroke-linejoin="round" points="288.4,489.6 292.2,489.6 296,489.4 299.8,488.5 303.6,486.9 307.4,485.4 311.2,483.9 315,482.2 318.8,480.4 322.6,478.6 326.4,476.7 330.2,474.8 333.9,472.9 337.7,471 341.5,469.1 345.3,467.3 349.1,465.6 352.9,464 356.7,462.5 360.5,461.1 364.3,459.7 368.1,458.3 371.9,457 375.7,455.7"/>
<polyline fill="none" stroke="#3cf0aa" stroke-width="1.7" stroke-linejoin="round" points="288.4,490 292.2,490 296,489.7 299.8,488.8 303.6,487.2 307.4,485.7 311.2,484.1 315,482.4 318.8,480.6 322.6,478.8 326.4,476.9 330.2,474.9 333.9,473 337.7,471.1 341.5,469.2 345.3,467.4 349.1,465.7 352.9,464 356.7,462.5 360.5,461 364.3,459.6 368.1,458.2 371.9,456.9 375.7,455.6"/>
<polyline fill="none" stroke="#50f091" stroke-width="1.7" stroke-linejoin="round" points="288.4,490.3 292.2,490.2 296,490 299.8,489 303.6,487.5 307.4,485.9 311.2,484.3 315,482.6 318.8,480.8 322.6,478.9 326.4,477 330.2,475 333.9,473.1 337.7,471.1 341.5,469.2 345.3,467.4 349.1,465.7 352.9,464 356.7,462.5 360.5,461 364.3,459.6 368.1,458.2 371.9,456.8 375.7,455.5"/>
<polyline fill="none" stroke="#64f078" stroke-width="1.7" stroke-linejoin="round" points="288.4,490.5 292.2,490.5 296,490.2 299.8,489.2 303.6,487.7 307.4,486.1 311.2,484.5 315,482.8 318.8,480.9 322.6,479 326.4,477.1 330.2,475.1 333.9,473.2 337.7,471.2 341.5,469.3 345.3,467.4 349.1,465.7 352.9,464 356.7,462.5 360.5,461 364.3,459.5 368.1,458.1 371.9,456.8 375.7,455.4"/>
<polyline fill="none" stroke="#82f064" stroke-width="1.7" stroke-linejoin="round" points="288.4,490.8 292.2,490.7 296,490.4 299.8,489.5 303.6,487.9 307.4,486.3 311.2,484.7 315,482.9 318.8,481.1 322.6,479.2 326.4,477.2 330.2,475.2 333.9,473.2 337.7,471.3 341.5,469.3 345.3,467.5 349.1,465.7 352.9,464 356.7,462.5 360.5,460.9 364.3,459.5 368.1,458.1 371.9,456.7 375.7,455.4"/>
<polyline fill="none" stroke="#a0f050" stroke-width="1.7" stroke-linejoin="round" points="288.4,491 292.2,490.9 296,490.7 299.8,489.7 303.6,488.1 307.4,486.5 311.2,484.8 315,483.1 318.8,481.2 322.6,479.3 326.4,477.3 330.2,475.3 333.9,473.3 337.7,471.3 341.5,469.4 345.3,467.5 349.1,465.7 352.9,464 356.7,462.4 360.5,460.9 364.3,459.4 368.1,458 371.9,456.6 375.7,455.3"/>
<polyline fill="none" stroke="#bcf046" stroke-width="1.7" stroke-linejoin="round" points="288.4,491.3 292.2,491.2 296,490.9 299.8,489.9 303.6,488.3 307.4,486.7 311.2,485 315,483.2 318.8,481.4 322.6,479.4 326.4,477.4 330.2,475.4 333.9,473.4 337.7,471.4 341.5,469.4 345.3,467.5 349.1,465.7 352.9,464 356.7,462.4 360.5,460.9 364.3,459.4 368.1,458 371.9,456.6 375.7,455.2"/>
<polyline fill="none" stroke="#d8f03c" stroke-width="1.7" stroke-linejoin="round" points="288.4,491.5 292.2,491.4 296,491.1 299.8,490.1 303.6,488.5 307.4,486.9 311.2,485.2 315,483.4 318.8,481.5 322.6,479.6 326.4,477.5 330.2,475.5 333.9,473.5 337.7,471.4 341.5,469.5 345.3,467.6 349.1,465.7 352.9,464 356.7,462.4 360.5,460.9 364.3,459.4 368.1,457.9 371.9,456.5 375.7,455.1"/>
<polyline fill="none" stroke="#e9f037" stroke-width="1.7" stroke-linejoin="round" points="288.4,491.8 292.2,491.7 296,491.4 299.8,490.4 303.6,488.7 307.4,487.1 311.2,485.4 315,483.6 318.8,481.7 322.6,479.7 326.4,477.7 330.2,475.6 333.9,473.5 337.7,471.5 341.5,469.5 345.3,467.6 349.1,465.8 352.9,464 356.7,462.4 360.5,460.8 364.3,459.3 368.1,457.9 371.9,456.4 375.7,455"/>
<polyline fill="none" stroke="#faf032" stroke-width="1.7" stroke-linejoin="round" points="288.4,492 292.2,491.9 296,491.6 299.8,490.6 303.6,488.9 307.4,487.3 311.2,485.6 315,483.7 318.8,481.8 322.6,479.8 326.4,477.8 330.2,475.7 333.9,473.6 337.7,471.6 341.5,469.6 345.3,467.6 349.1,465.8 352.9,464 356.7,462.4 360.5,460.8 364.3,459.3 368.1,457.8 371.9,456.4 375.7,455"/>
<polyline fill="none" stroke="#fce128" stroke-width="1.7" stroke-linejoin="round" points="288.4,492.2 292.2,492.1 296,491.8 299.8,490.7 303.6,489.1 307.4,487.4 311.2,485.7 315,483.8 318.8,481.9 322.6,479.9 326.4,477.8 330.2,475.8 333.9,473.7 337.7,471.6 341.5,469.6 345.3,467.6 349.1,465.8 352.9,464 356.7,462.4 360.5,460.8 364.3,459.3 368.1,457.8 371.9,456.3 375.7,454.9"/>
<polyline fill="none" stroke="#ffd21e" stroke-width="1.7" stroke-linejoin="round" points="288.4,492.4 292.2,492.3 296,491.9 299.8,490.9 303.6,489.2 307.4,487.6 311.2,485.8 315,484 318.8,482 322.6,480 326.4,477.9 330.2,475.8 333.9,473.7 337.7,471.7 341.5,469.6 345.3,467.7 349.1,465.8 352.9,464 356.7,462.4 360.5,460.8 364.3,459.2 368.1,457.7 371.9,456.3 375.7,454.9"/>
<polyline fill="none" stroke="#ffbd1e" stroke-width="1.7" stroke-linejoin="round" points="288.4,492.6 292.2,492.4 296,492.1 299.8,491.1 303.6,489.4 307.4,487.7 311.2,486 315,484.1 318.8,482.1 322.6,480.1 326.4,478 330.2,475.9 333.9,473.8 337.7,471.7 341.5,469.7 345.3,467.7 349.1,465.8 352.9,464 356.7,462.4 360.5,460.7 364.3,459.2 368.1,457.7 371.9,456.2 375.7,454.8"/>
<polyline fill="none" stroke="#ffa81e" stroke-width="1.7" stroke-linejoin="round" points="288.4,492.8 292.2,492.6 296,492.3 299.8,491.3 303.6,489.5 307.4,487.9 311.2,486.1 315,484.2 318.8,482.2 322.6,480.2 326.4,478.1 330.2,476 333.9,473.9 337.7,471.8 341.5,469.7 345.3,467.7 349.1,465.8 352.9,464 356.7,462.4 360.5,460.7 364.3,459.2 368.1,457.6 371.9,456.2 375.7,454.7"/>
<polyline fill="none" stroke="#ff9119" stroke-width="1.7" stroke-linejoin="round" points="288.4,492.9 292.2,492.8 296,492.4 299.8,491.4 303.6,489.6 307.4,488 311.2,486.2 315,484.3 318.8,482.3 322.6,480.3 326.4,478.2 330.2,476 333.9,473.9 337.7,471.8 341.5,469.7 345.3,467.7 349.1,465.8 352.9,464 356.7,462.3 360.5,460.7 364.3,459.1 368.1,457.6 371.9,456.1 375.7,454.7"/>
<polyline fill="none" stroke="#ff7a14" stroke-width="1.7" stroke-linejoin="round" points="288.4,493 292.2,492.9 296,492.5 299.8,491.5 303.6,489.7 307.4,488.1 311.2,486.3 315,484.4 318.8,482.4 322.6,480.3 326.4,478.2 330.2,476.1 333.9,473.9 337.7,471.8 341.5,469.7 345.3,467.7 349.1,465.8 352.9,464 356.7,462.3 360.5,460.7 364.3,459.1 368.1,457.6 371.9,456.1 375.7,454.7"/>
<polyline fill="none" stroke="#fc6013" stroke-width="1.7" stroke-linejoin="round" points="288.4,493.1 292.2,493 296,492.6 299.8,491.6 303.6,489.8 307.4,488.1 311.2,486.4 315,484.5 318.8,482.5 322.6,480.4 326.4,478.3 330.2,476.1 333.9,474 337.7,471.8 341.5,469.8 345.3,467.8 349.1,465.8 352.9,464 356.7,462.3 360.5,460.7 364.3,459.1 368.1,457.6 371.9,456.1 375.7,454.6"/>
<polyline fill="none" stroke="#fa4612" stroke-width="1.7" stroke-linejoin="round" points="288.4,493.3 292.2,493.1 296,492.8 299.8,491.7 303.6,489.9 307.4,488.2 311.2,486.5 315,484.5 318.8,482.5 322.6,480.4 326.4,478.3 330.2,476.2 333.9,474 337.7,471.9 341.5,469.8 345.3,467.8 349.1,465.8 352.9,464 356.7,462.3 360.5,460.7 364.3,459.1 368.1,457.5 371.9,456 375.7,454.6"/>
<polyline fill="none" stroke="#f62c12" stroke-width="1.7" stroke-linejoin="round" points="288.4,493.4 292.2,493.2 296,492.9 299.8,491.8 303.6,490 307.4,488.3 311.2,486.5 315,484.6 318.8,482.6 322.6,480.5 326.4,478.4 330.2,476.2 333.9,474 337.7,471.9 341.5,469.8 345.3,467.8 349.1,465.8 352.9,464 356.7,462.3 360.5,460.7 364.3,459.1 368.1,457.5 371.9,456 375.7,454.5"/>
<polyline fill="none" stroke="#f21212" stroke-width="1.7" stroke-linejoin="round" points="288.4,493.5 292.2,493.4 296,493 299.8,491.9 303.6,490.1 307.4,488.4 311.2,486.6 315,484.7 318.8,482.7 322.6,480.6 326.4,478.4 330.2,476.3 333.9,474.1 337.7,471.9 341.5,469.8 345.3,467.8 349.1,465.9 352.9,464 356.7,462.3 360.5,460.6 364.3,459 368.1,457.5 371.9,456 375.7,454.5"/>
<rect x="280.3" y="445.6" width="96" height="58.1" fill="none" stroke="#000" stroke-width="1.5"/>
<text x="278.3" y="459.9" font-size="13.8" text-anchor="end" fill="#000" font-family="'Liberation Serif',serif" font-weight="bold" >5.00</text>
<text x="278.3" y="485.6" font-size="13.8" text-anchor="end" fill="#000" font-family="'Liberation Serif',serif" font-weight="bold" >4.75</text>
<text x="278.3" y="508" font-size="13.8" text-anchor="end" fill="#000" font-family="'Liberation Serif',serif" font-weight="bold" >4.50</text>
<text x="281" y="517.6" font-size="13.8" text-anchor="middle" fill="#000" font-family="'Liberation Serif',serif" font-weight="bold" >0.00</text>
<line x1="281" y1="503.7" x2="281" y2="501.2" stroke="#000" stroke-width="1"/>
<text x="311.2" y="517.6" font-size="13.8" text-anchor="middle" fill="#000" font-family="'Liberation Serif',serif" font-weight="bold" >0.25</text>
<line x1="311.2" y1="503.7" x2="311.2" y2="501.2" stroke="#000" stroke-width="1"/>
<text x="340.4" y="517.6" font-size="13.8" text-anchor="middle" fill="#000" font-family="'Liberation Serif',serif" font-weight="bold" >0.50</text>
<line x1="340.4" y1="503.7" x2="340.4" y2="501.2" stroke="#000" stroke-width="1"/>
<text x="369.7" y="517.6" font-size="13.8" text-anchor="middle" fill="#000" font-family="'Liberation Serif',serif" font-weight="bold" >0.75</text>
<line x1="369.7" y1="503.7" x2="369.7" y2="501.2" stroke="#000" stroke-width="1"/>
<text x="328.7" y="529.8" font-size="14.5" text-anchor="middle" fill="#000" font-family="'Liberation Serif',serif" font-weight="bold" >V<tspan font-size="9.5" dy="3">DS</tspan><tspan dy="-3"> (V)</tspan></text>
<text transform="translate(250 482.2) rotate(-90)" font-size="14.5" text-anchor="middle" font-family="'Liberation Serif',serif" font-weight="bold">R<tspan font-size="9.5" dy="3">ON</tspan><tspan dy="-3"> (Ω/mm)</tspan></text>
<text x="437.5" y="590.5" font-size="25.2" text-anchor="end" fill="#000" font-family="'Liberation Serif',serif" font-weight="bold" >(c) V<tspan font-size="16" dy="7">GS</tspan><tspan dy="-7"> = 5 V</tspan></text>
<path d="M382.6 374.4 Q401 405 385.8 426.9" fill="none" stroke="#000" stroke-width="2.7" stroke-linecap="round"/>
<polygon points="381.4,433.2 383.2,421 392.2,427.3" fill="#000"/>
<path d="M417.5 538.3 Q417.5 514 411.3 510.8" fill="none" stroke="#1616d6" stroke-width="2.3" stroke-linecap="round"/>
<polygon points="403.8,506.9 416.8,508 412.2,516.9" fill="#1616d6"/>
<line x1="87" y1="606.9" x2="87" y2="602" stroke="#000" stroke-width="2.4"/>
<text x="87" y="633.1" font-size="24.8" text-anchor="middle" fill="#000" font-family="'Liberation Serif',serif" font-weight="bold" >0</text>
<line x1="115.6" y1="606.9" x2="115.6" y2="603.8" stroke="#000" stroke-width="2.4"/>
<line x1="144.2" y1="606.9" x2="144.2" y2="602" stroke="#000" stroke-width="2.4"/>
<text x="144.2" y="633.1" font-size="24.8" text-anchor="middle" fill="#000" font-family="'Liberation Serif',serif" font-weight="bold" >2</text>
<line x1="172.8" y1="606.9" x2="172.8" y2="603.8" stroke="#000" stroke-width="2.4"/>
<line x1="201.4" y1="606.9" x2="201.4" y2="602" stroke="#000" stroke-width="2.4"/>
<text x="201.4" y="633.1" font-size="24.8" text-anchor="middle" fill="#000" font-family="'Liberation Serif',serif" font-weight="bold" >4</text>
<line x1="230" y1="606.9" x2="230" y2="603.8" stroke="#000" stroke-width="2.4"/>
<line x1="258.6" y1="606.9" x2="258.6" y2="602" stroke="#000" stroke-width="2.4"/>
<text x="258.6" y="633.1" font-size="24.8" text-anchor="middle" fill="#000" font-family="'Liberation Serif',serif" font-weight="bold" >6</text>
<line x1="287.2" y1="606.9" x2="287.2" y2="603.8" stroke="#000" stroke-width="2.4"/>
<line x1="315.8" y1="606.9" x2="315.8" y2="602" stroke="#000" stroke-width="2.4"/>
<text x="315.8" y="633.1" font-size="24.8" text-anchor="middle" fill="#000" font-family="'Liberation Serif',serif" font-weight="bold" >8</text>
<line x1="344.4" y1="606.9" x2="344.4" y2="603.8" stroke="#000" stroke-width="2.4"/>
<line x1="373" y1="606.9" x2="373" y2="602" stroke="#000" stroke-width="2.4"/>
<text x="373" y="633.1" font-size="24.8" text-anchor="middle" fill="#000" font-family="'Liberation Serif',serif" font-weight="bold" >10</text>
<line x1="401.6" y1="606.9" x2="401.6" y2="603.8" stroke="#000" stroke-width="2.4"/>
<line x1="430.2" y1="606.9" x2="430.2" y2="602" stroke="#000" stroke-width="2.4"/>
<text x="430.2" y="633.1" font-size="24.8" text-anchor="middle" fill="#000" font-family="'Liberation Serif',serif" font-weight="bold" >12</text>
<line x1="73" y1="597.4" x2="78.1" y2="597.4" stroke="#000" stroke-width="2.4"/>
<text x="65.7" y="605.5" font-size="24.5" text-anchor="end" fill="#000" font-family="'Liberation Serif',serif" font-weight="bold" >0.0</text>
<line x1="73" y1="576.7" x2="76.1" y2="576.7" stroke="#000" stroke-width="2.4"/>
<line x1="73" y1="556.1" x2="78.1" y2="556.1" stroke="#000" stroke-width="2.4"/>
<text x="65.7" y="564.2" font-size="24.5" text-anchor="end" fill="#000" font-family="'Liberation Serif',serif" font-weight="bold" >0.2</text>
<line x1="73" y1="535.4" x2="76.1" y2="535.4" stroke="#000" stroke-width="2.4"/>
<line x1="73" y1="514.7" x2="78.1" y2="514.7" stroke="#000" stroke-width="2.4"/>
<text x="65.7" y="522.8" font-size="24.5" text-anchor="end" fill="#000" font-family="'Liberation Serif',serif" font-weight="bold" >0.4</text>
<line x1="73" y1="494" x2="76.1" y2="494" stroke="#000" stroke-width="2.4"/>
<line x1="73" y1="473.4" x2="78.1" y2="473.4" stroke="#000" stroke-width="2.4"/>
<text x="65.7" y="481.5" font-size="24.5" text-anchor="end" fill="#000" font-family="'Liberation Serif',serif" font-weight="bold" >0.6</text>
<line x1="73" y1="452.7" x2="76.1" y2="452.7" stroke="#000" stroke-width="2.4"/>
<line x1="73" y1="432" x2="78.1" y2="432" stroke="#000" stroke-width="2.4"/>
<text x="65.7" y="440.1" font-size="24.5" text-anchor="end" fill="#000" font-family="'Liberation Serif',serif" font-weight="bold" >0.8</text>
<line x1="73" y1="411.4" x2="76.1" y2="411.4" stroke="#000" stroke-width="2.4"/>
<line x1="73" y1="390.7" x2="78.1" y2="390.7" stroke="#000" stroke-width="2.4"/>
<text x="65.7" y="398.8" font-size="24.5" text-anchor="end" fill="#000" font-family="'Liberation Serif',serif" font-weight="bold" >1.0</text>
<line x1="73" y1="370" x2="76.1" y2="370" stroke="#000" stroke-width="2.4"/>
<line x1="73" y1="349.4" x2="78.1" y2="349.4" stroke="#000" stroke-width="2.4"/>
<text x="65.7" y="357.5" font-size="24.5" text-anchor="end" fill="#000" font-family="'Liberation Serif',serif" font-weight="bold" >1.2</text>
<line x1="444.3" y1="607" x2="439.2" y2="607" stroke="#1616d6" stroke-width="2.4"/>
<text x="449.6" y="615.1" font-size="24.5" text-anchor="start" fill="#1616d6" font-family="'Liberation Serif',serif" font-weight="bold" >0</text>
<line x1="444.3" y1="589.8" x2="441.2" y2="589.8" stroke="#1616d6" stroke-width="2.4"/>
<line x1="444.3" y1="572.5" x2="439.2" y2="572.5" stroke="#1616d6" stroke-width="2.4"/>
<text x="449.6" y="580.6" font-size="24.5" text-anchor="start" fill="#1616d6" font-family="'Liberation Serif',serif" font-weight="bold" >5</text>
<line x1="444.3" y1="555.3" x2="441.2" y2="555.3" stroke="#1616d6" stroke-width="2.4"/>
<line x1="444.3" y1="538.1" x2="439.2" y2="538.1" stroke="#1616d6" stroke-width="2.4"/>
<text x="449.6" y="546.2" font-size="24.5" text-anchor="start" fill="#1616d6" font-family="'Liberation Serif',serif" font-weight="bold" >10</text>
<line x1="444.3" y1="520.8" x2="441.2" y2="520.8" stroke="#1616d6" stroke-width="2.4"/>
<line x1="444.3" y1="503.6" x2="439.2" y2="503.6" stroke="#1616d6" stroke-width="2.4"/>
<text x="449.6" y="511.7" font-size="24.5" text-anchor="start" fill="#1616d6" font-family="'Liberation Serif',serif" font-weight="bold" >15</text>
<line x1="444.3" y1="486.4" x2="441.2" y2="486.4" stroke="#1616d6" stroke-width="2.4"/>
<line x1="444.3" y1="469.1" x2="439.2" y2="469.1" stroke="#1616d6" stroke-width="2.4"/>
<text x="449.6" y="477.2" font-size="24.5" text-anchor="start" fill="#1616d6" font-family="'Liberation Serif',serif" font-weight="bold" >20</text>
<line x1="444.3" y1="451.9" x2="441.2" y2="451.9" stroke="#1616d6" stroke-width="2.4"/>
<line x1="444.3" y1="434.6" x2="439.2" y2="434.6" stroke="#1616d6" stroke-width="2.4"/>
<text x="449.6" y="442.8" font-size="24.5" text-anchor="start" fill="#1616d6" font-family="'Liberation Serif',serif" font-weight="bold" >25</text>
<line x1="444.3" y1="417.4" x2="441.2" y2="417.4" stroke="#1616d6" stroke-width="2.4"/>
<line x1="444.3" y1="400.2" x2="439.2" y2="400.2" stroke="#1616d6" stroke-width="2.4"/>
<text x="449.6" y="408.3" font-size="24.5" text-anchor="start" fill="#1616d6" font-family="'Liberation Serif',serif" font-weight="bold" >30</text>
<line x1="444.3" y1="382.9" x2="441.2" y2="382.9" stroke="#1616d6" stroke-width="2.4"/>
<line x1="444.3" y1="365.7" x2="439.2" y2="365.7" stroke="#1616d6" stroke-width="2.4"/>
<text x="449.6" y="373.8" font-size="24.5" text-anchor="start" fill="#1616d6" font-family="'Liberation Serif',serif" font-weight="bold" >35</text>
<path d="M73 347.4 V606.9 H444.3" fill="none" stroke="#000" stroke-width="3" stroke-linejoin="miter"/>
<path d="M71.5 348.9 H444.3" fill="none" stroke="#000" stroke-width="3"/>
<path d="M444.3 347.4 V608.4" fill="none" stroke="#1616d6" stroke-width="3.2"/>
<text transform="translate(21.2 478.9) rotate(-90)" font-size="27.5" letter-spacing="0.3" text-anchor="middle" font-family="'Liberation Serif',serif" font-weight="bold">I<tspan font-size="18" dy="7.5">DS</tspan><tspan dy="-7.5"> (A/mm)</tspan></text>
<text transform="translate(500.3 468.7) rotate(-90)" font-size="27" text-anchor="middle" fill="#1616d6" font-family="'Liberation Serif',serif" font-weight="bold">R<tspan font-size="18" dy="7.5">ON</tspan><tspan dy="-7.5"> (Ω·mm)</tspan></text>
<text x="258.6" y="657.2" font-size="27" text-anchor="middle" fill="#000" font-family="'Liberation Serif',serif" font-weight="bold" >V<tspan font-size="18" dy="7.5">DS</tspan><tspan dy="-7.5">(V)</tspan></text>
<rect x="598.1" y="562.7" width="40.5" height="25.9" fill="none" stroke="#ee1616" stroke-width="2.6" stroke-dasharray="6 7.5"/>
<polyline fill="none" stroke="#e020e6" stroke-width="2.7" stroke-linejoin="round" points="602.4,597.4 606.3,591.6 610.1,585.9 614,580.3 617.8,574.7 621.7,569.1 625.6,563.6 629.4,558.2 633.3,552.8 637.1,547.4 641,542.1 644.9,536.9 648.7,531.7 652.6,526.5 656.4,521.4 660.3,516.3 664.2,511.3 668,506.4 671.9,501.5 675.7,496.7 679.6,492 683.5,487.2 687.3,482.6 691.2,478 695,473.3 698.9,468.6 702.7,463.7 706.6,458.8 710.5,453.7 714.3,448.5 718.2,443.6 722,439.1 725.9,434.8 729.8,430.6 733.6,426.4 737.5,422.3 741.3,418.3 745.2,414.6 749.1,411.1 752.9,407.8 756.8,404.8 760.6,402.1 764.5,399.7 768.4,397.8 772.2,396.4 776.1,395.5 779.9,394.9 783.8,394.3 787.7,393.8 791.5,393.3 795.4,392.8 799.2,392.3 803.1,392 807,391.7 810.8,391.4 814.7,391.1 818.5,390.8 822.4,390.5 826.3,390.3 830.1,390 834,389.7 837.8,389.5 841.7,389.2 845.6,388.9 849.4,388.7 853.3,388.4 857.1,388.2 861,387.9 864.8,387.7 868.7,387.4 872.6,387.2 876.4,386.9 880.3,386.7 884.1,386.5 888,386.2 891.9,386 895.7,385.8 899.6,385.6 903.4,385.4 907.3,385.1 911.2,384.9 915,384.7 918.9,384.5 922.7,384.3 926.6,384.2 930.5,384 934.3,383.8 938.2,383.6 942,383.5 945.9,383.3"/>
<polyline fill="none" stroke="#a020e0" stroke-width="2.7" stroke-linejoin="round" points="602.4,597.4 606.3,591.7 610.1,586.1 614,580.5 617.8,574.9 621.7,569.4 625.6,564 629.4,558.7 633.3,553.3 637.1,548.1 641,542.9 644.9,537.7 648.7,532.6 652.6,527.5 656.4,522.5 660.3,517.6 664.2,512.7 668,507.9 671.9,503.2 675.7,498.5 679.6,493.8 683.5,489.2 687.3,484.7 691.2,480.2 695,475.6 698.9,471 702.7,466.4 706.6,461.8 710.5,457 714.3,452.1 718.2,447.5 722,443.3 725.9,439.2 729.8,435.2 733.6,431.3 737.5,427.4 741.3,423.7 745.2,420.2 749.1,416.8 752.9,413.7 756.8,410.8 760.6,408 764.5,405.7 768.4,403.7 772.2,402.4 776.1,401.4 779.9,400.7 783.8,400.2 787.7,399.7 791.5,399.2 795.4,398.8 799.2,398.4 803.1,398.1 807,397.9 810.8,397.6 814.7,397.4 818.5,397.2 822.4,396.9 826.3,396.7 830.1,396.5 834,396.3 837.8,396 841.7,395.8 845.6,395.6 849.4,395.4 853.3,395.2 857.1,394.9 861,394.7 864.8,394.5 868.7,394.3 872.6,394.1 876.4,393.9 880.3,393.7 884.1,393.5 888,393.3 891.9,393.1 895.7,392.9 899.6,392.7 903.4,392.5 907.3,392.3 911.2,392.1 915,391.9 918.9,391.7 922.7,391.6 926.6,391.4 930.5,391.2 934.3,391.1 938.2,390.9 942,390.7 945.9,390.6"/>
<polyline fill="none" stroke="#6420e6" stroke-width="2.7" stroke-linejoin="round" points="602.4,597.4 606.3,591.7 610.1,586.1 614,580.6 617.8,575.1 621.7,569.6 625.6,564.3 629.4,558.9 633.3,553.7 637.1,548.5 641,543.3 644.9,538.2 648.7,533.2 652.6,528.2 656.4,523.2 660.3,518.3 664.2,513.5 668,508.8 671.9,504.1 675.7,499.5 679.6,494.9 683.5,490.4 687.3,485.9 691.2,481.4 695,476.9 698.9,472.5 702.7,468 706.6,463.5 710.5,458.9 714.3,454.3 718.2,449.9 722,445.7 725.9,441.8 729.8,437.9 733.6,434.1 737.5,430.4 741.3,426.9 745.2,423.5 749.1,420.2 752.9,417.1 756.8,414.2 760.6,411.5 764.5,409.1 768.4,407.2 772.2,405.8 776.1,404.8 779.9,404.2 783.8,403.6 787.7,403.1 791.5,402.7 795.4,402.3 799.2,402 803.1,401.7 807,401.5 810.8,401.3 814.7,401.1 818.5,400.9 822.4,400.7 826.3,400.5 830.1,400.3 834,400.1 837.8,399.9 841.7,399.7 845.6,399.5 849.4,399.3 853.3,399.1 857.1,398.9 861,398.7 864.8,398.5 868.7,398.3 872.6,398.1 876.4,397.9 880.3,397.7 884.1,397.5 888,397.3 891.9,397.2 895.7,397 899.6,396.8 903.4,396.6 907.3,396.4 911.2,396.3 915,396.1 918.9,395.9 922.7,395.8 926.6,395.6 930.5,395.4 934.3,395.3 938.2,395.1 942,395 945.9,394.8"/>
<polyline fill="none" stroke="#2a1eea" stroke-width="2.7" stroke-linejoin="round" points="602.4,597.4 606.3,591.8 610.1,586.2 614,580.6 617.8,575.2 621.7,569.8 625.6,564.4 629.4,559.1 633.3,553.9 637.1,548.7 641,543.6 644.9,538.5 648.7,533.5 652.6,528.5 656.4,523.6 660.3,518.8 664.2,514 668,509.4 671.9,504.7 675.7,500.2 679.6,495.6 683.5,491.1 687.3,486.6 691.2,482.2 695,477.8 698.9,473.4 702.7,469 706.6,464.6 710.5,460.1 714.3,455.6 718.2,451.3 722,447.2 725.9,443.4 729.8,439.6 733.6,435.9 737.5,432.3 741.3,428.8 745.2,425.5 749.1,422.3 752.9,419.3 756.8,416.4 760.6,413.6 764.5,411.3 768.4,409.4 772.2,408 776.1,407 779.9,406.3 783.8,405.7 787.7,405.3 791.5,404.8 795.4,404.5 799.2,404.2 803.1,403.9 807,403.7 810.8,403.5 814.7,403.3 818.5,403.2 822.4,403 826.3,402.8 830.1,402.6 834,402.4 837.8,402.2 841.7,402.1 845.6,401.9 849.4,401.7 853.3,401.5 857.1,401.3 861,401.1 864.8,401 868.7,400.8 872.6,400.6 876.4,400.4 880.3,400.2 884.1,400.1 888,399.9 891.9,399.7 895.7,399.5 899.6,399.4 903.4,399.2 907.3,399 911.2,398.8 915,398.7 918.9,398.5 922.7,398.4 926.6,398.2 930.5,398 934.3,397.9 938.2,397.7 942,397.6 945.9,397.4"/>
<polyline fill="none" stroke="#1d27ed" stroke-width="2.7" stroke-linejoin="round" points="602.4,597.4 606.3,591.8 610.1,586.2 614,580.7 617.8,575.2 621.7,569.8 625.6,564.5 629.4,559.2 633.3,554 637.1,548.8 641,543.7 644.9,538.7 648.7,533.7 652.6,528.7 656.4,523.9 660.3,519 664.2,514.3 668,509.6 671.9,505 675.7,500.5 679.6,496 683.5,491.5 687.3,487 691.2,482.6 695,478.2 698.9,473.8 702.7,469.5 706.6,465.1 710.5,460.7 714.3,456.2 718.2,452 722,448 725.9,444.2 729.8,440.4 733.6,436.8 737.5,433.2 741.3,429.8 745.2,426.5 749.1,423.3 752.9,420.3 756.8,417.5 760.6,414.7 764.5,412.4 768.4,410.5 772.2,409 776.1,408 779.9,407.3 783.8,406.8 787.7,406.3 791.5,405.9 795.4,405.6 799.2,405.3 803.1,405 807,404.8 810.8,404.6 814.7,404.5 818.5,404.3 822.4,404.1 826.3,403.9 830.1,403.8 834,403.6 837.8,403.4 841.7,403.2 845.6,403.1 849.4,402.9 853.3,402.7 857.1,402.5 861,402.4 864.8,402.2 868.7,402 872.6,401.8 876.4,401.7 880.3,401.5 884.1,401.3 888,401.1 891.9,401 895.7,400.8 899.6,400.6 903.4,400.5 907.3,400.3 911.2,400.1 915,400 918.9,399.8 922.7,399.7 926.6,399.5 930.5,399.3 934.3,399.2 938.2,399 942,398.9 945.9,398.7"/>
<polyline fill="none" stroke="#1030f0" stroke-width="2.7" stroke-linejoin="round" points="602.4,597.4 606.3,591.8 610.1,586.2 614,580.7 617.8,575.3 621.7,569.9 625.6,564.6 629.4,559.3 633.3,554.1 637.1,548.9 641,543.8 644.9,538.8 648.7,533.8 652.6,528.9 656.4,524.1 660.3,519.3 664.2,514.5 668,509.9 671.9,505.3 675.7,500.8 679.6,496.3 683.5,491.8 687.3,487.4 691.2,482.9 695,478.6 698.9,474.2 702.7,469.9 706.6,465.6 710.5,461.3 714.3,456.9 718.2,452.7 722,448.8 725.9,445 729.8,441.3 733.6,437.7 737.5,434.1 741.3,430.8 745.2,427.5 749.1,424.4 752.9,421.4 756.8,418.5 760.6,415.8 764.5,413.4 768.4,411.5 772.2,410.1 776.1,409.1 779.9,408.4 783.8,407.8 787.7,407.4 791.5,407 795.4,406.6 799.2,406.4 803.1,406.1 807,406 810.8,405.8 814.7,405.6 818.5,405.4 822.4,405.3 826.3,405.1 830.1,404.9 834,404.8 837.8,404.6 841.7,404.4 845.6,404.3 849.4,404.1 853.3,403.9 857.1,403.8 861,403.6 864.8,403.4 868.7,403.3 872.6,403.1 876.4,402.9 880.3,402.7 884.1,402.6 888,402.4 891.9,402.2 895.7,402.1 899.6,401.9 903.4,401.8 907.3,401.6 911.2,401.4 915,401.3 918.9,401.1 922.7,401 926.6,400.8 930.5,400.6 934.3,400.5 938.2,400.3 942,400.2 945.9,400"/>
<polyline fill="none" stroke="#124af2" stroke-width="2.7" stroke-linejoin="round" points="602.4,597.4 606.3,591.8 610.1,586.2 614,580.7 617.8,575.3 621.7,569.9 625.6,564.6 629.4,559.3 633.3,554.1 637.1,549 641,543.9 644.9,538.9 648.7,533.9 652.6,529 656.4,524.2 660.3,519.4 664.2,514.7 668,510.1 671.9,505.5 675.7,501 679.6,496.5 683.5,492 687.3,487.6 691.2,483.2 695,478.8 698.9,474.5 702.7,470.3 706.6,466 710.5,461.6 714.3,457.3 718.2,453.2 722,449.3 725.9,445.5 729.8,441.8 733.6,438.2 737.5,434.7 741.3,431.4 745.2,428.1 749.1,425 752.9,422.1 756.8,419.2 760.6,416.5 764.5,414.1 768.4,412.2 772.2,410.8 776.1,409.8 779.9,409.1 783.8,408.5 787.7,408.1 791.5,407.7 795.4,407.3 799.2,407.1 803.1,406.9 807,406.7 810.8,406.5 814.7,406.3 818.5,406.2 822.4,406 826.3,405.9 830.1,405.7 834,405.5 837.8,405.4 841.7,405.2 845.6,405 849.4,404.9 853.3,404.7 857.1,404.5 861,404.4 864.8,404.2 868.7,404 872.6,403.9 876.4,403.7 880.3,403.6 884.1,403.4 888,403.2 891.9,403.1 895.7,402.9 899.6,402.7 903.4,402.6 907.3,402.4 911.2,402.3 915,402.1 918.9,401.9 922.7,401.8 926.6,401.6 930.5,401.5 934.3,401.3 938.2,401.2 942,401 945.9,400.9"/>
<polyline fill="none" stroke="#1464f5" stroke-width="2.7" stroke-linejoin="round" points="602.4,597.4 606.3,591.8 610.1,586.2 614,580.8 617.8,575.3 621.7,570 625.6,564.7 629.4,559.4 633.3,554.2 637.1,549.1 641,544 644.9,539 648.7,534.1 652.6,529.2 656.4,524.3 660.3,519.6 664.2,514.9 668,510.3 671.9,505.7 675.7,501.2 679.6,496.7 683.5,492.3 687.3,487.8 691.2,483.4 695,479.1 698.9,474.8 702.7,470.6 706.6,466.3 710.5,462 714.3,457.7 718.2,453.6 722,449.7 725.9,446 729.8,442.3 733.6,438.8 737.5,435.3 741.3,432 745.2,428.8 749.1,425.7 752.9,422.7 756.8,419.9 760.6,417.2 764.5,414.8 768.4,412.9 772.2,411.5 776.1,410.5 779.9,409.8 783.8,409.2 787.7,408.8 791.5,408.4 795.4,408 799.2,407.8 803.1,407.6 807,407.4 810.8,407.2 814.7,407.1 818.5,406.9 822.4,406.8 826.3,406.6 830.1,406.4 834,406.3 837.8,406.1 841.7,406 845.6,405.8 849.4,405.6 853.3,405.5 857.1,405.3 861,405.2 864.8,405 868.7,404.8 872.6,404.7 876.4,404.5 880.3,404.4 884.1,404.2 888,404 891.9,403.9 895.7,403.7 899.6,403.6 903.4,403.4 907.3,403.2 911.2,403.1 915,402.9 918.9,402.8 922.7,402.6 926.6,402.5 930.5,402.3 934.3,402.2 938.2,402 942,401.9 945.9,401.7"/>
<polyline fill="none" stroke="#197ff5" stroke-width="2.7" stroke-linejoin="round" points="602.4,597.4 606.3,591.8 610.1,586.3 614,580.8 617.8,575.4 621.7,570 625.6,564.7 629.4,559.4 633.3,554.3 637.1,549.1 641,544.1 644.9,539.1 648.7,534.1 652.6,529.2 656.4,524.4 660.3,519.7 664.2,515 668,510.4 671.9,505.8 675.7,501.3 679.6,496.9 683.5,492.4 687.3,488 691.2,483.6 695,479.3 698.9,475 702.7,470.8 706.6,466.6 710.5,462.3 714.3,458 718.2,453.9 722,450.1 725.9,446.3 729.8,442.7 733.6,439.2 737.5,435.7 741.3,432.4 745.2,429.2 749.1,426.1 752.9,423.2 756.8,420.4 760.6,417.6 764.5,415.3 768.4,413.4 772.2,411.9 776.1,410.9 779.9,410.2 783.8,409.7 787.7,409.2 791.5,408.8 795.4,408.5 799.2,408.2 803.1,408 807,407.9 810.8,407.7 814.7,407.6 818.5,407.4 822.4,407.3 826.3,407.1 830.1,407 834,406.8 837.8,406.6 841.7,406.5 845.6,406.3 849.4,406.2 853.3,406 857.1,405.9 861,405.7 864.8,405.5 868.7,405.4 872.6,405.2 876.4,405.1 880.3,404.9 884.1,404.7 888,404.6 891.9,404.4 895.7,404.3 899.6,404.1 903.4,404 907.3,403.8 911.2,403.6 915,403.5 918.9,403.3 922.7,403.2 926.6,403 930.5,402.9 934.3,402.7 938.2,402.6 942,402.4 945.9,402.3"/>
<polyline fill="none" stroke="#1e9af5" stroke-width="2.7" stroke-linejoin="round" points="602.4,597.4 606.3,591.8 610.1,586.3 614,580.8 617.8,575.4 621.7,570 625.6,564.7 629.4,559.5 633.3,554.3 637.1,549.2 641,544.1 644.9,539.1 648.7,534.2 652.6,529.3 656.4,524.5 660.3,519.8 664.2,515.1 668,510.5 671.9,506 675.7,501.5 679.6,497 683.5,492.6 687.3,488.2 691.2,483.8 695,479.5 698.9,475.2 702.7,471 706.6,466.8 710.5,462.5 714.3,458.3 718.2,454.3 722,450.4 725.9,446.7 729.8,443.1 733.6,439.6 737.5,436.1 741.3,432.8 745.2,429.7 749.1,426.6 752.9,423.7 756.8,420.8 760.6,418.1 764.5,415.8 768.4,413.9 772.2,412.4 776.1,411.4 779.9,410.7 783.8,410.1 787.7,409.7 791.5,409.3 795.4,409 799.2,408.7 803.1,408.5 807,408.4 810.8,408.2 814.7,408.1 818.5,407.9 822.4,407.8 826.3,407.6 830.1,407.5 834,407.3 837.8,407.2 841.7,407 845.6,406.8 849.4,406.7 853.3,406.5 857.1,406.4 861,406.2 864.8,406.1 868.7,405.9 872.6,405.8 876.4,405.6 880.3,405.4 884.1,405.3 888,405.1 891.9,405 895.7,404.8 899.6,404.7 903.4,404.5 907.3,404.4 911.2,404.2 915,404 918.9,403.9 922.7,403.7 926.6,403.6 930.5,403.4 934.3,403.3 938.2,403.1 942,403 945.9,402.9"/>
<polyline fill="none" stroke="#23b6f2" stroke-width="2.7" stroke-linejoin="round" points="602.4,597.4 606.3,591.8 610.1,586.3 614,580.8 617.8,575.4 621.7,570 625.6,564.8 629.4,559.5 633.3,554.3 637.1,549.2 641,544.2 644.9,539.2 648.7,534.3 652.6,529.4 656.4,524.6 660.3,519.9 664.2,515.2 668,510.6 671.9,506.1 675.7,501.6 679.6,497.2 683.5,492.7 687.3,488.3 691.2,483.9 695,479.6 698.9,475.4 702.7,471.2 706.6,467 710.5,462.8 714.3,458.6 718.2,454.6 722,450.7 725.9,447 729.8,443.4 733.6,439.9 737.5,436.5 741.3,433.3 745.2,430.1 749.1,427 752.9,424.1 756.8,421.3 760.6,418.6 764.5,416.2 768.4,414.3 772.2,412.9 776.1,411.8 779.9,411.1 783.8,410.6 787.7,410.1 791.5,409.8 795.4,409.4 799.2,409.2 803.1,409 807,408.8 810.8,408.7 814.7,408.5 818.5,408.4 822.4,408.3 826.3,408.1 830.1,408 834,407.8 837.8,407.7 841.7,407.5 845.6,407.4 849.4,407.2 853.3,407.1 857.1,406.9 861,406.8 864.8,406.6 868.7,406.5 872.6,406.3 876.4,406.1 880.3,406 884.1,405.8 888,405.7 891.9,405.5 895.7,405.4 899.6,405.2 903.4,405.1 907.3,404.9 911.2,404.8 915,404.6 918.9,404.5 922.7,404.3 926.6,404.2 930.5,404 934.3,403.9 938.2,403.7 942,403.6 945.9,403.4"/>
<polyline fill="none" stroke="#28d2f0" stroke-width="2.7" stroke-linejoin="round" points="602.4,597.4 606.3,591.8 610.1,586.3 614,580.8 617.8,575.4 621.7,570.1 625.6,564.8 629.4,559.6 633.3,554.4 637.1,549.3 641,544.2 644.9,539.3 648.7,534.3 652.6,529.5 656.4,524.7 660.3,520 664.2,515.3 668,510.7 671.9,506.2 675.7,501.7 679.6,497.3 683.5,492.9 687.3,488.5 691.2,484.1 695,479.8 698.9,475.6 702.7,471.4 706.6,467.2 710.5,463.1 714.3,458.9 718.2,454.9 722,451.1 725.9,447.4 729.8,443.8 733.6,440.3 737.5,436.9 741.3,433.7 745.2,430.5 749.1,427.5 752.9,424.6 756.8,421.8 760.6,419 764.5,416.7 768.4,414.8 772.2,413.3 776.1,412.3 779.9,411.6 783.8,411 787.7,410.6 791.5,410.2 795.4,409.9 799.2,409.7 803.1,409.5 807,409.3 810.8,409.2 814.7,409 818.5,408.9 822.4,408.8 826.3,408.6 830.1,408.5 834,408.3 837.8,408.2 841.7,408 845.6,407.9 849.4,407.7 853.3,407.6 857.1,407.4 861,407.3 864.8,407.1 868.7,407 872.6,406.8 876.4,406.7 880.3,406.5 884.1,406.4 888,406.2 891.9,406.1 895.7,405.9 899.6,405.8 903.4,405.6 907.3,405.5 911.2,405.3 915,405.2 918.9,405 922.7,404.9 926.6,404.7 930.5,404.6 934.3,404.4 938.2,404.3 942,404.1 945.9,404"/>
<polyline fill="none" stroke="#2ddce1" stroke-width="2.7" stroke-linejoin="round" points="602.4,597.4 606.3,591.8 610.1,586.3 614,580.8 617.8,575.4 621.7,570.1 625.6,564.8 629.4,559.6 633.3,554.4 637.1,549.3 641,544.3 644.9,539.3 648.7,534.4 652.6,529.6 656.4,524.8 660.3,520.1 664.2,515.4 668,510.9 671.9,506.3 675.7,501.9 679.6,497.5 683.5,493.1 687.3,488.7 691.2,484.3 695,480 698.9,475.8 702.7,471.6 706.6,467.5 710.5,463.3 714.3,459.2 718.2,455.2 722,451.4 725.9,447.7 729.8,444.2 733.6,440.7 737.5,437.4 741.3,434.1 745.2,431 749.1,428 752.9,425.1 756.8,422.3 760.6,419.5 764.5,417.2 768.4,415.3 772.2,413.8 776.1,412.8 779.9,412.1 783.8,411.5 787.7,411.1 791.5,410.7 795.4,410.4 799.2,410.2 803.1,410 807,409.8 810.8,409.7 814.7,409.6 818.5,409.4 822.4,409.3 826.3,409.2 830.1,409 834,408.9 837.8,408.7 841.7,408.6 845.6,408.4 849.4,408.3 853.3,408.2 857.1,408 861,407.9 864.8,407.7 868.7,407.6 872.6,407.4 876.4,407.3 880.3,407.1 884.1,407 888,406.8 891.9,406.7 895.7,406.5 899.6,406.4 903.4,406.2 907.3,406.1 911.2,405.9 915,405.8 918.9,405.6 922.7,405.5 926.6,405.3 930.5,405.2 934.3,405 938.2,404.9 942,404.7 945.9,404.6"/>
<polyline fill="none" stroke="#32e6d2" stroke-width="2.7" stroke-linejoin="round" points="602.4,597.4 606.3,591.8 610.1,586.3 614,580.9 617.8,575.5 621.7,570.1 625.6,564.9 629.4,559.6 633.3,554.5 637.1,549.4 641,544.4 644.9,539.4 648.7,534.5 652.6,529.7 656.4,524.9 660.3,520.2 664.2,515.5 668,511 671.9,506.5 675.7,502 679.6,497.6 683.5,493.2 687.3,488.8 691.2,484.5 695,480.2 698.9,476 702.7,471.9 706.6,467.7 710.5,463.6 714.3,459.5 718.2,455.5 722,451.8 725.9,448.1 729.8,444.6 733.6,441.1 737.5,437.8 741.3,434.6 745.2,431.5 749.1,428.4 752.9,425.6 756.8,422.8 760.6,420 764.5,417.7 768.4,415.8 772.2,414.3 776.1,413.3 779.9,412.6 783.8,412 787.7,411.6 791.5,411.2 795.4,410.9 799.2,410.7 803.1,410.5 807,410.4 810.8,410.2 814.7,410.1 818.5,410 822.4,409.8 826.3,409.7 830.1,409.6 834,409.4 837.8,409.3 841.7,409.1 845.6,409 849.4,408.9 853.3,408.7 857.1,408.6 861,408.4 864.8,408.3 868.7,408.1 872.6,408 876.4,407.8 880.3,407.7 884.1,407.5 888,407.4 891.9,407.3 895.7,407.1 899.6,407 903.4,406.8 907.3,406.7 911.2,406.5 915,406.4 918.9,406.2 922.7,406.1 926.6,405.9 930.5,405.8 934.3,405.6 938.2,405.5 942,405.3 945.9,405.2"/>
<polyline fill="none" stroke="#37ebbe" stroke-width="2.7" stroke-linejoin="round" points="602.4,597.4 606.3,591.8 610.1,586.3 614,580.9 617.8,575.5 621.7,570.2 625.6,564.9 629.4,559.7 633.3,554.5 637.1,549.4 641,544.4 644.9,539.5 648.7,534.6 652.6,529.7 656.4,525 660.3,520.3 664.2,515.6 668,511.1 671.9,506.6 675.7,502.2 679.6,497.8 683.5,493.4 687.3,489 691.2,484.6 695,480.4 698.9,476.2 702.7,472.1 706.6,468 710.5,463.8 714.3,459.8 718.2,455.8 722,452.1 725.9,448.4 729.8,444.9 733.6,441.5 737.5,438.2 741.3,435 745.2,431.9 749.1,428.9 752.9,426 756.8,423.2 760.6,420.5 764.5,418.1 768.4,416.3 772.2,414.8 776.1,413.7 779.9,413 783.8,412.5 787.7,412 791.5,411.7 795.4,411.4 799.2,411.1 803.1,411 807,410.8 810.8,410.7 814.7,410.6 818.5,410.4 822.4,410.3 826.3,410.2 830.1,410 834,409.9 837.8,409.8 841.7,409.6 845.6,409.5 849.4,409.4 853.3,409.2 857.1,409.1 861,408.9 864.8,408.8 868.7,408.7 872.6,408.5 876.4,408.4 880.3,408.2 884.1,408.1 888,407.9 891.9,407.8 895.7,407.6 899.6,407.5 903.4,407.3 907.3,407.2 911.2,407.1 915,406.9 918.9,406.8 922.7,406.6 926.6,406.5 930.5,406.3 934.3,406.2 938.2,406 942,405.9 945.9,405.7"/>
<polyline fill="none" stroke="#3cf0aa" stroke-width="2.7" stroke-linejoin="round" points="602.4,597.4 606.3,591.8 610.1,586.3 614,580.9 617.8,575.5 621.7,570.2 625.6,564.9 629.4,559.7 633.3,554.6 637.1,549.5 641,544.5 644.9,539.5 648.7,534.6 652.6,529.8 656.4,525.1 660.3,520.4 664.2,515.7 668,511.2 671.9,506.7 675.7,502.3 679.6,497.9 683.5,493.5 687.3,489.1 691.2,484.8 695,480.5 698.9,476.4 702.7,472.3 706.6,468.2 710.5,464.1 714.3,460 718.2,456.1 722,452.4 725.9,448.8 729.8,445.3 733.6,441.9 737.5,438.6 741.3,435.4 745.2,432.3 749.1,429.3 752.9,426.5 756.8,423.7 760.6,420.9 764.5,418.6 768.4,416.7 772.2,415.2 776.1,414.2 779.9,413.5 783.8,412.9 787.7,412.5 791.5,412.1 795.4,411.8 799.2,411.6 803.1,411.4 807,411.3 810.8,411.2 814.7,411 818.5,410.9 822.4,410.8 826.3,410.7 830.1,410.5 834,410.4 837.8,410.3 841.7,410.1 845.6,410 849.4,409.9 853.3,409.7 857.1,409.6 861,409.4 864.8,409.3 868.7,409.2 872.6,409 876.4,408.9 880.3,408.7 884.1,408.6 888,408.5 891.9,408.3 895.7,408.2 899.6,408 903.4,407.9 907.3,407.7 911.2,407.6 915,407.4 918.9,407.3 922.7,407.2 926.6,407 930.5,406.9 934.3,406.7 938.2,406.6 942,406.4 945.9,406.3"/>
<polyline fill="none" stroke="#50f091" stroke-width="2.7" stroke-linejoin="round" points="602.4,597.4 606.3,591.8 610.1,586.3 614,580.9 617.8,575.5 621.7,570.2 625.6,564.9 629.4,559.7 633.3,554.6 637.1,549.5 641,544.5 644.9,539.6 648.7,534.7 652.6,529.9 656.4,525.1 660.3,520.5 664.2,515.8 668,511.3 671.9,506.8 675.7,502.4 679.6,498 683.5,493.7 687.3,489.3 691.2,484.9 695,480.7 698.9,476.5 702.7,472.4 706.6,468.4 710.5,464.3 714.3,460.3 718.2,456.4 722,452.7 725.9,449.1 729.8,445.6 733.6,442.2 737.5,438.9 741.3,435.8 745.2,432.7 749.1,429.7 752.9,426.9 756.8,424.1 760.6,421.3 764.5,419 768.4,417.1 772.2,415.6 776.1,414.6 779.9,413.9 783.8,413.3 787.7,412.9 791.5,412.5 795.4,412.2 799.2,412 803.1,411.9 807,411.7 810.8,411.6 814.7,411.5 818.5,411.3 822.4,411.2 826.3,411.1 830.1,411 834,410.8 837.8,410.7 841.7,410.6 845.6,410.4 849.4,410.3 853.3,410.2 857.1,410 861,409.9 864.8,409.8 868.7,409.6 872.6,409.5 876.4,409.4 880.3,409.2 884.1,409.1 888,408.9 891.9,408.8 895.7,408.6 899.6,408.5 903.4,408.4 907.3,408.2 911.2,408.1 915,407.9 918.9,407.8 922.7,407.6 926.6,407.5 930.5,407.4 934.3,407.2 938.2,407.1 942,406.9 945.9,406.8"/>
<polyline fill="none" stroke="#64f078" stroke-width="2.7" stroke-linejoin="round" points="602.4,597.4 606.3,591.8 610.1,586.3 614,580.9 617.8,575.5 621.7,570.2 625.6,565 629.4,559.8 633.3,554.6 637.1,549.6 641,544.6 644.9,539.6 648.7,534.8 652.6,530 656.4,525.2 660.3,520.5 664.2,515.9 668,511.4 671.9,507 675.7,502.5 679.6,498.2 683.5,493.8 687.3,489.4 691.2,485.1 695,480.8 698.9,476.7 702.7,472.6 706.6,468.6 710.5,464.5 714.3,460.5 718.2,456.7 722,453 725.9,449.4 729.8,445.9 733.6,442.5 737.5,439.3 741.3,436.1 745.2,433.1 749.1,430.1 752.9,427.2 756.8,424.5 760.6,421.7 764.5,419.4 768.4,417.5 772.2,416 776.1,415 779.9,414.3 783.8,413.7 787.7,413.3 791.5,412.9 795.4,412.6 799.2,412.4 803.1,412.3 807,412.1 810.8,412 814.7,411.9 818.5,411.8 822.4,411.7 826.3,411.5 830.1,411.4 834,411.3 837.8,411.2 841.7,411 845.6,410.9 849.4,410.8 853.3,410.6 857.1,410.5 861,410.4 864.8,410.2 868.7,410.1 872.6,410 876.4,409.8 880.3,409.7 884.1,409.5 888,409.4 891.9,409.3 895.7,409.1 899.6,409 903.4,408.8 907.3,408.7 911.2,408.6 915,408.4 918.9,408.3 922.7,408.1 926.6,408 930.5,407.8 934.3,407.7 938.2,407.6 942,407.4 945.9,407.3"/>
<polyline fill="none" stroke="#82f064" stroke-width="2.7" stroke-linejoin="round" points="602.4,597.4 606.3,591.8 610.1,586.4 614,580.9 617.8,575.6 621.7,570.2 625.6,565 629.4,559.8 633.3,554.7 637.1,549.6 641,544.6 644.9,539.7 648.7,534.8 652.6,530 656.4,525.3 660.3,520.6 664.2,516 668,511.5 671.9,507.1 675.7,502.7 679.6,498.3 683.5,493.9 687.3,489.6 691.2,485.2 695,481 698.9,476.9 702.7,472.8 706.6,468.8 710.5,464.8 714.3,460.8 718.2,457 722,453.3 725.9,449.7 729.8,446.2 733.6,442.9 737.5,439.6 741.3,436.5 745.2,433.5 749.1,430.5 752.9,427.7 756.8,424.9 760.6,422.2 764.5,419.8 768.4,417.9 772.2,416.4 776.1,415.4 779.9,414.7 783.8,414.1 787.7,413.7 791.5,413.3 795.4,413.1 799.2,412.8 803.1,412.7 807,412.6 810.8,412.4 814.7,412.3 818.5,412.2 822.4,412.1 826.3,412 830.1,411.9 834,411.7 837.8,411.6 841.7,411.5 845.6,411.4 849.4,411.2 853.3,411.1 857.1,411 861,410.8 864.8,410.7 868.7,410.6 872.6,410.4 876.4,410.3 880.3,410.2 884.1,410 888,409.9 891.9,409.8 895.7,409.6 899.6,409.5 903.4,409.3 907.3,409.2 911.2,409.1 915,408.9 918.9,408.8 922.7,408.6 926.6,408.5 930.5,408.3 934.3,408.2 938.2,408.1 942,407.9 945.9,407.8"/>
<polyline fill="none" stroke="#a0f050" stroke-width="2.7" stroke-linejoin="round" points="602.4,597.4 606.3,591.9 610.1,586.4 614,580.9 617.8,575.6 621.7,570.3 625.6,565 629.4,559.9 633.3,554.7 637.1,549.7 641,544.7 644.9,539.8 648.7,534.9 652.6,530.1 656.4,525.4 660.3,520.7 664.2,516.1 668,511.6 671.9,507.2 675.7,502.8 679.6,498.4 683.5,494.1 687.3,489.7 691.2,485.4 695,481.2 698.9,477 702.7,473 706.6,469 710.5,465 714.3,461 718.2,457.2 722,453.6 725.9,450 729.8,446.5 733.6,443.2 737.5,440 741.3,436.9 745.2,433.8 749.1,430.9 752.9,428.1 756.8,425.3 760.6,422.6 764.5,420.2 768.4,418.4 772.2,416.8 776.1,415.8 779.9,415.1 783.8,414.5 787.7,414.1 791.5,413.8 795.4,413.5 799.2,413.3 803.1,413.1 807,413 810.8,412.9 814.7,412.8 818.5,412.7 822.4,412.5 826.3,412.4 830.1,412.3 834,412.2 837.8,412.1 841.7,411.9 845.6,411.8 849.4,411.7 853.3,411.6 857.1,411.4 861,411.3 864.8,411.2 868.7,411.1 872.6,410.9 876.4,410.8 880.3,410.7 884.1,410.5 888,410.4 891.9,410.2 895.7,410.1 899.6,410 903.4,409.8 907.3,409.7 911.2,409.6 915,409.4 918.9,409.3 922.7,409.1 926.6,409 930.5,408.9 934.3,408.7 938.2,408.6 942,408.4 945.9,408.3"/>
<polyline fill="none" stroke="#bcf046" stroke-width="2.7" stroke-linejoin="round" points="602.4,597.4 606.3,591.9 610.1,586.4 614,581 617.8,575.6 621.7,570.3 625.6,565.1 629.4,559.9 633.3,554.8 637.1,549.7 641,544.7 644.9,539.8 648.7,535 652.6,530.2 656.4,525.5 660.3,520.8 664.2,516.2 668,511.8 671.9,507.3 675.7,502.9 679.6,498.6 683.5,494.2 687.3,489.9 691.2,485.6 695,481.4 698.9,477.3 702.7,473.2 706.6,469.3 710.5,465.3 714.3,461.4 718.2,457.6 722,453.9 725.9,450.4 729.8,447 733.6,443.7 737.5,440.5 741.3,437.4 745.2,434.3 749.1,431.4 752.9,428.6 756.8,425.8 760.6,423.1 764.5,420.8 768.4,418.9 772.2,417.4 776.1,416.3 779.9,415.6 783.8,415 787.7,414.6 791.5,414.3 795.4,414 799.2,413.8 803.1,413.7 807,413.5 810.8,413.4 814.7,413.3 818.5,413.2 822.4,413.1 826.3,413 830.1,412.9 834,412.8 837.8,412.7 841.7,412.5 845.6,412.4 849.4,412.3 853.3,412.2 857.1,412 861,411.9 864.8,411.8 868.7,411.7 872.6,411.5 876.4,411.4 880.3,411.3 884.1,411.1 888,411 891.9,410.9 895.7,410.7 899.6,410.6 903.4,410.5 907.3,410.3 911.2,410.2 915,410.1 918.9,409.9 922.7,409.8 926.6,409.6 930.5,409.5 934.3,409.4 938.2,409.2 942,409.1 945.9,408.9"/>
<polyline fill="none" stroke="#d8f03c" stroke-width="2.7" stroke-linejoin="round" points="602.4,597.4 606.3,591.9 610.1,586.4 614,581 617.8,575.6 621.7,570.3 625.6,565.1 629.4,559.9 633.3,554.8 637.1,549.8 641,544.8 644.9,539.9 648.7,535.1 652.6,530.3 656.4,525.6 660.3,520.9 664.2,516.4 668,511.9 671.9,507.5 675.7,503.1 679.6,498.8 683.5,494.4 687.3,490.1 691.2,485.8 695,481.6 698.9,477.5 702.7,473.5 706.6,469.5 710.5,465.6 714.3,461.7 718.2,457.9 722,454.3 725.9,450.8 729.8,447.4 733.6,444.1 737.5,440.9 741.3,437.8 745.2,434.8 749.1,431.9 752.9,429.1 756.8,426.4 760.6,423.6 764.5,421.3 768.4,419.4 772.2,417.9 776.1,416.8 779.9,416.1 783.8,415.6 787.7,415.2 791.5,414.8 795.4,414.5 799.2,414.4 803.1,414.2 807,414.1 810.8,414 814.7,413.9 818.5,413.8 822.4,413.7 826.3,413.6 830.1,413.5 834,413.4 837.8,413.2 841.7,413.1 845.6,413 849.4,412.9 853.3,412.8 857.1,412.6 861,412.5 864.8,412.4 868.7,412.3 872.6,412.2 876.4,412 880.3,411.9 884.1,411.8 888,411.6 891.9,411.5 895.7,411.4 899.6,411.2 903.4,411.1 907.3,411 911.2,410.8 915,410.7 918.9,410.6 922.7,410.4 926.6,410.3 930.5,410.1 934.3,410 938.2,409.9 942,409.7 945.9,409.6"/>
<polyline fill="none" stroke="#e9f037" stroke-width="2.7" stroke-linejoin="round" points="602.4,597.4 606.3,591.9 610.1,586.4 614,581 617.8,575.6 621.7,570.4 625.6,565.1 629.4,560 633.3,554.9 637.1,549.8 641,544.9 644.9,540 648.7,535.2 652.6,530.4 656.4,525.7 660.3,521.1 664.2,516.5 668,512 671.9,507.6 675.7,503.3 679.6,498.9 683.5,494.6 687.3,490.3 691.2,486 695,481.8 698.9,477.7 702.7,473.7 706.6,469.8 710.5,465.9 714.3,462 718.2,458.3 722,454.7 725.9,451.2 729.8,447.8 733.6,444.5 737.5,441.4 741.3,438.3 745.2,435.3 749.1,432.4 752.9,429.7 756.8,426.9 760.6,424.2 764.5,421.8 768.4,420 772.2,418.4 776.1,417.4 779.9,416.7 783.8,416.1 787.7,415.7 791.5,415.4 795.4,415.1 799.2,414.9 803.1,414.8 807,414.7 810.8,414.6 814.7,414.5 818.5,414.4 822.4,414.3 826.3,414.2 830.1,414.1 834,414 837.8,413.8 841.7,413.7 845.6,413.6 849.4,413.5 853.3,413.4 857.1,413.3 861,413.1 864.8,413 868.7,412.9 872.6,412.8 876.4,412.7 880.3,412.5 884.1,412.4 888,412.3 891.9,412.1 895.7,412 899.6,411.9 903.4,411.8 907.3,411.6 911.2,411.5 915,411.3 918.9,411.2 922.7,411.1 926.6,410.9 930.5,410.8 934.3,410.7 938.2,410.5 942,410.4 945.9,410.2"/>
<polyline fill="none" stroke="#faf032" stroke-width="2.7" stroke-linejoin="round" points="602.4,597.4 606.3,591.9 610.1,586.4 614,581 617.8,575.7 621.7,570.4 625.6,565.2 629.4,560 633.3,554.9 637.1,549.9 641,545 644.9,540.1 648.7,535.2 652.6,530.5 656.4,525.8 660.3,521.2 664.2,516.6 668,512.2 671.9,507.8 675.7,503.4 679.6,499.1 683.5,494.8 687.3,490.4 691.2,486.1 695,482 698.9,477.9 702.7,474 706.6,470.1 710.5,466.2 714.3,462.4 718.2,458.7 722,455.1 725.9,451.6 729.8,448.2 733.6,445 737.5,441.9 741.3,438.8 745.2,435.9 749.1,433 752.9,430.2 756.8,427.4 760.6,424.7 764.5,422.4 768.4,420.5 772.2,419 776.1,417.9 779.9,417.2 783.8,416.6 787.7,416.2 791.5,415.9 795.4,415.6 799.2,415.5 803.1,415.3 807,415.2 810.8,415.1 814.7,415 818.5,415 822.4,414.9 826.3,414.8 830.1,414.7 834,414.5 837.8,414.4 841.7,414.3 845.6,414.2 849.4,414.1 853.3,414 857.1,413.9 861,413.8 864.8,413.7 868.7,413.5 872.6,413.4 876.4,413.3 880.3,413.2 884.1,413 888,412.9 891.9,412.8 895.7,412.7 899.6,412.5 903.4,412.4 907.3,412.3 911.2,412.1 915,412 918.9,411.9 922.7,411.7 926.6,411.6 930.5,411.5 934.3,411.3 938.2,411.2 942,411 945.9,410.9"/>
<polyline fill="none" stroke="#fce128" stroke-width="2.7" stroke-linejoin="round" points="602.4,597.4 606.3,591.9 610.1,586.4 614,581 617.8,575.7 621.7,570.4 625.6,565.2 629.4,560.1 633.3,555 637.1,550 641,545 644.9,540.2 648.7,535.3 652.6,530.6 656.4,525.9 660.3,521.3 664.2,516.8 668,512.3 671.9,507.9 675.7,503.6 679.6,499.3 683.5,495 687.3,490.7 691.2,486.4 695,482.2 698.9,478.2 702.7,474.3 706.6,470.4 710.5,466.5 714.3,462.8 718.2,459.1 722,455.5 725.9,452.1 729.8,448.7 733.6,445.5 737.5,442.4 741.3,439.4 745.2,436.4 749.1,433.6 752.9,430.8 756.8,428.1 760.6,425.4 764.5,423 768.4,421.1 772.2,419.6 776.1,418.5 779.9,417.8 783.8,417.3 787.7,416.9 791.5,416.5 795.4,416.3 799.2,416.1 803.1,416 807,415.9 810.8,415.8 814.7,415.7 818.5,415.6 822.4,415.5 826.3,415.4 830.1,415.3 834,415.2 837.8,415.1 841.7,415 845.6,414.9 849.4,414.8 853.3,414.7 857.1,414.6 861,414.5 864.8,414.4 868.7,414.3 872.6,414.1 876.4,414 880.3,413.9 884.1,413.8 888,413.7 891.9,413.5 895.7,413.4 899.6,413.3 903.4,413.1 907.3,413 911.2,412.9 915,412.8 918.9,412.6 922.7,412.5 926.6,412.4 930.5,412.2 934.3,412.1 938.2,411.9 942,411.8 945.9,411.7"/>
<polyline fill="none" stroke="#ffd21e" stroke-width="2.7" stroke-linejoin="round" points="602.4,597.4 606.3,591.9 610.1,586.4 614,581 617.8,575.7 621.7,570.5 625.6,565.3 629.4,560.1 633.3,555.1 637.1,550 641,545.1 644.9,540.2 648.7,535.4 652.6,530.7 656.4,526 660.3,521.4 664.2,516.9 668,512.5 671.9,508.1 675.7,503.8 679.6,499.5 683.5,495.2 687.3,490.9 691.2,486.6 695,482.5 698.9,478.5 702.7,474.5 706.6,470.7 710.5,466.9 714.3,463.1 718.2,459.5 722,456 725.9,452.5 729.8,449.2 733.6,446 737.5,442.9 741.3,440 745.2,437 749.1,434.2 752.9,431.4 756.8,428.7 760.6,426 764.5,423.6 768.4,421.8 772.2,420.2 776.1,419.1 779.9,418.4 783.8,417.9 787.7,417.5 791.5,417.2 795.4,416.9 799.2,416.7 803.1,416.6 807,416.5 810.8,416.5 814.7,416.4 818.5,416.3 822.4,416.2 826.3,416.1 830.1,416 834,415.9 837.8,415.8 841.7,415.7 845.6,415.6 849.4,415.5 853.3,415.4 857.1,415.3 861,415.2 864.8,415.1 868.7,415 872.6,414.9 876.4,414.7 880.3,414.6 884.1,414.5 888,414.4 891.9,414.3 895.7,414.1 899.6,414 903.4,413.9 907.3,413.8 911.2,413.6 915,413.5 918.9,413.4 922.7,413.2 926.6,413.1 930.5,413 934.3,412.8 938.2,412.7 942,412.6 945.9,412.4"/>
<polyline fill="none" stroke="#ffbd1e" stroke-width="2.7" stroke-linejoin="round" points="602.4,597.4 606.3,591.9 610.1,586.4 614,581.1 617.8,575.7 621.7,570.5 625.6,565.3 629.4,560.2 633.3,555.1 637.1,550.1 641,545.2 644.9,540.3 648.7,535.5 652.6,530.8 656.4,526.2 660.3,521.6 664.2,517.1 668,512.6 671.9,508.3 675.7,504 679.6,499.7 683.5,495.4 687.3,491.1 691.2,486.8 695,482.7 698.9,478.7 702.7,474.8 706.6,471 710.5,467.2 714.3,463.5 718.2,459.9 722,456.4 725.9,453 729.8,449.7 733.6,446.5 737.5,443.5 741.3,440.5 745.2,437.6 749.1,434.8 752.9,432 756.8,429.3 760.6,426.6 764.5,424.2 768.4,422.4 772.2,420.8 776.1,419.7 779.9,419 783.8,418.5 787.7,418.1 791.5,417.8 795.4,417.5 799.2,417.4 803.1,417.2 807,417.2 810.8,417.1 814.7,417 818.5,416.9 822.4,416.8 826.3,416.7 830.1,416.7 834,416.6 837.8,416.5 841.7,416.4 845.6,416.3 849.4,416.2 853.3,416.1 857.1,416 861,415.9 864.8,415.8 868.7,415.7 872.6,415.6 876.4,415.4 880.3,415.3 884.1,415.2 888,415.1 891.9,415 895.7,414.9 899.6,414.7 903.4,414.6 907.3,414.5 911.2,414.4 915,414.2 918.9,414.1 922.7,414 926.6,413.8 930.5,413.7 934.3,413.6 938.2,413.4 942,413.3 945.9,413.2"/>
<polyline fill="none" stroke="#ffa81e" stroke-width="2.7" stroke-linejoin="round" points="602.4,597.4 606.3,591.9 610.1,586.5 614,581.1 617.8,575.8 621.7,570.5 625.6,565.4 629.4,560.2 633.3,555.2 637.1,550.2 641,545.3 644.9,540.4 648.7,535.6 652.6,530.9 656.4,526.3 660.3,521.7 664.2,517.2 668,512.8 671.9,508.4 675.7,504.1 679.6,499.9 683.5,495.6 687.3,491.3 691.2,487 695,482.9 698.9,478.9 702.7,475.1 706.6,471.3 710.5,467.5 714.3,463.9 718.2,460.3 722,456.8 725.9,453.4 729.8,450.1 733.6,447 737.5,444 741.3,441 745.2,438.1 749.1,435.3 752.9,432.6 756.8,429.9 760.6,427.2 764.5,424.8 768.4,423 772.2,421.4 776.1,420.3 779.9,419.6 783.8,419 787.7,418.7 791.5,418.4 795.4,418.1 799.2,418 803.1,417.9 807,417.8 810.8,417.7 814.7,417.6 818.5,417.6 822.4,417.5 826.3,417.4 830.1,417.3 834,417.2 837.8,417.1 841.7,417 845.6,416.9 849.4,416.9 853.3,416.8 857.1,416.7 861,416.6 864.8,416.5 868.7,416.3 872.6,416.2 876.4,416.1 880.3,416 884.1,415.9 888,415.8 891.9,415.7 895.7,415.6 899.6,415.4 903.4,415.3 907.3,415.2 911.2,415.1 915,414.9 918.9,414.8 922.7,414.7 926.6,414.6 930.5,414.4 934.3,414.3 938.2,414.2 942,414 945.9,413.9"/>
<polyline fill="none" stroke="#ff9119" stroke-width="2.7" stroke-linejoin="round" points="602.4,597.4 606.3,591.9 610.1,586.5 614,581.1 617.8,575.8 621.7,570.6 625.6,565.4 629.4,560.3 633.3,555.3 637.1,550.3 641,545.4 644.9,540.6 648.7,535.8 652.6,531.1 656.4,526.5 660.3,521.9 664.2,517.4 668,513.1 671.9,508.7 675.7,504.5 679.6,500.2 683.5,496 687.3,491.7 691.2,487.4 695,483.3 698.9,479.4 702.7,475.6 706.6,471.8 710.5,468.1 714.3,464.5 718.2,461 722,457.6 725.9,454.2 729.8,451 733.6,447.9 737.5,444.9 741.3,442 745.2,439.2 749.1,436.4 752.9,433.7 756.8,431 760.6,428.2 764.5,425.9 768.4,424 772.2,422.5 776.1,421.4 779.9,420.7 783.8,420.1 787.7,419.7 791.5,419.4 795.4,419.2 799.2,419.1 803.1,419 807,418.9 810.8,418.8 814.7,418.8 818.5,418.7 822.4,418.6 826.3,418.6 830.1,418.5 834,418.4 837.8,418.3 841.7,418.2 845.6,418.1 849.4,418.1 853.3,418 857.1,417.9 861,417.8 864.8,417.7 868.7,417.6 872.6,417.5 876.4,417.4 880.3,417.3 884.1,417.2 888,417.1 891.9,416.9 895.7,416.8 899.6,416.7 903.4,416.6 907.3,416.5 911.2,416.4 915,416.2 918.9,416.1 922.7,416 926.6,415.9 930.5,415.7 934.3,415.6 938.2,415.5 942,415.3 945.9,415.2"/>
<polyline fill="none" stroke="#ff7a14" stroke-width="2.7" stroke-linejoin="round" points="602.4,597.4 606.3,591.9 610.1,586.5 614,581.2 617.8,575.9 621.7,570.7 625.6,565.5 629.4,560.4 633.3,555.4 637.1,550.4 641,545.5 644.9,540.7 648.7,536 652.6,531.3 656.4,526.7 660.3,522.2 664.2,517.7 668,513.3 671.9,509 675.7,504.8 679.6,500.6 683.5,496.3 687.3,492 691.2,487.8 695,483.7 698.9,479.8 702.7,476 706.6,472.4 710.5,468.7 714.3,465.2 718.2,461.7 722,458.3 725.9,455 729.8,451.8 733.6,448.8 737.5,445.8 741.3,443 745.2,440.2 749.1,437.4 752.9,434.7 756.8,432 760.6,429.3 764.5,427 768.4,425.1 772.2,423.5 776.1,422.4 779.9,421.7 783.8,421.2 787.7,420.8 791.5,420.5 795.4,420.3 799.2,420.2 803.1,420.1 807,420 810.8,420 814.7,419.9 818.5,419.8 822.4,419.8 826.3,419.7 830.1,419.6 834,419.6 837.8,419.5 841.7,419.4 845.6,419.3 849.4,419.3 853.3,419.2 857.1,419.1 861,419 864.8,418.9 868.7,418.8 872.6,418.7 876.4,418.6 880.3,418.5 884.1,418.4 888,418.3 891.9,418.2 895.7,418.1 899.6,418 903.4,417.9 907.3,417.8 911.2,417.6 915,417.5 918.9,417.4 922.7,417.3 926.6,417.2 930.5,417 934.3,416.9 938.2,416.8 942,416.6 945.9,416.5"/>
<polyline fill="none" stroke="#fc6013" stroke-width="2.7" stroke-linejoin="round" points="602.4,597.4 606.3,591.9 610.1,586.5 614,581.2 617.8,575.9 621.7,570.7 625.6,565.6 629.4,560.5 633.3,555.5 637.1,550.5 641,545.7 644.9,540.9 648.7,536.1 652.6,531.5 656.4,526.9 660.3,522.4 664.2,518 668,513.6 671.9,509.3 675.7,505.1 679.6,500.9 683.5,496.7 687.3,492.4 691.2,488.2 695,484.1 698.9,480.3 702.7,476.5 706.6,472.9 710.5,469.3 714.3,465.8 718.2,462.4 722,459.1 725.9,455.8 729.8,452.7 733.6,449.7 737.5,446.8 741.3,444 745.2,441.2 749.1,438.5 752.9,435.8 756.8,433.1 760.6,430.4 764.5,428.1 768.4,426.2 772.2,424.6 776.1,423.5 779.9,422.8 783.8,422.2 787.7,421.9 791.5,421.6 795.4,421.4 799.2,421.3 803.1,421.2 807,421.1 810.8,421.1 814.7,421.1 818.5,421 822.4,421 826.3,420.9 830.1,420.8 834,420.8 837.8,420.7 841.7,420.6 845.6,420.6 849.4,420.5 853.3,420.4 857.1,420.3 861,420.3 864.8,420.2 868.7,420.1 872.6,420 876.4,419.9 880.3,419.8 884.1,419.7 888,419.6 891.9,419.5 895.7,419.4 899.6,419.3 903.4,419.2 907.3,419.1 911.2,419 915,418.8 918.9,418.7 922.7,418.6 926.6,418.5 930.5,418.4 934.3,418.2 938.2,418.1 942,418 945.9,417.8"/>
<polyline fill="none" stroke="#fa4612" stroke-width="2.7" stroke-linejoin="round" points="602.4,597.4 606.3,591.9 610.1,586.6 614,581.2 617.8,576 621.7,570.8 625.6,565.7 629.4,560.6 633.3,555.6 637.1,550.7 641,545.8 644.9,541 648.7,536.3 652.6,531.7 656.4,527.1 660.3,522.6 664.2,518.2 668,513.9 671.9,509.6 675.7,505.4 679.6,501.2 683.5,497 687.3,492.8 691.2,488.6 695,484.6 698.9,480.7 702.7,477 706.6,473.4 710.5,469.9 714.3,466.5 718.2,463.2 722,459.9 725.9,456.6 729.8,453.5 733.6,450.5 737.5,447.7 741.3,444.9 745.2,442.2 749.1,439.5 752.9,436.9 756.8,434.2 760.6,431.5 764.5,429.2 768.4,427.3 772.2,425.7 776.1,424.6 779.9,423.9 783.8,423.3 787.7,422.9 791.5,422.7 795.4,422.5 799.2,422.4 803.1,422.3 807,422.3 810.8,422.2 814.7,422.2 818.5,422.2 822.4,422.1 826.3,422.1 830.1,422 834,422 837.8,421.9 841.7,421.8 845.6,421.8 849.4,421.7 853.3,421.6 857.1,421.6 861,421.5 864.8,421.4 868.7,421.3 872.6,421.3 876.4,421.2 880.3,421.1 884.1,421 888,420.9 891.9,420.8 895.7,420.7 899.6,420.6 903.4,420.5 907.3,420.4 911.2,420.3 915,420.2 918.9,420 922.7,419.9 926.6,419.8 930.5,419.7 934.3,419.6 938.2,419.4 942,419.3 945.9,419.2"/>
<polyline fill="none" stroke="#f62c12" stroke-width="2.7" stroke-linejoin="round" points="602.4,597.4 606.3,592 610.1,586.6 614,581.3 617.8,576 621.7,570.9 625.6,565.7 629.4,560.7 633.3,555.7 637.1,550.8 641,546 644.9,541.2 648.7,536.5 652.6,531.9 656.4,527.4 660.3,522.9 664.2,518.5 668,514.2 671.9,510 675.7,505.8 679.6,501.7 683.5,497.5 687.3,493.2 691.2,489.1 695,485.1 698.9,481.3 702.7,477.6 706.6,474.1 710.5,470.7 714.3,467.3 718.2,464.1 722,460.8 725.9,457.6 729.8,454.5 733.6,451.6 737.5,448.9 741.3,446.1 745.2,443.5 749.1,440.8 752.9,438.2 756.8,435.5 760.6,432.8 764.5,430.5 768.4,428.7 772.2,427 776.1,425.9 779.9,425.2 783.8,424.6 787.7,424.3 791.5,424 795.4,423.8 799.2,423.7 803.1,423.7 807,423.7 810.8,423.6 814.7,423.6 818.5,423.6 822.4,423.6 826.3,423.5 830.1,423.5 834,423.4 837.8,423.4 841.7,423.3 845.6,423.3 849.4,423.2 853.3,423.1 857.1,423.1 861,423 864.8,422.9 868.7,422.9 872.6,422.8 876.4,422.7 880.3,422.6 884.1,422.5 888,422.5 891.9,422.4 895.7,422.3 899.6,422.2 903.4,422.1 907.3,422 911.2,421.9 915,421.8 918.9,421.6 922.7,421.5 926.6,421.4 930.5,421.3 934.3,421.2 938.2,421 942,420.9 945.9,420.8"/>
<polyline fill="none" stroke="#f21212" stroke-width="2.7" stroke-linejoin="round" points="602.4,597.4 606.3,592 610.1,586.6 614,581.3 617.8,576.1 621.7,570.9 625.6,565.8 629.4,560.8 633.3,555.8 637.1,550.9 641,546.1 644.9,541.4 648.7,536.7 652.6,532.2 656.4,527.6 660.3,523.2 664.2,518.8 668,514.6 671.9,510.4 675.7,506.2 679.6,502.1 683.5,497.9 687.3,493.7 691.2,489.5 695,485.6 698.9,481.8 702.7,478.2 706.6,474.8 710.5,471.4 714.3,468.2 718.2,464.9 722,461.7 725.9,458.6 729.8,455.6 733.6,452.7 737.5,450 741.3,447.4 745.2,444.7 749.1,442.1 752.9,439.5 756.8,436.9 760.6,434.2 764.5,431.9 768.4,430 772.2,428.4 776.1,427.2 779.9,426.5 783.8,425.9 787.7,425.6 791.5,425.3 795.4,425.2 799.2,425.1 803.1,425.1 807,425.1 810.8,425 814.7,425 818.5,425 822.4,425 826.3,425 830.1,424.9 834,424.9 837.8,424.8 841.7,424.8 845.6,424.8 849.4,424.7 853.3,424.7 857.1,424.6 861,424.5 864.8,424.5 868.7,424.4 872.6,424.3 876.4,424.3 880.3,424.2 884.1,424.1 888,424 891.9,423.9 895.7,423.9 899.6,423.8 903.4,423.7 907.3,423.6 911.2,423.5 915,423.4 918.9,423.3 922.7,423.1 926.6,423 930.5,422.9 934.3,422.8 938.2,422.7 942,422.5 945.9,422.4"/>
<polyline fill="none" stroke="#e020e6" stroke-width="2.7" stroke-linejoin="round" points="606.3,574.6 610.1,574.6 614,574.6 617.8,574.5 621.7,574.5 625.6,574.4 629.4,574.4 633.3,574.3 637.1,574.2 641,574.2 644.9,574.1 648.7,574 652.6,573.9 656.4,573.7 660.3,573.6 664.2,573.4 668,573.1 671.9,572.9 675.7,572.6 679.6,572.4 683.5,572.1 687.3,571.8 691.2,571.5 695,571.2 698.9,570.9 702.7,570.7 706.6,570.5 710.5,570.3 714.3,570.2 718.2,570.1 722,569.9 725.9,569.8 729.8,569.5 733.6,569.3 737.5,569 741.3,568.6 745.2,568.3 749.1,567.9 752.9,567.5 756.8,567.1 760.6,566.6 764.5,566.1 768.4,565.6 772.2,565 776.1,564.4 779.9,563.7 783.8,562.9 787.7,562.1 791.5,561.1 795.4,560.1 799.2,559.2 803.1,558.3 807,557.4 810.8,556.5 814.7,555.6 818.5,554.6 822.4,553.7 826.3,552.8 830.1,551.9 834,550.9 837.8,550 841.7,549.1 845.6,548.1 849.4,547.2 853.3,546.3 857.1,545.4 861,544.6 864.8,543.7 868.7,542.9 872.6,542.1 876.4,541.2 880.3,540.4 884.1,539.6 888,538.8 891.9,538 895.7,537.2 899.6,536.4 903.4,535.6 907.3,534.8 911.2,534 915,533.3 918.9,532.5 922.7,531.8 926.6,531 930.5,530.3 934.3,529.6 938.2,528.9 942,528.2 945.9,527.5"/>
<polyline fill="none" stroke="#a020e0" stroke-width="2.7" stroke-linejoin="round" points="606.3,574.8 610.1,574.7 614,574.7 617.8,574.6 621.7,574.5 625.6,574.4 629.4,574.3 633.3,574.2 637.1,574.1 641,574 644.9,573.9 648.7,573.7 652.6,573.6 656.4,573.4 660.3,573.2 664.2,573 668,572.7 671.9,572.5 675.7,572.2 679.6,571.9 683.5,571.6 687.3,571.3 691.2,571 695,570.6 698.9,570.3 702.7,570.1 706.6,569.9 710.5,569.7 714.3,569.5 718.2,569.4 722,569.2 725.9,569 729.8,568.7 733.6,568.4 737.5,568.1 741.3,567.7 745.2,567.3 749.1,566.9 752.9,566.5 756.8,566.1 760.6,565.6 764.5,565.1 768.4,564.6 772.2,564 776.1,563.4 779.9,562.7 783.8,561.9 787.7,561 791.5,560.1 795.4,559.1 799.2,558.1 803.1,557.2 807,556.3 810.8,555.3 814.7,554.4 818.5,553.5 822.4,552.5 826.3,551.6 830.1,550.7 834,549.7 837.8,548.7 841.7,547.8 845.6,546.9 849.4,545.9 853.3,545 857.1,544.1 861,543.2 864.8,542.4 868.7,541.5 872.6,540.6 876.4,539.8 880.3,538.9 884.1,538.1 888,537.2 891.9,536.4 895.7,535.6 899.6,534.8 903.4,533.9 907.3,533.1 911.2,532.3 915,531.5 918.9,530.8 922.7,530 926.6,529.2 930.5,528.5 934.3,527.7 938.2,527 942,526.2 945.9,525.5"/>
<polyline fill="none" stroke="#6420e6" stroke-width="2.7" stroke-linejoin="round" points="606.3,574.9 610.1,574.8 614,574.7 617.8,574.6 621.7,574.5 625.6,574.4 629.4,574.3 633.3,574.1 637.1,574 641,573.8 644.9,573.7 648.7,573.5 652.6,573.4 656.4,573.2 660.3,573 664.2,572.7 668,572.5 671.9,572.2 675.7,571.9 679.6,571.6 683.5,571.3 687.3,571 691.2,570.6 695,570.3 698.9,569.9 702.7,569.7 706.6,569.4 710.5,569.2 714.3,569 718.2,568.8 722,568.6 725.9,568.4 729.8,568.1 733.6,567.8 737.5,567.4 741.3,567.1 745.2,566.7 749.1,566.2 752.9,565.8 756.8,565.4 760.6,564.9 764.5,564.4 768.4,563.9 772.2,563.3 776.1,562.7 779.9,562 783.8,561.2 787.7,560.3 791.5,559.3 795.4,558.3 799.2,557.3 803.1,556.4 807,555.5 810.8,554.5 814.7,553.6 818.5,552.7 822.4,551.7 826.3,550.8 830.1,549.8 834,548.8 837.8,547.9 841.7,546.9 845.6,546 849.4,545 853.3,544.1 857.1,543.2 861,542.3 864.8,541.4 868.7,540.5 872.6,539.6 876.4,538.8 880.3,537.9 884.1,537 888,536.2 891.9,535.3 895.7,534.5 899.6,533.6 903.4,532.8 907.3,532 911.2,531.2 915,530.3 918.9,529.5 922.7,528.7 926.6,527.9 930.5,527.2 934.3,526.4 938.2,525.6 942,524.8 945.9,524.1"/>
<polyline fill="none" stroke="#2a1eea" stroke-width="2.7" stroke-linejoin="round" points="606.3,575 610.1,574.9 614,574.8 617.8,574.7 621.7,574.5 625.6,574.4 629.4,574.2 633.3,574.1 637.1,573.9 641,573.7 644.9,573.6 648.7,573.4 652.6,573.2 656.4,573 660.3,572.8 664.2,572.5 668,572.3 671.9,572 675.7,571.7 679.6,571.4 683.5,571 687.3,570.7 691.2,570.4 695,570 698.9,569.6 702.7,569.3 706.6,569.1 710.5,568.9 714.3,568.7 718.2,568.5 722,568.2 725.9,568 729.8,567.7 733.6,567.3 737.5,567 741.3,566.6 745.2,566.1 749.1,565.7 752.9,565.3 756.8,564.8 760.6,564.3 764.5,563.8 768.4,563.3 772.2,562.7 776.1,562.1 779.9,561.4 783.8,560.7 787.7,559.8 791.5,558.8 795.4,557.8 799.2,556.8 803.1,555.8 807,554.9 810.8,553.9 814.7,553 818.5,552 822.4,551.1 826.3,550.1 830.1,549.2 834,548.2 837.8,547.2 841.7,546.3 845.6,545.3 849.4,544.3 853.3,543.4 857.1,542.5 861,541.6 864.8,540.7 868.7,539.8 872.6,538.9 876.4,538 880.3,537.1 884.1,536.2 888,535.4 891.9,534.5 895.7,533.6 899.6,532.8 903.4,531.9 907.3,531.1 911.2,530.3 915,529.4 918.9,528.6 922.7,527.8 926.6,527 930.5,526.2 934.3,525.4 938.2,524.6 942,523.8 945.9,523"/>
<polyline fill="none" stroke="#1d27ed" stroke-width="2.7" stroke-linejoin="round" points="606.3,575 610.1,574.9 614,574.8 617.8,574.7 621.7,574.5 625.6,574.4 629.4,574.2 633.3,574 637.1,573.9 641,573.7 644.9,573.5 648.7,573.3 652.6,573.1 656.4,572.9 660.3,572.7 664.2,572.4 668,572.1 671.9,571.9 675.7,571.6 679.6,571.2 683.5,570.9 687.3,570.6 691.2,570.2 695,569.8 698.9,569.5 702.7,569.2 706.6,568.9 710.5,568.7 714.3,568.5 718.2,568.3 722,568 725.9,567.8 729.8,567.5 733.6,567.1 737.5,566.7 741.3,566.3 745.2,565.9 749.1,565.4 752.9,565 756.8,564.5 760.6,564.1 764.5,563.6 768.4,563 772.2,562.5 776.1,561.8 779.9,561.2 783.8,560.4 787.7,559.5 791.5,558.5 795.4,557.5 799.2,556.5 803.1,555.5 807,554.6 810.8,553.6 814.7,552.7 818.5,551.7 822.4,550.8 826.3,549.8 830.1,548.8 834,547.9 837.8,546.9 841.7,545.9 845.6,545 849.4,544 853.3,543.1 857.1,542.1 861,541.2 864.8,540.3 868.7,539.4 872.6,538.5 876.4,537.6 880.3,536.7 884.1,535.8 888,535 891.9,534.1 895.7,533.2 899.6,532.4 903.4,531.5 907.3,530.6 911.2,529.8 915,529 918.9,528.1 922.7,527.3 926.6,526.5 930.5,525.7 934.3,524.9 938.2,524.1 942,523.3 945.9,522.5"/>
<polyline fill="none" stroke="#1030f0" stroke-width="2.7" stroke-linejoin="round" points="606.3,575.1 610.1,575 614,574.8 617.8,574.7 621.7,574.5 625.6,574.4 629.4,574.2 633.3,574 637.1,573.8 641,573.6 644.9,573.5 648.7,573.3 652.6,573.1 656.4,572.8 660.3,572.6 664.2,572.3 668,572 671.9,571.7 675.7,571.4 679.6,571.1 683.5,570.8 687.3,570.5 691.2,570.1 695,569.7 698.9,569.3 702.7,569 706.6,568.8 710.5,568.5 714.3,568.3 718.2,568.1 722,567.8 725.9,567.6 729.8,567.2 733.6,566.9 737.5,566.5 741.3,566.1 745.2,565.6 749.1,565.2 752.9,564.7 756.8,564.3 760.6,563.8 764.5,563.3 768.4,562.8 772.2,562.2 776.1,561.6 779.9,560.9 783.8,560.1 787.7,559.2 791.5,558.2 795.4,557.2 799.2,556.2 803.1,555.2 807,554.3 810.8,553.3 814.7,552.4 818.5,551.4 822.4,550.5 826.3,549.5 830.1,548.5 834,547.5 837.8,546.6 841.7,545.6 845.6,544.6 849.4,543.7 853.3,542.7 857.1,541.8 861,540.9 864.8,539.9 868.7,539 872.6,538.1 876.4,537.2 880.3,536.3 884.1,535.4 888,534.6 891.9,533.7 895.7,532.8 899.6,531.9 903.4,531.1 907.3,530.2 911.2,529.3 915,528.5 918.9,527.7 922.7,526.8 926.6,526 930.5,525.2 934.3,524.4 938.2,523.5 942,522.7 945.9,521.9"/>
<polyline fill="none" stroke="#124af2" stroke-width="2.7" stroke-linejoin="round" points="606.3,575.1 610.1,575 614,574.8 617.8,574.7 621.7,574.5 625.6,574.4 629.4,574.2 633.3,574 637.1,573.8 641,573.6 644.9,573.4 648.7,573.2 652.6,573 656.4,572.8 660.3,572.5 664.2,572.2 668,572 671.9,571.7 675.7,571.3 679.6,571 683.5,570.7 687.3,570.4 691.2,570 695,569.6 698.9,569.2 702.7,568.9 706.6,568.6 710.5,568.4 714.3,568.1 718.2,567.9 722,567.7 725.9,567.4 729.8,567.1 733.6,566.7 737.5,566.3 741.3,565.9 745.2,565.4 749.1,565 752.9,564.5 756.8,564 760.6,563.6 764.5,563.1 768.4,562.5 772.2,562 776.1,561.4 779.9,560.7 783.8,559.9 787.7,559 791.5,558 795.4,557 799.2,556 803.1,555 807,554 810.8,553.1 814.7,552.1 818.5,551.2 822.4,550.2 826.3,549.2 830.1,548.3 834,547.3 837.8,546.3 841.7,545.3 845.6,544.3 849.4,543.4 853.3,542.4 857.1,541.5 861,540.6 864.8,539.6 868.7,538.7 872.6,537.8 876.4,536.9 880.3,536 884.1,535.1 888,534.2 891.9,533.3 895.7,532.5 899.6,531.6 903.4,530.7 907.3,529.8 911.2,529 915,528.1 918.9,527.3 922.7,526.4 926.6,525.6 930.5,524.8 934.3,523.9 938.2,523.1 942,522.3 945.9,521.5"/>
<polyline fill="none" stroke="#1464f5" stroke-width="2.7" stroke-linejoin="round" points="606.3,575.2 610.1,575 614,574.9 617.8,574.7 621.7,574.5 625.6,574.4 629.4,574.2 633.3,574 637.1,573.8 641,573.6 644.9,573.4 648.7,573.1 652.6,572.9 656.4,572.7 660.3,572.4 664.2,572.2 668,571.9 671.9,571.6 675.7,571.3 679.6,570.9 683.5,570.6 687.3,570.3 691.2,569.9 695,569.5 698.9,569.1 702.7,568.8 706.6,568.5 710.5,568.2 714.3,568 718.2,567.8 722,567.5 725.9,567.2 729.8,566.9 733.6,566.5 737.5,566.1 741.3,565.7 745.2,565.2 749.1,564.8 752.9,564.3 756.8,563.8 760.6,563.3 764.5,562.8 768.4,562.3 772.2,561.7 776.1,561.1 779.9,560.5 783.8,559.7 787.7,558.8 791.5,557.8 795.4,556.7 799.2,555.7 803.1,554.8 807,553.8 810.8,552.8 814.7,551.9 818.5,550.9 822.4,549.9 826.3,549 830.1,548 834,547 837.8,546 841.7,545 845.6,544.1 849.4,543.1 853.3,542.1 857.1,541.2 861,540.3 864.8,539.3 868.7,538.4 872.6,537.5 876.4,536.6 880.3,535.7 884.1,534.8 888,533.9 891.9,533 895.7,532.1 899.6,531.2 903.4,530.3 907.3,529.5 911.2,528.6 915,527.7 918.9,526.9 922.7,526 926.6,525.2 930.5,524.4 934.3,523.5 938.2,522.7 942,521.9 945.9,521.1"/>
<polyline fill="none" stroke="#197ff5" stroke-width="2.7" stroke-linejoin="round" points="606.3,575.2 610.1,575 614,574.9 617.8,574.7 621.7,574.5 625.6,574.3 629.4,574.1 633.3,573.9 637.1,573.7 641,573.5 644.9,573.3 648.7,573.1 652.6,572.9 656.4,572.6 660.3,572.4 664.2,572.1 668,571.8 671.9,571.5 675.7,571.2 679.6,570.8 683.5,570.5 687.3,570.2 691.2,569.8 695,569.4 698.9,569 702.7,568.6 706.6,568.4 710.5,568.1 714.3,567.9 718.2,567.6 722,567.3 725.9,567 729.8,566.7 733.6,566.3 737.5,565.9 741.3,565.5 745.2,565 749.1,564.6 752.9,564.1 756.8,563.6 760.6,563.1 764.5,562.6 768.4,562.1 772.2,561.6 776.1,560.9 779.9,560.3 783.8,559.5 787.7,558.6 791.5,557.6 795.4,556.5 799.2,555.5 803.1,554.6 807,553.6 810.8,552.6 814.7,551.7 818.5,550.7 822.4,549.7 826.3,548.7 830.1,547.8 834,546.8 837.8,545.8 841.7,544.8 845.6,543.8 849.4,542.8 853.3,541.9 857.1,540.9 861,540 864.8,539.1 868.7,538.2 872.6,537.2 876.4,536.3 880.3,535.4 884.1,534.5 888,533.6 891.9,532.7 895.7,531.8 899.6,530.9 903.4,530 907.3,529.2 911.2,528.3 915,527.4 918.9,526.5 922.7,525.7 926.6,524.8 930.5,524 934.3,523.2 938.2,522.3 942,521.5 945.9,520.7"/>
<polyline fill="none" stroke="#1e9af5" stroke-width="2.7" stroke-linejoin="round" points="606.3,575.2 610.1,575.1 614,574.9 617.8,574.7 621.7,574.5 625.6,574.3 629.4,574.1 633.3,573.9 637.1,573.7 641,573.5 644.9,573.3 648.7,573 652.6,572.8 656.4,572.6 660.3,572.3 664.2,572 668,571.7 671.9,571.4 675.7,571.1 679.6,570.8 683.5,570.4 687.3,570.1 691.2,569.7 695,569.3 698.9,568.9 702.7,568.5 706.6,568.2 710.5,568 714.3,567.7 718.2,567.5 722,567.2 725.9,566.9 729.8,566.5 733.6,566.2 737.5,565.7 741.3,565.3 745.2,564.8 749.1,564.4 752.9,563.9 756.8,563.4 760.6,562.9 764.5,562.4 768.4,561.9 772.2,561.4 776.1,560.7 779.9,560.1 783.8,559.3 787.7,558.4 791.5,557.4 795.4,556.3 799.2,555.3 803.1,554.3 807,553.4 810.8,552.4 814.7,551.4 818.5,550.5 822.4,549.5 826.3,548.5 830.1,547.5 834,546.5 837.8,545.5 841.7,544.6 845.6,543.6 849.4,542.6 853.3,541.6 857.1,540.7 861,539.7 864.8,538.8 868.7,537.9 872.6,537 876.4,536 880.3,535.1 884.1,534.2 888,533.3 891.9,532.4 895.7,531.5 899.6,530.6 903.4,529.7 907.3,528.8 911.2,528 915,527.1 918.9,526.2 922.7,525.3 926.6,524.5 930.5,523.6 934.3,522.8 938.2,522 942,521.1 945.9,520.3"/>
<polyline fill="none" stroke="#23b6f2" stroke-width="2.7" stroke-linejoin="round" points="606.3,575.3 610.1,575.1 614,574.9 617.8,574.7 621.7,574.5 625.6,574.3 629.4,574.1 633.3,573.9 637.1,573.7 641,573.5 644.9,573.2 648.7,573 652.6,572.8 656.4,572.5 660.3,572.2 664.2,571.9 668,571.6 671.9,571.3 675.7,571 679.6,570.7 683.5,570.3 687.3,570 691.2,569.6 695,569.2 698.9,568.8 702.7,568.4 706.6,568.1 710.5,567.9 714.3,567.6 718.2,567.3 722,567.1 725.9,566.7 729.8,566.4 733.6,566 737.5,565.6 741.3,565.1 745.2,564.7 749.1,564.2 752.9,563.7 756.8,563.2 760.6,562.7 764.5,562.2 768.4,561.7 772.2,561.2 776.1,560.6 779.9,559.9 783.8,559.1 787.7,558.2 791.5,557.2 795.4,556.1 799.2,555.1 803.1,554.1 807,553.2 810.8,552.2 814.7,551.2 818.5,550.2 822.4,549.3 826.3,548.3 830.1,547.3 834,546.3 837.8,545.3 841.7,544.3 845.6,543.3 849.4,542.3 853.3,541.4 857.1,540.4 861,539.5 864.8,538.5 868.7,537.6 872.6,536.7 876.4,535.8 880.3,534.8 884.1,533.9 888,533 891.9,532.1 895.7,531.2 899.6,530.3 903.4,529.4 907.3,528.5 911.2,527.6 915,526.7 918.9,525.9 922.7,525 926.6,524.1 930.5,523.3 934.3,522.4 938.2,521.6 942,520.7 945.9,519.9"/>
<polyline fill="none" stroke="#28d2f0" stroke-width="2.7" stroke-linejoin="round" points="606.3,575.3 610.1,575.1 614,574.9 617.8,574.7 621.7,574.5 625.6,574.3 629.4,574.1 633.3,573.9 637.1,573.7 641,573.4 644.9,573.2 648.7,572.9 652.6,572.7 656.4,572.4 660.3,572.2 664.2,571.9 668,571.6 671.9,571.3 675.7,570.9 679.6,570.6 683.5,570.2 687.3,569.9 691.2,569.5 695,569.1 698.9,568.6 702.7,568.3 706.6,568 710.5,567.7 714.3,567.5 718.2,567.2 722,566.9 725.9,566.6 729.8,566.2 733.6,565.8 737.5,565.4 741.3,564.9 745.2,564.5 749.1,564 752.9,563.5 756.8,563 760.6,562.5 764.5,562.1 768.4,561.5 772.2,561 776.1,560.4 779.9,559.7 783.8,558.9 787.7,558 791.5,557 795.4,555.9 799.2,554.9 803.1,553.9 807,553 810.8,552 814.7,551 818.5,550 822.4,549 826.3,548 830.1,547.1 834,546.1 837.8,545.1 841.7,544.1 845.6,543.1 849.4,542.1 853.3,541.1 857.1,540.2 861,539.2 864.8,538.3 868.7,537.4 872.6,536.4 876.4,535.5 880.3,534.6 884.1,533.6 888,532.7 891.9,531.8 895.7,530.9 899.6,530 903.4,529.1 907.3,528.2 911.2,527.3 915,526.4 918.9,525.5 922.7,524.7 926.6,523.8 930.5,522.9 934.3,522.1 938.2,521.2 942,520.4 945.9,519.5"/>
<polyline fill="none" stroke="#2ddce1" stroke-width="2.7" stroke-linejoin="round" points="606.3,575.3 610.1,575.2 614,575 617.8,574.8 621.7,574.5 625.6,574.3 629.4,574.1 633.3,573.9 637.1,573.6 641,573.4 644.9,573.1 648.7,572.9 652.6,572.6 656.4,572.4 660.3,572.1 664.2,571.8 668,571.5 671.9,571.2 675.7,570.8 679.6,570.5 683.5,570.1 687.3,569.8 691.2,569.4 695,568.9 698.9,568.5 702.7,568.2 706.6,567.9 710.5,567.6 714.3,567.3 718.2,567.1 722,566.8 725.9,566.4 729.8,566.1 733.6,565.7 737.5,565.2 741.3,564.8 745.2,564.3 749.1,563.8 752.9,563.3 756.8,562.8 760.6,562.3 764.5,561.9 768.4,561.3 772.2,560.8 776.1,560.2 779.9,559.5 783.8,558.7 787.7,557.8 791.5,556.8 795.4,555.7 799.2,554.7 803.1,553.7 807,552.7 810.8,551.8 814.7,550.8 818.5,549.8 822.4,548.8 826.3,547.8 830.1,546.8 834,545.8 837.8,544.8 841.7,543.8 845.6,542.8 849.4,541.9 853.3,540.9 857.1,539.9 861,539 864.8,538 868.7,537.1 872.6,536.1 876.4,535.2 880.3,534.3 884.1,533.3 888,532.4 891.9,531.5 895.7,530.6 899.6,529.7 903.4,528.8 907.3,527.9 911.2,527 915,526.1 918.9,525.2 922.7,524.3 926.6,523.4 930.5,522.6 934.3,521.7 938.2,520.8 942,520 945.9,519.1"/>
<polyline fill="none" stroke="#32e6d2" stroke-width="2.7" stroke-linejoin="round" points="606.3,575.4 610.1,575.2 614,575 617.8,574.8 621.7,574.6 625.6,574.3 629.4,574.1 633.3,573.8 637.1,573.6 641,573.3 644.9,573.1 648.7,572.8 652.6,572.6 656.4,572.3 660.3,572 664.2,571.7 668,571.4 671.9,571.1 675.7,570.8 679.6,570.4 683.5,570.1 687.3,569.7 691.2,569.3 695,568.8 698.9,568.4 702.7,568.1 706.6,567.8 710.5,567.5 714.3,567.2 718.2,566.9 722,566.6 725.9,566.3 729.8,565.9 733.6,565.5 737.5,565.1 741.3,564.6 745.2,564.1 749.1,563.6 752.9,563.1 756.8,562.6 760.6,562.1 764.5,561.6 768.4,561.1 772.2,560.6 776.1,560 779.9,559.3 783.8,558.5 787.7,557.6 791.5,556.5 795.4,555.5 799.2,554.5 803.1,553.5 807,552.5 810.8,551.5 814.7,550.5 818.5,549.6 822.4,548.6 826.3,547.6 830.1,546.6 834,545.6 837.8,544.6 841.7,543.6 845.6,542.6 849.4,541.6 853.3,540.6 857.1,539.7 861,538.7 864.8,537.8 868.7,536.8 872.6,535.9 876.4,534.9 880.3,534 884.1,533.1 888,532.1 891.9,531.2 895.7,530.3 899.6,529.4 903.4,528.5 907.3,527.5 911.2,526.6 915,525.7 918.9,524.8 922.7,524 926.6,523.1 930.5,522.2 934.3,521.3 938.2,520.5 942,519.6 945.9,518.7"/>
<polyline fill="none" stroke="#37ebbe" stroke-width="2.7" stroke-linejoin="round" points="606.3,575.4 610.1,575.2 614,575 617.8,574.8 621.7,574.6 625.6,574.3 629.4,574.1 633.3,573.8 637.1,573.6 641,573.3 644.9,573.1 648.7,572.8 652.6,572.5 656.4,572.3 660.3,572 664.2,571.7 668,571.3 671.9,571 675.7,570.7 679.6,570.3 683.5,570 687.3,569.6 691.2,569.2 695,568.7 698.9,568.3 702.7,568 706.6,567.6 710.5,567.3 714.3,567.1 718.2,566.8 722,566.5 725.9,566.1 729.8,565.7 733.6,565.3 737.5,564.9 741.3,564.4 745.2,563.9 749.1,563.4 752.9,562.9 756.8,562.4 760.6,562 764.5,561.5 768.4,560.9 772.2,560.4 776.1,559.8 779.9,559.1 783.8,558.3 787.7,557.4 791.5,556.3 795.4,555.3 799.2,554.3 803.1,553.3 807,552.3 810.8,551.3 814.7,550.3 818.5,549.3 822.4,548.3 826.3,547.4 830.1,546.4 834,545.3 837.8,544.3 841.7,543.3 845.6,542.3 849.4,541.4 853.3,540.4 857.1,539.4 861,538.4 864.8,537.5 868.7,536.5 872.6,535.6 876.4,534.6 880.3,533.7 884.1,532.8 888,531.8 891.9,530.9 895.7,530 899.6,529.1 903.4,528.1 907.3,527.2 911.2,526.3 915,525.4 918.9,524.5 922.7,523.6 926.6,522.7 930.5,521.8 934.3,521 938.2,520.1 942,519.2 945.9,518.4"/>
<polyline fill="none" stroke="#3cf0aa" stroke-width="2.7" stroke-linejoin="round" points="606.3,575.4 610.1,575.2 614,575 617.8,574.8 621.7,574.6 625.6,574.3 629.4,574.1 633.3,573.8 637.1,573.5 641,573.3 644.9,573 648.7,572.7 652.6,572.5 656.4,572.2 660.3,571.9 664.2,571.6 668,571.3 671.9,570.9 675.7,570.6 679.6,570.2 683.5,569.9 687.3,569.5 691.2,569.1 695,568.6 698.9,568.2 702.7,567.9 706.6,567.5 710.5,567.2 714.3,566.9 718.2,566.6 722,566.3 725.9,566 729.8,565.6 733.6,565.2 737.5,564.7 741.3,564.2 745.2,563.7 749.1,563.2 752.9,562.7 756.8,562.2 760.6,561.8 764.5,561.3 768.4,560.7 772.2,560.2 776.1,559.6 779.9,558.9 783.8,558.1 787.7,557.2 791.5,556.2 795.4,555.1 799.2,554.1 803.1,553.1 807,552.1 810.8,551.1 814.7,550.1 818.5,549.1 822.4,548.1 826.3,547.1 830.1,546.1 834,545.1 837.8,544.1 841.7,543.1 845.6,542.1 849.4,541.1 853.3,540.1 857.1,539.1 861,538.2 864.8,537.2 868.7,536.3 872.6,535.3 876.4,534.4 880.3,533.4 884.1,532.5 888,531.5 891.9,530.6 895.7,529.7 899.6,528.8 903.4,527.8 907.3,526.9 911.2,526 915,525.1 918.9,524.2 922.7,523.3 926.6,522.4 930.5,521.5 934.3,520.6 938.2,519.7 942,518.8 945.9,518"/>
<polyline fill="none" stroke="#50f091" stroke-width="2.7" stroke-linejoin="round" points="606.3,575.5 610.1,575.3 614,575 617.8,574.8 621.7,574.6 625.6,574.3 629.4,574 633.3,573.8 637.1,573.5 641,573.2 644.9,573 648.7,572.7 652.6,572.4 656.4,572.1 660.3,571.8 664.2,571.5 668,571.2 671.9,570.9 675.7,570.5 679.6,570.2 683.5,569.8 687.3,569.4 691.2,569 695,568.5 698.9,568.1 702.7,567.7 706.6,567.4 710.5,567.1 714.3,566.8 718.2,566.5 722,566.2 725.9,565.8 729.8,565.4 733.6,565 737.5,564.5 741.3,564.1 745.2,563.6 749.1,563.1 752.9,562.6 756.8,562.1 760.6,561.6 764.5,561.1 768.4,560.6 772.2,560 776.1,559.4 779.9,558.7 783.8,557.9 787.7,557 791.5,556 795.4,554.9 799.2,553.9 803.1,552.9 807,551.9 810.8,550.9 814.7,549.9 818.5,548.9 822.4,547.9 826.3,546.9 830.1,545.9 834,544.9 837.8,543.9 841.7,542.9 845.6,541.9 849.4,540.9 853.3,539.9 857.1,538.9 861,537.9 864.8,537 868.7,536 872.6,535.1 876.4,534.1 880.3,533.2 884.1,532.2 888,531.3 891.9,530.3 895.7,529.4 899.6,528.5 903.4,527.5 907.3,526.6 911.2,525.7 915,524.8 918.9,523.9 922.7,522.9 926.6,522 930.5,521.1 934.3,520.3 938.2,519.4 942,518.5 945.9,517.6"/>
<polyline fill="none" stroke="#64f078" stroke-width="2.7" stroke-linejoin="round" points="606.3,575.5 610.1,575.3 614,575.1 617.8,574.8 621.7,574.6 625.6,574.3 629.4,574 633.3,573.8 637.1,573.5 641,573.2 644.9,572.9 648.7,572.6 652.6,572.4 656.4,572.1 660.3,571.8 664.2,571.4 668,571.1 671.9,570.8 675.7,570.4 679.6,570.1 683.5,569.7 687.3,569.3 691.2,568.9 695,568.4 698.9,568 702.7,567.6 706.6,567.3 710.5,567 714.3,566.7 718.2,566.4 722,566 725.9,565.7 729.8,565.3 733.6,564.8 737.5,564.4 741.3,563.9 745.2,563.4 749.1,562.9 752.9,562.4 756.8,561.9 760.6,561.4 764.5,560.9 768.4,560.4 772.2,559.8 776.1,559.2 779.9,558.5 783.8,557.7 787.7,556.8 791.5,555.8 795.4,554.7 799.2,553.7 803.1,552.7 807,551.7 810.8,550.7 814.7,549.7 818.5,548.7 822.4,547.7 826.3,546.7 830.1,545.7 834,544.7 837.8,543.7 841.7,542.6 845.6,541.6 849.4,540.6 853.3,539.6 857.1,538.7 861,537.7 864.8,536.7 868.7,535.8 872.6,534.8 876.4,533.8 880.3,532.9 884.1,531.9 888,531 891.9,530 895.7,529.1 899.6,528.2 903.4,527.2 907.3,526.3 911.2,525.4 915,524.4 918.9,523.5 922.7,522.6 926.6,521.7 930.5,520.8 934.3,519.9 938.2,519 942,518.1 945.9,517.2"/>
<polyline fill="none" stroke="#82f064" stroke-width="2.7" stroke-linejoin="round" points="606.3,575.5 610.1,575.3 614,575.1 617.8,574.8 621.7,574.6 625.6,574.3 629.4,574 633.3,573.7 637.1,573.5 641,573.2 644.9,572.9 648.7,572.6 652.6,572.3 656.4,572 660.3,571.7 664.2,571.4 668,571 671.9,570.7 675.7,570.4 679.6,570 683.5,569.6 687.3,569.2 691.2,568.8 695,568.3 698.9,567.9 702.7,567.5 706.6,567.2 710.5,566.9 714.3,566.5 718.2,566.2 722,565.9 725.9,565.5 729.8,565.1 733.6,564.7 737.5,564.2 741.3,563.7 745.2,563.2 749.1,562.7 752.9,562.2 756.8,561.7 760.6,561.2 764.5,560.7 768.4,560.2 772.2,559.6 776.1,559 779.9,558.3 783.8,557.5 787.7,556.6 791.5,555.6 795.4,554.5 799.2,553.5 803.1,552.5 807,551.5 810.8,550.5 814.7,549.5 818.5,548.5 822.4,547.5 826.3,546.5 830.1,545.5 834,544.4 837.8,543.4 841.7,542.4 845.6,541.4 849.4,540.4 853.3,539.4 857.1,538.4 861,537.4 864.8,536.5 868.7,535.5 872.6,534.5 876.4,533.6 880.3,532.6 884.1,531.7 888,530.7 891.9,529.8 895.7,528.8 899.6,527.9 903.4,526.9 907.3,526 911.2,525.1 915,524.1 918.9,523.2 922.7,522.3 926.6,521.4 930.5,520.5 934.3,519.5 938.2,518.6 942,517.8 945.9,516.9"/>
<polyline fill="none" stroke="#a0f050" stroke-width="2.7" stroke-linejoin="round" points="606.3,575.6 610.1,575.3 614,575.1 617.8,574.8 621.7,574.6 625.6,574.3 629.4,574 633.3,573.7 637.1,573.4 641,573.1 644.9,572.8 648.7,572.5 652.6,572.3 656.4,571.9 660.3,571.6 664.2,571.3 668,571 671.9,570.6 675.7,570.3 679.6,569.9 683.5,569.5 687.3,569.1 691.2,568.7 695,568.2 698.9,567.8 702.7,567.4 706.6,567.1 710.5,566.7 714.3,566.4 718.2,566.1 722,565.8 725.9,565.4 729.8,565 733.6,564.5 737.5,564 741.3,563.5 745.2,563 749.1,562.5 752.9,562 756.8,561.5 760.6,561 764.5,560.5 768.4,560 772.2,559.4 776.1,558.8 779.9,558.2 783.8,557.4 787.7,556.4 791.5,555.4 795.4,554.3 799.2,553.3 803.1,552.3 807,551.3 810.8,550.3 814.7,549.3 818.5,548.3 822.4,547.3 826.3,546.2 830.1,545.2 834,544.2 837.8,543.2 841.7,542.2 845.6,541.2 849.4,540.2 853.3,539.2 857.1,538.2 861,537.2 864.8,536.2 868.7,535.2 872.6,534.3 876.4,533.3 880.3,532.3 884.1,531.4 888,530.4 891.9,529.5 895.7,528.5 899.6,527.6 903.4,526.6 907.3,525.7 911.2,524.7 915,523.8 918.9,522.9 922.7,522 926.6,521 930.5,520.1 934.3,519.2 938.2,518.3 942,517.4 945.9,516.5"/>
<polyline fill="none" stroke="#bcf046" stroke-width="2.7" stroke-linejoin="round" points="606.3,575.6 610.1,575.4 614,575.1 617.8,574.8 621.7,574.6 625.6,574.3 629.4,574 633.3,573.7 637.1,573.4 641,573.1 644.9,572.8 648.7,572.5 652.6,572.2 656.4,571.9 660.3,571.6 664.2,571.2 668,570.9 671.9,570.6 675.7,570.2 679.6,569.8 683.5,569.4 687.3,569.1 691.2,568.6 695,568.1 698.9,567.7 702.7,567.3 706.6,566.9 710.5,566.6 714.3,566.3 718.2,565.9 722,565.6 725.9,565.2 729.8,564.8 733.6,564.4 737.5,563.9 741.3,563.4 745.2,562.8 749.1,562.3 752.9,561.8 756.8,561.3 760.6,560.8 764.5,560.3 768.4,559.8 772.2,559.2 776.1,558.6 779.9,558 783.8,557.2 787.7,556.2 791.5,555.2 795.4,554.1 799.2,553.1 803.1,552.1 807,551.1 810.8,550 814.7,549 818.5,548 822.4,547 826.3,546 830.1,545 834,544 837.8,542.9 841.7,541.9 845.6,540.9 849.4,539.9 853.3,538.9 857.1,537.9 861,536.9 864.8,535.9 868.7,535 872.6,534 876.4,533 880.3,532.1 884.1,531.1 888,530.1 891.9,529.2 895.7,528.2 899.6,527.2 903.4,526.3 907.3,525.3 911.2,524.4 915,523.5 918.9,522.5 922.7,521.6 926.6,520.7 930.5,519.7 934.3,518.8 938.2,517.9 942,517 945.9,516.1"/>
<polyline fill="none" stroke="#d8f03c" stroke-width="2.7" stroke-linejoin="round" points="606.3,575.6 610.1,575.4 614,575.1 617.8,574.9 621.7,574.6 625.6,574.3 629.4,574 633.3,573.7 637.1,573.4 641,573.1 644.9,572.8 648.7,572.4 652.6,572.1 656.4,571.8 660.3,571.5 664.2,571.2 668,570.8 671.9,570.5 675.7,570.1 679.6,569.7 683.5,569.4 687.3,569 691.2,568.5 695,568 698.9,567.6 702.7,567.2 706.6,566.8 710.5,566.5 714.3,566.1 718.2,565.8 722,565.4 725.9,565.1 729.8,564.6 733.6,564.2 737.5,563.7 741.3,563.2 745.2,562.6 749.1,562.1 752.9,561.6 756.8,561.1 760.6,560.6 764.5,560.1 768.4,559.6 772.2,559 776.1,558.4 779.9,557.8 783.8,557 787.7,556 791.5,555 795.4,553.9 799.2,552.8 803.1,551.8 807,550.8 810.8,549.8 814.7,548.8 818.5,547.8 822.4,546.8 826.3,545.8 830.1,544.7 834,543.7 837.8,542.7 841.7,541.7 845.6,540.7 849.4,539.6 853.3,538.6 857.1,537.6 861,536.7 864.8,535.7 868.7,534.7 872.6,533.7 876.4,532.7 880.3,531.8 884.1,530.8 888,529.8 891.9,528.8 895.7,527.9 899.6,526.9 903.4,526 907.3,525 911.2,524.1 915,523.1 918.9,522.2 922.7,521.2 926.6,520.3 930.5,519.4 934.3,518.4 938.2,517.5 942,516.6 945.9,515.7"/>
<polyline fill="none" stroke="#e9f037" stroke-width="2.7" stroke-linejoin="round" points="606.3,575.7 610.1,575.4 614,575.1 617.8,574.9 621.7,574.6 625.6,574.3 629.4,574 633.3,573.7 637.1,573.3 641,573 644.9,572.7 648.7,572.4 652.6,572.1 656.4,571.8 660.3,571.4 664.2,571.1 668,570.7 671.9,570.4 675.7,570 679.6,569.6 683.5,569.3 687.3,568.9 691.2,568.4 695,567.9 698.9,567.5 702.7,567.1 706.6,566.7 710.5,566.3 714.3,566 718.2,565.7 722,565.3 725.9,564.9 729.8,564.5 733.6,564 737.5,563.5 741.3,563 745.2,562.5 749.1,561.9 752.9,561.4 756.8,560.9 760.6,560.4 764.5,559.9 768.4,559.4 772.2,558.8 776.1,558.2 779.9,557.6 783.8,556.7 787.7,555.8 791.5,554.8 795.4,553.7 799.2,552.6 803.1,551.6 807,550.6 810.8,549.6 814.7,548.6 818.5,547.6 822.4,546.5 826.3,545.5 830.1,544.5 834,543.5 837.8,542.4 841.7,541.4 845.6,540.4 849.4,539.4 853.3,538.4 857.1,537.4 861,536.4 864.8,535.4 868.7,534.4 872.6,533.4 876.4,532.4 880.3,531.5 884.1,530.5 888,529.5 891.9,528.5 895.7,527.6 899.6,526.6 903.4,525.6 907.3,524.7 911.2,523.7 915,522.8 918.9,521.8 922.7,520.9 926.6,519.9 930.5,519 934.3,518.1 938.2,517.1 942,516.2 945.9,515.3"/>
<polyline fill="none" stroke="#faf032" stroke-width="2.7" stroke-linejoin="round" points="606.3,575.7 610.1,575.4 614,575.2 617.8,574.9 621.7,574.6 625.6,574.3 629.4,574 633.3,573.6 637.1,573.3 641,573 644.9,572.7 648.7,572.3 652.6,572 656.4,571.7 660.3,571.4 664.2,571 668,570.7 671.9,570.3 675.7,569.9 679.6,569.6 683.5,569.2 687.3,568.8 691.2,568.3 695,567.8 698.9,567.3 702.7,566.9 706.6,566.6 710.5,566.2 714.3,565.9 718.2,565.5 722,565.1 725.9,564.7 729.8,564.3 733.6,563.8 737.5,563.3 741.3,562.8 745.2,562.3 749.1,561.7 752.9,561.2 756.8,560.7 760.6,560.2 764.5,559.7 768.4,559.2 772.2,558.6 776.1,558 779.9,557.3 783.8,556.5 787.7,555.6 791.5,554.5 795.4,553.5 799.2,552.4 803.1,551.4 807,550.4 810.8,549.4 814.7,548.3 818.5,547.3 822.4,546.3 826.3,545.3 830.1,544.3 834,543.2 837.8,542.2 841.7,541.2 845.6,540.1 849.4,539.1 853.3,538.1 857.1,537.1 861,536.1 864.8,535.1 868.7,534.1 872.6,533.1 876.4,532.1 880.3,531.2 884.1,530.2 888,529.2 891.9,528.2 895.7,527.3 899.6,526.3 903.4,525.3 907.3,524.3 911.2,523.4 915,522.4 918.9,521.5 922.7,520.5 926.6,519.6 930.5,518.6 934.3,517.7 938.2,516.7 942,515.8 945.9,514.9"/>
<polyline fill="none" stroke="#fce128" stroke-width="2.7" stroke-linejoin="round" points="606.3,575.7 610.1,575.5 614,575.2 617.8,574.9 621.7,574.6 625.6,574.3 629.4,573.9 633.3,573.6 637.1,573.3 641,572.9 644.9,572.6 648.7,572.3 652.6,572 656.4,571.6 660.3,571.3 664.2,570.9 668,570.6 671.9,570.2 675.7,569.8 679.6,569.5 683.5,569.1 687.3,568.7 691.2,568.2 695,567.7 698.9,567.2 702.7,566.8 706.6,566.4 710.5,566.1 714.3,565.7 718.2,565.4 722,565 725.9,564.6 729.8,564.1 733.6,563.6 737.5,563.1 741.3,562.6 745.2,562.1 749.1,561.5 752.9,561 756.8,560.5 760.6,560 764.5,559.5 768.4,558.9 772.2,558.4 776.1,557.8 779.9,557.1 783.8,556.3 787.7,555.4 791.5,554.3 795.4,553.2 799.2,552.2 803.1,551.2 807,550.2 810.8,549.1 814.7,548.1 818.5,547.1 822.4,546.1 826.3,545 830.1,544 834,543 837.8,541.9 841.7,540.9 845.6,539.9 849.4,538.9 853.3,537.8 857.1,536.8 861,535.8 864.8,534.8 868.7,533.8 872.6,532.8 876.4,531.8 880.3,530.9 884.1,529.9 888,528.9 891.9,527.9 895.7,526.9 899.6,525.9 903.4,525 907.3,524 911.2,523 915,522.1 918.9,521.1 922.7,520.1 926.6,519.2 930.5,518.2 934.3,517.3 938.2,516.3 942,515.4 945.9,514.4"/>
<polyline fill="none" stroke="#ffd21e" stroke-width="2.7" stroke-linejoin="round" points="606.3,575.8 610.1,575.5 614,575.2 617.8,574.9 621.7,574.6 625.6,574.3 629.4,573.9 633.3,573.6 637.1,573.3 641,572.9 644.9,572.6 648.7,572.2 652.6,571.9 656.4,571.5 660.3,571.2 664.2,570.9 668,570.5 671.9,570.1 675.7,569.8 679.6,569.4 683.5,569 687.3,568.6 691.2,568.1 695,567.6 698.9,567.1 702.7,566.7 706.6,566.3 710.5,565.9 714.3,565.6 718.2,565.2 722,564.8 725.9,564.4 729.8,564 733.6,563.5 737.5,562.9 741.3,562.4 745.2,561.9 749.1,561.3 752.9,560.8 756.8,560.2 760.6,559.7 764.5,559.2 768.4,558.7 772.2,558.2 776.1,557.6 779.9,556.9 783.8,556.1 787.7,555.2 791.5,554.1 795.4,553 799.2,552 803.1,550.9 807,549.9 810.8,548.9 814.7,547.9 818.5,546.8 822.4,545.8 826.3,544.8 830.1,543.7 834,542.7 837.8,541.7 841.7,540.6 845.6,539.6 849.4,538.6 853.3,537.6 857.1,536.5 861,535.5 864.8,534.5 868.7,533.5 872.6,532.5 876.4,531.5 880.3,530.5 884.1,529.5 888,528.6 891.9,527.6 895.7,526.6 899.6,525.6 903.4,524.6 907.3,523.6 911.2,522.7 915,521.7 918.9,520.7 922.7,519.8 926.6,518.8 930.5,517.8 934.3,516.9 938.2,515.9 942,515 945.9,514"/>
<polyline fill="none" stroke="#ffbd1e" stroke-width="2.7" stroke-linejoin="round" points="606.3,575.8 610.1,575.5 614,575.2 617.8,574.9 621.7,574.6 625.6,574.3 629.4,573.9 633.3,573.6 637.1,573.2 641,572.9 644.9,572.5 648.7,572.2 652.6,571.8 656.4,571.5 660.3,571.1 664.2,570.8 668,570.4 671.9,570 675.7,569.7 679.6,569.3 683.5,568.9 687.3,568.4 691.2,568 695,567.5 698.9,567 702.7,566.6 706.6,566.2 710.5,565.8 714.3,565.4 718.2,565.1 722,564.7 725.9,564.2 729.8,563.8 733.6,563.3 737.5,562.8 741.3,562.2 745.2,561.7 749.1,561.1 752.9,560.5 756.8,560 760.6,559.5 764.5,559 768.4,558.5 772.2,558 776.1,557.4 779.9,556.7 783.8,555.9 787.7,554.9 791.5,553.9 795.4,552.8 799.2,551.7 803.1,550.7 807,549.7 810.8,548.7 814.7,547.6 818.5,546.6 822.4,545.6 826.3,544.5 830.1,543.5 834,542.5 837.8,541.4 841.7,540.4 845.6,539.3 849.4,538.3 853.3,537.3 857.1,536.3 861,535.3 864.8,534.3 868.7,533.2 872.6,532.2 876.4,531.2 880.3,530.2 884.1,529.2 888,528.2 891.9,527.2 895.7,526.3 899.6,525.3 903.4,524.3 907.3,523.3 911.2,522.3 915,521.3 918.9,520.4 922.7,519.4 926.6,518.4 930.5,517.4 934.3,516.5 938.2,515.5 942,514.6 945.9,513.6"/>
<polyline fill="none" stroke="#ffa81e" stroke-width="2.7" stroke-linejoin="round" points="606.3,575.9 610.1,575.6 614,575.2 617.8,574.9 621.7,574.6 625.6,574.3 629.4,573.9 633.3,573.5 637.1,573.2 641,572.8 644.9,572.5 648.7,572.1 652.6,571.8 656.4,571.4 660.3,571.1 664.2,570.7 668,570.3 671.9,570 675.7,569.6 679.6,569.2 683.5,568.8 687.3,568.3 691.2,567.9 695,567.4 698.9,566.9 702.7,566.4 706.6,566 710.5,565.7 714.3,565.3 718.2,564.9 722,564.5 725.9,564.1 729.8,563.6 733.6,563.1 737.5,562.6 741.3,562 745.2,561.5 749.1,560.9 752.9,560.3 756.8,559.8 760.6,559.3 764.5,558.8 768.4,558.3 772.2,557.8 776.1,557.2 779.9,556.5 783.8,555.7 787.7,554.7 791.5,553.7 795.4,552.6 799.2,551.5 803.1,550.5 807,549.5 810.8,548.4 814.7,547.4 818.5,546.3 822.4,545.3 826.3,544.3 830.1,543.2 834,542.2 837.8,541.2 841.7,540.1 845.6,539.1 849.4,538 853.3,537 857.1,536 861,535 864.8,534 868.7,533 872.6,531.9 876.4,530.9 880.3,529.9 884.1,528.9 888,527.9 891.9,526.9 895.7,525.9 899.6,524.9 903.4,523.9 907.3,522.9 911.2,522 915,521 918.9,520 922.7,519 926.6,518 930.5,517.1 934.3,516.1 938.2,515.1 942,514.1 945.9,513.2"/>
<polyline fill="none" stroke="#ff9119" stroke-width="2.7" stroke-linejoin="round" points="606.3,575.9 610.1,575.6 614,575.3 617.8,574.9 621.7,574.6 625.6,574.2 629.4,573.9 633.3,573.5 637.1,573.2 641,572.8 644.9,572.4 648.7,572 652.6,571.7 656.4,571.3 660.3,571 664.2,570.6 668,570.2 671.9,569.9 675.7,569.5 679.6,569.1 683.5,568.6 687.3,568.2 691.2,567.7 695,567.2 698.9,566.7 702.7,566.3 706.6,565.9 710.5,565.5 714.3,565.1 718.2,564.7 722,564.3 725.9,563.9 729.8,563.4 733.6,562.9 737.5,562.3 741.3,561.8 745.2,561.2 749.1,560.6 752.9,560.1 756.8,559.5 760.6,559 764.5,558.5 768.4,558 772.2,557.5 776.1,556.9 779.9,556.2 783.8,555.4 787.7,554.4 791.5,553.4 795.4,552.3 799.2,551.2 803.1,550.2 807,549.2 810.8,548.1 814.7,547.1 818.5,546 822.4,545 826.3,544 830.1,542.9 834,541.9 837.8,540.8 841.7,539.8 845.6,538.7 849.4,537.7 853.3,536.7 857.1,535.6 861,534.6 864.8,533.6 868.7,532.6 872.6,531.6 876.4,530.6 880.3,529.5 884.1,528.5 888,527.5 891.9,526.5 895.7,525.5 899.6,524.5 903.4,523.5 907.3,522.5 911.2,521.5 915,520.5 918.9,519.5 922.7,518.5 926.6,517.5 930.5,516.6 934.3,515.6 938.2,514.6 942,513.6 945.9,512.6"/>
<polyline fill="none" stroke="#ff7a14" stroke-width="2.7" stroke-linejoin="round" points="606.3,576 610.1,575.6 614,575.3 617.8,575 621.7,574.6 625.6,574.2 629.4,573.9 633.3,573.5 637.1,573.1 641,572.7 644.9,572.4 648.7,572 652.6,571.6 656.4,571.2 660.3,570.9 664.2,570.5 668,570.1 671.9,569.7 675.7,569.3 679.6,568.9 683.5,568.5 687.3,568.1 691.2,567.6 695,567.1 698.9,566.6 702.7,566.1 706.6,565.7 710.5,565.3 714.3,564.9 718.2,564.5 722,564.1 725.9,563.6 729.8,563.2 733.6,562.6 737.5,562.1 741.3,561.5 745.2,560.9 749.1,560.4 752.9,559.8 756.8,559.3 760.6,558.8 764.5,558.3 768.4,557.8 772.2,557.2 776.1,556.6 779.9,556 783.8,555.1 787.7,554.2 791.5,553.1 795.4,552 799.2,550.9 803.1,549.9 807,548.9 810.8,547.8 814.7,546.8 818.5,545.7 822.4,544.7 826.3,543.6 830.1,542.6 834,541.5 837.8,540.5 841.7,539.4 845.6,538.4 849.4,537.4 853.3,536.3 857.1,535.3 861,534.3 864.8,533.2 868.7,532.2 872.6,531.2 876.4,530.2 880.3,529.1 884.1,528.1 888,527.1 891.9,526.1 895.7,525.1 899.6,524.1 903.4,523.1 907.3,522.1 911.2,521.1 915,520.1 918.9,519.1 922.7,518.1 926.6,517.1 930.5,516.1 934.3,515.1 938.2,514.1 942,513.1 945.9,512.1"/>
<polyline fill="none" stroke="#fc6013" stroke-width="2.7" stroke-linejoin="round" points="606.3,576 610.1,575.7 614,575.3 617.8,575 621.7,574.6 625.6,574.2 629.4,573.9 633.3,573.5 637.1,573.1 641,572.7 644.9,572.3 648.7,571.9 652.6,571.5 656.4,571.1 660.3,570.8 664.2,570.4 668,570 671.9,569.6 675.7,569.2 679.6,568.8 683.5,568.4 687.3,568 691.2,567.5 695,566.9 698.9,566.4 702.7,566 706.6,565.5 710.5,565.1 714.3,564.7 718.2,564.3 722,563.9 725.9,563.4 729.8,562.9 733.6,562.4 737.5,561.8 741.3,561.3 745.2,560.7 749.1,560.1 752.9,559.5 756.8,559 760.6,558.5 764.5,558 768.4,557.5 772.2,557 776.1,556.4 779.9,555.7 783.8,554.9 787.7,553.9 791.5,552.8 795.4,551.7 799.2,550.6 803.1,549.6 807,548.6 810.8,547.5 814.7,546.5 818.5,545.4 822.4,544.4 826.3,543.3 830.1,542.3 834,541.2 837.8,540.2 841.7,539.1 845.6,538.1 849.4,537 853.3,536 857.1,534.9 861,533.9 864.8,532.9 868.7,531.8 872.6,530.8 876.4,529.8 880.3,528.8 884.1,527.7 888,526.7 891.9,525.7 895.7,524.7 899.6,523.6 903.4,522.6 907.3,521.6 911.2,520.6 915,519.6 918.9,518.6 922.7,517.6 926.6,516.6 930.5,515.6 934.3,514.6 938.2,513.6 942,512.6 945.9,511.6"/>
<polyline fill="none" stroke="#fa4612" stroke-width="2.7" stroke-linejoin="round" points="606.3,576.1 610.1,575.7 614,575.3 617.8,575 621.7,574.6 625.6,574.2 629.4,573.8 633.3,573.4 637.1,573 641,572.6 644.9,572.2 648.7,571.8 652.6,571.4 656.4,571.1 660.3,570.7 664.2,570.3 668,569.9 671.9,569.5 675.7,569.1 679.6,568.7 683.5,568.3 687.3,567.8 691.2,567.3 695,566.8 698.9,566.3 702.7,565.8 706.6,565.4 710.5,565 714.3,564.5 718.2,564.1 722,563.7 725.9,563.2 729.8,562.7 733.6,562.2 737.5,561.6 741.3,561 745.2,560.4 749.1,559.8 752.9,559.3 756.8,558.7 760.6,558.2 764.5,557.7 768.4,557.2 772.2,556.7 776.1,556.1 779.9,555.4 783.8,554.6 787.7,553.6 791.5,552.5 795.4,551.4 799.2,550.4 803.1,549.3 807,548.3 810.8,547.2 814.7,546.2 818.5,545.1 822.4,544 826.3,543 830.1,541.9 834,540.9 837.8,539.8 841.7,538.8 845.6,537.7 849.4,536.7 853.3,535.6 857.1,534.6 861,533.5 864.8,532.5 868.7,531.5 872.6,530.4 876.4,529.4 880.3,528.4 884.1,527.3 888,526.3 891.9,525.3 895.7,524.2 899.6,523.2 903.4,522.2 907.3,521.2 911.2,520.1 915,519.1 918.9,518.1 922.7,517.1 926.6,516.1 930.5,515.1 934.3,514 938.2,513 942,512 945.9,511"/>
<polyline fill="none" stroke="#f62c12" stroke-width="2.7" stroke-linejoin="round" points="606.3,576.1 610.1,575.7 614,575.4 617.8,575 621.7,574.6 625.6,574.2 629.4,573.8 633.3,573.4 637.1,573 641,572.6 644.9,572.2 648.7,571.8 652.6,571.4 656.4,571 660.3,570.6 664.2,570.2 668,569.8 671.9,569.4 675.7,569 679.6,568.6 683.5,568.1 687.3,567.7 691.2,567.2 695,566.6 698.9,566.1 702.7,565.6 706.6,565.2 710.5,564.8 714.3,564.3 718.2,563.9 722,563.5 725.9,563 729.8,562.5 733.6,561.9 737.5,561.3 741.3,560.7 745.2,560.1 749.1,559.5 752.9,559 756.8,558.4 760.6,557.9 764.5,557.4 768.4,556.9 772.2,556.4 776.1,555.8 779.9,555.1 783.8,554.3 787.7,553.3 791.5,552.2 795.4,551.1 799.2,550 803.1,549 807,547.9 810.8,546.9 814.7,545.8 818.5,544.8 822.4,543.7 826.3,542.6 830.1,541.6 834,540.5 837.8,539.5 841.7,538.4 845.6,537.3 849.4,536.3 853.3,535.2 857.1,534.2 861,533.1 864.8,532.1 868.7,531 872.6,530 876.4,529 880.3,527.9 884.1,526.9 888,525.8 891.9,524.8 895.7,523.8 899.6,522.7 903.4,521.7 907.3,520.7 911.2,519.6 915,518.6 918.9,517.6 922.7,516.6 926.6,515.5 930.5,514.5 934.3,513.5 938.2,512.5 942,511.4 945.9,510.4"/>
<polyline fill="none" stroke="#f21212" stroke-width="2.7" stroke-linejoin="round" points="606.3,576.2 610.1,575.8 614,575.4 617.8,575 621.7,574.6 625.6,574.2 629.4,573.8 633.3,573.4 637.1,572.9 641,572.5 644.9,572.1 648.7,571.7 652.6,571.3 656.4,570.9 660.3,570.5 664.2,570.1 668,569.7 671.9,569.3 675.7,568.9 679.6,568.4 683.5,568 687.3,567.5 691.2,567 695,566.5 698.9,565.9 702.7,565.5 706.6,565 710.5,564.6 714.3,564.1 718.2,563.7 722,563.2 725.9,562.7 729.8,562.2 733.6,561.7 737.5,561.1 741.3,560.5 745.2,559.9 749.1,559.2 752.9,558.7 756.8,558.1 760.6,557.6 764.5,557.1 768.4,556.6 772.2,556.1 776.1,555.5 779.9,554.8 783.8,554 787.7,553 791.5,551.9 795.4,550.8 799.2,549.7 803.1,548.7 807,547.6 810.8,546.5 814.7,545.5 818.5,544.4 822.4,543.3 826.3,542.3 830.1,541.2 834,540.2 837.8,539.1 841.7,538 845.6,537 849.4,535.9 853.3,534.8 857.1,533.8 861,532.7 864.8,531.7 868.7,530.6 872.6,529.6 876.4,528.5 880.3,527.5 884.1,526.4 888,525.4 891.9,524.3 895.7,523.3 899.6,522.3 903.4,521.2 907.3,520.2 911.2,519.1 915,518.1 918.9,517.1 922.7,516 926.6,515 930.5,513.9 934.3,512.9 938.2,511.9 942,510.9 945.9,509.8"/>
<line x1="602.4" y1="597.4" x2="700" y2="430.8" stroke="#000" stroke-width="1.9"/>
<line x1="602.4" y1="597.4" x2="707.8" y2="445.2" stroke="#000" stroke-width="1.9"/>
<text x="605.7" y="410.7" font-size="24.5" text-anchor="start" fill="#000" font-family="'Liberation Serif',serif" font-weight="bold" >1/R<tspan font-size="16" dy="6.5">ON</tspan><tspan dy="-6.5"></tspan></text>
<line x1="650.3" y1="422.4" x2="690.6" y2="432.5" stroke="#000" stroke-width="1.5"/>
<polygon points="695.8,433.8 686.3,434.5 687.8,428.7" fill="#000"/>
<line x1="650.3" y1="422.4" x2="695.5" y2="451.3" stroke="#000" stroke-width="1.5"/>
<polygon points="700,454.2 690.8,451.9 694,446.8" fill="#000"/>
<line x1="639.6" y1="565.2" x2="747" y2="518.7" stroke="#ee1616" stroke-width="2.2"/>
<polygon points="753.1,516.1 744.5,524 741.5,517" fill="#ee1616"/>
<rect x="797.3" y="443.7" width="96" height="57.8" fill="#fff" stroke="none"/>
<polyline fill="none" stroke="#e020e6" stroke-width="1.7" stroke-linejoin="round" points="805.4,468.7 809.2,469.4 813,470 816.8,470.2 820.6,470.1 824.4,469.9 828.2,469.7 832,469.3 835.8,468.9 839.6,468.5 843.4,468.1 847.2,467.7 850.9,467.1 854.7,466.5 858.5,465.9 862.3,465.3 866.1,464.7 869.9,464.1 873.7,463.6 877.5,463.1 881.3,462.7 885.1,462.4 888.9,462 892.7,461.7"/>
<polyline fill="none" stroke="#a020e0" stroke-width="1.7" stroke-linejoin="round" points="805.4,478.3 809.2,478.6 813,478.8 816.8,478.6 820.6,478 824.4,477.3 828.2,476.4 832,475.6 835.8,474.6 839.6,473.7 843.4,472.7 847.2,471.6 850.9,470.5 854.7,469.4 858.5,468.2 862.3,467.1 866.1,466 869.9,464.9 873.7,464 877.5,463.1 881.3,462.3 885.1,461.5 888.9,460.8 892.7,460.1"/>
<polyline fill="none" stroke="#6420e6" stroke-width="1.7" stroke-linejoin="round" points="805.4,482.8 809.2,483 813,483 816.8,482.5 820.6,481.6 824.4,480.7 828.2,479.6 832,478.5 835.8,477.3 839.6,476.1 843.4,474.8 847.2,473.5 850.9,472.1 854.7,470.7 858.5,469.3 862.3,467.9 866.1,466.6 869.9,465.3 873.7,464.1 877.5,463.1 881.3,462.1 885.1,461.1 888.9,460.2 892.7,459.4"/>
<polyline fill="none" stroke="#2a1eea" stroke-width="1.7" stroke-linejoin="round" points="805.4,486.1 809.2,486.2 813,486.1 816.8,485.5 820.6,484.4 824.4,483.3 828.2,482 832,480.7 835.8,479.3 839.6,477.9 843.4,476.4 847.2,474.9 850.9,473.3 854.7,471.7 858.5,470.1 862.3,468.6 866.1,467.1 869.9,465.6 873.7,464.3 877.5,463 881.3,461.9 885.1,460.8 888.9,459.8 892.7,458.8"/>
<polyline fill="none" stroke="#1d27ed" stroke-width="1.7" stroke-linejoin="round" points="805.4,487 809.2,487.1 813,486.9 816.8,486.2 820.6,485.1 824.4,483.9 828.2,482.6 832,481.3 835.8,479.8 839.6,478.3 843.4,476.8 847.2,475.2 850.9,473.6 854.7,472 858.5,470.3 862.3,468.7 866.1,467.2 869.9,465.7 873.7,464.3 877.5,463 881.3,461.8 885.1,460.7 888.9,459.7 892.7,458.6"/>
<polyline fill="none" stroke="#1030f0" stroke-width="1.7" stroke-linejoin="round" points="805.4,487.8 809.2,487.9 813,487.7 816.8,487 820.6,485.8 824.4,484.6 828.2,483.2 832,481.8 835.8,480.3 839.6,478.8 843.4,477.2 847.2,475.6 850.9,473.9 854.7,472.2 858.5,470.5 862.3,468.9 866.1,467.3 869.9,465.8 873.7,464.3 877.5,463 881.3,461.8 885.1,460.7 888.9,459.6 892.7,458.5"/>
<polyline fill="none" stroke="#124af2" stroke-width="1.7" stroke-linejoin="round" points="805.4,488.5 809.2,488.5 813,488.3 816.8,487.6 820.6,486.4 824.4,485.1 828.2,483.7 832,482.3 835.8,480.7 839.6,479.2 843.4,477.5 847.2,475.8 850.9,474.1 854.7,472.4 858.5,470.7 862.3,469 866.1,467.4 869.9,465.8 873.7,464.4 877.5,463 881.3,461.8 885.1,460.6 888.9,459.5 892.7,458.4"/>
<polyline fill="none" stroke="#1464f5" stroke-width="1.7" stroke-linejoin="round" points="805.4,489.2 809.2,489.2 813,489 816.8,488.2 820.6,486.9 824.4,485.6 828.2,484.2 832,482.7 835.8,481.2 839.6,479.5 843.4,477.9 847.2,476.1 850.9,474.4 854.7,472.6 858.5,470.9 862.3,469.2 866.1,467.5 869.9,465.9 873.7,464.4 877.5,463 881.3,461.7 885.1,460.5 888.9,459.4 892.7,458.3"/>
<polyline fill="none" stroke="#197ff5" stroke-width="1.7" stroke-linejoin="round" points="805.4,489.8 809.2,489.8 813,489.5 816.8,488.7 820.6,487.4 824.4,486.1 828.2,484.6 832,483.1 835.8,481.5 839.6,479.8 843.4,478.1 847.2,476.4 850.9,474.6 854.7,472.8 858.5,471 862.3,469.3 866.1,467.6 869.9,465.9 873.7,464.4 877.5,463 881.3,461.7 885.1,460.5 888.9,459.3 892.7,458.2"/>
<polyline fill="none" stroke="#1e9af5" stroke-width="1.7" stroke-linejoin="round" points="805.4,490.3 809.2,490.3 813,490 816.8,489.2 820.6,487.8 824.4,486.5 828.2,485 832,483.5 835.8,481.8 839.6,480.1 843.4,478.4 847.2,476.6 850.9,474.8 854.7,473 858.5,471.1 862.3,469.4 866.1,467.6 869.9,466 873.7,464.4 877.5,463 881.3,461.7 885.1,460.4 888.9,459.2 892.7,458.1"/>
<polyline fill="none" stroke="#23b6f2" stroke-width="1.7" stroke-linejoin="round" points="805.4,490.8 809.2,490.7 813,490.4 816.8,489.6 820.6,488.2 824.4,486.8 828.2,485.3 832,483.8 835.8,482.1 839.6,480.4 843.4,478.6 847.2,476.8 850.9,474.9 854.7,473.1 858.5,471.2 862.3,469.4 866.1,467.7 869.9,466 873.7,464.5 877.5,463 881.3,461.7 885.1,460.4 888.9,459.2 892.7,458"/>
<polyline fill="none" stroke="#28d2f0" stroke-width="1.7" stroke-linejoin="round" points="805.4,491.2 809.2,491.1 813,490.8 816.8,489.9 820.6,488.5 824.4,487.1 828.2,485.6 832,484 835.8,482.3 839.6,480.6 843.4,478.8 847.2,476.9 850.9,475.1 854.7,473.2 858.5,471.3 862.3,469.5 866.1,467.8 869.9,466.1 873.7,464.5 877.5,463 881.3,461.6 885.1,460.4 888.9,459.1 892.7,457.9"/>
<polyline fill="none" stroke="#2ddce1" stroke-width="1.7" stroke-linejoin="round" points="805.4,491.6 809.2,491.5 813,491.2 816.8,490.3 820.6,488.9 824.4,487.5 828.2,485.9 832,484.3 835.8,482.6 839.6,480.8 843.4,479 847.2,477.1 850.9,475.2 854.7,473.3 858.5,471.4 862.3,469.6 866.1,467.8 869.9,466.1 873.7,464.5 877.5,463 881.3,461.6 885.1,460.3 888.9,459.1 892.7,457.9"/>
<polyline fill="none" stroke="#32e6d2" stroke-width="1.7" stroke-linejoin="round" points="805.4,492 809.2,491.9 813,491.6 816.8,490.7 820.6,489.2 824.4,487.8 828.2,486.2 832,484.6 835.8,482.8 839.6,481 843.4,479.2 847.2,477.3 850.9,475.4 854.7,473.5 858.5,471.5 862.3,469.7 866.1,467.9 869.9,466.1 873.7,464.5 877.5,463 881.3,461.6 885.1,460.3 888.9,459 892.7,457.8"/>
<polyline fill="none" stroke="#37ebbe" stroke-width="1.7" stroke-linejoin="round" points="805.4,492.4 809.2,492.3 813,492 816.8,491 820.6,489.6 824.4,488.1 828.2,486.5 832,484.9 835.8,483.1 839.6,481.3 843.4,479.4 847.2,477.5 850.9,475.5 854.7,473.6 858.5,471.6 862.3,469.8 866.1,467.9 869.9,466.2 873.7,464.5 877.5,463 881.3,461.6 885.1,460.2 888.9,459 892.7,457.7"/>
<polyline fill="none" stroke="#3cf0aa" stroke-width="1.7" stroke-linejoin="round" points="805.4,492.9 809.2,492.8 813,492.4 816.8,491.4 820.6,489.9 824.4,488.4 828.2,486.8 832,485.1 835.8,483.4 839.6,481.5 843.4,479.6 847.2,477.6 850.9,475.7 854.7,473.7 858.5,471.8 862.3,469.8 866.1,468 869.9,466.2 873.7,464.5 877.5,463 881.3,461.6 885.1,460.2 888.9,458.9 892.7,457.7"/>
<polyline fill="none" stroke="#50f091" stroke-width="1.7" stroke-linejoin="round" points="805.4,493.1 809.2,493 813,492.6 816.8,491.7 820.6,490.1 824.4,488.6 828.2,487 832,485.3 835.8,483.5 839.6,481.6 843.4,479.7 847.2,477.8 850.9,475.8 854.7,473.8 858.5,471.8 862.3,469.9 866.1,468 869.9,466.2 873.7,464.6 877.5,463 881.3,461.5 885.1,460.2 888.9,458.9 892.7,457.6"/>
<polyline fill="none" stroke="#64f078" stroke-width="1.7" stroke-linejoin="round" points="805.4,493.4 809.2,493.3 813,492.9 816.8,491.9 820.6,490.4 824.4,488.9 828.2,487.2 832,485.5 835.8,483.7 839.6,481.8 843.4,479.9 847.2,477.9 850.9,475.9 854.7,473.9 858.5,471.9 862.3,469.9 866.1,468.1 869.9,466.3 873.7,464.6 877.5,463 881.3,461.5 885.1,460.1 888.9,458.8 892.7,457.6"/>
<polyline fill="none" stroke="#82f064" stroke-width="1.7" stroke-linejoin="round" points="805.4,493.7 809.2,493.6 813,493.1 816.8,492.1 820.6,490.6 824.4,489.1 828.2,487.4 832,485.7 835.8,483.9 839.6,481.9 843.4,480 847.2,478 850.9,476 854.7,474 858.5,472 862.3,470 866.1,468.1 869.9,466.3 873.7,464.6 877.5,463 881.3,461.5 885.1,460.1 888.9,458.8 892.7,457.5"/>
<polyline fill="none" stroke="#a0f050" stroke-width="1.7" stroke-linejoin="round" points="805.4,494 809.2,493.8 813,493.4 816.8,492.4 820.6,490.8 824.4,489.3 828.2,487.6 832,485.9 835.8,484 839.6,482.1 843.4,480.1 847.2,478.1 850.9,476.1 854.7,474 858.5,472 862.3,470 866.1,468.1 869.9,466.3 873.7,464.6 877.5,463 881.3,461.5 885.1,460.1 888.9,458.8 892.7,457.5"/>
<polyline fill="none" stroke="#bcf046" stroke-width="1.7" stroke-linejoin="round" points="805.4,494.3 809.2,494.1 813,493.7 816.8,492.6 820.6,491.1 824.4,489.5 828.2,487.8 832,486.1 835.8,484.2 839.6,482.2 843.4,480.3 847.2,478.2 850.9,476.2 854.7,474.1 858.5,472.1 862.3,470.1 866.1,468.2 869.9,466.3 873.7,464.6 877.5,463 881.3,461.5 885.1,460.1 888.9,458.7 892.7,457.4"/>
<polyline fill="none" stroke="#d8f03c" stroke-width="1.7" stroke-linejoin="round" points="805.4,494.6 809.2,494.4 813,493.9 816.8,492.9 820.6,491.3 824.4,489.7 828.2,488 832,486.2 835.8,484.4 839.6,482.4 843.4,480.4 847.2,478.3 850.9,476.3 854.7,474.2 858.5,472.2 862.3,470.2 866.1,468.2 869.9,466.4 873.7,464.6 877.5,463 881.3,461.5 885.1,460 888.9,458.7 892.7,457.4"/>
<polyline fill="none" stroke="#e9f037" stroke-width="1.7" stroke-linejoin="round" points="805.4,494.8 809.2,494.7 813,494.2 816.8,493.1 820.6,491.5 824.4,489.9 828.2,488.2 832,486.4 835.8,484.5 839.6,482.6 843.4,480.5 847.2,478.5 850.9,476.4 854.7,474.3 858.5,472.2 862.3,470.2 866.1,468.3 869.9,466.4 873.7,464.6 877.5,463 881.3,461.5 885.1,460 888.9,458.7 892.7,457.3"/>
<polyline fill="none" stroke="#faf032" stroke-width="1.7" stroke-linejoin="round" points="805.4,495.1 809.2,494.9 813,494.4 816.8,493.4 820.6,491.8 824.4,490.2 828.2,488.4 832,486.6 835.8,484.7 839.6,482.7 843.4,480.7 847.2,478.6 850.9,476.5 854.7,474.4 858.5,472.3 862.3,470.3 866.1,468.3 869.9,466.4 873.7,464.6 877.5,463 881.3,461.4 885.1,460 888.9,458.6 892.7,457.3"/>
<polyline fill="none" stroke="#fce128" stroke-width="1.7" stroke-linejoin="round" points="805.4,495.3 809.2,495.1 813,494.6 816.8,493.6 820.6,491.9 824.4,490.3 828.2,488.6 832,486.8 835.8,484.8 839.6,482.8 843.4,480.8 847.2,478.7 850.9,476.5 854.7,474.4 858.5,472.3 862.3,470.3 866.1,468.3 869.9,466.4 873.7,464.6 877.5,463 881.3,461.4 885.1,460 888.9,458.6 892.7,457.2"/>
<polyline fill="none" stroke="#ffd21e" stroke-width="1.7" stroke-linejoin="round" points="805.4,495.5 809.2,495.3 813,494.8 816.8,493.7 820.6,492.1 824.4,490.5 828.2,488.7 832,486.9 835.8,484.9 839.6,482.9 843.4,480.9 847.2,478.7 850.9,476.6 854.7,474.5 858.5,472.4 862.3,470.3 866.1,468.4 869.9,466.4 873.7,464.7 877.5,463 881.3,461.4 885.1,460 888.9,458.6 892.7,457.2"/>
<polyline fill="none" stroke="#ffbd1e" stroke-width="1.7" stroke-linejoin="round" points="805.4,495.7 809.2,495.5 813,495 816.8,493.9 820.6,492.3 824.4,490.6 828.2,488.9 832,487 835.8,485.1 839.6,483 843.4,481 847.2,478.8 850.9,476.7 854.7,474.6 858.5,472.4 862.3,470.4 866.1,468.4 869.9,466.5 873.7,464.7 877.5,463 881.3,461.4 885.1,459.9 888.9,458.5 892.7,457.2"/>
<polyline fill="none" stroke="#ffa81e" stroke-width="1.7" stroke-linejoin="round" points="805.4,496 809.2,495.7 813,495.2 816.8,494.1 820.6,492.4 824.4,490.8 828.2,489 832,487.2 835.8,485.2 839.6,483.2 843.4,481.1 847.2,478.9 850.9,476.8 854.7,474.6 858.5,472.5 862.3,470.4 866.1,468.4 869.9,466.5 873.7,464.7 877.5,463 881.3,461.4 885.1,459.9 888.9,458.5 892.7,457.1"/>
<polyline fill="none" stroke="#ff9119" stroke-width="1.7" stroke-linejoin="round" points="805.4,496.1 809.2,495.9 813,495.4 816.8,494.2 820.6,492.6 824.4,490.9 828.2,489.1 832,487.3 835.8,485.3 839.6,483.2 843.4,481.1 847.2,479 850.9,476.8 854.7,474.7 858.5,472.5 862.3,470.4 866.1,468.4 869.9,466.5 873.7,464.7 877.5,463 881.3,461.4 885.1,459.9 888.9,458.5 892.7,457.1"/>
<polyline fill="none" stroke="#ff7a14" stroke-width="1.7" stroke-linejoin="round" points="805.4,496.2 809.2,496 813,495.5 816.8,494.4 820.6,492.7 824.4,491 828.2,489.2 832,487.3 835.8,485.4 839.6,483.3 843.4,481.2 847.2,479 850.9,476.9 854.7,474.7 858.5,472.6 862.3,470.5 866.1,468.4 869.9,466.5 873.7,464.7 877.5,463 881.3,461.4 885.1,459.9 888.9,458.5 892.7,457.1"/>
<polyline fill="none" stroke="#fc6013" stroke-width="1.7" stroke-linejoin="round" points="805.4,496.4 809.2,496.1 813,495.6 816.8,494.5 820.6,492.8 824.4,491.1 828.2,489.3 832,487.4 835.8,485.4 839.6,483.4 843.4,481.3 847.2,479.1 850.9,476.9 854.7,474.7 858.5,472.6 862.3,470.5 866.1,468.5 869.9,466.5 873.7,464.7 877.5,463 881.3,461.4 885.1,459.9 888.9,458.5 892.7,457.1"/>
<polyline fill="none" stroke="#fa4612" stroke-width="1.7" stroke-linejoin="round" points="805.4,496.5 809.2,496.3 813,495.7 816.8,494.6 820.6,492.9 824.4,491.2 828.2,489.4 832,487.5 835.8,485.5 839.6,483.5 843.4,481.3 847.2,479.2 850.9,477 854.7,474.8 858.5,472.6 862.3,470.5 866.1,468.5 869.9,466.5 873.7,464.7 877.5,463 881.3,461.4 885.1,459.9 888.9,458.4 892.7,457"/>
<polyline fill="none" stroke="#f62c12" stroke-width="1.7" stroke-linejoin="round" points="805.4,496.7 809.2,496.4 813,495.9 816.8,494.7 820.6,493 824.4,491.3 828.2,489.5 832,487.6 835.8,485.6 839.6,483.5 843.4,481.4 847.2,479.2 850.9,477 854.7,474.8 858.5,472.7 862.3,470.6 866.1,468.5 869.9,466.5 873.7,464.7 877.5,463 881.3,461.4 885.1,459.9 888.9,458.4 892.7,457"/>
<polyline fill="none" stroke="#f21212" stroke-width="1.7" stroke-linejoin="round" points="805.4,496.8 809.2,496.6 813,496 816.8,494.9 820.6,493.1 824.4,491.4 828.2,489.6 832,487.7 835.8,485.7 839.6,483.6 843.4,481.5 847.2,479.3 850.9,477.1 854.7,474.9 858.5,472.7 862.3,470.6 866.1,468.5 869.9,466.6 873.7,464.7 877.5,463 881.3,461.4 885.1,459.8 888.9,458.4 892.7,457"/>
<rect x="797.3" y="443.7" width="96" height="57.8" fill="none" stroke="#000" stroke-width="1.5"/>
<text x="795.3" y="457.1" font-size="13.8" text-anchor="end" fill="#000" font-family="'Liberation Serif',serif" font-weight="bold" >5.00</text>
<text x="795.3" y="482.6" font-size="13.8" text-anchor="end" fill="#000" font-family="'Liberation Serif',serif" font-weight="bold" >4.75</text>
<text x="795.3" y="506.6" font-size="13.8" text-anchor="end" fill="#000" font-family="'Liberation Serif',serif" font-weight="bold" >4.50</text>
<text x="798" y="514.6" font-size="13.8" text-anchor="middle" fill="#000" font-family="'Liberation Serif',serif" font-weight="bold" >0.00</text>
<line x1="798" y1="501.5" x2="798" y2="499" stroke="#000" stroke-width="1"/>
<text x="828.2" y="514.6" font-size="13.8" text-anchor="middle" fill="#000" font-family="'Liberation Serif',serif" font-weight="bold" >0.25</text>
<line x1="828.2" y1="501.5" x2="828.2" y2="499" stroke="#000" stroke-width="1"/>
<text x="857.4" y="514.6" font-size="13.8" text-anchor="middle" fill="#000" font-family="'Liberation Serif',serif" font-weight="bold" >0.50</text>
<line x1="857.4" y1="501.5" x2="857.4" y2="499" stroke="#000" stroke-width="1"/>
<text x="886.7" y="514.6" font-size="13.8" text-anchor="middle" fill="#000" font-family="'Liberation Serif',serif" font-weight="bold" >0.75</text>
<line x1="886.7" y1="501.5" x2="886.7" y2="499" stroke="#000" stroke-width="1"/>
<text x="843.3" y="526.8" font-size="14.5" text-anchor="middle" fill="#000" font-family="'Liberation Serif',serif" font-weight="bold" >V<tspan font-size="9.5" dy="3">DS</tspan><tspan dy="-3"> (V)</tspan></text>
<text transform="translate(767 476) rotate(-90)" font-size="14.5" text-anchor="middle" font-family="'Liberation Serif',serif" font-weight="bold">R<tspan font-size="9.5" dy="3">ON</tspan><tspan dy="-3"> (Ω/mm)</tspan></text>
<text x="955" y="590.6" font-size="25.2" text-anchor="end" fill="#000" font-family="'Liberation Serif',serif" font-weight="bold" >(d) V<tspan font-size="16" dy="7">GS</tspan><tspan dy="-7"> = 6 V</tspan></text>
<path d="M875.7 369.8 Q893.5 400 879.3 422.2" fill="none" stroke="#000" stroke-width="2.7" stroke-linecap="round"/>
<polygon points="875.2,428.7 876.5,416.5 885.8,422.4" fill="#000"/>
<path d="M930.2 539.7 Q930.5 516 925.8 512.9" fill="none" stroke="#1616d6" stroke-width="2.3" stroke-linecap="round"/>
<polygon points="918.8,508.3 931.6,510.7 926.1,519.1" fill="#1616d6"/>
<line x1="602.4" y1="607" x2="602.4" y2="602.1" stroke="#000" stroke-width="2.4"/>
<text x="602.4" y="633.2" font-size="24.8" text-anchor="middle" fill="#000" font-family="'Liberation Serif',serif" font-weight="bold" >0</text>
<line x1="630.9" y1="607" x2="630.9" y2="603.9" stroke="#000" stroke-width="2.4"/>
<line x1="659.5" y1="607" x2="659.5" y2="602.1" stroke="#000" stroke-width="2.4"/>
<text x="659.5" y="633.2" font-size="24.8" text-anchor="middle" fill="#000" font-family="'Liberation Serif',serif" font-weight="bold" >2</text>
<line x1="688" y1="607" x2="688" y2="603.9" stroke="#000" stroke-width="2.4"/>
<line x1="716.5" y1="607" x2="716.5" y2="602.1" stroke="#000" stroke-width="2.4"/>
<text x="716.5" y="633.2" font-size="24.8" text-anchor="middle" fill="#000" font-family="'Liberation Serif',serif" font-weight="bold" >4</text>
<line x1="745" y1="607" x2="745" y2="603.9" stroke="#000" stroke-width="2.4"/>
<line x1="773.6" y1="607" x2="773.6" y2="602.1" stroke="#000" stroke-width="2.4"/>
<text x="773.6" y="633.2" font-size="24.8" text-anchor="middle" fill="#000" font-family="'Liberation Serif',serif" font-weight="bold" >6</text>
<line x1="802.1" y1="607" x2="802.1" y2="603.9" stroke="#000" stroke-width="2.4"/>
<line x1="830.6" y1="607" x2="830.6" y2="602.1" stroke="#000" stroke-width="2.4"/>
<text x="830.6" y="633.2" font-size="24.8" text-anchor="middle" fill="#000" font-family="'Liberation Serif',serif" font-weight="bold" >8</text>
<line x1="859.2" y1="607" x2="859.2" y2="603.9" stroke="#000" stroke-width="2.4"/>
<line x1="887.7" y1="607" x2="887.7" y2="602.1" stroke="#000" stroke-width="2.4"/>
<text x="887.7" y="633.2" font-size="24.8" text-anchor="middle" fill="#000" font-family="'Liberation Serif',serif" font-weight="bold" >10</text>
<line x1="916.2" y1="607" x2="916.2" y2="603.9" stroke="#000" stroke-width="2.4"/>
<line x1="944.8" y1="607" x2="944.8" y2="602.1" stroke="#000" stroke-width="2.4"/>
<text x="944.8" y="633.2" font-size="24.8" text-anchor="middle" fill="#000" font-family="'Liberation Serif',serif" font-weight="bold" >12</text>
<line x1="588.6" y1="597.4" x2="593.7" y2="597.4" stroke="#000" stroke-width="2.4"/>
<text x="581.3" y="605.5" font-size="24.5" text-anchor="end" fill="#000" font-family="'Liberation Serif',serif" font-weight="bold" >0.0</text>
<line x1="588.6" y1="576.7" x2="591.7" y2="576.7" stroke="#000" stroke-width="2.4"/>
<line x1="588.6" y1="556.1" x2="593.7" y2="556.1" stroke="#000" stroke-width="2.4"/>
<text x="581.3" y="564.2" font-size="24.5" text-anchor="end" fill="#000" font-family="'Liberation Serif',serif" font-weight="bold" >0.2</text>
<line x1="588.6" y1="535.4" x2="591.7" y2="535.4" stroke="#000" stroke-width="2.4"/>
<line x1="588.6" y1="514.7" x2="593.7" y2="514.7" stroke="#000" stroke-width="2.4"/>
<text x="581.3" y="522.8" font-size="24.5" text-anchor="end" fill="#000" font-family="'Liberation Serif',serif" font-weight="bold" >0.4</text>
<line x1="588.6" y1="494" x2="591.7" y2="494" stroke="#000" stroke-width="2.4"/>
<line x1="588.6" y1="473.4" x2="593.7" y2="473.4" stroke="#000" stroke-width="2.4"/>
<text x="581.3" y="481.5" font-size="24.5" text-anchor="end" fill="#000" font-family="'Liberation Serif',serif" font-weight="bold" >0.6</text>
<line x1="588.6" y1="452.7" x2="591.7" y2="452.7" stroke="#000" stroke-width="2.4"/>
<line x1="588.6" y1="432" x2="593.7" y2="432" stroke="#000" stroke-width="2.4"/>
<text x="581.3" y="440.1" font-size="24.5" text-anchor="end" fill="#000" font-family="'Liberation Serif',serif" font-weight="bold" >0.8</text>
<line x1="588.6" y1="411.4" x2="591.7" y2="411.4" stroke="#000" stroke-width="2.4"/>
<line x1="588.6" y1="390.7" x2="593.7" y2="390.7" stroke="#000" stroke-width="2.4"/>
<text x="581.3" y="398.8" font-size="24.5" text-anchor="end" fill="#000" font-family="'Liberation Serif',serif" font-weight="bold" >1.0</text>
<line x1="588.6" y1="370" x2="591.7" y2="370" stroke="#000" stroke-width="2.4"/>
<line x1="588.6" y1="349.4" x2="593.7" y2="349.4" stroke="#000" stroke-width="2.4"/>
<text x="581.3" y="357.5" font-size="24.5" text-anchor="end" fill="#000" font-family="'Liberation Serif',serif" font-weight="bold" >1.2</text>
<line x1="959.3" y1="607.5" x2="954.2" y2="607.5" stroke="#1616d6" stroke-width="2.4"/>
<text x="964.6" y="615.6" font-size="24.5" text-anchor="start" fill="#1616d6" font-family="'Liberation Serif',serif" font-weight="bold" >0</text>
<line x1="959.3" y1="590.3" x2="956.2" y2="590.3" stroke="#1616d6" stroke-width="2.4"/>
<line x1="959.3" y1="573" x2="954.2" y2="573" stroke="#1616d6" stroke-width="2.4"/>
<text x="964.6" y="581.1" font-size="24.5" text-anchor="start" fill="#1616d6" font-family="'Liberation Serif',serif" font-weight="bold" >5</text>
<line x1="959.3" y1="555.8" x2="956.2" y2="555.8" stroke="#1616d6" stroke-width="2.4"/>
<line x1="959.3" y1="538.6" x2="954.2" y2="538.6" stroke="#1616d6" stroke-width="2.4"/>
<text x="964.6" y="546.7" font-size="24.5" text-anchor="start" fill="#1616d6" font-family="'Liberation Serif',serif" font-weight="bold" >10</text>
<line x1="959.3" y1="521.3" x2="956.2" y2="521.3" stroke="#1616d6" stroke-width="2.4"/>
<line x1="959.3" y1="504.1" x2="954.2" y2="504.1" stroke="#1616d6" stroke-width="2.4"/>
<text x="964.6" y="512.2" font-size="24.5" text-anchor="start" fill="#1616d6" font-family="'Liberation Serif',serif" font-weight="bold" >15</text>
<line x1="959.3" y1="486.9" x2="956.2" y2="486.9" stroke="#1616d6" stroke-width="2.4"/>
<line x1="959.3" y1="469.6" x2="954.2" y2="469.6" stroke="#1616d6" stroke-width="2.4"/>
<text x="964.6" y="477.7" font-size="24.5" text-anchor="start" fill="#1616d6" font-family="'Liberation Serif',serif" font-weight="bold" >20</text>
<line x1="959.3" y1="452.4" x2="956.2" y2="452.4" stroke="#1616d6" stroke-width="2.4"/>
<line x1="959.3" y1="435.1" x2="954.2" y2="435.1" stroke="#1616d6" stroke-width="2.4"/>
<text x="964.6" y="443.2" font-size="24.5" text-anchor="start" fill="#1616d6" font-family="'Liberation Serif',serif" font-weight="bold" >25</text>
<line x1="959.3" y1="417.9" x2="956.2" y2="417.9" stroke="#1616d6" stroke-width="2.4"/>
<line x1="959.3" y1="400.7" x2="954.2" y2="400.7" stroke="#1616d6" stroke-width="2.4"/>
<text x="964.6" y="408.8" font-size="24.5" text-anchor="start" fill="#1616d6" font-family="'Liberation Serif',serif" font-weight="bold" >30</text>
<line x1="959.3" y1="383.4" x2="956.2" y2="383.4" stroke="#1616d6" stroke-width="2.4"/>
<line x1="959.3" y1="366.2" x2="954.2" y2="366.2" stroke="#1616d6" stroke-width="2.4"/>
<text x="964.6" y="374.3" font-size="24.5" text-anchor="start" fill="#1616d6" font-family="'Liberation Serif',serif" font-weight="bold" >35</text>
<path d="M588.6 347.4 V607 H959.3" fill="none" stroke="#000" stroke-width="3" stroke-linejoin="miter"/>
<path d="M587.1 348.9 H959.3" fill="none" stroke="#000" stroke-width="3"/>
<path d="M959.3 347.4 V608.5" fill="none" stroke="#1616d6" stroke-width="3.2"/>
<text transform="translate(536.8 478.9) rotate(-90)" font-size="27.5" letter-spacing="0.3" text-anchor="middle" font-family="'Liberation Serif',serif" font-weight="bold">I<tspan font-size="18" dy="7.5">DS</tspan><tspan dy="-7.5"> (A/mm)</tspan></text>
<text transform="translate(1014.3 468.8) rotate(-90)" font-size="27" text-anchor="middle" fill="#1616d6" font-family="'Liberation Serif',serif" font-weight="bold">R<tspan font-size="18" dy="7.5">ON</tspan><tspan dy="-7.5"> (Ω·mm)</tspan></text>
<text x="773.6" y="657.3" font-size="27" text-anchor="middle" fill="#000" font-family="'Liberation Serif',serif" font-weight="bold" >V<tspan font-size="18" dy="7.5">DS</tspan><tspan dy="-7.5"> (V)</tspan></text>
</svg>
</body></html>
